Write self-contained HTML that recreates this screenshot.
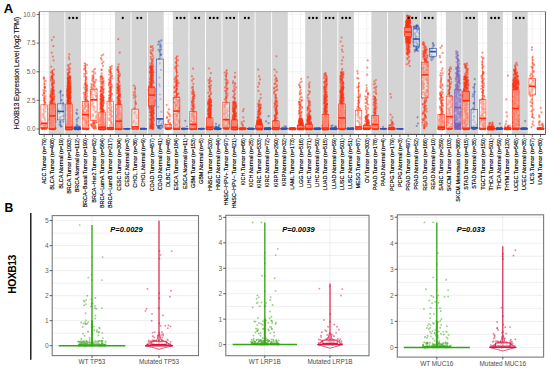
<!DOCTYPE html><html><head><meta charset="utf-8"><style>html,body{margin:0;padding:0;background:#fff}svg{display:block}</style></head><body>
<svg width="550" height="371" viewBox="0 0 550 371" font-family="Liberation Sans, sans-serif">
<rect width="550" height="371" fill="#fff"/>
<rect x="39.2" y="11.6" width="506.30" height="122.80" fill="#fff"/>
<path d="M39.2 114.69H545.5M39.2 86.06H545.5M39.2 57.44H545.5M39.2 28.81H545.5" stroke="#f4f4f4" stroke-width="0.6" fill="none"/>
<path d="M39.2 129.00H545.5M39.2 100.38H545.5M39.2 71.75H545.5M39.2 43.12H545.5M39.2 14.50H545.5M44.16 11.6V134.4M52.44 11.6V134.4M60.71 11.6V134.4M68.98 11.6V134.4M77.26 11.6V134.4M85.53 11.6V134.4M93.80 11.6V134.4M102.07 11.6V134.4M110.35 11.6V134.4M118.62 11.6V134.4M126.89 11.6V134.4M135.17 11.6V134.4M143.44 11.6V134.4M151.71 11.6V134.4M159.98 11.6V134.4M168.26 11.6V134.4M176.53 11.6V134.4M184.80 11.6V134.4M193.08 11.6V134.4M201.35 11.6V134.4M209.62 11.6V134.4M217.89 11.6V134.4M226.17 11.6V134.4M234.44 11.6V134.4M242.71 11.6V134.4M250.99 11.6V134.4M259.26 11.6V134.4M267.53 11.6V134.4M275.80 11.6V134.4M284.08 11.6V134.4M292.35 11.6V134.4M300.62 11.6V134.4M308.90 11.6V134.4M317.17 11.6V134.4M325.44 11.6V134.4M333.71 11.6V134.4M341.99 11.6V134.4M350.26 11.6V134.4M358.53 11.6V134.4M366.81 11.6V134.4M375.08 11.6V134.4M383.35 11.6V134.4M391.62 11.6V134.4M399.90 11.6V134.4M408.17 11.6V134.4M416.44 11.6V134.4M424.72 11.6V134.4M432.99 11.6V134.4M441.26 11.6V134.4M449.53 11.6V134.4M457.81 11.6V134.4M466.08 11.6V134.4M474.35 11.6V134.4M482.63 11.6V134.4M490.90 11.6V134.4M499.17 11.6V134.4M507.44 11.6V134.4M515.72 11.6V134.4M523.99 11.6V134.4M532.26 11.6V134.4M540.54 11.6V134.4" stroke="#eeeeee" stroke-width="0.7" fill="none"/>
<path d="M48.75 11.6H64.40V134.4H48.75ZM65.30 11.6H80.94V134.4H65.30ZM114.93 11.6H130.58V134.4H114.93ZM131.48 11.6H147.12V134.4H131.48ZM148.02 11.6H163.67V134.4H148.02ZM172.84 11.6H188.49V134.4H172.84ZM189.39 11.6H205.03V134.4H189.39ZM205.93 11.6H221.58V134.4H205.93ZM222.48 11.6H238.13V134.4H222.48ZM239.03 11.6H254.67V134.4H239.03ZM255.57 11.6H271.22V134.4H255.57ZM272.12 11.6H287.76V134.4H272.12ZM305.21 11.6H320.86V134.4H305.21ZM321.76 11.6H337.40V134.4H321.76ZM338.30 11.6H353.95V134.4H338.30ZM371.39 11.6H387.04V134.4H371.39ZM387.94 11.6H403.58V134.4H387.94ZM404.48 11.6H420.13V134.4H404.48ZM421.03 11.6H436.68V134.4H421.03ZM445.85 11.6H461.49V134.4H445.85ZM462.39 11.6H478.04V134.4H462.39ZM487.21 11.6H502.86V134.4H487.21ZM512.03 11.6H527.68V134.4H512.03Z" fill="#d4d4d4"/>
<path d="M44.6 128.5h0M44.6 83.9h0M43.3 125.3h0M45.4 98.6h0M41.9 121.1h0M43.6 128.5h0M43.7 123.2h0M45.7 125.0h0M45.7 80.9h0M42.4 128.6h0M46.3 128.3h0M43.7 115.1h0M43.4 109.3h0M43.7 113.4h0" stroke="#ff2c0c" stroke-opacity="0.5" stroke-width="2.2" stroke-linecap="round" fill="none"/>
<path d="M42.1 124.8h0M41.5 128.6h0M42.1 128.8h0M45.1 88.1h0M46.9 127.3h0M45.0 117.3h0M43.1 115.5h0M45.6 91.1h0M43.9 97.7h0M44.2 105.4h0M45.1 127.4h0M45.3 119.3h0M44.2 104.7h0" stroke="#ff2c0c" stroke-opacity="0.5" stroke-width="2.2" stroke-linecap="round" fill="none"/>
<path d="M43.7 127.3h0M44.4 111.5h0M45.9 124.0h0M44.5 129.1h0M44.4 101.0h0M43.4 90.3h0M42.0 127.9h0M45.6 108.8h0M44.0 128.3h0M43.4 128.1h0M42.7 128.3h0M44.0 107.4h0M45.6 127.8h0" stroke="#ff2c0c" stroke-opacity="0.5" stroke-width="2.2" stroke-linecap="round" fill="none"/>
<path d="M42.2 123.1h0M45.5 96.2h0M43.1 127.9h0M41.4 128.0h0M44.4 128.2h0M44.7 125.7h0M41.4 127.9h0M44.9 102.2h0M42.8 95.0h0M43.1 113.9h0M45.6 111.8h0M44.7 120.7h0M43.9 93.1h0" stroke="#ff2c0c" stroke-opacity="0.5" stroke-width="2.2" stroke-linecap="round" fill="none"/>
<path d="M43.8 77.4h0M46.5 124.8h0M43.2 117.2h0M46.3 126.5h0M42.3 129.0h0M43.3 126.5h0M46.7 124.1h0M43.6 110.3h0M46.6 128.7h0M45.8 122.8h0M44.7 87.3h0M44.3 127.1h0M44.2 118.6h0" stroke="#ff2c0c" stroke-opacity="0.5" stroke-width="2.2" stroke-linecap="round" fill="none"/>
<path d="M45.0 128.7h0M45.4 103.1h0M43.6 78.6h0M44.2 92.8h0M45.7 106.6h0M46.4 128.4h0M45.2 125.5h0M43.9 100.0h0M44.3 125.2h0M44.9 86.8h0M45.6 123.8h0M41.3 124.3h0M43.4 128.5h0" stroke="#ff2c0c" stroke-opacity="0.5" stroke-width="2.2" stroke-linecap="round" fill="none"/>
<path d="M44.16 104.87V77.33M44.16 127.77V128.96" stroke="#ff2c0c" stroke-width="0.6"/>
<rect x="40.86" y="104.87" width="6.6" height="22.90" fill="#fff" fill-opacity="0.38" stroke="#ff2c0c" stroke-width="0.6"/>
<path d="M40.86 123.36h6.6" stroke="#ff2c0c" stroke-width="1.6"/>
<path d="M55.0 127.1h0M50.5 128.9h0M50.6 96.5h0M51.7 129.1h0M51.0 128.5h0M51.8 106.0h0M53.9 128.4h0M52.3 85.7h0M52.5 103.5h0M49.8 128.4h0M50.5 117.4h0M53.5 129.1h0M52.9 129.1h0M51.2 100.5h0M50.8 97.3h0M49.7 128.8h0M54.8 128.5h0M51.8 52.6h0M52.3 128.8h0M51.2 128.5h0M52.3 99.3h0M50.9 80.8h0M53.8 128.4h0M52.5 112.3h0M49.7 128.3h0M50.5 111.0h0M51.0 118.8h0M52.0 76.3h0M52.7 108.5h0M49.8 118.2h0M51.9 110.5h0M50.8 128.9h0M51.9 129.1h0M53.5 110.0h0M55.2 128.5h0M53.6 119.3h0M51.1 125.2h0M50.7 114.3h0M51.5 128.7h0M51.0 122.2h0M53.4 128.7h0M53.8 82.4h0M49.6 128.7h0M52.5 111.2h0M54.8 119.2h0M53.4 125.2h0M53.2 124.0h0M50.4 110.8h0M50.3 128.9h0M50.5 128.9h0M50.2 112.2h0M54.1 128.0h0M52.9 123.4h0M54.6 108.0h0M50.4 128.5h0M52.2 90.1h0M51.4 118.2h0M53.3 46.2h0M50.4 128.5h0M50.8 113.2h0M52.2 128.7h0M53.1 129.0h0M50.2 117.7h0M53.1 99.9h0M52.6 77.5h0M49.7 123.2h0M53.3 108.9h0M51.7 84.6h0" stroke="#ff2c0c" stroke-opacity="0.5" stroke-width="2.2" stroke-linecap="round" fill="none"/>
<path d="M54.3 128.3h0M53.3 108.3h0M52.8 110.3h0M54.6 115.4h0M52.6 121.0h0M53.9 124.0h0M51.3 129.0h0M51.1 129.0h0M50.3 128.4h0M50.4 128.8h0M54.0 98.5h0M54.5 129.1h0M50.5 128.7h0M52.2 92.7h0M51.2 112.6h0M50.7 108.2h0M50.1 128.4h0M54.1 99.6h0M51.3 124.8h0M50.0 122.4h0M53.1 97.4h0M51.7 124.7h0M49.8 120.4h0M51.5 117.0h0M53.0 104.4h0M52.7 72.9h0M51.5 128.7h0M50.7 122.3h0M51.2 121.7h0M50.2 129.0h0M53.0 106.6h0M51.8 108.6h0M53.9 128.8h0M50.2 123.8h0M54.1 128.6h0M51.9 123.2h0M53.9 105.2h0M51.0 104.2h0M52.0 98.2h0M53.1 122.6h0M50.9 124.8h0M54.9 111.1h0M54.2 129.0h0M53.6 94.2h0M54.0 106.4h0M54.0 107.0h0M51.7 98.8h0M51.4 128.8h0M51.3 128.6h0M49.8 120.9h0M49.8 119.4h0M52.7 93.6h0M53.9 124.9h0M51.5 119.8h0M52.5 115.7h0M51.9 127.8h0M50.7 121.8h0M55.0 128.2h0M51.6 128.7h0M50.3 126.2h0M52.7 91.4h0M54.3 110.9h0M52.9 128.6h0M52.9 111.8h0M53.6 87.0h0M50.2 118.4h0M53.6 123.9h0M54.5 113.0h0" stroke="#ff2c0c" stroke-opacity="0.5" stroke-width="2.2" stroke-linecap="round" fill="none"/>
<path d="M52.5 97.9h0M53.9 128.7h0M50.9 118.2h0M51.7 126.8h0M50.8 95.1h0M51.7 126.6h0M52.1 109.1h0M53.0 128.8h0M50.1 128.5h0M51.5 121.0h0M53.0 121.8h0M49.9 108.4h0M50.2 102.1h0M51.1 79.4h0M49.7 119.1h0M54.9 128.7h0M52.7 128.8h0M54.2 115.9h0M50.6 124.2h0M51.1 116.3h0M52.5 113.6h0M50.1 115.2h0M52.5 104.2h0M54.3 107.4h0M50.5 128.7h0M49.8 115.5h0M53.1 87.9h0M51.1 93.7h0M55.2 128.7h0M53.6 94.0h0M55.0 128.3h0M53.3 105.4h0M51.3 95.6h0M52.8 94.6h0M51.9 114.0h0M52.4 107.4h0M51.3 106.9h0M54.0 114.8h0M53.2 91.2h0M55.0 121.4h0M53.1 105.5h0M51.8 126.4h0M50.3 129.0h0M51.2 105.8h0M52.0 71.0h0M50.8 110.0h0M51.4 120.6h0M53.7 110.3h0M50.8 101.9h0M54.6 118.8h0M50.8 119.8h0M51.7 94.3h0M55.3 121.1h0M55.2 122.4h0M51.6 123.0h0M52.8 128.7h0M52.8 129.1h0M50.4 118.0h0M54.8 112.3h0M51.1 96.0h0M49.9 128.3h0M51.0 122.9h0M49.8 117.6h0M52.7 129.1h0M51.0 77.9h0M51.4 101.9h0M53.3 89.4h0M53.9 128.9h0" stroke="#ff2c0c" stroke-opacity="0.5" stroke-width="2.2" stroke-linecap="round" fill="none"/>
<path d="M50.3 105.7h0M52.2 90.2h0M54.9 128.8h0M53.6 128.8h0M54.9 115.8h0M54.4 105.2h0M53.9 126.8h0M51.1 127.6h0M54.4 113.6h0M51.9 126.5h0M51.8 40.1h0M50.1 128.7h0M52.5 113.1h0M52.8 79.6h0M51.6 90.9h0M52.5 87.6h0M54.2 109.9h0M50.1 109.1h0M54.6 112.8h0M52.8 125.4h0M49.6 120.4h0M52.1 82.9h0M53.2 123.7h0M54.4 114.4h0M54.1 114.8h0M52.7 129.1h0M50.0 119.6h0M54.2 95.9h0M51.2 66.7h0M54.2 125.6h0M54.9 128.2h0M53.9 128.9h0M55.0 114.4h0M54.6 106.7h0M51.4 89.0h0M52.3 126.5h0M49.7 113.4h0M55.0 118.8h0M51.9 128.5h0M49.9 129.0h0M50.9 105.0h0M52.5 108.6h0M50.5 128.9h0M51.9 83.7h0M51.9 73.2h0M53.0 123.0h0M54.8 128.4h0M51.5 103.5h0M50.3 128.3h0M50.3 128.5h0M53.1 116.1h0M51.5 117.1h0M52.0 100.2h0M50.5 96.1h0M50.0 112.0h0M53.8 128.7h0M50.9 72.4h0M54.9 107.8h0M52.3 109.5h0M51.0 114.2h0M53.6 120.8h0M51.5 128.4h0M53.6 113.1h0M54.3 104.5h0M50.8 102.4h0M51.0 128.9h0M49.8 109.8h0M54.8 105.3h0" stroke="#ff2c0c" stroke-opacity="0.5" stroke-width="2.2" stroke-linecap="round" fill="none"/>
<path d="M53.8 102.6h0M53.9 69.7h0M54.1 116.7h0M51.3 107.5h0M52.3 107.4h0M50.4 122.5h0M52.1 129.0h0M52.6 93.3h0M53.2 118.4h0M53.2 115.4h0M51.5 100.0h0M50.1 109.3h0M53.7 128.5h0M51.9 128.8h0M50.0 120.0h0M54.4 96.8h0M51.0 94.3h0M55.0 109.7h0M50.2 116.7h0M51.2 128.4h0M54.1 90.4h0M50.4 105.3h0M54.6 128.8h0M53.8 83.8h0M52.2 128.9h0M52.1 128.8h0M53.5 128.1h0M53.2 90.5h0M50.3 128.6h0M50.9 125.0h0M52.8 128.7h0M52.1 111.4h0M55.3 121.5h0M54.6 117.4h0M50.7 129.0h0M52.6 128.5h0M50.2 106.3h0M51.1 91.6h0M52.6 106.3h0M52.7 120.2h0M50.0 111.5h0M51.4 77.0h0M55.3 127.9h0M50.2 128.8h0M54.2 104.6h0M51.4 124.2h0M54.0 97.6h0M52.7 116.3h0M51.6 106.9h0M52.1 119.2h0M52.9 56.6h0M52.3 94.8h0M55.3 128.3h0M52.6 109.1h0M54.4 102.4h0M50.9 109.9h0M53.8 74.5h0M52.0 92.0h0M51.1 101.5h0M55.0 127.4h0M54.9 111.4h0M54.7 105.1h0M52.5 128.9h0M54.7 128.0h0M53.7 37.1h0M51.4 112.6h0M52.2 114.5h0M51.4 99.4h0" stroke="#ff2c0c" stroke-opacity="0.5" stroke-width="2.2" stroke-linecap="round" fill="none"/>
<path d="M52.1 101.3h0M55.1 111.7h0M54.2 128.8h0M54.7 128.6h0M52.5 92.4h0M53.3 98.8h0M50.7 129.0h0M53.0 128.7h0M51.4 113.5h0M54.0 80.3h0M49.8 128.6h0M52.4 129.2h0M50.8 119.0h0M51.1 108.9h0M54.3 128.7h0M51.0 97.3h0M51.7 105.8h0M52.0 125.9h0M50.7 102.8h0M52.8 128.6h0M53.9 125.6h0M50.3 116.5h0M54.7 104.7h0M54.3 129.2h0M49.9 126.1h0M53.6 60.4h0M53.1 110.2h0M51.4 108.3h0M53.1 128.6h0M53.9 81.9h0M52.9 116.1h0M52.1 113.3h0M53.4 116.7h0M53.4 91.2h0M51.8 75.9h0M53.6 122.4h0M51.3 123.8h0M53.8 92.3h0M52.4 128.7h0M52.1 126.3h0M53.2 117.7h0M50.7 103.3h0M52.9 88.3h0M52.1 100.5h0M52.2 127.6h0M51.0 104.4h0M51.7 96.8h0M53.0 120.9h0M53.1 83.0h0M52.8 75.3h0M53.5 75.1h0M54.9 128.4h0M52.9 92.8h0M49.9 114.4h0M50.4 114.9h0M51.6 128.5h0M55.0 127.1h0M52.5 111.6h0M52.3 128.8h0M53.6 106.7h0M53.5 115.1h0M53.8 128.3h0M52.2 128.8h0M53.3 128.7h0M52.3 85.6h0M52.4 78.5h0M51.0 128.8h0M52.8 101.2h0" stroke="#ff2c0c" stroke-opacity="0.5" stroke-width="2.2" stroke-linecap="round" fill="none"/>
<path d="M52.44 104.08V69.60M52.44 128.37V129.00" stroke="#ff2c0c" stroke-width="0.6"/>
<rect x="49.14" y="104.08" width="6.6" height="24.28" fill="#fff" fill-opacity="0.38" stroke="#ff2c0c" stroke-width="0.6"/>
<path d="M49.14 115.94h6.6" stroke="#ff2c0c" stroke-width="1.6"/>
<path d="M60.8 90.8h0M62.5 106.2h0M63.3 115.8h0M58.5 109.6h0" stroke="#2c52b0" stroke-opacity="0.5" stroke-width="2.2" stroke-linecap="round" fill="none"/>
<path d="M63.4 121.7h0M59.5 113.1h0M62.5 111.6h0" stroke="#2c52b0" stroke-opacity="0.5" stroke-width="2.2" stroke-linecap="round" fill="none"/>
<path d="M60.7 126.3h0M61.7 100.2h0M59.5 124.7h0" stroke="#2c52b0" stroke-opacity="0.5" stroke-width="2.2" stroke-linecap="round" fill="none"/>
<path d="M62.1 108.4h0M62.6 104.8h0M61.7 126.5h0" stroke="#2c52b0" stroke-opacity="0.5" stroke-width="2.2" stroke-linecap="round" fill="none"/>
<path d="M59.8 122.2h0M59.8 92.4h0M63.2 103.1h0" stroke="#2c52b0" stroke-opacity="0.5" stroke-width="2.2" stroke-linecap="round" fill="none"/>
<path d="M59.8 117.9h0M61.2 116.8h0M62.8 95.3h0" stroke="#2c52b0" stroke-opacity="0.5" stroke-width="2.2" stroke-linecap="round" fill="none"/>
<path d="M60.71 103.85V90.82M60.71 119.88V126.62" stroke="#2c52b0" stroke-width="0.6"/>
<rect x="57.41" y="103.85" width="6.6" height="16.04" fill="#fff" fill-opacity="0.38" stroke="#2c52b0" stroke-width="0.6"/>
<path d="M57.41 111.38h6.6" stroke="#2c52b0" stroke-width="1.6"/>
<path d="M70.2 128.8h0M69.7 128.7h0M66.7 128.9h0M70.4 111.8h0M68.5 124.2h0M71.6 129.1h0M66.7 129.1h0M68.4 119.2h0M69.7 129.0h0M70.5 128.9h0M68.4 122.5h0M70.4 109.4h0M68.5 90.5h0M66.2 129.0h0M68.2 115.2h0M68.4 80.4h0M70.7 127.6h0M68.9 100.4h0M67.1 129.0h0M70.1 128.9h0M71.2 128.7h0M69.2 82.7h0M68.6 128.8h0M69.5 124.5h0M67.6 102.6h0M70.9 128.8h0M67.6 92.0h0M68.4 92.5h0M69.9 105.5h0M68.7 119.0h0M69.2 127.7h0M69.5 117.5h0M68.3 127.8h0M70.3 87.2h0M70.2 89.4h0M70.8 127.7h0M67.3 129.1h0M68.6 128.3h0M70.9 127.5h0M71.7 128.7h0M68.2 83.0h0M69.0 128.8h0M67.0 126.5h0M70.4 103.7h0M69.7 95.2h0M67.8 74.5h0M68.1 78.0h0M67.9 97.4h0M67.7 106.6h0M67.7 122.2h0M68.6 128.0h0M67.6 128.9h0M70.3 87.5h0M67.5 120.4h0M71.7 128.7h0M69.6 127.9h0M68.9 92.6h0M70.2 128.8h0M69.5 93.7h0M66.5 127.5h0M68.7 107.6h0M67.6 128.8h0M69.3 128.6h0M71.2 129.0h0M66.1 128.6h0M67.6 97.1h0M66.9 127.4h0M67.9 129.0h0M68.0 89.6h0M71.1 128.9h0M67.6 107.9h0M69.7 127.5h0M70.4 129.0h0M70.2 129.2h0M66.1 127.7h0M69.5 89.0h0M68.2 128.0h0M69.6 106.6h0M69.7 88.0h0M71.2 128.8h0M71.8 127.9h0M69.6 103.0h0M68.7 104.5h0M69.4 96.9h0M68.6 78.8h0M71.0 128.5h0M69.8 116.0h0M69.4 88.6h0M69.1 95.7h0M71.4 128.4h0M71.2 128.6h0M70.4 127.9h0M70.3 114.1h0M67.3 128.7h0M67.1 128.4h0M70.3 128.7h0M67.3 127.4h0M67.7 128.9h0M68.8 104.7h0M70.4 113.4h0M66.7 127.9h0M67.9 128.7h0M67.6 93.6h0M67.9 100.4h0M70.4 109.7h0M68.4 128.7h0M67.4 91.6h0M69.1 110.6h0M70.4 128.8h0M67.5 128.7h0M68.7 111.9h0M69.8 86.9h0M67.8 127.7h0M66.2 127.9h0M67.8 91.5h0M69.6 128.5h0M66.7 126.9h0M68.9 127.5h0M69.2 127.4h0M68.3 128.8h0M68.5 90.2h0M68.0 128.8h0M69.8 128.7h0M70.2 89.6h0M71.6 127.9h0M67.1 128.3h0M69.4 113.4h0M66.8 127.5h0M69.4 115.2h0M70.0 110.3h0M70.0 112.2h0M68.2 129.1h0M68.2 93.7h0M68.2 90.4h0M67.8 128.9h0M69.3 104.9h0M69.2 106.1h0M68.0 102.4h0M68.5 128.6h0M71.2 129.1h0M67.2 128.8h0M70.8 128.2h0M69.5 82.5h0M68.5 128.3h0M70.7 127.8h0M69.0 129.1h0M69.2 93.1h0M70.5 117.3h0M66.1 129.0h0M67.5 91.5h0M68.4 129.0h0M67.7 102.0h0M68.2 128.7h0M66.5 128.8h0M67.2 124.9h0M70.2 128.7h0M68.0 106.0h0M67.2 129.2h0M69.5 111.6h0M70.8 128.8h0M70.3 128.0h0M68.5 101.3h0M68.3 87.6h0M66.7 128.6h0M69.9 128.7h0M67.7 128.6h0M71.6 126.0h0M70.1 122.2h0M69.5 120.8h0M70.6 121.4h0M67.5 94.9h0M69.8 77.8h0M68.5 98.7h0M70.0 111.6h0M68.6 116.8h0M69.0 109.9h0M69.1 81.1h0M69.5 128.6h0M69.3 120.2h0M69.4 93.1h0M70.9 128.7h0M67.5 126.3h0M70.8 128.8h0" stroke="#ff2c0c" stroke-opacity="0.5" stroke-width="2.2" stroke-linecap="round" fill="none"/>
<path d="M71.4 128.9h0M70.8 127.6h0M70.7 128.5h0M69.7 128.7h0M68.9 128.9h0M68.5 101.3h0M71.7 128.8h0M68.8 96.0h0M69.1 86.1h0M71.9 128.8h0M67.7 100.4h0M69.0 127.6h0M70.3 129.0h0M68.9 65.0h0M66.6 128.5h0M67.8 128.7h0M67.9 79.1h0M67.6 119.4h0M70.7 128.1h0M66.3 128.9h0M68.9 129.1h0M69.2 92.5h0M68.3 129.1h0M70.1 127.8h0M70.8 128.9h0M67.7 120.5h0M69.3 94.6h0M70.5 116.3h0M67.1 126.1h0M69.2 127.4h0M66.6 125.0h0M66.4 129.1h0M66.8 128.8h0M70.7 122.0h0M67.6 96.5h0M71.1 128.6h0M70.0 77.2h0M68.8 128.7h0M68.0 84.1h0M68.7 102.1h0M69.8 129.1h0M67.5 128.3h0M69.9 124.4h0M71.3 129.0h0M68.1 127.0h0M68.4 73.1h0M70.1 127.7h0M67.8 128.3h0M68.3 127.9h0M70.2 118.3h0M69.6 89.0h0M68.5 113.3h0M68.3 117.0h0M70.7 128.8h0M69.5 99.6h0M68.6 122.7h0M67.2 128.5h0M67.6 92.2h0M70.3 127.8h0M67.7 107.8h0M67.4 128.7h0M68.5 96.4h0M67.4 128.7h0M69.8 128.6h0M68.2 103.1h0M67.6 109.1h0M70.1 128.8h0M70.7 127.9h0M68.8 120.1h0M69.7 129.0h0M69.1 113.4h0M67.4 129.0h0M68.9 128.9h0M66.6 128.0h0M66.3 128.6h0M70.4 85.3h0M66.9 126.3h0M71.4 129.2h0M69.3 89.6h0M67.6 115.0h0M71.5 127.5h0M68.9 92.8h0M69.5 127.6h0M68.1 104.2h0M68.5 81.3h0M70.5 128.9h0M66.5 129.2h0M69.4 118.3h0M69.2 85.2h0M66.7 124.4h0M67.4 91.0h0M67.9 94.5h0M69.0 99.7h0M68.6 118.7h0M68.3 110.2h0M68.8 128.7h0M67.4 121.5h0M67.8 124.4h0M70.2 91.3h0M70.1 128.1h0M67.5 128.8h0M66.1 128.7h0M69.2 128.2h0M71.5 127.4h0M69.5 109.1h0M68.4 127.8h0M69.2 91.4h0M69.2 128.7h0M71.6 127.5h0M67.7 128.9h0M68.5 88.2h0M70.0 128.1h0M71.2 128.6h0M71.1 128.1h0M66.6 128.1h0M68.0 123.7h0M70.7 128.2h0M68.4 114.5h0M69.5 98.7h0M68.2 78.4h0M66.6 124.7h0M67.3 129.0h0M71.4 125.4h0M67.4 128.7h0M69.0 95.5h0M67.9 82.7h0M70.2 82.9h0M68.3 86.9h0M68.4 128.4h0M70.2 127.4h0M68.0 88.4h0M66.6 128.4h0M71.4 126.1h0M69.9 128.0h0M67.8 108.9h0M69.0 89.1h0M69.8 128.5h0M68.7 122.4h0M70.2 100.8h0M68.9 102.0h0M69.2 128.9h0M69.9 129.3h0M69.5 96.8h0M66.8 128.7h0M69.1 127.6h0M69.4 129.0h0M69.9 116.9h0M68.0 108.8h0M67.3 129.0h0M70.7 128.6h0M66.6 128.0h0M71.2 128.9h0M69.1 127.9h0M69.2 128.8h0M70.6 105.4h0M68.9 128.8h0M70.2 92.3h0M70.2 111.5h0M69.1 128.8h0M67.6 129.2h0M70.4 121.5h0M68.0 96.0h0M71.7 126.7h0M69.6 129.2h0M71.3 127.6h0M69.3 127.7h0M69.7 120.8h0M66.6 129.0h0M71.3 128.7h0M66.4 127.7h0M68.0 95.6h0M70.5 127.6h0M68.1 127.4h0M67.4 108.0h0M68.0 115.8h0M71.8 127.7h0M67.6 127.4h0M67.7 86.3h0M70.6 120.9h0M70.0 99.2h0M67.6 110.1h0M68.3 121.8h0" stroke="#ff2c0c" stroke-opacity="0.5" stroke-width="2.2" stroke-linecap="round" fill="none"/>
<path d="M68.8 100.1h0M69.5 119.4h0M67.3 128.8h0M68.8 128.3h0M68.9 57.4h0M67.9 128.5h0M71.8 127.5h0M71.1 128.8h0M66.9 127.3h0M68.8 128.9h0M70.5 127.5h0M66.1 128.8h0M67.4 90.8h0M70.5 117.8h0M66.9 128.8h0M68.6 128.8h0M68.5 129.0h0M70.1 116.4h0M66.1 128.5h0M68.5 127.0h0M67.8 72.9h0M69.6 107.1h0M70.7 121.4h0M68.9 99.4h0M68.5 128.6h0M71.2 128.0h0M68.5 128.7h0M69.5 98.3h0M70.8 129.0h0M67.4 128.7h0M66.3 127.5h0M67.9 120.4h0M71.7 128.7h0M67.7 107.0h0M70.0 92.9h0M66.9 128.0h0M70.7 128.9h0M69.1 97.9h0M67.5 108.2h0M68.5 110.2h0M69.2 116.2h0M69.3 129.1h0M67.4 128.9h0M69.7 80.0h0M69.5 128.7h0M67.1 127.7h0M69.4 109.5h0M69.2 84.3h0M68.9 99.1h0M66.3 129.1h0M68.1 128.7h0M71.8 127.7h0M69.0 104.2h0M67.5 128.8h0M69.4 129.2h0M70.1 105.7h0M67.7 100.7h0M71.2 128.8h0M67.7 111.9h0M68.9 128.4h0M71.9 128.6h0M67.5 127.6h0M66.9 127.5h0M68.8 128.3h0M68.6 88.5h0M66.7 127.9h0M69.3 127.4h0M68.9 100.7h0M69.4 113.0h0M68.9 108.6h0M70.2 127.4h0M71.6 128.7h0M71.4 127.8h0M68.1 97.9h0M71.8 128.8h0M67.3 128.4h0M71.4 128.0h0M71.4 127.6h0M70.0 128.8h0M66.3 128.7h0M70.0 115.3h0M68.4 128.3h0M68.5 98.6h0M67.3 127.6h0M68.6 128.4h0M68.5 128.2h0M68.1 127.7h0M70.0 86.2h0M67.8 114.2h0M70.0 129.0h0M69.7 128.8h0M67.2 128.6h0M69.2 127.8h0M68.1 85.8h0M69.7 98.0h0M66.2 127.5h0M66.4 128.6h0M70.0 127.9h0M68.9 123.2h0M68.3 127.5h0M69.4 128.0h0M70.5 127.4h0M70.2 127.5h0M67.5 102.7h0M68.1 78.7h0M71.2 128.8h0M67.9 125.2h0M68.5 128.6h0M70.3 84.7h0M70.2 101.8h0M69.9 91.8h0M69.3 54.4h0M67.0 128.5h0M68.7 114.8h0M67.3 128.1h0M70.2 116.5h0M68.4 94.2h0M66.3 128.7h0M70.0 117.2h0M67.2 123.2h0M69.3 128.5h0M69.1 123.7h0M69.1 128.1h0M68.8 108.3h0M70.4 103.2h0M70.9 128.6h0M67.8 128.7h0M70.3 107.5h0M70.4 88.8h0M67.5 127.3h0M69.3 59.3h0M70.7 128.7h0M69.8 110.8h0M68.3 117.1h0M68.6 97.9h0M68.9 129.0h0M69.5 128.9h0M67.6 128.9h0M71.6 128.0h0M69.5 127.6h0M71.7 127.9h0M71.4 128.2h0M70.4 128.0h0M68.8 128.1h0M70.1 118.8h0M67.7 88.2h0M68.5 113.1h0M68.4 127.7h0M68.7 129.1h0M71.0 127.7h0M68.3 106.2h0M69.8 106.6h0M66.2 129.1h0M71.3 128.8h0M68.4 107.0h0M71.6 128.1h0M69.1 97.0h0M67.3 128.9h0M69.6 115.5h0M66.1 127.5h0M67.1 128.3h0M68.0 128.4h0M69.5 111.9h0M69.6 94.4h0M68.2 128.2h0M68.4 108.3h0M68.8 113.2h0M67.6 128.5h0M67.0 129.1h0M71.7 128.0h0M70.3 122.2h0M71.2 127.7h0M70.0 128.8h0M69.3 128.7h0M68.4 128.6h0M67.7 127.6h0M67.7 94.7h0M68.9 127.5h0M69.7 120.8h0M69.1 97.3h0M67.7 110.8h0M69.5 128.9h0" stroke="#ff2c0c" stroke-opacity="0.5" stroke-width="2.2" stroke-linecap="round" fill="none"/>
<path d="M68.0 81.6h0M70.4 128.2h0M68.5 90.8h0M69.6 128.6h0M70.0 95.8h0M69.1 82.2h0M68.4 100.3h0M67.1 127.6h0M68.0 106.2h0M67.9 105.5h0M67.3 129.2h0M71.3 127.7h0M70.0 115.5h0M66.3 128.0h0M66.6 127.0h0M68.0 113.4h0M70.4 104.5h0M70.2 129.0h0M70.5 129.0h0M67.5 113.8h0M68.3 76.5h0M68.6 128.7h0M69.3 121.4h0M70.6 128.4h0M68.5 127.5h0M66.7 127.5h0M70.4 126.9h0M71.8 128.7h0M71.4 128.9h0M68.9 95.1h0M70.5 115.4h0M66.1 127.7h0M68.8 109.3h0M68.0 93.5h0M68.0 129.0h0M68.9 118.1h0M67.9 103.2h0M71.3 127.8h0M68.5 114.6h0M70.3 128.9h0M68.2 114.2h0M70.1 127.9h0M67.3 126.6h0M68.8 128.6h0M69.4 86.9h0M69.6 90.3h0M70.1 107.2h0M70.3 128.6h0M68.9 106.3h0M70.1 127.9h0M70.3 123.6h0M67.6 128.6h0M70.3 128.6h0M68.8 112.7h0M70.1 129.0h0M67.8 65.6h0M67.7 89.5h0M69.2 113.6h0M69.0 111.1h0M70.2 128.5h0M70.6 108.1h0M68.1 124.3h0M68.2 128.7h0M68.7 112.7h0M67.4 93.7h0M66.4 129.0h0M70.3 103.6h0M70.6 120.1h0M71.6 128.8h0M70.5 92.5h0M69.5 128.4h0M70.3 122.1h0M69.9 114.5h0M68.3 128.7h0M68.2 128.9h0M68.7 90.9h0M68.8 128.7h0M68.2 105.1h0M70.2 103.8h0M66.7 128.8h0M69.3 119.0h0M67.9 118.7h0M67.6 95.1h0M68.0 99.8h0M69.6 127.5h0M67.1 127.5h0M70.3 106.9h0M69.3 76.9h0M67.9 115.4h0M66.2 128.5h0M71.3 128.4h0M66.9 128.7h0M68.1 101.5h0M68.5 103.5h0M67.7 115.8h0M67.1 128.9h0M66.6 128.0h0M67.1 128.4h0M67.6 114.9h0M68.1 128.2h0M68.7 106.1h0M71.4 128.6h0M67.5 128.7h0M68.1 128.9h0M67.7 128.8h0M70.0 128.9h0M70.4 129.1h0M69.5 94.1h0M68.4 127.2h0M69.7 127.8h0M69.2 102.3h0M66.6 128.3h0M67.7 127.6h0M66.4 128.8h0M68.4 80.9h0M68.2 96.4h0M67.7 128.8h0M68.9 115.8h0M70.4 82.9h0M69.3 67.7h0M67.0 128.8h0M66.1 129.0h0M70.9 127.4h0M70.0 103.8h0M68.2 99.3h0M71.3 128.6h0M68.3 112.5h0M67.6 128.6h0M67.5 69.7h0M68.1 110.7h0M68.8 67.1h0M69.0 127.7h0M67.9 90.5h0M67.8 128.8h0M67.2 128.7h0M67.0 129.0h0M68.2 128.8h0M67.9 128.1h0M68.0 123.1h0M71.3 127.3h0M68.0 86.7h0M68.4 128.9h0M69.5 102.7h0M69.2 98.7h0M71.7 128.5h0M68.1 89.6h0M69.9 128.8h0M70.9 125.6h0M71.2 127.7h0M67.9 104.7h0M67.4 128.8h0M69.1 92.9h0M67.9 128.9h0M69.5 91.4h0M67.8 127.3h0M70.5 97.4h0M69.8 101.7h0M69.0 125.3h0M68.1 128.4h0M70.2 68.7h0M68.7 101.9h0M69.3 94.1h0M71.5 128.9h0M69.7 103.2h0M71.0 126.9h0M67.9 83.6h0M71.4 127.9h0M68.0 75.2h0M67.8 97.0h0M69.0 112.6h0M68.8 90.8h0M68.3 114.5h0M71.6 129.1h0M67.8 114.3h0M69.4 129.1h0M71.6 128.5h0M70.0 98.6h0M71.0 127.9h0M68.2 122.9h0M68.2 77.5h0M68.9 128.3h0M70.9 128.7h0" stroke="#ff2c0c" stroke-opacity="0.5" stroke-width="2.2" stroke-linecap="round" fill="none"/>
<path d="M70.1 95.4h0M69.7 127.8h0M68.6 112.9h0M71.1 124.3h0M68.2 128.6h0M71.7 127.4h0M67.8 110.6h0M70.5 127.9h0M69.2 117.1h0M70.0 93.1h0M67.5 128.8h0M68.6 106.4h0M68.4 129.0h0M68.7 128.6h0M69.0 83.2h0M69.8 129.0h0M71.4 128.6h0M68.0 101.1h0M69.6 99.8h0M70.8 128.9h0M69.2 114.0h0M71.7 128.5h0M71.1 128.3h0M68.7 111.3h0M68.2 84.1h0M71.1 127.2h0M68.3 129.2h0M68.7 99.6h0M67.8 128.3h0M67.5 127.4h0M71.7 128.0h0M68.3 109.0h0M67.7 125.3h0M69.3 104.4h0M67.4 126.0h0M67.6 127.6h0M68.5 109.3h0M71.6 128.4h0M68.4 118.8h0M68.9 128.4h0M70.8 127.3h0M70.6 110.6h0M68.6 129.1h0M68.6 97.8h0M70.9 129.0h0M67.8 116.9h0M70.3 102.8h0M68.3 128.7h0M68.4 117.7h0M71.3 128.7h0M71.0 127.5h0M68.5 78.2h0M66.8 129.1h0M68.6 129.0h0M68.5 107.3h0M69.8 127.6h0M66.8 128.9h0M70.9 128.8h0M69.9 128.2h0M67.9 79.4h0M70.6 128.6h0M68.7 129.2h0M71.2 129.2h0M70.5 87.7h0M66.8 125.4h0M71.7 129.0h0M67.4 89.6h0M67.9 128.2h0M69.5 129.0h0M69.6 128.8h0M71.4 128.6h0M69.1 76.1h0M69.2 102.0h0M68.0 128.9h0M69.1 129.0h0M68.2 128.2h0M68.8 108.9h0M68.9 79.8h0M68.4 99.8h0M70.5 90.2h0M69.4 128.3h0M66.6 129.0h0M71.5 128.7h0M70.5 102.9h0M70.6 129.0h0M69.0 101.7h0M69.2 70.5h0M67.7 127.6h0M67.9 128.8h0M68.5 127.1h0M66.3 128.6h0M69.1 119.4h0M67.4 105.3h0M67.5 97.2h0M69.9 98.8h0M70.5 76.7h0M68.5 83.7h0M69.8 128.0h0M68.3 129.2h0M68.4 88.6h0M70.5 128.6h0M66.1 128.6h0M69.1 128.8h0M69.8 101.7h0M69.2 117.7h0M69.2 128.7h0M66.1 127.8h0M70.9 128.0h0M66.3 129.0h0M68.5 101.0h0M68.1 122.1h0M70.4 91.9h0M69.6 102.7h0M69.3 114.8h0M68.5 128.7h0M67.3 128.8h0M68.6 129.0h0M68.6 128.8h0M70.2 128.6h0M68.2 128.9h0M67.2 127.5h0M68.0 128.3h0M67.1 128.9h0M67.1 128.8h0M68.2 120.3h0M66.9 128.1h0M71.3 126.2h0M67.7 77.9h0M67.8 123.8h0M70.3 125.4h0M70.1 78.4h0M68.6 84.2h0M69.8 118.5h0M69.9 126.8h0M69.0 93.1h0M68.8 110.4h0M68.2 100.1h0M69.1 100.9h0M67.5 96.7h0M70.6 129.0h0M68.9 128.7h0M67.5 128.7h0M69.7 128.7h0M68.0 125.6h0M70.4 97.4h0M68.0 119.7h0M67.9 129.0h0M69.1 94.5h0M70.2 89.3h0M67.6 88.4h0M71.4 128.7h0M71.4 129.1h0M69.3 112.5h0M70.0 128.7h0M69.0 127.8h0M68.1 99.1h0M69.0 129.0h0M70.8 128.3h0M69.5 128.8h0M70.5 128.1h0M67.2 128.3h0M71.4 127.8h0M68.2 127.2h0M69.2 77.7h0M70.0 128.7h0M66.3 127.9h0M70.2 76.3h0M70.4 120.2h0M67.7 129.1h0M69.3 109.8h0M70.0 129.0h0M67.1 128.2h0M68.9 106.5h0M68.5 109.8h0M70.6 114.7h0M69.6 80.3h0M68.5 124.7h0M70.1 111.6h0M69.9 128.9h0M70.3 105.6h0M67.7 85.2h0M68.6 119.8h0" stroke="#ff2c0c" stroke-opacity="0.5" stroke-width="2.2" stroke-linecap="round" fill="none"/>
<path d="M70.4 80.9h0M71.8 129.1h0M68.6 84.7h0M71.6 127.8h0M69.7 127.7h0M68.3 128.3h0M69.0 128.6h0M68.0 118.2h0M68.3 119.6h0M71.3 129.0h0M67.9 81.9h0M69.8 77.3h0M67.8 120.0h0M71.0 128.4h0M66.5 128.7h0M70.2 127.9h0M68.3 101.0h0M66.8 129.1h0M70.9 129.1h0M70.3 128.8h0M70.0 123.3h0M68.2 104.8h0M70.8 128.2h0M69.2 116.4h0M70.1 98.9h0M69.8 127.9h0M69.6 128.7h0M68.4 80.5h0M67.9 95.7h0M68.2 123.6h0M68.3 128.3h0M69.9 119.7h0M70.5 111.1h0M69.5 116.3h0M68.3 88.0h0M68.9 122.3h0M69.4 127.9h0M69.9 128.8h0M68.7 128.2h0M68.3 128.6h0M67.4 126.4h0M68.1 81.3h0M69.7 79.4h0M70.2 86.4h0M69.3 80.8h0M68.9 128.1h0M69.1 128.0h0M69.0 92.5h0M69.6 103.8h0M68.2 98.5h0M69.2 91.1h0M67.8 111.2h0M68.1 128.7h0M67.4 128.1h0M68.3 113.9h0M68.4 124.2h0M66.7 128.8h0M68.0 122.6h0M71.0 129.0h0M68.8 128.9h0M69.5 128.9h0M67.7 89.6h0M66.6 129.1h0M67.2 124.5h0M67.7 109.7h0M66.1 129.1h0M70.6 127.3h0M68.2 123.7h0M66.8 128.5h0M69.7 104.9h0M69.0 105.0h0M70.3 128.8h0M66.7 129.0h0M69.1 95.4h0M69.6 127.2h0M70.5 128.9h0M68.8 121.3h0M68.4 81.5h0M69.3 97.9h0M69.7 106.5h0M68.5 108.6h0M70.0 81.2h0M70.6 127.9h0M71.4 127.3h0M69.8 72.2h0M66.8 127.5h0M67.5 128.8h0M69.4 118.2h0M69.5 96.4h0M67.5 95.2h0M68.0 102.4h0M67.0 129.0h0M68.8 107.2h0M71.3 129.1h0M70.3 63.8h0M71.7 129.0h0M67.3 128.7h0M67.7 109.3h0M69.2 91.6h0M71.2 128.3h0M67.7 93.6h0M69.2 128.7h0M70.1 78.8h0M68.3 127.7h0M69.4 121.7h0M70.4 127.5h0M71.8 129.1h0M68.6 128.7h0M69.2 127.5h0M69.9 116.3h0M68.0 128.1h0M70.3 128.1h0M67.1 129.1h0M68.4 104.0h0M67.9 122.2h0M66.1 128.8h0M68.0 117.7h0M69.0 129.1h0M70.2 128.8h0M68.5 90.6h0M69.7 128.6h0M70.4 122.7h0M69.8 85.8h0M66.9 129.0h0M70.4 127.9h0M67.9 128.8h0M71.3 128.2h0M68.0 128.6h0M68.3 112.5h0M68.6 117.5h0M69.3 128.4h0M70.8 128.8h0M69.7 112.3h0M69.6 120.6h0M68.7 105.6h0M69.5 114.2h0M68.5 112.1h0M67.8 97.8h0M66.2 127.5h0M70.3 128.1h0M68.6 128.5h0M70.9 127.7h0M68.3 83.6h0M69.7 84.8h0M68.2 91.1h0M68.3 94.3h0M68.7 112.5h0M70.1 94.8h0M68.3 128.6h0M70.4 128.8h0M69.6 108.4h0M67.5 91.8h0M67.0 129.0h0M70.5 128.9h0M70.5 117.9h0M68.4 88.8h0M68.2 128.1h0M71.1 127.8h0M71.0 128.8h0M69.7 128.1h0M70.1 118.9h0M67.9 100.0h0M71.4 128.7h0M68.4 108.6h0M69.7 128.9h0M69.7 127.4h0M68.3 110.5h0M68.5 99.2h0M69.3 88.2h0M67.7 86.2h0M69.3 105.0h0M68.2 94.0h0M68.0 128.1h0M68.3 96.1h0M68.0 121.5h0M69.3 95.2h0M70.6 127.6h0M69.5 128.8h0M70.0 117.8h0M67.7 119.5h0M66.3 129.0h0M70.3 107.9h0" stroke="#ff2c0c" stroke-opacity="0.5" stroke-width="2.2" stroke-linecap="round" fill="none"/>
<path d="M68.98 104.06V67.34M68.98 128.77V129.00" stroke="#ff2c0c" stroke-width="0.6"/>
<rect x="65.68" y="104.06" width="6.6" height="24.71" fill="#fff" fill-opacity="0.38" stroke="#ff2c0c" stroke-width="0.6"/>
<path d="M65.68 127.25h6.6" stroke="#ff2c0c" stroke-width="1.6"/>
<path d="M78.8 129.1h0M76.4 129.1h0M79.9 127.9h0M74.5 127.2h0M78.0 129.1h0M77.1 114.1h0M75.8 129.2h0M75.1 128.7h0M78.2 128.7h0M79.3 128.6h0M77.6 128.8h0M78.6 128.6h0M75.2 128.7h0M77.0 109.8h0M76.4 128.7h0M78.2 128.9h0M79.4 127.6h0M76.1 128.1h0M77.6 128.4h0" stroke="#2c52b0" stroke-opacity="0.5" stroke-width="2.2" stroke-linecap="round" fill="none"/>
<path d="M77.9 129.0h0M75.7 128.7h0M74.7 128.2h0M79.2 128.9h0M79.6 126.8h0M77.1 128.5h0M79.0 128.6h0M75.9 128.7h0M79.3 129.0h0M78.2 128.8h0M75.0 128.6h0M78.2 129.1h0M77.3 129.0h0M78.5 128.1h0M78.2 128.7h0M76.8 124.4h0M74.5 129.0h0M79.6 128.7h0M76.1 128.9h0" stroke="#2c52b0" stroke-opacity="0.5" stroke-width="2.2" stroke-linecap="round" fill="none"/>
<path d="M78.3 128.2h0M74.9 128.5h0M77.3 127.3h0M78.2 126.9h0M74.8 128.6h0M75.7 129.1h0M79.6 128.8h0M79.8 128.6h0M75.8 128.6h0M78.7 129.1h0M77.7 128.9h0M77.3 126.7h0M78.7 128.7h0M75.6 127.3h0M76.6 128.7h0M79.6 128.9h0M79.2 127.6h0M78.6 126.8h0M78.7 129.1h0" stroke="#2c52b0" stroke-opacity="0.5" stroke-width="2.2" stroke-linecap="round" fill="none"/>
<path d="M77.7 129.1h0M79.8 128.8h0M76.8 119.4h0M79.3 128.6h0M76.1 129.0h0M79.5 128.6h0M79.2 127.7h0M78.1 129.1h0M77.4 128.3h0M77.7 129.3h0M78.8 128.7h0M76.4 112.9h0M79.5 128.5h0M77.6 128.5h0M76.1 128.5h0M74.4 128.0h0M75.3 129.0h0M79.7 128.4h0M78.0 129.0h0" stroke="#2c52b0" stroke-opacity="0.5" stroke-width="2.2" stroke-linecap="round" fill="none"/>
<path d="M80.1 128.7h0M77.4 129.0h0M75.8 128.6h0M76.6 128.8h0M77.2 129.0h0M79.7 129.0h0M78.8 128.9h0M76.1 128.3h0M77.3 125.7h0M78.3 117.8h0M78.8 128.5h0M79.4 129.1h0M75.4 128.6h0M76.9 121.5h0M79.2 128.8h0M79.0 129.0h0M80.0 128.7h0M76.9 128.4h0" stroke="#2c52b0" stroke-opacity="0.5" stroke-width="2.2" stroke-linecap="round" fill="none"/>
<path d="M75.1 129.0h0M75.5 127.7h0M79.4 128.2h0M76.0 128.7h0M78.8 129.0h0M77.5 128.9h0M75.8 127.5h0M75.7 126.8h0M79.0 128.7h0M76.4 128.9h0M77.2 127.9h0M76.4 127.2h0M78.5 129.1h0M79.7 128.9h0M78.9 129.2h0M78.3 128.5h0M78.8 128.8h0M74.6 128.6h0" stroke="#2c52b0" stroke-opacity="0.5" stroke-width="2.2" stroke-linecap="round" fill="none"/>
<path d="M77.26 128.32V127.47M77.26 128.89V129.00" stroke="#2c52b0" stroke-width="0.6"/>
<rect x="73.96" y="128.32" width="6.6" height="0.57" fill="#fff" fill-opacity="0.38" stroke="#2c52b0" stroke-width="0.6"/>
<path d="M73.96 128.77h6.6" stroke="#2c52b0" stroke-width="1.6"/>
<path d="M84.2 125.5h0M87.8 116.2h0M86.5 115.2h0M82.8 128.7h0M87.9 104.3h0M88.3 128.5h0M86.2 90.4h0M86.4 123.5h0M82.9 118.3h0M84.4 117.4h0M85.5 101.7h0M87.6 118.8h0M85.2 104.9h0M85.3 106.8h0M88.0 128.8h0M83.5 110.0h0M86.1 118.5h0M87.9 128.9h0M86.6 128.9h0M85.9 126.2h0M86.7 112.0h0M83.2 110.6h0M85.2 94.0h0M86.4 126.9h0M83.6 113.1h0M85.8 84.1h0M83.8 128.0h0M85.5 128.7h0M84.8 128.3h0M86.1 128.5h0M84.9 102.3h0M84.5 98.8h0" stroke="#ff2c0c" stroke-opacity="0.5" stroke-width="2.2" stroke-linecap="round" fill="none"/>
<path d="M88.0 128.5h0M83.5 129.1h0M88.1 108.7h0M86.1 85.8h0M87.5 128.8h0M83.9 118.4h0M86.3 120.8h0M86.3 121.7h0M84.1 74.0h0M86.3 99.0h0M84.3 111.8h0M84.6 63.3h0M86.7 124.1h0M86.4 82.3h0M84.7 84.9h0M86.2 97.8h0M85.2 109.1h0M85.0 128.6h0M84.3 76.4h0M88.0 111.7h0M86.9 93.7h0M84.7 120.0h0M83.0 113.9h0M86.5 128.9h0M85.5 106.7h0M87.2 91.1h0M88.2 107.0h0M85.6 84.3h0M87.4 103.7h0M86.8 88.3h0M88.2 124.9h0M83.8 128.8h0" stroke="#ff2c0c" stroke-opacity="0.5" stroke-width="2.2" stroke-linecap="round" fill="none"/>
<path d="M84.8 122.8h0M88.0 115.7h0M85.9 97.8h0M84.6 107.7h0M86.2 119.4h0M86.1 106.7h0M85.8 126.8h0M86.9 129.0h0M86.3 77.0h0M85.1 119.9h0M88.0 128.6h0M85.5 67.7h0M86.9 64.9h0M85.0 89.5h0M85.9 122.1h0M84.4 102.7h0M86.5 73.2h0M85.9 125.2h0M87.0 128.6h0M87.3 96.2h0M87.6 117.9h0M85.8 116.5h0M85.7 126.4h0M86.6 89.9h0M85.3 99.8h0M87.2 85.4h0M84.3 119.5h0M86.8 129.3h0M87.5 110.3h0M83.2 115.0h0M88.1 122.1h0M85.9 129.1h0" stroke="#ff2c0c" stroke-opacity="0.5" stroke-width="2.2" stroke-linecap="round" fill="none"/>
<path d="M85.4 103.6h0M87.8 128.4h0M83.9 129.0h0M83.2 127.7h0M86.3 103.1h0M86.7 111.1h0M83.6 128.7h0M87.5 101.0h0M83.9 128.8h0M85.0 115.7h0M86.4 102.4h0M84.5 109.1h0M84.9 108.7h0M84.9 104.1h0M87.6 128.7h0M87.6 112.0h0M83.9 108.0h0M84.9 83.3h0M88.0 105.1h0M88.3 114.1h0M82.7 128.5h0M85.2 128.5h0M85.6 128.5h0M82.9 128.7h0M84.6 121.7h0M85.6 92.5h0M88.1 125.7h0M88.0 116.7h0M84.4 69.7h0M86.9 122.5h0M86.9 113.5h0M84.8 112.6h0" stroke="#ff2c0c" stroke-opacity="0.5" stroke-width="2.2" stroke-linecap="round" fill="none"/>
<path d="M85.9 128.5h0M87.2 100.1h0M86.6 128.4h0M84.5 65.9h0M85.8 128.6h0M85.7 112.7h0M88.0 120.8h0M87.0 89.2h0M88.0 116.9h0M84.2 127.0h0M86.0 70.9h0M87.9 128.9h0M85.7 120.5h0M84.2 97.0h0M87.9 128.6h0M87.7 109.6h0M85.9 128.6h0M82.9 105.8h0M87.1 105.6h0M86.0 79.6h0M84.0 87.7h0M83.7 128.7h0M85.4 91.9h0M85.5 94.8h0M85.0 104.9h0M85.0 104.2h0M86.5 128.6h0M86.6 117.2h0M86.1 87.2h0M85.7 96.1h0M85.9 123.4h0" stroke="#ff2c0c" stroke-opacity="0.5" stroke-width="2.2" stroke-linecap="round" fill="none"/>
<path d="M86.5 123.1h0M87.7 107.3h0M85.8 100.8h0M87.0 86.3h0M84.3 95.0h0M84.3 68.5h0M87.3 128.6h0M88.0 129.2h0M87.6 125.7h0M84.2 124.3h0M84.7 128.8h0M86.6 121.5h0M83.1 128.8h0M86.9 101.8h0M83.7 92.9h0M85.3 80.5h0M84.3 127.8h0M87.3 114.7h0M83.1 128.5h0M87.1 110.3h0M87.1 128.7h0M87.4 129.1h0M88.3 128.9h0M87.4 105.8h0M83.1 111.3h0M85.5 129.1h0M86.4 78.3h0M88.2 128.8h0M85.7 128.7h0M83.7 114.2h0M87.6 128.9h0" stroke="#ff2c0c" stroke-opacity="0.5" stroke-width="2.2" stroke-linecap="round" fill="none"/>
<path d="M85.53 101.33V62.98M85.53 128.37V129.00" stroke="#ff2c0c" stroke-width="0.6"/>
<rect x="82.23" y="101.33" width="6.6" height="27.04" fill="#fff" fill-opacity="0.38" stroke="#ff2c0c" stroke-width="0.6"/>
<path d="M82.23 114.64h6.6" stroke="#ff2c0c" stroke-width="1.6"/>
<path d="M93.8 123.8h0M96.3 100.6h0M93.5 109.5h0M93.7 119.8h0M92.4 125.8h0M92.5 84.6h0M92.9 97.4h0M91.4 87.3h0M94.9 68.9h0M94.5 128.0h0M94.1 110.2h0M92.6 79.1h0M95.9 93.1h0M96.0 128.3h0" stroke="#ff2c0c" stroke-opacity="0.5" stroke-width="2.2" stroke-linecap="round" fill="none"/>
<path d="M96.1 79.8h0M96.6 98.1h0M92.2 89.8h0M93.0 127.7h0M92.4 105.5h0M94.1 106.4h0M96.5 95.9h0M92.0 95.1h0M91.1 124.4h0M95.5 118.8h0M95.8 117.8h0M92.5 71.5h0M94.6 83.1h0M94.5 90.2h0" stroke="#ff2c0c" stroke-opacity="0.5" stroke-width="2.2" stroke-linecap="round" fill="none"/>
<path d="M94.6 86.6h0M91.5 91.3h0M92.7 123.0h0M92.9 81.6h0M93.0 115.5h0M94.2 128.8h0M92.1 80.5h0M96.6 122.5h0M94.1 85.4h0M91.5 97.3h0M91.8 126.6h0M93.4 107.2h0M94.9 99.5h0M91.3 83.8h0" stroke="#ff2c0c" stroke-opacity="0.5" stroke-width="2.2" stroke-linecap="round" fill="none"/>
<path d="M95.3 125.2h0M92.6 78.1h0M96.7 122.1h0M91.9 104.3h0M94.5 108.1h0M95.3 73.3h0M95.5 127.4h0M96.0 96.4h0M95.8 111.7h0M92.7 120.8h0M91.6 125.2h0M93.2 77.9h0M92.6 101.7h0M95.1 121.4h0" stroke="#ff2c0c" stroke-opacity="0.5" stroke-width="2.2" stroke-linecap="round" fill="none"/>
<path d="M91.3 93.6h0M91.6 86.1h0M92.1 88.3h0M91.5 92.2h0M96.0 116.2h0M95.1 81.7h0M94.3 122.9h0M93.3 89.7h0M90.9 92.2h0M93.0 114.3h0M95.1 112.2h0M92.7 76.6h0M92.5 124.1h0" stroke="#ff2c0c" stroke-opacity="0.5" stroke-width="2.2" stroke-linecap="round" fill="none"/>
<path d="M95.4 126.4h0M94.2 94.8h0M95.0 91.3h0M94.6 123.1h0M93.3 116.3h0M93.3 103.5h0M95.5 95.5h0M92.7 75.5h0M96.4 88.9h0M91.3 94.4h0M94.2 126.4h0M93.2 98.9h0M92.0 101.0h0" stroke="#ff2c0c" stroke-opacity="0.5" stroke-width="2.2" stroke-linecap="round" fill="none"/>
<path d="M93.80 89.15V69.13M93.80 120.52V128.73" stroke="#ff2c0c" stroke-width="0.6"/>
<rect x="90.50" y="89.15" width="6.6" height="31.37" fill="#fff" fill-opacity="0.38" stroke="#ff2c0c" stroke-width="0.6"/>
<path d="M90.50 99.81h6.6" stroke="#ff2c0c" stroke-width="1.6"/>
<path d="M102.2 114.2h0M101.8 128.4h0M104.1 129.1h0M101.0 128.8h0M99.5 127.7h0M99.9 127.5h0M102.4 127.6h0M101.7 122.3h0M102.8 128.3h0M101.1 128.6h0M100.4 121.3h0M103.4 128.3h0M104.8 129.1h0M101.8 70.0h0M102.7 122.7h0M99.7 128.6h0M102.7 122.4h0M101.8 117.2h0M99.6 128.8h0M103.8 124.1h0M100.2 128.0h0M104.9 127.3h0M99.3 128.6h0M101.7 128.7h0M103.4 97.4h0M101.0 128.8h0M102.6 105.3h0M102.9 129.1h0M103.2 128.2h0M101.6 82.0h0M101.8 77.0h0M104.5 128.8h0M101.6 128.9h0M102.3 115.7h0M103.5 127.9h0M102.8 117.0h0M102.2 127.7h0M103.9 128.9h0M103.5 129.1h0M100.2 128.8h0M103.9 128.1h0M102.2 128.9h0M103.3 128.1h0M100.5 128.9h0M101.5 78.7h0M102.6 128.9h0M101.1 128.9h0M103.0 100.6h0M102.0 129.1h0M101.6 108.4h0M103.6 129.0h0M102.2 95.3h0M103.0 114.4h0M99.3 128.1h0M101.1 107.3h0M103.4 124.6h0M101.5 126.1h0M100.9 127.7h0M99.8 128.0h0M104.5 128.0h0M102.1 111.5h0M102.3 117.0h0M99.6 128.6h0M103.7 127.6h0M101.0 104.4h0M100.8 106.3h0M101.4 116.7h0M102.0 127.2h0M99.3 129.2h0M101.5 112.6h0M103.9 129.0h0M103.6 110.5h0M103.5 129.1h0M101.9 123.2h0M102.2 113.4h0M100.0 124.5h0M100.9 118.3h0M100.1 128.8h0M101.9 129.1h0M102.1 127.8h0M102.7 117.8h0M100.9 128.7h0M102.6 110.2h0M100.1 128.4h0M101.3 128.8h0M102.1 129.0h0M101.0 128.2h0M100.4 129.1h0M100.8 108.5h0M100.6 122.6h0M103.4 89.5h0M103.2 98.2h0M100.9 87.9h0M102.1 116.3h0" stroke="#ff2c0c" stroke-opacity="0.5" stroke-width="2.2" stroke-linecap="round" fill="none"/>
<path d="M99.4 128.7h0M101.1 128.2h0M101.4 117.8h0M102.6 128.7h0M100.5 77.1h0M102.7 128.6h0M99.2 128.3h0M103.6 127.7h0M100.0 128.1h0M103.4 100.7h0M103.4 119.0h0M102.9 127.5h0M102.8 112.8h0M103.1 125.2h0M100.2 129.1h0M103.4 111.3h0M100.0 127.5h0M102.7 128.9h0M102.7 123.9h0M101.4 120.4h0M103.7 128.9h0M103.8 129.3h0M104.4 125.6h0M99.3 127.5h0M101.6 128.9h0M102.6 129.0h0M103.5 97.3h0M101.3 102.8h0M99.3 127.7h0M101.6 55.6h0M104.5 129.1h0M100.3 128.0h0M103.4 102.5h0M103.3 102.6h0M99.8 128.8h0M104.8 128.5h0M100.8 98.9h0M102.2 125.8h0M100.9 58.2h0M101.1 128.9h0M103.2 129.2h0M101.7 114.7h0M102.2 128.5h0M101.1 106.8h0M101.8 117.0h0M103.0 128.8h0M103.1 121.5h0M99.4 125.2h0M102.7 104.3h0M102.4 110.9h0M104.0 128.8h0M103.1 128.3h0M104.9 128.6h0M103.3 126.8h0M101.8 115.1h0M103.9 127.5h0M102.5 78.3h0M102.2 126.9h0M101.9 116.5h0M101.9 86.7h0M103.3 113.8h0M103.6 114.6h0M101.3 127.7h0M101.5 128.5h0M102.8 109.2h0M100.4 128.1h0M99.5 128.8h0M101.6 129.1h0M100.2 129.0h0M102.6 105.7h0M103.2 81.9h0M102.9 103.1h0M100.2 128.5h0M101.1 94.8h0M101.1 97.0h0M101.3 128.8h0M103.7 120.0h0M100.6 129.1h0M103.7 103.1h0M101.9 104.9h0M103.6 92.5h0M104.7 129.2h0M103.2 118.6h0M102.9 128.7h0M103.0 100.5h0M100.6 128.8h0M103.4 117.8h0M101.7 128.8h0M102.5 127.7h0M100.2 128.9h0M103.5 110.5h0M104.7 127.6h0M101.2 128.7h0M104.0 129.1h0" stroke="#ff2c0c" stroke-opacity="0.5" stroke-width="2.2" stroke-linecap="round" fill="none"/>
<path d="M102.4 129.1h0M103.8 127.3h0M103.2 112.5h0M103.2 128.8h0M100.7 128.9h0M102.9 128.9h0M103.4 114.0h0M100.7 128.8h0M101.7 128.2h0M99.2 128.7h0M103.2 90.0h0M102.7 82.4h0M101.0 129.1h0M103.9 128.6h0M102.3 77.1h0M101.7 73.4h0M103.2 128.6h0M104.6 127.6h0M100.9 112.2h0M100.9 93.9h0M100.6 127.5h0M103.6 115.5h0M102.5 95.6h0M101.6 128.5h0M101.5 108.7h0M102.8 83.8h0M100.6 118.9h0M103.0 128.8h0M104.0 126.7h0M104.4 128.1h0M104.7 127.7h0M101.7 112.6h0M101.5 111.8h0M101.2 128.1h0M101.8 101.7h0M104.7 127.8h0M100.2 120.3h0M102.8 128.1h0M101.5 69.6h0M103.1 128.0h0M101.3 97.1h0M103.7 118.4h0M101.8 101.0h0M99.7 127.6h0M103.4 117.6h0M102.6 119.5h0M102.0 128.7h0M100.8 128.7h0M100.4 127.4h0M102.0 125.4h0M101.4 129.0h0M102.1 118.0h0M104.8 128.6h0M101.9 123.8h0M103.4 129.0h0M103.3 129.0h0M100.8 128.7h0M103.6 127.4h0M103.6 111.1h0M103.6 129.0h0M103.2 126.4h0M102.0 107.6h0M101.1 83.9h0M103.3 78.7h0M101.1 95.7h0M102.6 122.1h0M102.7 128.7h0M100.6 117.5h0M101.3 112.2h0M100.9 124.2h0M102.7 123.0h0M103.4 121.9h0M102.3 129.1h0M102.9 128.8h0M102.8 127.7h0M103.5 124.4h0M101.6 97.6h0M101.0 108.0h0M101.1 89.6h0M103.6 83.5h0M100.6 129.0h0M99.9 125.1h0M100.4 129.2h0M103.9 128.9h0M100.2 127.9h0M103.3 114.2h0M102.2 89.0h0M104.4 123.2h0M101.4 95.4h0M100.9 76.4h0M102.0 119.0h0M100.9 127.9h0M100.6 99.5h0M101.0 114.1h0" stroke="#ff2c0c" stroke-opacity="0.5" stroke-width="2.2" stroke-linecap="round" fill="none"/>
<path d="M102.7 120.9h0M101.0 105.9h0M104.2 128.4h0M102.4 117.9h0M102.7 112.0h0M101.7 75.5h0M103.3 127.8h0M102.8 128.9h0M100.6 79.4h0M102.5 125.2h0M104.9 128.0h0M102.7 128.3h0M103.2 122.3h0M103.3 129.0h0M101.2 128.4h0M102.1 129.1h0M103.6 124.8h0M100.8 99.8h0M100.3 121.1h0M100.4 119.3h0M101.8 129.1h0M101.9 95.1h0M101.7 120.0h0M103.2 128.7h0M101.4 128.5h0M99.8 129.1h0M103.0 125.8h0M100.7 101.9h0M101.6 127.7h0M99.9 128.2h0M101.5 123.7h0M102.0 80.0h0M104.4 128.7h0M102.9 128.4h0M101.2 128.7h0M102.1 129.1h0M101.5 93.7h0M102.6 100.3h0M101.7 114.0h0M100.6 80.8h0M104.0 127.3h0M102.6 128.4h0M103.2 104.0h0M100.4 127.5h0M101.2 128.7h0M100.5 104.5h0M104.4 127.3h0M100.6 127.3h0M100.7 91.0h0M100.2 129.0h0M103.0 128.7h0M103.0 128.6h0M101.8 128.3h0M103.7 120.3h0M100.4 129.2h0M102.8 91.5h0M103.7 129.1h0M103.9 127.1h0M104.8 128.3h0M103.6 120.2h0M101.2 128.0h0M102.8 122.6h0M102.6 120.8h0M100.5 112.6h0M102.1 119.6h0M100.3 128.2h0M102.4 116.4h0M102.7 128.9h0M100.8 128.7h0M103.5 128.7h0M103.6 88.8h0M101.5 124.8h0M104.7 128.9h0M101.9 127.1h0M101.6 128.7h0M104.1 128.7h0M100.2 128.3h0M100.9 128.5h0M104.3 128.8h0M100.5 109.2h0M103.3 128.9h0M102.4 117.5h0M101.7 120.1h0M103.6 81.2h0M100.7 128.1h0M103.2 91.4h0M101.8 128.7h0M103.7 124.3h0M104.2 128.6h0M101.3 80.2h0M99.4 128.4h0M103.5 128.7h0M99.7 128.7h0M100.8 81.7h0" stroke="#ff2c0c" stroke-opacity="0.5" stroke-width="2.2" stroke-linecap="round" fill="none"/>
<path d="M100.7 128.1h0M100.7 121.0h0M104.1 128.7h0M101.4 128.1h0M103.2 127.3h0M100.2 128.7h0M101.7 99.3h0M104.4 128.8h0M104.0 129.3h0M104.9 127.1h0M102.6 109.7h0M100.5 91.8h0M101.7 113.6h0M100.4 119.8h0M102.8 127.5h0M104.7 126.0h0M103.3 100.0h0M99.2 128.7h0M103.4 61.9h0M100.8 117.1h0M101.8 121.1h0M100.8 110.0h0M102.1 88.1h0M103.5 115.0h0M101.4 116.0h0M100.0 129.1h0M104.1 128.3h0M102.0 107.3h0M99.7 128.7h0M104.7 128.1h0M103.3 102.6h0M101.7 128.8h0M101.3 129.2h0M104.8 127.8h0M103.0 112.8h0M100.6 127.3h0M101.6 123.3h0M102.0 127.6h0M99.5 127.6h0M101.9 128.6h0M102.6 108.3h0M102.6 118.6h0M104.5 128.7h0M101.1 127.6h0M103.2 128.0h0M102.7 127.5h0M103.3 54.6h0M100.5 96.1h0M100.9 121.8h0M104.4 128.7h0M104.7 126.8h0M103.8 128.7h0M101.8 101.5h0M103.7 122.3h0M100.5 115.0h0M104.7 129.0h0M99.9 126.7h0M103.3 121.8h0M100.8 110.7h0M100.9 128.9h0M103.8 128.2h0M100.8 103.9h0M101.5 124.7h0M104.7 127.7h0M103.0 129.1h0M101.2 98.5h0M101.6 114.4h0M104.8 128.2h0M101.4 129.0h0M101.0 128.8h0M102.1 115.9h0M103.3 116.0h0M100.6 128.9h0M103.8 128.7h0M101.9 99.5h0M103.8 121.2h0M103.2 97.7h0M99.5 127.3h0M102.8 127.8h0M102.0 128.8h0M104.2 127.9h0M100.5 127.6h0M102.0 63.6h0M101.4 128.5h0M100.9 115.4h0M102.4 127.4h0M103.0 65.8h0M103.1 119.8h0M103.0 106.5h0M101.4 108.1h0M102.2 126.2h0M101.5 119.3h0M99.5 127.6h0M100.5 127.7h0" stroke="#ff2c0c" stroke-opacity="0.5" stroke-width="2.2" stroke-linecap="round" fill="none"/>
<path d="M101.6 59.7h0M104.8 128.6h0M103.6 85.6h0M103.8 128.9h0M102.6 82.8h0M103.8 128.9h0M101.5 114.7h0M103.5 128.6h0M103.2 129.2h0M102.4 87.2h0M103.8 124.3h0M102.1 127.0h0M101.1 128.7h0M101.4 115.1h0M101.7 123.1h0M102.2 128.9h0M100.6 103.3h0M104.6 127.7h0M104.8 129.1h0M102.7 122.5h0M102.5 85.4h0M101.5 128.9h0M101.1 129.2h0M100.3 128.9h0M102.9 97.5h0M100.6 107.6h0M103.8 119.8h0M101.0 128.8h0M100.7 86.7h0M101.5 123.2h0M103.2 129.2h0M102.4 128.7h0M101.0 90.7h0M103.6 113.4h0M103.4 118.5h0M101.7 103.9h0M102.3 128.7h0M99.4 127.9h0M104.2 127.1h0M99.6 128.3h0M104.9 127.1h0M99.9 128.7h0M102.5 128.5h0M102.9 123.6h0M101.7 128.6h0M100.8 128.6h0M102.8 121.0h0M101.7 105.6h0M102.6 113.0h0M103.4 95.8h0M100.1 127.5h0M101.4 94.5h0M103.3 86.1h0M99.9 128.0h0M103.3 99.3h0M103.1 93.1h0M103.4 116.4h0M101.9 116.0h0M103.4 127.9h0M101.9 128.1h0M100.3 128.2h0M104.5 128.7h0M102.4 128.6h0M99.8 128.7h0M99.4 129.1h0M102.1 129.0h0M102.9 105.9h0M101.3 96.5h0M101.7 105.4h0M100.3 128.9h0M100.6 101.6h0M101.7 114.0h0M101.0 129.1h0M99.9 127.6h0M101.8 129.0h0M100.0 127.8h0M101.2 128.2h0M101.8 113.7h0M102.6 109.5h0M104.5 126.6h0M103.2 127.6h0M102.8 95.0h0M103.1 128.7h0M102.9 126.6h0M103.1 86.4h0M104.9 129.1h0M100.7 118.3h0M102.3 84.5h0M103.2 113.1h0M103.1 112.9h0M102.4 101.3h0M100.9 98.6h0M103.1 128.8h0M101.1 128.6h0" stroke="#ff2c0c" stroke-opacity="0.5" stroke-width="2.2" stroke-linecap="round" fill="none"/>
<path d="M102.07 112.09V87.23M102.07 128.76V129.00" stroke="#ff2c0c" stroke-width="0.6"/>
<rect x="98.77" y="112.09" width="6.6" height="16.68" fill="#fff" fill-opacity="0.38" stroke="#ff2c0c" stroke-width="0.6"/>
<path d="M98.77 127.26h6.6" stroke="#ff2c0c" stroke-width="1.6"/>
<path d="M111.6 111.9h0M111.9 94.2h0M110.5 94.9h0M112.9 127.8h0M110.6 101.3h0M109.8 129.1h0M111.0 114.1h0M108.4 129.0h0M110.4 128.5h0M111.7 116.3h0M110.8 128.4h0M109.3 74.5h0M113.2 128.7h0M109.2 128.6h0M109.8 87.5h0M111.7 128.5h0M110.0 128.2h0M110.2 128.5h0M110.1 67.4h0M109.3 115.1h0M110.7 117.2h0M109.9 105.8h0M109.1 127.9h0M113.1 129.0h0M112.0 123.8h0M111.0 89.8h0M108.8 128.6h0M110.7 128.3h0M108.7 128.8h0M111.5 119.2h0M110.7 100.4h0M110.3 128.3h0M112.6 128.2h0M112.1 129.3h0M110.0 102.3h0M109.5 99.0h0M111.2 129.2h0" stroke="#ff2c0c" stroke-opacity="0.5" stroke-width="2.2" stroke-linecap="round" fill="none"/>
<path d="M109.3 128.7h0M111.6 128.6h0M107.8 128.2h0M108.9 112.0h0M107.5 128.6h0M109.7 128.8h0M109.6 128.7h0M108.3 128.2h0M109.1 83.0h0M111.4 109.9h0M109.4 100.1h0M108.4 129.1h0M111.5 121.8h0M113.1 128.0h0M113.1 127.9h0M113.0 128.7h0M108.0 128.5h0M109.9 127.8h0M111.8 128.7h0M108.9 108.0h0M109.1 95.4h0M109.6 120.2h0M107.8 128.3h0M109.7 92.3h0M110.0 128.3h0M109.2 70.1h0M111.2 107.1h0M111.7 87.2h0M110.8 129.1h0M110.4 114.4h0M111.2 128.6h0M112.1 129.0h0M110.6 69.6h0M110.8 91.6h0M109.3 129.2h0M112.0 128.8h0" stroke="#ff2c0c" stroke-opacity="0.5" stroke-width="2.2" stroke-linecap="round" fill="none"/>
<path d="M111.6 93.6h0M110.5 90.4h0M110.6 86.9h0M110.2 96.4h0M110.4 72.7h0M113.0 128.9h0M109.5 110.0h0M108.9 128.8h0M110.5 128.9h0M110.2 89.4h0M110.1 128.2h0M111.1 77.1h0M111.7 76.1h0M111.1 127.8h0M108.9 129.0h0M110.0 128.9h0M112.3 125.2h0M108.3 128.0h0M111.7 128.6h0M109.1 98.1h0M109.9 78.1h0M111.5 115.5h0M110.2 128.7h0M110.2 128.5h0M112.0 128.7h0M108.1 128.4h0M110.1 94.6h0M111.4 128.8h0M109.5 128.6h0M110.4 129.0h0M108.1 128.0h0M108.3 128.9h0M111.1 126.7h0M112.8 128.8h0M108.9 85.3h0M110.8 108.6h0" stroke="#ff2c0c" stroke-opacity="0.5" stroke-width="2.2" stroke-linecap="round" fill="none"/>
<path d="M111.5 105.0h0M108.3 127.9h0M109.7 88.1h0M108.4 128.7h0M110.6 97.5h0M108.3 128.9h0M112.5 129.1h0M109.3 104.8h0M111.0 128.5h0M109.7 82.1h0M110.0 128.9h0M110.5 81.2h0M111.7 85.2h0M111.8 66.2h0M108.7 129.0h0M110.8 113.4h0M110.6 124.5h0M109.4 103.0h0M108.9 84.2h0M109.4 119.3h0M111.8 85.8h0M107.5 129.0h0M111.7 129.2h0M111.2 123.1h0M111.8 129.1h0M111.9 78.6h0M109.5 71.6h0M112.1 128.7h0M108.8 128.4h0M110.3 90.3h0M111.2 111.2h0M111.7 116.3h0M112.5 128.9h0M108.7 128.8h0M108.8 128.1h0M112.5 128.1h0" stroke="#ff2c0c" stroke-opacity="0.5" stroke-width="2.2" stroke-linecap="round" fill="none"/>
<path d="M110.9 120.6h0M110.1 127.8h0M110.4 128.6h0M111.1 83.9h0M111.0 128.9h0M112.9 128.7h0M110.6 92.9h0M112.6 128.6h0M111.0 122.6h0M110.9 129.0h0M110.5 128.4h0M108.8 79.7h0M108.0 128.6h0M109.7 127.8h0M111.3 128.2h0M110.6 104.2h0M109.0 128.8h0M110.2 102.4h0M110.3 80.2h0M109.4 101.4h0M110.3 118.3h0M110.5 128.2h0M110.6 83.2h0M110.2 128.9h0M110.8 71.9h0M111.7 129.0h0M110.5 103.5h0M108.6 128.8h0M111.6 73.7h0M108.8 128.6h0M111.4 121.8h0M111.9 75.7h0M108.7 128.8h0M109.3 128.1h0M110.0 110.4h0M108.1 128.3h0" stroke="#ff2c0c" stroke-opacity="0.5" stroke-width="2.2" stroke-linecap="round" fill="none"/>
<path d="M111.9 99.3h0M109.6 98.0h0M111.6 68.5h0M110.6 128.8h0M109.1 128.2h0M109.9 103.8h0M110.9 108.5h0M108.8 128.4h0M108.8 129.0h0M110.8 128.6h0M110.8 128.4h0M107.5 128.7h0M108.8 118.3h0M112.8 127.9h0M109.7 125.5h0M111.2 88.6h0M111.1 122.4h0M108.7 128.2h0M111.5 116.7h0M108.4 128.4h0M110.8 126.0h0M108.5 129.0h0M111.7 129.0h0M109.8 120.3h0M113.2 128.6h0M110.3 81.5h0M109.1 107.7h0M111.5 110.9h0M108.3 128.7h0M111.6 106.8h0M110.5 126.2h0M109.9 113.1h0M107.9 128.8h0M112.7 126.9h0M109.1 91.4h0M110.9 96.2h0" stroke="#ff2c0c" stroke-opacity="0.5" stroke-width="2.2" stroke-linecap="round" fill="none"/>
<path d="M110.35 101.20V66.28M110.35 128.76V129.00" stroke="#ff2c0c" stroke-width="0.6"/>
<rect x="107.05" y="101.20" width="6.6" height="27.56" fill="#fff" fill-opacity="0.38" stroke="#ff2c0c" stroke-width="0.6"/>
<path d="M107.05 127.82h6.6" stroke="#ff2c0c" stroke-width="1.6"/>
<path d="M118.6 64.4h0M118.3 105.8h0M121.1 128.2h0M115.9 124.4h0M120.2 107.7h0M117.9 106.5h0M118.1 121.7h0M120.2 121.4h0M116.9 128.8h0M117.2 117.9h0M116.8 114.0h0M119.4 102.4h0M118.3 128.9h0M116.9 128.6h0M120.9 120.0h0M119.0 100.5h0M117.3 127.8h0M118.2 39.2h0M120.7 128.7h0M120.9 128.8h0M117.7 128.7h0M121.4 128.8h0M116.0 127.0h0M119.1 121.3h0M117.7 68.9h0M119.7 105.0h0M120.5 129.0h0M120.1 128.3h0M115.7 125.1h0M120.3 104.5h0M117.8 126.0h0M117.3 114.4h0M118.4 87.4h0M117.4 119.8h0M119.8 127.6h0M119.9 113.1h0M118.0 106.8h0M118.5 89.2h0M121.4 129.2h0M117.6 112.1h0M120.1 96.4h0M120.7 127.3h0M116.2 128.9h0M120.8 128.7h0M116.4 128.9h0M120.6 125.1h0M119.7 119.0h0M116.2 123.3h0M120.0 129.1h0M116.9 124.3h0M118.3 126.1h0" stroke="#ff2c0c" stroke-opacity="0.5" stroke-width="2.2" stroke-linecap="round" fill="none"/>
<path d="M119.7 128.9h0M116.0 123.7h0M120.6 128.0h0M117.8 67.6h0M120.0 101.5h0M118.6 128.6h0M118.1 97.1h0M117.9 127.0h0M120.3 105.9h0M120.0 103.2h0M116.0 123.0h0M118.2 86.3h0M118.1 112.3h0M116.5 128.6h0M121.0 121.1h0M117.4 109.0h0M116.7 116.4h0M119.0 122.7h0M120.0 126.8h0M119.9 94.1h0M116.9 123.2h0M117.9 117.7h0M120.3 124.8h0M118.7 129.1h0M117.8 128.8h0M119.2 112.6h0M116.3 128.1h0M119.4 124.9h0M119.5 95.3h0M121.5 127.3h0M119.6 122.1h0M119.2 99.7h0M117.3 105.9h0M117.0 127.4h0M119.1 76.7h0M121.0 128.7h0M117.5 128.6h0M117.9 108.3h0M116.5 123.2h0M118.5 89.6h0M119.8 106.3h0M120.5 129.1h0M117.3 69.8h0M118.7 110.1h0M119.6 120.2h0M119.8 112.1h0M120.2 114.9h0M119.0 81.1h0M116.7 128.7h0M118.6 104.0h0M117.9 114.2h0" stroke="#ff2c0c" stroke-opacity="0.5" stroke-width="2.2" stroke-linecap="round" fill="none"/>
<path d="M117.5 109.6h0M116.2 128.8h0M119.1 95.9h0M118.6 71.9h0M117.4 93.1h0M120.1 122.3h0M117.6 90.2h0M121.1 129.0h0M120.2 127.3h0M117.8 84.7h0M118.3 79.0h0M116.4 128.7h0M117.0 122.2h0M119.4 82.5h0M117.7 128.7h0M117.2 128.6h0M118.1 97.7h0M117.7 102.8h0M116.2 128.9h0M119.0 129.0h0M117.6 128.5h0M119.4 128.3h0M118.7 93.4h0M119.4 128.6h0M117.4 124.4h0M117.7 106.9h0M118.1 115.2h0M121.0 126.3h0M120.6 128.8h0M119.7 128.9h0M120.2 129.0h0M116.4 129.1h0M119.7 128.8h0M118.4 66.8h0M118.0 124.7h0M117.7 101.2h0M118.2 113.5h0M119.3 122.0h0M117.9 113.6h0M116.6 126.6h0M120.1 91.7h0M118.2 90.3h0M118.8 115.0h0M120.1 122.9h0M117.9 107.9h0M119.2 114.1h0M121.1 121.6h0M121.2 128.8h0M119.5 129.1h0M119.3 129.0h0M115.8 129.2h0" stroke="#ff2c0c" stroke-opacity="0.5" stroke-width="2.2" stroke-linecap="round" fill="none"/>
<path d="M118.4 96.0h0M120.8 128.9h0M117.9 99.3h0M117.6 126.4h0M119.2 128.5h0M118.6 110.3h0M119.0 99.8h0M120.2 113.4h0M118.7 95.0h0M119.1 108.2h0M118.6 118.2h0M120.0 94.7h0M120.3 126.5h0M118.0 124.3h0M119.3 87.0h0M120.8 125.2h0M119.5 110.9h0M119.5 128.5h0M118.0 75.3h0M119.3 120.1h0M121.5 128.5h0M118.1 88.0h0M118.6 105.2h0M121.1 125.3h0M118.2 113.0h0M118.5 111.1h0M117.3 128.9h0M120.5 119.1h0M118.7 92.0h0M118.0 116.5h0M120.7 128.7h0M118.0 128.7h0M116.3 122.1h0M116.8 128.5h0M119.6 98.6h0M121.3 128.9h0M118.1 80.6h0M118.9 110.4h0M117.7 98.6h0M120.1 126.3h0M116.8 121.6h0M119.9 97.3h0M117.0 128.7h0M119.9 105.7h0M121.2 124.0h0M117.3 86.8h0M117.3 104.5h0M120.8 129.1h0M120.1 85.6h0M118.3 128.8h0M118.2 111.2h0" stroke="#ff2c0c" stroke-opacity="0.5" stroke-width="2.2" stroke-linecap="round" fill="none"/>
<path d="M120.7 129.1h0M119.8 88.6h0M117.5 92.6h0M116.8 124.5h0M120.7 117.1h0M119.9 128.2h0M119.7 129.0h0M119.9 110.6h0M119.6 94.4h0M119.9 127.6h0M117.4 111.8h0M117.2 115.7h0M119.5 120.6h0M117.6 93.0h0M118.4 99.0h0M119.0 121.8h0M118.4 91.0h0M118.6 127.9h0M118.3 108.1h0M120.7 123.9h0M118.5 102.5h0M116.4 125.6h0M116.4 129.1h0M120.7 125.6h0M117.9 107.5h0M117.4 90.6h0M119.7 52.7h0M119.2 124.0h0M119.9 73.8h0M118.8 85.9h0M120.1 103.2h0M118.7 129.0h0M119.5 128.7h0M117.1 109.1h0M117.3 83.9h0M120.9 128.8h0M117.3 116.3h0M116.9 109.6h0M116.4 123.8h0M117.0 111.4h0M120.5 115.0h0M120.2 122.7h0M118.5 101.6h0M117.4 128.9h0M120.3 124.9h0M117.2 87.8h0M118.0 129.0h0M117.3 126.3h0M117.8 129.0h0M120.0 89.5h0" stroke="#ff2c0c" stroke-opacity="0.5" stroke-width="2.2" stroke-linecap="round" fill="none"/>
<path d="M117.3 121.4h0M118.0 126.7h0M121.0 129.0h0M116.2 128.5h0M121.2 128.8h0M119.9 119.6h0M120.0 123.5h0M115.9 128.9h0M120.1 100.8h0M119.5 128.9h0M117.6 122.4h0M117.8 70.3h0M116.7 123.2h0M117.2 108.7h0M120.0 123.2h0M120.2 128.5h0M119.0 117.0h0M119.0 120.3h0M118.4 72.2h0M118.4 128.7h0M119.0 118.3h0M118.6 121.1h0M117.3 116.0h0M120.5 118.1h0M119.9 128.8h0M118.3 104.1h0M116.9 125.7h0M118.7 129.2h0M119.4 116.8h0M118.1 77.9h0M118.9 109.4h0M117.4 125.9h0M118.8 91.2h0M116.6 119.1h0M119.9 128.7h0M117.8 107.4h0M118.9 128.7h0M120.0 128.7h0M118.8 121.6h0M116.6 128.7h0M116.7 118.0h0M119.8 75.6h0M118.7 115.7h0M117.6 128.4h0M117.5 97.6h0M118.3 128.9h0M116.9 125.4h0M118.3 88.5h0M118.1 128.9h0M116.2 128.6h0" stroke="#ff2c0c" stroke-opacity="0.5" stroke-width="2.2" stroke-linecap="round" fill="none"/>
<path d="M118.62 104.71V69.14M118.62 128.59V129.00" stroke="#ff2c0c" stroke-width="0.6"/>
<rect x="115.32" y="104.71" width="6.6" height="23.88" fill="#fff" fill-opacity="0.38" stroke="#ff2c0c" stroke-width="0.6"/>
<path d="M115.32 121.13h6.6" stroke="#ff2c0c" stroke-width="1.6"/>
<path d="M127.8 129.1h0" stroke="#2c52b0" stroke-opacity="0.5" stroke-width="2.2" stroke-linecap="round" fill="none"/>
<path d="M126.0 129.1h0" stroke="#2c52b0" stroke-opacity="0.5" stroke-width="2.2" stroke-linecap="round" fill="none"/>
<path d="M127.4 128.9h0" stroke="#2c52b0" stroke-opacity="0.5" stroke-width="2.2" stroke-linecap="round" fill="none"/>
<path d="M126.89 128.82V128.78M126.89 128.91V128.95" stroke="#2c52b0" stroke-width="0.6"/>
<rect x="123.59" y="128.82" width="6.6" height="0.09" fill="#fff" fill-opacity="0.38" stroke="#2c52b0" stroke-width="0.6"/>
<path d="M123.59 128.86h6.6" stroke="#2c52b0" stroke-width="1.6"/>
<path d="M136.6 128.8h0M133.8 97.5h0M133.6 94.9h0M134.9 88.4h0M132.9 128.2h0M136.6 128.4h0" stroke="#ff2c0c" stroke-opacity="0.5" stroke-width="2.2" stroke-linecap="round" fill="none"/>
<path d="M132.7 128.6h0M136.5 117.8h0M137.8 129.0h0M136.3 115.3h0M135.3 112.0h0M136.1 103.9h0" stroke="#ff2c0c" stroke-opacity="0.5" stroke-width="2.2" stroke-linecap="round" fill="none"/>
<path d="M134.3 113.4h0M136.8 129.1h0M132.6 128.5h0M132.9 127.9h0M133.9 92.4h0M136.8 128.9h0" stroke="#ff2c0c" stroke-opacity="0.5" stroke-width="2.2" stroke-linecap="round" fill="none"/>
<path d="M137.9 127.8h0M135.7 102.4h0M134.7 109.3h0M133.0 128.6h0M134.2 108.3h0M137.4 128.0h0" stroke="#ff2c0c" stroke-opacity="0.5" stroke-width="2.2" stroke-linecap="round" fill="none"/>
<path d="M136.1 123.4h0M136.9 127.6h0M134.6 129.0h0M134.4 128.8h0M134.2 120.8h0M133.7 85.5h0" stroke="#ff2c0c" stroke-opacity="0.5" stroke-width="2.2" stroke-linecap="round" fill="none"/>
<path d="M135.8 126.6h0M136.2 128.2h0M133.8 129.0h0M135.8 128.6h0M133.2 122.6h0M135.7 96.3h0" stroke="#ff2c0c" stroke-opacity="0.5" stroke-width="2.2" stroke-linecap="round" fill="none"/>
<path d="M135.17 109.15V85.55M135.17 128.74V129.00" stroke="#ff2c0c" stroke-width="0.6"/>
<rect x="131.87" y="109.15" width="6.6" height="19.59" fill="#fff" fill-opacity="0.38" stroke="#ff2c0c" stroke-width="0.6"/>
<path d="M131.87 126.88h6.6" stroke="#ff2c0c" stroke-width="1.6"/>
<path d="M142.6 128.6h0M145.7 129.0h0" stroke="#2c52b0" stroke-opacity="0.5" stroke-width="2.2" stroke-linecap="round" fill="none"/>
<path d="M144.3 128.8h0M141.5 128.9h0" stroke="#2c52b0" stroke-opacity="0.5" stroke-width="2.2" stroke-linecap="round" fill="none"/>
<path d="M143.6 128.9h0M144.1 128.9h0" stroke="#2c52b0" stroke-opacity="0.5" stroke-width="2.2" stroke-linecap="round" fill="none"/>
<path d="M141.0 129.0h0" stroke="#2c52b0" stroke-opacity="0.5" stroke-width="2.2" stroke-linecap="round" fill="none"/>
<path d="M144.2 128.6h0" stroke="#2c52b0" stroke-opacity="0.5" stroke-width="2.2" stroke-linecap="round" fill="none"/>
<path d="M141.2 128.7h0" stroke="#2c52b0" stroke-opacity="0.5" stroke-width="2.2" stroke-linecap="round" fill="none"/>
<path d="M143.44 128.74V128.68M143.44 128.90V128.96" stroke="#2c52b0" stroke-width="0.6"/>
<rect x="140.14" y="128.74" width="6.6" height="0.16" fill="#fff" fill-opacity="0.38" stroke="#2c52b0" stroke-width="0.6"/>
<path d="M140.14 128.83h6.6" stroke="#2c52b0" stroke-width="1.6"/>
<path d="M154.4 89.9h0M151.3 94.5h0M151.2 85.5h0M151.6 88.4h0M150.8 50.3h0M149.2 100.7h0M154.1 92.3h0M152.2 127.5h0M152.9 78.8h0M154.1 88.8h0M152.3 104.5h0M150.5 98.3h0M153.1 113.8h0M150.5 95.3h0M149.7 104.0h0M150.7 70.2h0M151.0 89.6h0M151.1 68.3h0M148.9 93.0h0M153.0 103.9h0M152.0 94.6h0M149.9 72.2h0M149.1 86.7h0M153.2 73.5h0M152.1 122.0h0M150.5 107.7h0M151.0 102.2h0M152.3 93.6h0M150.8 96.7h0M150.5 88.2h0M153.9 104.7h0M151.8 106.4h0M153.1 124.9h0M152.4 93.9h0M151.3 114.0h0M153.7 102.2h0M152.6 77.6h0M154.5 88.7h0M152.5 90.2h0M151.8 110.5h0M149.6 88.4h0M153.1 116.7h0M152.9 82.4h0M152.7 122.4h0M150.1 128.0h0M150.8 96.6h0M151.1 102.8h0M150.8 89.5h0M152.8 118.8h0M150.6 68.9h0M151.4 66.4h0M152.4 63.3h0M152.2 126.0h0M151.4 126.8h0M149.5 104.8h0M150.0 112.2h0M149.6 93.9h0M149.0 93.0h0M148.9 90.6h0M150.6 93.6h0M150.8 82.4h0M150.9 88.2h0M150.1 98.5h0M154.2 103.7h0M152.1 116.4h0M153.3 127.2h0M151.5 70.2h0M153.0 89.8h0M152.3 97.9h0M149.8 93.5h0M150.3 126.4h0M153.8 82.7h0M153.1 108.7h0M153.5 124.6h0M151.1 92.9h0M150.0 96.5h0M152.9 81.5h0" stroke="#ff2c0c" stroke-opacity="0.5" stroke-width="2.2" stroke-linecap="round" fill="none"/>
<path d="M149.6 97.2h0M152.9 93.7h0M151.7 54.2h0M149.6 94.2h0M149.5 97.0h0M150.7 97.4h0M154.1 88.6h0M150.3 127.1h0M152.9 111.7h0M152.6 91.7h0M150.4 63.7h0M152.6 98.7h0M150.8 89.7h0M150.9 119.3h0M152.5 71.5h0M153.2 95.7h0M152.2 94.2h0M153.4 102.3h0M151.2 80.7h0M152.5 91.4h0M150.7 87.8h0M151.5 115.9h0M151.9 67.3h0M150.6 101.5h0M152.4 128.7h0M150.7 80.1h0M150.6 128.8h0M154.5 94.0h0M151.4 83.5h0M153.3 88.7h0M151.5 78.6h0M150.1 128.4h0M151.3 113.2h0M153.0 117.5h0M152.9 101.1h0M152.6 106.1h0M150.5 125.2h0M152.3 54.3h0M150.0 72.1h0M151.8 97.5h0M150.2 67.1h0M149.9 123.7h0M149.3 99.1h0M154.3 90.9h0M151.3 116.5h0M151.0 88.2h0M151.9 124.6h0M149.9 89.5h0M154.2 102.8h0M150.9 126.1h0M149.5 107.9h0M153.5 110.5h0M153.1 117.9h0M153.0 95.2h0M152.9 87.2h0M151.6 96.6h0M153.3 66.1h0M154.4 94.5h0M150.9 89.8h0M151.4 114.5h0M151.7 103.9h0M151.2 90.5h0M153.0 107.9h0M152.6 127.4h0M150.5 114.8h0M151.3 69.8h0M149.9 99.5h0M151.6 123.0h0M153.2 109.6h0M151.7 122.1h0M153.1 75.5h0M154.1 101.0h0M153.3 58.3h0M151.7 105.7h0M153.1 88.4h0M150.2 79.4h0" stroke="#ff2c0c" stroke-opacity="0.5" stroke-width="2.2" stroke-linecap="round" fill="none"/>
<path d="M151.0 68.4h0M150.4 84.0h0M153.4 110.1h0M149.1 89.8h0M153.4 105.4h0M152.9 49.5h0M148.9 100.2h0M150.6 70.8h0M150.3 65.9h0M152.9 61.0h0M152.8 67.3h0M151.4 93.1h0M153.7 113.3h0M151.6 75.0h0M153.5 125.0h0M152.4 46.2h0M152.1 109.4h0M152.4 75.4h0M151.0 46.6h0M151.1 114.7h0M151.0 93.7h0M150.2 90.2h0M153.3 91.6h0M154.1 94.4h0M151.6 97.3h0M151.0 120.0h0M152.7 104.1h0M153.5 101.2h0M151.9 86.2h0M152.5 80.7h0M150.8 98.3h0M149.0 98.8h0M152.1 93.2h0M152.9 48.2h0M152.1 87.9h0M152.6 91.7h0M153.5 96.1h0M153.2 126.1h0M152.8 56.0h0M152.0 128.2h0M154.1 104.2h0M154.5 101.2h0M149.7 102.7h0M152.9 98.8h0M154.3 94.3h0M149.0 98.7h0M151.8 105.1h0M151.8 108.2h0M151.0 87.2h0M151.9 74.1h0M153.5 101.0h0M152.3 95.4h0M153.4 91.0h0M151.7 102.7h0M154.4 95.5h0M151.1 85.0h0M152.1 105.7h0M152.2 99.9h0M150.3 115.7h0M153.2 129.0h0M151.2 98.9h0M154.3 96.6h0M148.9 90.4h0M150.4 89.0h0M149.4 106.8h0M150.6 76.6h0M153.8 95.7h0M152.2 111.4h0M152.4 108.6h0M150.5 75.8h0M153.8 92.8h0M154.5 100.1h0M152.3 59.5h0M150.4 93.7h0M151.4 73.0h0M153.8 102.6h0" stroke="#ff2c0c" stroke-opacity="0.5" stroke-width="2.2" stroke-linecap="round" fill="none"/>
<path d="M151.9 74.4h0M149.5 99.8h0M150.3 67.7h0M152.1 126.6h0M153.4 91.0h0M150.0 89.1h0M148.8 89.8h0M149.9 118.4h0M150.3 74.3h0M152.8 123.6h0M150.4 119.4h0M150.6 92.3h0M151.8 62.2h0M152.3 105.3h0M153.3 105.0h0M151.3 78.1h0M154.0 107.1h0M150.6 85.2h0M151.0 87.3h0M152.6 75.0h0M151.7 89.2h0M152.4 94.2h0M152.9 121.0h0M150.4 112.1h0M153.1 69.8h0M153.2 97.6h0M149.5 99.2h0M152.0 124.2h0M151.7 104.6h0M151.2 92.2h0M151.6 103.6h0M152.8 119.9h0M154.0 106.9h0M151.2 73.1h0M149.7 82.8h0M148.9 92.5h0M151.5 90.4h0M149.0 101.9h0M151.0 92.2h0M150.9 92.8h0M153.6 103.3h0M150.5 99.2h0M153.4 101.8h0M151.7 111.6h0M152.3 117.5h0M149.6 109.5h0M153.7 105.0h0M151.9 96.3h0M152.2 95.6h0M151.7 84.8h0M149.6 98.2h0M151.4 112.5h0M149.0 93.2h0M153.8 90.9h0M150.8 99.7h0M150.2 95.9h0M152.9 112.4h0M152.0 97.6h0M153.6 118.5h0M151.0 88.9h0M149.3 100.3h0M150.9 58.7h0M150.7 77.4h0M150.6 101.2h0M151.0 90.5h0M153.5 119.7h0M149.0 90.5h0M151.4 108.5h0M152.9 92.3h0M149.1 100.2h0M152.8 92.2h0M152.7 98.3h0M150.3 106.8h0M152.3 118.2h0M152.5 127.8h0M153.2 99.3h0" stroke="#ff2c0c" stroke-opacity="0.5" stroke-width="2.2" stroke-linecap="round" fill="none"/>
<path d="M152.4 93.5h0M153.2 111.2h0M151.8 91.4h0M153.7 105.3h0M151.2 66.4h0M153.2 128.4h0M150.4 72.8h0M154.4 100.7h0M148.8 89.8h0M153.5 90.8h0M152.7 100.0h0M152.6 83.2h0M151.2 75.5h0M153.0 88.9h0M152.8 89.0h0M152.1 69.0h0M153.9 86.8h0M151.0 93.3h0M150.8 56.8h0M150.2 120.0h0M153.7 112.9h0M154.3 91.3h0M149.2 104.5h0M151.1 95.1h0M150.7 85.7h0M153.7 89.3h0M151.2 122.5h0M153.4 92.5h0M152.9 128.4h0M149.8 107.3h0M151.8 60.3h0M153.6 110.8h0M149.2 92.0h0M154.0 96.0h0M153.4 102.2h0M153.1 90.9h0M150.4 52.3h0M153.6 88.1h0M150.7 79.0h0M154.3 91.4h0M150.4 121.2h0M152.5 95.8h0M150.1 97.4h0M149.2 93.1h0M152.5 114.9h0M153.0 90.4h0M153.1 100.1h0M152.1 123.6h0M152.4 123.5h0M152.8 72.3h0M152.3 90.3h0M153.2 91.1h0M153.1 114.6h0M152.6 101.9h0M153.1 98.7h0M152.3 76.8h0M152.2 76.1h0M152.7 93.9h0M152.5 115.9h0M149.9 78.5h0M153.8 87.9h0M149.2 105.6h0M150.8 70.2h0M150.3 121.9h0M149.2 85.9h0M152.3 95.1h0M152.6 51.0h0M150.5 121.3h0M149.3 88.3h0M153.3 89.4h0M150.8 81.0h0M153.0 76.9h0M152.1 91.9h0M150.7 125.3h0M149.4 105.3h0M150.6 91.5h0" stroke="#ff2c0c" stroke-opacity="0.5" stroke-width="2.2" stroke-linecap="round" fill="none"/>
<path d="M152.4 69.2h0M150.8 80.2h0M152.1 126.2h0M154.3 92.1h0M149.9 81.8h0M150.9 94.3h0M151.8 73.8h0M149.2 91.3h0M152.7 64.8h0M153.5 95.6h0M150.4 91.8h0M151.5 116.2h0M151.2 98.0h0M153.4 117.7h0M150.7 109.7h0M152.6 79.0h0M153.5 72.2h0M153.6 120.9h0M152.3 102.8h0M152.0 81.3h0M152.6 103.2h0M150.6 97.6h0M153.7 120.7h0M151.9 72.0h0M151.4 77.6h0M154.1 96.7h0M153.2 80.6h0M148.9 94.4h0M153.0 94.9h0M153.4 95.9h0M150.6 83.9h0M150.8 47.2h0M150.9 76.6h0M154.3 92.3h0M153.5 100.5h0M151.2 84.1h0M150.6 126.7h0M149.4 102.8h0M152.8 97.4h0M152.0 67.8h0M149.6 94.7h0M151.9 116.6h0M151.3 84.8h0M151.5 101.4h0M150.3 102.0h0M149.6 89.0h0M149.6 93.3h0M152.0 80.0h0M151.9 120.4h0M149.5 87.8h0M150.9 127.6h0M150.6 110.7h0M151.2 104.6h0M152.3 70.6h0M153.1 102.5h0M150.4 68.2h0M151.3 53.2h0M151.6 103.1h0M151.6 71.0h0M153.0 123.4h0M152.4 90.2h0M153.0 115.2h0M152.0 99.5h0M149.5 103.5h0M151.2 112.5h0M153.2 95.1h0M150.2 82.5h0M151.8 91.1h0M152.3 104.1h0M150.8 124.9h0M152.9 88.6h0M149.6 103.5h0M150.7 94.6h0M153.4 105.4h0M149.5 101.4h0M151.4 119.1h0" stroke="#ff2c0c" stroke-opacity="0.5" stroke-width="2.2" stroke-linecap="round" fill="none"/>
<path d="M151.71 87.80V62.34M151.71 105.79V128.89" stroke="#ff2c0c" stroke-width="0.6"/>
<rect x="148.41" y="87.80" width="6.6" height="17.98" fill="#fff" fill-opacity="0.38" stroke="#ff2c0c" stroke-width="0.6"/>
<path d="M148.41 95.09h6.6" stroke="#ff2c0c" stroke-width="1.6"/>
<path d="M161.7 119.0h0M159.1 59.1h0M161.9 123.7h0M161.5 40.4h0M158.1 44.5h0M161.3 128.0h0M162.8 127.0h0" stroke="#2c52b0" stroke-opacity="0.5" stroke-width="2.2" stroke-linecap="round" fill="none"/>
<path d="M160.4 99.2h0M159.3 84.3h0M160.8 46.8h0M161.1 54.3h0M159.3 120.4h0M158.7 41.7h0M161.5 125.8h0" stroke="#2c52b0" stroke-opacity="0.5" stroke-width="2.2" stroke-linecap="round" fill="none"/>
<path d="M160.7 54.9h0M159.1 121.8h0M160.7 45.0h0M161.0 69.9h0M158.4 127.9h0M159.4 125.4h0M161.0 49.6h0" stroke="#2c52b0" stroke-opacity="0.5" stroke-width="2.2" stroke-linecap="round" fill="none"/>
<path d="M158.4 106.8h0M162.1 121.5h0M157.9 126.4h0M159.6 77.6h0M161.3 111.8h0M160.0 94.5h0M159.1 127.0h0" stroke="#2c52b0" stroke-opacity="0.5" stroke-width="2.2" stroke-linecap="round" fill="none"/>
<path d="M158.1 127.4h0M160.7 124.7h0M160.1 120.1h0M158.7 128.2h0M158.8 122.7h0M160.1 129.0h0M161.2 123.8h0" stroke="#2c52b0" stroke-opacity="0.5" stroke-width="2.2" stroke-linecap="round" fill="none"/>
<path d="M160.6 119.1h0M159.6 51.5h0M159.9 63.4h0M159.4 126.1h0M158.5 49.8h0M159.7 86.3h0" stroke="#2c52b0" stroke-opacity="0.5" stroke-width="2.2" stroke-linecap="round" fill="none"/>
<path d="M159.98 59.10V40.39M159.98 125.52V128.93" stroke="#2c52b0" stroke-width="0.6"/>
<rect x="156.68" y="59.10" width="6.6" height="66.42" fill="#fff" fill-opacity="0.38" stroke="#2c52b0" stroke-width="0.6"/>
<path d="M156.68 118.88h6.6" stroke="#2c52b0" stroke-width="1.6"/>
<path d="M167.1 117.1h0M170.0 123.2h0M169.0 128.7h0M167.1 125.6h0M167.0 128.5h0M166.4 125.0h0M168.3 128.9h0M167.4 128.6h0" stroke="#ff2c0c" stroke-opacity="0.5" stroke-width="2.2" stroke-linecap="round" fill="none"/>
<path d="M167.6 127.5h0M168.2 128.8h0M167.3 129.2h0M166.6 128.8h0M170.2 125.0h0M169.4 127.0h0M169.7 128.6h0M170.5 128.8h0" stroke="#ff2c0c" stroke-opacity="0.5" stroke-width="2.2" stroke-linecap="round" fill="none"/>
<path d="M166.3 128.8h0M165.7 124.4h0M170.1 128.5h0M169.9 128.9h0M167.0 129.0h0M170.4 127.1h0M167.6 128.7h0M170.1 126.1h0" stroke="#ff2c0c" stroke-opacity="0.5" stroke-width="2.2" stroke-linecap="round" fill="none"/>
<path d="M169.6 128.7h0M165.7 127.3h0M166.7 128.9h0M167.0 128.7h0M168.0 127.9h0M170.6 128.5h0M167.7 112.4h0M168.1 128.7h0" stroke="#ff2c0c" stroke-opacity="0.5" stroke-width="2.2" stroke-linecap="round" fill="none"/>
<path d="M170.6 128.5h0M169.6 119.6h0M170.1 124.3h0M169.4 127.8h0M168.2 121.3h0M169.8 116.4h0M169.7 115.0h0M166.8 129.0h0" stroke="#ff2c0c" stroke-opacity="0.5" stroke-width="2.2" stroke-linecap="round" fill="none"/>
<path d="M166.3 128.7h0M167.0 129.0h0M167.4 128.8h0M166.7 105.0h0M165.7 126.3h0M168.9 113.8h0M166.9 118.1h0M168.9 109.4h0" stroke="#ff2c0c" stroke-opacity="0.5" stroke-width="2.2" stroke-linecap="round" fill="none"/>
<path d="M168.26 124.59V119.40M168.26 128.70V128.98" stroke="#ff2c0c" stroke-width="0.6"/>
<rect x="164.96" y="124.59" width="6.6" height="4.11" fill="#fff" fill-opacity="0.38" stroke="#ff2c0c" stroke-width="0.6"/>
<path d="M164.96 128.28h6.6" stroke="#ff2c0c" stroke-width="1.6"/>
<path d="M177.7 65.6h0M175.3 82.3h0M175.0 67.9h0M179.1 106.9h0M175.6 129.0h0M178.6 128.9h0M174.0 128.5h0M174.9 128.4h0M177.4 121.2h0M174.1 128.3h0M178.0 128.6h0M179.4 128.9h0M178.4 128.5h0M174.6 86.9h0M178.4 112.6h0M175.9 128.3h0M177.8 109.7h0M177.2 128.5h0M176.4 119.7h0M175.5 90.8h0M178.7 93.5h0M174.9 96.0h0M174.5 119.9h0M177.3 86.4h0M176.7 101.3h0M179.2 106.4h0M177.0 124.1h0M174.7 87.7h0M176.6 116.5h0M177.9 128.5h0M175.8 105.4h0" stroke="#ff2c0c" stroke-opacity="0.5" stroke-width="2.2" stroke-linecap="round" fill="none"/>
<path d="M178.7 128.9h0M177.9 60.2h0M176.2 69.5h0M177.3 83.9h0M177.8 75.9h0M176.2 128.8h0M175.6 66.4h0M176.0 113.6h0M178.6 107.3h0M174.7 79.3h0M176.8 99.5h0M179.2 126.4h0M178.8 97.0h0M178.0 128.9h0M178.5 103.2h0M178.5 83.1h0M174.7 103.7h0M174.9 103.1h0M176.6 115.9h0M174.2 128.8h0M179.2 128.7h0M175.6 58.4h0M174.5 128.4h0M177.5 94.0h0M177.1 128.8h0M178.5 118.6h0M175.1 106.1h0M177.3 80.5h0M178.4 99.9h0M173.9 115.4h0M175.1 127.7h0" stroke="#ff2c0c" stroke-opacity="0.5" stroke-width="2.2" stroke-linecap="round" fill="none"/>
<path d="M179.1 108.1h0M177.2 95.1h0M175.2 125.7h0M173.9 98.8h0M175.6 77.5h0M178.3 102.7h0M179.2 100.5h0M176.1 84.7h0M175.7 128.3h0M174.1 102.3h0M176.5 71.2h0M178.6 121.9h0M177.1 127.4h0M178.7 112.2h0M175.8 62.0h0M179.1 128.8h0M173.8 121.8h0M178.9 123.5h0M178.8 100.5h0M179.1 128.4h0M174.9 128.8h0M176.5 113.8h0M175.0 128.8h0M175.4 78.5h0M176.9 128.8h0M176.4 128.8h0M174.2 128.9h0M178.3 128.8h0M176.0 128.9h0M178.7 110.0h0M177.0 82.7h0" stroke="#ff2c0c" stroke-opacity="0.5" stroke-width="2.2" stroke-linecap="round" fill="none"/>
<path d="M175.4 128.8h0M176.1 128.6h0M174.8 129.1h0M176.8 128.7h0M177.3 128.6h0M178.1 101.3h0M176.2 99.6h0M175.2 92.0h0M176.6 97.6h0M175.7 128.9h0M177.1 89.2h0M179.2 122.5h0M176.8 104.6h0M176.1 76.8h0M174.9 108.6h0M178.8 105.0h0M175.4 101.9h0M176.1 85.7h0M174.7 128.7h0M177.0 116.0h0M175.9 106.6h0M177.9 128.5h0M176.2 98.2h0M174.5 87.4h0M175.2 124.5h0M174.6 113.9h0M178.0 107.9h0M178.7 128.9h0M174.5 123.3h0M176.7 128.6h0M176.3 92.6h0" stroke="#ff2c0c" stroke-opacity="0.5" stroke-width="2.2" stroke-linecap="round" fill="none"/>
<path d="M177.0 115.6h0M175.8 129.0h0M174.2 121.7h0M174.3 92.4h0M177.3 103.3h0M176.7 111.0h0M178.2 110.7h0M174.6 117.1h0M174.0 114.6h0M178.0 128.1h0M176.1 90.6h0M176.5 89.5h0M175.6 104.1h0M179.4 127.1h0M174.3 126.9h0M174.2 117.9h0M176.9 106.3h0M174.2 101.9h0M174.0 97.8h0M174.6 128.4h0M174.3 98.8h0M177.4 125.6h0M174.7 128.8h0M177.6 112.1h0M175.6 105.6h0M175.7 125.2h0M174.0 118.2h0M179.2 109.0h0M177.0 124.8h0M177.4 81.8h0" stroke="#ff2c0c" stroke-opacity="0.5" stroke-width="2.2" stroke-linecap="round" fill="none"/>
<path d="M178.7 128.9h0M177.2 72.5h0M173.7 128.4h0M177.6 115.2h0M176.4 96.7h0M176.1 109.7h0M177.5 56.3h0M177.1 128.9h0M174.1 110.9h0M178.2 113.1h0M177.6 101.0h0M175.1 108.4h0M175.4 81.2h0M176.6 119.5h0M174.0 128.3h0M176.6 89.2h0M175.6 128.9h0M176.5 117.0h0M179.3 120.5h0M177.0 104.8h0M175.1 109.2h0M176.7 85.2h0M176.9 94.4h0M178.5 120.5h0M176.1 63.2h0M175.2 123.1h0M175.6 98.2h0M176.8 80.2h0M176.5 118.7h0M173.9 110.7h0" stroke="#ff2c0c" stroke-opacity="0.5" stroke-width="2.2" stroke-linecap="round" fill="none"/>
<path d="M176.53 97.49V56.01M176.53 128.38V128.99" stroke="#ff2c0c" stroke-width="0.6"/>
<rect x="173.23" y="97.49" width="6.6" height="30.90" fill="#fff" fill-opacity="0.38" stroke="#ff2c0c" stroke-width="0.6"/>
<path d="M173.23 111.08h6.6" stroke="#ff2c0c" stroke-width="1.6"/>
<path d="M186.8 126.5h0M182.9 128.7h0" stroke="#2c52b0" stroke-opacity="0.5" stroke-width="2.2" stroke-linecap="round" fill="none"/>
<path d="M182.9 128.4h0M182.8 128.8h0" stroke="#2c52b0" stroke-opacity="0.5" stroke-width="2.2" stroke-linecap="round" fill="none"/>
<path d="M184.8 128.6h0M182.2 128.9h0" stroke="#2c52b0" stroke-opacity="0.5" stroke-width="2.2" stroke-linecap="round" fill="none"/>
<path d="M183.0 129.1h0M183.9 129.2h0" stroke="#2c52b0" stroke-opacity="0.5" stroke-width="2.2" stroke-linecap="round" fill="none"/>
<path d="M184.8 128.7h0M185.2 129.1h0" stroke="#2c52b0" stroke-opacity="0.5" stroke-width="2.2" stroke-linecap="round" fill="none"/>
<path d="M185.3 120.8h0" stroke="#2c52b0" stroke-opacity="0.5" stroke-width="2.2" stroke-linecap="round" fill="none"/>
<path d="M184.80 128.63V128.57M184.80 128.89V128.97" stroke="#2c52b0" stroke-width="0.6"/>
<rect x="181.50" y="128.63" width="6.6" height="0.25" fill="#fff" fill-opacity="0.38" stroke="#2c52b0" stroke-width="0.6"/>
<path d="M181.50 128.79h6.6" stroke="#2c52b0" stroke-width="1.6"/>
<path d="M192.3 129.2h0M193.1 125.7h0M191.9 114.7h0M194.9 125.6h0M191.2 129.1h0M195.9 129.0h0M194.0 127.0h0M192.0 128.8h0M192.2 129.1h0M194.7 122.0h0M193.1 105.7h0M191.7 129.1h0M194.4 128.7h0M192.3 111.6h0M194.0 112.0h0M192.3 113.3h0M194.0 92.1h0M191.4 128.0h0M193.7 117.0h0M194.6 125.4h0M194.4 107.2h0M193.7 115.9h0M194.1 118.2h0M191.8 127.4h0M192.7 128.9h0M191.1 128.7h0" stroke="#ff2c0c" stroke-opacity="0.5" stroke-width="2.2" stroke-linecap="round" fill="none"/>
<path d="M195.6 123.1h0M195.4 127.8h0M192.2 128.6h0M194.4 124.4h0M191.1 124.8h0M192.3 108.7h0M193.4 128.9h0M192.5 128.5h0M192.5 128.6h0M192.9 90.1h0M191.4 117.2h0M192.3 117.4h0M192.3 107.5h0M191.7 128.9h0M193.3 83.7h0M193.8 123.3h0M194.7 117.7h0M194.3 128.5h0M191.5 121.1h0M193.5 121.8h0M191.7 125.8h0M196.0 129.0h0M192.0 125.2h0M194.0 127.9h0M192.8 126.1h0M191.9 124.3h0" stroke="#ff2c0c" stroke-opacity="0.5" stroke-width="2.2" stroke-linecap="round" fill="none"/>
<path d="M193.1 113.5h0M191.9 113.8h0M195.6 125.0h0M192.7 125.8h0M191.9 105.2h0M191.8 128.8h0M191.0 127.8h0M193.9 128.5h0M194.2 125.3h0M191.9 87.8h0M193.0 106.2h0M192.0 101.6h0M190.9 129.0h0M193.5 128.6h0M193.6 126.6h0M193.1 68.7h0M194.3 111.8h0M195.0 126.4h0M193.1 98.0h0M195.0 128.7h0M195.9 129.0h0M194.2 115.6h0M195.4 125.9h0M193.9 122.7h0M191.0 127.1h0M195.8 126.7h0" stroke="#ff2c0c" stroke-opacity="0.5" stroke-width="2.2" stroke-linecap="round" fill="none"/>
<path d="M193.0 125.0h0M194.4 127.4h0M194.4 98.5h0M194.0 101.5h0M191.3 129.1h0M194.7 113.2h0M193.7 115.9h0M194.4 128.2h0M190.3 128.8h0M193.9 121.6h0M193.4 78.9h0M194.1 108.5h0M194.1 129.0h0M193.0 124.0h0M191.3 128.9h0M195.8 128.9h0M194.9 129.0h0M194.4 127.3h0M192.9 86.7h0M192.6 100.4h0M194.2 104.4h0M194.5 96.5h0M195.1 127.6h0M194.6 119.6h0M194.2 119.9h0" stroke="#ff2c0c" stroke-opacity="0.5" stroke-width="2.2" stroke-linecap="round" fill="none"/>
<path d="M192.6 98.6h0M194.0 124.7h0M194.4 124.8h0M192.2 103.1h0M192.3 128.9h0M192.4 116.5h0M191.9 114.6h0M191.7 128.9h0M193.4 99.8h0M191.7 128.9h0M192.2 93.8h0M192.0 80.7h0M193.4 110.3h0M195.9 128.7h0M193.7 119.1h0M190.3 128.9h0M193.0 96.8h0M194.8 120.3h0M193.1 114.6h0M192.0 76.3h0M194.1 127.8h0M195.6 124.2h0M194.6 94.8h0M192.8 103.5h0M193.8 127.3h0" stroke="#ff2c0c" stroke-opacity="0.5" stroke-width="2.2" stroke-linecap="round" fill="none"/>
<path d="M193.2 111.5h0M195.9 128.9h0M192.2 91.9h0M195.9 126.2h0M194.2 112.8h0M191.6 109.6h0M192.2 128.6h0M191.1 120.9h0M194.1 95.8h0M193.9 94.1h0M195.7 127.6h0M193.9 116.2h0M192.3 129.0h0M195.1 125.7h0M191.5 119.4h0M195.4 129.1h0M195.4 128.5h0M192.0 102.3h0M193.0 92.8h0M194.9 128.9h0M193.4 128.8h0M191.0 125.8h0M193.3 122.4h0M190.4 129.1h0M193.5 118.8h0" stroke="#ff2c0c" stroke-opacity="0.5" stroke-width="2.2" stroke-linecap="round" fill="none"/>
<path d="M193.08 111.48V86.76M193.08 128.66V128.99" stroke="#ff2c0c" stroke-width="0.6"/>
<rect x="189.78" y="111.48" width="6.6" height="17.17" fill="#fff" fill-opacity="0.38" stroke="#ff2c0c" stroke-width="0.6"/>
<path d="M189.78 124.32h6.6" stroke="#ff2c0c" stroke-width="1.6"/>
<path d="M201.8 128.9h0" stroke="#2c52b0" stroke-opacity="0.5" stroke-width="2.2" stroke-linecap="round" fill="none"/>
<path d="M203.0 128.6h0" stroke="#2c52b0" stroke-opacity="0.5" stroke-width="2.2" stroke-linecap="round" fill="none"/>
<path d="M200.9 129.2h0" stroke="#2c52b0" stroke-opacity="0.5" stroke-width="2.2" stroke-linecap="round" fill="none"/>
<path d="M201.3 128.7h0" stroke="#2c52b0" stroke-opacity="0.5" stroke-width="2.2" stroke-linecap="round" fill="none"/>
<path d="M199.6 128.8h0" stroke="#2c52b0" stroke-opacity="0.5" stroke-width="2.2" stroke-linecap="round" fill="none"/>
<path d="M201.35 128.74V128.66M201.35 128.92V128.99" stroke="#2c52b0" stroke-width="0.6"/>
<rect x="198.05" y="128.74" width="6.6" height="0.17" fill="#fff" fill-opacity="0.38" stroke="#2c52b0" stroke-width="0.6"/>
<path d="M198.05 128.80h6.6" stroke="#2c52b0" stroke-width="1.6"/>
<path d="M207.9 127.8h0M211.2 127.8h0M208.5 127.6h0M209.1 127.9h0M209.5 126.9h0M210.7 128.9h0M210.4 128.6h0M207.8 119.7h0M211.7 127.9h0M207.7 125.6h0M212.3 128.5h0M209.9 79.7h0M209.4 122.1h0M208.4 127.6h0M207.8 128.9h0M208.1 103.6h0M210.5 128.7h0M210.3 127.5h0M209.3 120.4h0M209.8 86.2h0M207.9 119.1h0M211.0 128.9h0M212.5 128.1h0M212.1 128.9h0M209.4 121.7h0M207.8 119.6h0M209.4 82.9h0M207.9 127.4h0M208.4 128.2h0M209.3 127.6h0M211.0 129.0h0M207.3 127.2h0M211.6 127.6h0M208.6 122.8h0M210.8 118.2h0M209.1 115.4h0M210.0 77.8h0M210.7 128.1h0M210.2 107.7h0M209.8 89.2h0M209.8 128.8h0M208.7 129.1h0M210.5 128.7h0M212.4 128.9h0M210.2 113.4h0M210.9 128.6h0M210.9 129.1h0M208.9 129.1h0M208.5 128.6h0M210.4 102.9h0M207.2 129.2h0M207.3 128.8h0M207.1 128.6h0M211.3 128.1h0M209.4 120.3h0M210.1 110.9h0M210.3 114.7h0M211.6 128.4h0M210.9 127.2h0M211.4 121.3h0M211.6 128.9h0M212.3 128.9h0M207.8 128.8h0M211.5 128.9h0M211.1 127.4h0M208.0 128.7h0M209.4 128.1h0M210.4 104.8h0M209.8 128.9h0M210.7 125.7h0M209.2 128.8h0M209.7 127.3h0M208.3 120.2h0M209.5 125.3h0M210.1 107.5h0M210.9 128.9h0M210.4 127.9h0M208.4 128.9h0M208.3 121.9h0M208.1 128.3h0M209.8 125.9h0M208.6 128.9h0M209.6 95.3h0M207.5 121.2h0M208.5 114.2h0M208.3 128.6h0M208.9 123.0h0" stroke="#ff2c0c" stroke-opacity="0.5" stroke-width="2.2" stroke-linecap="round" fill="none"/>
<path d="M207.9 128.8h0M211.4 128.8h0M207.2 129.1h0M211.8 128.6h0M210.0 118.9h0M211.4 128.9h0M210.1 129.0h0M208.6 128.8h0M210.9 127.3h0M211.0 128.9h0M208.1 128.7h0M208.0 129.0h0M209.0 117.2h0M211.4 128.9h0M208.7 127.9h0M209.3 128.2h0M210.8 127.8h0M208.5 108.4h0M209.3 101.8h0M210.0 104.8h0M211.2 105.1h0M210.2 127.4h0M209.8 128.9h0M210.7 123.7h0M207.1 128.5h0M207.6 128.7h0M210.6 88.0h0M211.3 128.4h0M206.8 127.6h0M207.0 127.8h0M210.7 128.6h0M210.0 107.0h0M209.1 127.4h0M207.0 128.5h0M209.4 128.7h0M211.4 128.7h0M211.1 93.3h0M210.6 128.7h0M206.8 129.0h0M210.8 114.3h0M210.1 106.1h0M212.3 126.1h0M209.5 96.6h0M210.6 108.7h0M209.0 116.4h0M207.0 126.8h0M209.3 120.5h0M209.0 127.5h0M211.9 129.0h0M209.6 81.4h0M210.5 128.9h0M207.2 128.2h0M207.6 128.6h0M210.2 129.1h0M210.3 101.2h0M209.0 121.2h0M210.8 128.3h0M211.1 128.8h0M208.6 123.3h0M210.0 127.2h0M208.2 128.7h0M211.0 128.0h0M210.0 117.1h0M208.9 126.9h0M209.6 128.7h0M209.0 114.2h0M209.4 119.8h0M208.6 128.2h0M210.7 106.1h0M210.0 128.6h0M209.7 101.8h0M209.3 87.4h0M212.0 129.1h0M209.2 129.2h0M210.6 92.0h0M209.3 127.9h0M207.7 128.8h0M208.5 80.2h0M210.0 128.7h0M211.6 128.9h0M208.1 128.5h0M209.1 124.7h0M210.3 124.8h0M211.3 125.3h0M210.0 128.2h0M209.2 127.5h0M208.7 127.7h0" stroke="#ff2c0c" stroke-opacity="0.5" stroke-width="2.2" stroke-linecap="round" fill="none"/>
<path d="M210.3 128.5h0M210.8 118.0h0M209.3 111.8h0M207.8 128.5h0M211.2 105.4h0M208.8 127.9h0M208.9 121.9h0M209.0 96.5h0M210.1 90.1h0M210.6 111.1h0M208.7 124.9h0M209.5 119.7h0M208.1 123.4h0M210.4 126.4h0M210.9 73.1h0M208.8 128.6h0M207.6 122.1h0M211.2 81.1h0M207.4 128.9h0M208.9 108.1h0M208.9 119.9h0M208.3 104.0h0M208.1 111.2h0M206.8 128.0h0M208.8 128.5h0M211.9 128.9h0M209.3 86.4h0M210.6 109.2h0M210.1 119.2h0M208.7 123.8h0M206.9 128.7h0M206.7 128.4h0M211.4 123.6h0M209.7 119.4h0M209.5 115.7h0M208.3 128.8h0M208.3 124.5h0M208.1 113.5h0M207.6 128.6h0M212.4 128.5h0M208.6 129.1h0M212.1 128.7h0M211.4 127.6h0M211.7 122.5h0M207.5 121.0h0M209.0 128.7h0M211.8 127.9h0M209.0 128.0h0M209.2 123.3h0M212.0 127.5h0M212.0 128.9h0M209.0 129.2h0M211.1 128.7h0M208.0 125.3h0M212.2 128.9h0M210.7 129.1h0M210.0 121.1h0M210.9 99.7h0M208.1 123.9h0M210.5 128.2h0M211.1 125.1h0M211.5 128.9h0M211.6 126.0h0M212.3 127.7h0M209.5 116.5h0M212.2 128.7h0M208.9 118.7h0M208.9 129.1h0M212.0 128.6h0M208.2 92.8h0M210.4 128.8h0M210.4 100.3h0M209.7 128.5h0M210.4 120.5h0M207.3 129.0h0M211.2 123.4h0M209.9 99.1h0M211.8 128.8h0M210.6 129.1h0M207.6 129.1h0M210.5 125.0h0M211.1 128.3h0M209.8 128.6h0M208.5 119.5h0M211.1 85.3h0M209.6 90.8h0M209.2 104.2h0" stroke="#ff2c0c" stroke-opacity="0.5" stroke-width="2.2" stroke-linecap="round" fill="none"/>
<path d="M208.5 128.6h0M208.1 128.2h0M211.0 125.4h0M211.3 128.4h0M210.4 127.2h0M210.3 114.9h0M211.6 126.0h0M208.3 119.2h0M208.3 122.4h0M208.6 110.0h0M210.9 128.9h0M209.2 129.0h0M210.1 102.0h0M210.1 129.1h0M209.4 126.1h0M208.2 102.7h0M210.4 128.8h0M211.9 124.2h0M209.3 127.6h0M208.0 128.1h0M208.2 120.6h0M208.7 128.5h0M210.7 128.2h0M211.6 121.3h0M209.9 128.7h0M208.4 104.2h0M209.0 128.9h0M210.5 100.2h0M209.6 128.6h0M209.5 127.3h0M206.9 128.7h0M208.9 127.9h0M209.0 119.2h0M210.4 124.4h0M207.8 127.5h0M208.8 128.6h0M210.2 129.0h0M211.0 128.2h0M207.5 128.8h0M211.8 129.0h0M211.2 128.7h0M209.0 104.1h0M210.9 128.6h0M210.8 112.7h0M209.5 128.7h0M208.1 128.9h0M208.7 128.0h0M211.4 126.3h0M209.0 124.2h0M209.1 127.7h0M210.6 128.3h0M210.6 128.1h0M212.1 128.9h0M211.3 129.0h0M208.5 122.0h0M209.9 113.8h0M211.0 105.7h0M210.9 118.7h0M210.6 128.7h0M208.1 101.3h0M208.5 104.8h0M209.3 123.8h0M208.0 120.2h0M210.5 127.9h0M208.3 129.0h0M209.7 118.0h0M209.8 128.8h0M211.7 121.9h0M207.3 128.3h0M211.9 127.3h0M210.8 109.5h0M207.8 120.9h0M208.4 105.2h0M208.5 105.6h0M208.2 103.7h0M209.4 123.4h0M211.2 128.8h0M211.0 119.0h0M209.0 108.8h0M207.9 118.4h0M207.7 125.2h0M207.9 118.3h0M208.1 109.6h0M210.1 118.4h0M209.4 103.1h0M209.7 108.8h0M208.0 123.2h0" stroke="#ff2c0c" stroke-opacity="0.5" stroke-width="2.2" stroke-linecap="round" fill="none"/>
<path d="M212.5 126.7h0M210.8 124.1h0M210.0 121.1h0M212.1 123.3h0M211.1 121.6h0M208.8 123.4h0M206.8 127.2h0M209.7 117.3h0M207.5 122.7h0M206.8 128.7h0M210.6 101.9h0M210.2 127.6h0M209.6 123.8h0M208.4 128.6h0M208.7 127.4h0M209.0 120.7h0M212.4 128.5h0M211.0 118.6h0M208.9 127.6h0M208.8 124.8h0M210.2 113.8h0M210.6 128.9h0M207.4 127.4h0M209.0 128.6h0M209.1 123.3h0M210.6 94.3h0M208.0 128.6h0M209.5 128.6h0M207.4 129.2h0M207.9 128.8h0M207.1 129.2h0M207.6 127.6h0M210.0 98.1h0M208.3 117.6h0M207.8 128.0h0M207.0 129.0h0M208.8 125.1h0M210.8 129.3h0M211.5 127.8h0M211.1 129.1h0M209.0 109.9h0M210.5 102.4h0M207.6 128.8h0M208.4 128.8h0M207.4 129.0h0M209.4 123.2h0M210.1 108.0h0M208.6 128.2h0M210.0 125.3h0M210.4 122.9h0M209.9 106.6h0M211.1 107.0h0M211.9 128.9h0M207.5 128.0h0M206.8 125.9h0M208.0 128.7h0M211.1 102.2h0M211.1 128.6h0M210.8 127.5h0M211.0 100.5h0M210.1 128.1h0M209.9 126.6h0M210.1 116.3h0M207.9 127.6h0M211.6 127.2h0M208.3 110.9h0M208.9 128.1h0M210.4 128.6h0M210.2 106.9h0M208.9 116.6h0M211.3 128.6h0M208.9 129.0h0M209.1 121.8h0M208.1 110.3h0M208.8 105.8h0M209.0 100.6h0M212.4 128.4h0M209.6 99.9h0M212.0 127.4h0M210.2 112.7h0M209.8 125.2h0M209.4 111.7h0M207.9 119.9h0M208.7 118.7h0M210.4 129.0h0M208.8 113.5h0" stroke="#ff2c0c" stroke-opacity="0.5" stroke-width="2.2" stroke-linecap="round" fill="none"/>
<path d="M209.8 126.5h0M206.8 127.5h0M210.3 129.2h0M208.3 127.6h0M208.6 107.3h0M210.0 112.2h0M210.1 111.5h0M210.9 117.7h0M210.3 121.6h0M208.5 102.8h0M210.9 118.7h0M208.9 106.8h0M211.1 118.7h0M208.6 127.8h0M207.0 129.2h0M210.6 112.1h0M209.1 68.5h0M210.0 119.7h0M209.1 128.4h0M207.3 127.9h0M208.5 114.4h0M211.4 128.0h0M211.8 128.9h0M212.3 128.3h0M207.1 128.6h0M209.8 116.8h0M207.4 124.3h0M206.8 128.9h0M211.7 126.8h0M211.1 118.7h0M210.3 128.3h0M209.2 128.5h0M206.9 127.6h0M208.4 127.2h0M209.2 127.2h0M210.6 115.5h0M208.4 122.6h0M208.0 128.8h0M210.5 129.1h0M209.1 101.3h0M211.2 127.5h0M209.5 128.6h0M211.5 122.4h0M209.5 111.4h0M211.7 128.8h0M207.4 126.6h0M208.2 115.5h0M208.3 128.8h0M209.9 128.5h0M207.0 129.2h0M210.7 124.2h0M208.8 109.6h0M208.4 128.7h0M211.8 128.7h0M211.5 128.5h0M208.5 128.9h0M210.0 110.3h0M208.5 126.6h0M209.9 99.0h0M211.0 120.4h0M209.1 116.9h0M210.5 120.4h0M210.6 122.2h0M209.8 99.9h0M211.3 127.9h0M212.0 128.6h0M212.3 127.7h0M207.7 126.4h0M209.9 128.6h0M212.1 128.5h0M211.0 118.5h0M208.8 99.4h0M209.4 83.4h0M210.0 129.2h0M207.8 119.9h0M209.4 128.3h0M208.3 113.3h0M207.6 127.1h0M211.0 102.4h0M210.0 114.9h0M209.7 125.9h0M209.5 112.0h0M209.9 119.4h0M209.1 109.1h0M212.5 128.1h0M210.5 121.5h0" stroke="#ff2c0c" stroke-opacity="0.5" stroke-width="2.2" stroke-linecap="round" fill="none"/>
<path d="M209.62 117.91V101.85M209.62 128.77V129.00" stroke="#ff2c0c" stroke-width="0.6"/>
<rect x="206.32" y="117.91" width="6.6" height="10.86" fill="#fff" fill-opacity="0.38" stroke="#ff2c0c" stroke-width="0.6"/>
<path d="M206.32 127.27h6.6" stroke="#ff2c0c" stroke-width="1.6"/>
<path d="M216.2 128.9h0M217.2 129.2h0M219.1 125.0h0M216.6 128.6h0M217.4 128.3h0M215.2 129.0h0M218.8 128.7h0M219.9 128.5h0" stroke="#2c52b0" stroke-opacity="0.5" stroke-width="2.2" stroke-linecap="round" fill="none"/>
<path d="M217.9 129.1h0M216.5 129.0h0M217.1 128.6h0M220.1 128.9h0M218.1 127.7h0M217.3 128.6h0M218.8 129.0h0M218.6 129.1h0" stroke="#2c52b0" stroke-opacity="0.5" stroke-width="2.2" stroke-linecap="round" fill="none"/>
<path d="M219.8 128.8h0M217.5 128.7h0M219.1 128.9h0M217.4 128.9h0M216.0 123.8h0M215.2 128.9h0M217.3 129.2h0" stroke="#2c52b0" stroke-opacity="0.5" stroke-width="2.2" stroke-linecap="round" fill="none"/>
<path d="M216.4 128.9h0M216.9 127.1h0M216.3 127.8h0M215.1 127.5h0M218.0 128.7h0M218.2 129.2h0M215.7 128.7h0" stroke="#2c52b0" stroke-opacity="0.5" stroke-width="2.2" stroke-linecap="round" fill="none"/>
<path d="M215.8 126.7h0M216.5 128.9h0M218.9 126.9h0M215.3 127.7h0M216.0 129.0h0M215.1 128.5h0M217.2 128.8h0" stroke="#2c52b0" stroke-opacity="0.5" stroke-width="2.2" stroke-linecap="round" fill="none"/>
<path d="M216.2 126.8h0M219.0 128.5h0M219.1 128.9h0M218.6 128.6h0M216.0 128.5h0M217.1 128.9h0M218.8 128.7h0" stroke="#2c52b0" stroke-opacity="0.5" stroke-width="2.2" stroke-linecap="round" fill="none"/>
<path d="M217.89 128.32V127.57M217.89 128.87V129.00" stroke="#2c52b0" stroke-width="0.6"/>
<rect x="214.59" y="128.32" width="6.6" height="0.55" fill="#fff" fill-opacity="0.38" stroke="#2c52b0" stroke-width="0.6"/>
<path d="M214.59 128.76h6.6" stroke="#2c52b0" stroke-width="1.6"/>
<path d="M225.8 129.0h0M227.5 83.6h0M227.9 120.7h0M224.5 104.9h0M225.5 127.8h0M226.6 97.7h0M225.9 128.0h0M227.7 88.4h0M225.1 111.8h0M225.8 128.8h0M224.6 109.7h0M225.5 79.4h0M226.2 83.1h0M224.8 127.2h0M227.9 129.0h0M225.2 109.3h0M227.3 103.3h0" stroke="#ff2c0c" stroke-opacity="0.5" stroke-width="2.2" stroke-linecap="round" fill="none"/>
<path d="M225.8 117.8h0M226.4 101.7h0M225.6 75.2h0M225.8 128.7h0M226.6 128.1h0M227.6 95.6h0M227.5 93.3h0M225.7 120.1h0M227.7 127.9h0M226.0 102.2h0M225.1 87.4h0M224.7 72.5h0M226.5 110.5h0M224.7 107.2h0M227.5 80.4h0M224.1 128.3h0" stroke="#ff2c0c" stroke-opacity="0.5" stroke-width="2.2" stroke-linecap="round" fill="none"/>
<path d="M225.8 121.3h0M223.5 128.5h0M225.7 128.6h0M225.3 116.1h0M224.9 128.3h0M228.2 123.4h0M228.0 128.3h0M228.9 122.4h0M224.1 121.9h0M226.9 128.6h0M227.1 118.8h0M226.6 124.5h0M227.1 128.2h0M227.1 127.0h0M227.0 89.2h0M226.7 90.8h0" stroke="#ff2c0c" stroke-opacity="0.5" stroke-width="2.2" stroke-linecap="round" fill="none"/>
<path d="M224.5 113.5h0M226.1 76.5h0M228.2 121.9h0M225.5 119.8h0M227.7 126.7h0M224.9 99.5h0M225.6 113.3h0M226.6 128.7h0M225.9 93.5h0M228.1 123.2h0M227.6 114.9h0M226.5 85.4h0M228.5 127.7h0M224.4 106.7h0M226.8 70.4h0M225.9 126.2h0" stroke="#ff2c0c" stroke-opacity="0.5" stroke-width="2.2" stroke-linecap="round" fill="none"/>
<path d="M227.2 128.6h0M227.9 111.1h0M225.1 118.5h0M228.7 123.7h0M226.1 96.7h0M225.1 104.6h0M228.1 121.0h0M224.1 128.1h0M225.2 91.1h0M227.7 116.5h0M225.4 128.6h0M227.1 73.4h0M227.7 82.3h0M228.6 128.8h0M223.9 124.7h0M227.0 121.3h0" stroke="#ff2c0c" stroke-opacity="0.5" stroke-width="2.2" stroke-linecap="round" fill="none"/>
<path d="M224.1 126.1h0M227.3 125.4h0M225.7 98.6h0M224.9 128.4h0M224.9 127.2h0M225.4 128.6h0M224.4 114.4h0M227.7 125.4h0M227.5 108.5h0M228.6 122.3h0M224.4 128.0h0M225.2 106.4h0M225.6 128.4h0M226.1 103.9h0M224.6 123.6h0M226.9 113.0h0" stroke="#ff2c0c" stroke-opacity="0.5" stroke-width="2.2" stroke-linecap="round" fill="none"/>
<path d="M226.17 102.26V70.26M226.17 127.83V129.00" stroke="#ff2c0c" stroke-width="0.6"/>
<rect x="222.87" y="102.26" width="6.6" height="25.57" fill="#fff" fill-opacity="0.38" stroke="#ff2c0c" stroke-width="0.6"/>
<path d="M222.87 119.65h6.6" stroke="#ff2c0c" stroke-width="1.6"/>
<path d="M235.8 118.3h0M231.6 126.5h0M234.9 128.8h0M234.0 95.7h0M235.3 127.1h0M234.1 123.6h0M236.0 106.1h0M235.1 129.1h0M234.1 128.7h0M235.0 128.9h0M232.7 127.6h0M233.0 123.0h0M236.1 129.0h0M234.6 94.8h0M233.7 127.7h0M235.6 115.7h0M235.9 120.9h0M232.1 128.8h0M232.8 127.9h0M233.0 90.9h0M234.7 103.2h0M235.2 120.7h0M232.1 124.5h0M235.4 126.4h0M236.4 127.6h0M233.8 124.3h0M235.6 120.5h0M235.9 120.7h0M232.6 122.6h0M235.3 102.8h0M233.2 110.2h0M237.1 129.1h0M235.5 127.8h0M234.2 108.7h0M235.6 129.2h0M236.7 129.1h0M233.7 120.0h0M236.4 127.5h0M233.6 128.6h0M233.1 81.4h0M233.3 109.7h0M234.8 122.3h0M233.1 125.0h0M236.2 121.0h0M233.1 128.8h0M233.6 120.9h0M232.2 128.0h0M233.3 122.6h0M233.4 125.1h0M234.3 128.0h0M232.5 129.1h0M237.2 128.5h0M234.2 128.5h0M236.5 128.6h0M235.9 129.0h0M236.1 125.8h0M236.6 128.8h0M233.8 125.6h0M235.0 123.6h0M232.0 124.3h0M235.0 83.2h0M233.9 127.4h0M236.7 126.2h0M231.9 125.9h0M234.8 98.0h0M234.9 128.7h0M233.7 128.8h0M236.3 125.6h0M235.0 128.8h0M232.2 126.1h0M232.7 128.8h0" stroke="#ff2c0c" stroke-opacity="0.5" stroke-width="2.2" stroke-linecap="round" fill="none"/>
<path d="M235.1 72.8h0M233.3 111.5h0M233.8 128.9h0M235.5 116.4h0M234.7 114.2h0M235.6 129.1h0M234.3 101.5h0M234.5 128.5h0M236.0 112.8h0M233.7 128.8h0M235.9 127.8h0M235.8 128.6h0M234.2 127.2h0M232.5 124.6h0M235.2 128.0h0M233.6 129.0h0M236.0 128.8h0M232.8 127.8h0M236.1 125.1h0M233.1 127.7h0M235.9 124.5h0M233.2 97.0h0M235.2 121.0h0M235.9 128.4h0M232.8 122.7h0M233.5 127.8h0M233.1 102.5h0M233.3 115.7h0M233.3 123.6h0M232.3 123.2h0M234.5 128.9h0M234.6 128.6h0M232.1 127.9h0M236.1 127.7h0M235.5 128.9h0M237.1 128.3h0M232.2 128.4h0M237.1 128.7h0M233.8 116.6h0M235.6 107.2h0M236.6 128.9h0M236.1 129.0h0M236.5 129.2h0M237.0 129.0h0M236.3 125.3h0M232.4 128.1h0M233.2 129.1h0M235.0 128.8h0M234.3 118.6h0M232.0 128.7h0M233.9 128.8h0M232.8 123.0h0M234.5 105.0h0M235.4 106.8h0M233.2 127.1h0M233.5 127.4h0M236.1 128.2h0M233.8 117.4h0M234.7 129.1h0M235.2 129.2h0M235.2 128.8h0M237.2 128.8h0M234.4 117.1h0M235.0 103.6h0M236.0 128.6h0M234.7 128.8h0M232.9 128.5h0M232.5 121.4h0M234.8 110.5h0M233.1 129.2h0" stroke="#ff2c0c" stroke-opacity="0.5" stroke-width="2.2" stroke-linecap="round" fill="none"/>
<path d="M233.7 115.1h0M236.1 128.7h0M234.9 128.8h0M233.6 129.2h0M236.1 119.5h0M236.1 129.0h0M231.9 128.6h0M234.3 97.9h0M233.8 128.7h0M235.9 115.6h0M233.6 121.9h0M233.0 83.2h0M233.8 127.2h0M236.9 128.3h0M233.8 129.1h0M234.1 126.1h0M235.4 128.7h0M234.7 104.5h0M232.7 122.4h0M235.1 90.0h0M235.2 129.2h0M236.7 127.7h0M232.0 127.6h0M232.3 127.2h0M233.8 123.7h0M233.3 128.3h0M234.0 124.7h0M235.6 129.1h0M234.8 128.8h0M236.3 120.8h0M231.7 128.9h0M233.3 123.0h0M232.5 128.8h0M235.1 106.6h0M232.2 121.7h0M236.1 128.0h0M233.1 120.2h0M236.0 128.9h0M235.3 122.4h0M234.9 119.7h0M233.8 128.7h0M232.8 128.7h0M233.5 116.4h0M233.5 127.0h0M234.4 107.1h0M235.6 114.7h0M233.7 119.9h0M236.8 123.8h0M233.5 128.3h0M233.4 129.1h0M232.8 128.9h0M234.6 128.7h0M234.0 128.8h0M235.0 123.7h0M232.2 128.7h0M236.6 129.0h0M232.2 128.6h0M235.6 127.6h0M232.1 128.9h0M232.5 129.0h0M234.4 128.3h0M235.0 122.9h0M235.8 128.2h0M232.4 128.6h0M234.9 122.1h0M235.6 114.0h0M236.1 119.9h0M234.9 76.5h0M236.2 128.6h0M233.6 124.0h0" stroke="#ff2c0c" stroke-opacity="0.5" stroke-width="2.2" stroke-linecap="round" fill="none"/>
<path d="M235.3 122.4h0M235.9 127.9h0M234.5 128.6h0M232.7 124.7h0M234.2 127.4h0M234.4 103.1h0M234.1 113.1h0M233.6 128.3h0M233.7 129.0h0M236.4 128.8h0M232.5 126.9h0M232.7 128.4h0M232.7 127.7h0M233.0 128.2h0M233.6 127.2h0M236.0 113.3h0M232.2 128.0h0M235.7 127.7h0M236.5 127.8h0M234.4 115.4h0M235.2 114.2h0M235.9 107.6h0M236.2 128.0h0M235.4 128.6h0M234.1 110.4h0M237.3 128.9h0M237.0 128.8h0M232.8 118.6h0M232.9 121.0h0M233.2 111.0h0M235.4 112.0h0M234.8 117.8h0M233.4 127.5h0M232.0 127.7h0M234.0 124.6h0M233.2 108.0h0M235.5 122.4h0M236.6 127.1h0M234.7 128.4h0M232.0 123.5h0M234.0 127.3h0M233.0 129.0h0M236.6 127.9h0M236.7 127.7h0M235.6 127.4h0M234.5 118.1h0M232.4 127.0h0M237.3 128.8h0M235.3 112.8h0M233.5 128.3h0M235.8 128.0h0M233.7 124.3h0M233.9 129.2h0M236.7 128.0h0M232.3 128.1h0M234.4 88.7h0M233.3 128.8h0M232.6 128.1h0M236.6 127.1h0M233.0 106.9h0M234.2 113.4h0M232.9 104.2h0M233.8 128.3h0M232.6 129.0h0M233.8 127.7h0M234.9 126.6h0M233.9 125.4h0M233.4 106.1h0M234.8 93.6h0M236.1 128.6h0" stroke="#ff2c0c" stroke-opacity="0.5" stroke-width="2.2" stroke-linecap="round" fill="none"/>
<path d="M235.9 128.7h0M234.6 113.6h0M231.9 128.7h0M231.9 128.9h0M233.7 128.4h0M236.1 128.3h0M234.1 122.4h0M233.3 120.2h0M233.6 129.3h0M233.9 86.3h0M236.6 128.5h0M235.8 128.8h0M235.0 126.1h0M237.1 128.9h0M236.6 128.9h0M233.1 119.2h0M232.1 125.1h0M234.5 129.0h0M234.5 129.2h0M235.2 103.5h0M233.6 112.2h0M232.6 129.2h0M233.6 128.3h0M236.1 129.1h0M232.5 121.7h0M236.5 126.4h0M232.6 128.7h0M236.0 121.3h0M235.9 127.2h0M236.0 129.0h0M234.2 120.2h0M233.5 128.7h0M234.7 99.2h0M234.9 128.6h0M237.0 129.0h0M235.9 127.1h0M234.5 128.0h0M237.3 125.7h0M235.0 128.1h0M234.2 109.7h0M232.9 128.8h0M236.7 129.1h0M233.8 109.8h0M233.0 121.2h0M234.5 123.9h0M234.1 128.8h0M235.9 102.7h0M234.2 91.7h0M233.1 124.3h0M232.9 129.0h0M236.6 127.7h0M235.7 105.2h0M234.2 128.5h0M235.3 128.4h0M234.3 123.1h0M236.3 125.2h0M235.8 128.7h0M237.2 127.4h0M235.8 116.0h0M235.1 129.2h0M232.7 121.4h0M237.3 127.5h0M235.2 128.7h0M233.2 105.7h0M234.3 123.8h0M233.8 108.8h0M233.0 116.9h0M234.0 124.2h0M233.6 102.7h0M234.3 104.5h0" stroke="#ff2c0c" stroke-opacity="0.5" stroke-width="2.2" stroke-linecap="round" fill="none"/>
<path d="M233.9 112.4h0M235.8 105.2h0M235.2 120.9h0M236.4 129.0h0M234.4 128.1h0M233.7 127.9h0M236.4 121.1h0M234.2 121.8h0M233.4 125.3h0M232.9 128.4h0M233.0 123.3h0M232.5 128.5h0M234.9 119.0h0M234.3 125.7h0M236.6 129.1h0M233.9 126.9h0M234.5 121.7h0M236.1 121.5h0M232.0 127.8h0M235.9 87.4h0M236.8 123.9h0M236.0 122.0h0M234.7 129.0h0M235.8 108.3h0M235.1 109.4h0M234.9 128.4h0M233.0 109.0h0M233.8 129.2h0M236.6 126.5h0M233.0 117.4h0M234.9 121.5h0M236.3 128.9h0M232.9 127.6h0M236.3 126.5h0M236.4 128.6h0M233.2 127.7h0M233.3 114.7h0M233.8 129.0h0M232.9 128.4h0M233.7 102.0h0M236.2 120.7h0M235.0 84.4h0M234.8 77.6h0M234.0 128.6h0M233.7 128.5h0M237.3 128.7h0M231.9 128.1h0M234.9 127.7h0M234.6 111.3h0M233.9 108.1h0M237.3 127.6h0M234.5 126.5h0M234.0 120.5h0M234.5 124.8h0M233.5 101.6h0M233.1 108.0h0M234.8 101.3h0M233.9 127.3h0M235.4 123.5h0M235.5 104.5h0M233.5 128.5h0M235.6 128.9h0M232.1 127.7h0M234.1 128.9h0M233.6 128.6h0M232.9 127.9h0M232.1 122.6h0M236.0 105.8h0M233.8 110.9h0M233.8 111.7h0" stroke="#ff2c0c" stroke-opacity="0.5" stroke-width="2.2" stroke-linecap="round" fill="none"/>
<path d="M234.44 120.00V106.93M234.44 128.76V129.00" stroke="#ff2c0c" stroke-width="0.6"/>
<rect x="231.14" y="120.00" width="6.6" height="8.77" fill="#fff" fill-opacity="0.38" stroke="#ff2c0c" stroke-width="0.6"/>
<path d="M231.14 127.28h6.6" stroke="#ff2c0c" stroke-width="1.6"/>
<path d="M240.2 129.0h0M242.1 128.6h0M244.1 129.0h0M242.1 129.2h0M242.7 124.6h0M240.1 129.0h0M245.1 129.0h0M241.5 129.0h0M240.1 128.7h0M245.5 128.7h0M242.2 128.9h0" stroke="#ff2c0c" stroke-opacity="0.5" stroke-width="2.2" stroke-linecap="round" fill="none"/>
<path d="M243.8 121.2h0M242.9 128.2h0M243.6 128.6h0M242.3 128.8h0M241.1 128.5h0M241.3 128.4h0M243.4 128.5h0M242.7 125.9h0M240.1 128.5h0M242.7 128.7h0M242.7 128.8h0" stroke="#ff2c0c" stroke-opacity="0.5" stroke-width="2.2" stroke-linecap="round" fill="none"/>
<path d="M244.1 128.5h0M241.8 128.4h0M243.0 111.2h0M241.2 128.7h0M242.7 128.8h0M243.8 128.9h0M243.1 129.0h0M245.5 128.4h0M240.6 128.7h0M244.4 128.7h0M244.7 128.8h0" stroke="#ff2c0c" stroke-opacity="0.5" stroke-width="2.2" stroke-linecap="round" fill="none"/>
<path d="M240.5 129.0h0M240.2 128.8h0M244.2 129.2h0M240.0 128.6h0M242.0 128.9h0M242.6 129.1h0M243.6 128.9h0M241.9 129.2h0M244.6 128.9h0M244.7 128.6h0M244.5 129.0h0" stroke="#ff2c0c" stroke-opacity="0.5" stroke-width="2.2" stroke-linecap="round" fill="none"/>
<path d="M245.0 128.5h0M243.8 128.9h0M241.7 124.0h0M242.9 128.5h0M243.3 127.6h0M243.7 128.3h0M241.9 128.4h0M240.1 129.1h0M241.7 122.2h0M242.0 129.2h0M243.4 128.3h0" stroke="#ff2c0c" stroke-opacity="0.5" stroke-width="2.2" stroke-linecap="round" fill="none"/>
<path d="M243.6 109.1h0M242.2 128.6h0M243.9 128.7h0M240.8 128.4h0M241.6 128.5h0M243.7 128.8h0M243.3 117.4h0M241.3 128.4h0M244.7 128.7h0M241.6 129.2h0M242.8 129.0h0" stroke="#ff2c0c" stroke-opacity="0.5" stroke-width="2.2" stroke-linecap="round" fill="none"/>
<path d="M242.71 128.50V128.40M242.71 128.83V129.00" stroke="#ff2c0c" stroke-width="0.6"/>
<rect x="239.41" y="128.50" width="6.6" height="0.33" fill="#fff" fill-opacity="0.38" stroke="#ff2c0c" stroke-width="0.6"/>
<path d="M239.41 128.66h6.6" stroke="#ff2c0c" stroke-width="1.6"/>
<path d="M252.8 129.1h0M249.4 128.5h0M248.8 128.7h0M251.2 128.7h0M253.4 128.8h0" stroke="#2c52b0" stroke-opacity="0.5" stroke-width="2.2" stroke-linecap="round" fill="none"/>
<path d="M253.1 129.1h0M249.2 129.0h0M249.8 128.5h0M248.4 128.8h0" stroke="#2c52b0" stroke-opacity="0.5" stroke-width="2.2" stroke-linecap="round" fill="none"/>
<path d="M253.4 128.8h0M252.8 128.4h0M253.3 128.6h0M251.7 128.8h0" stroke="#2c52b0" stroke-opacity="0.5" stroke-width="2.2" stroke-linecap="round" fill="none"/>
<path d="M249.8 128.8h0M250.7 128.8h0M251.8 128.8h0M251.3 128.5h0" stroke="#2c52b0" stroke-opacity="0.5" stroke-width="2.2" stroke-linecap="round" fill="none"/>
<path d="M248.3 128.8h0M251.5 129.1h0M250.0 128.9h0M251.9 128.8h0" stroke="#2c52b0" stroke-opacity="0.5" stroke-width="2.2" stroke-linecap="round" fill="none"/>
<path d="M249.2 129.0h0M249.9 128.7h0M249.7 129.0h0M249.4 128.6h0" stroke="#2c52b0" stroke-opacity="0.5" stroke-width="2.2" stroke-linecap="round" fill="none"/>
<path d="M250.99 128.66V128.56M250.99 128.87V128.99" stroke="#2c52b0" stroke-width="0.6"/>
<rect x="247.69" y="128.66" width="6.6" height="0.22" fill="#fff" fill-opacity="0.38" stroke="#2c52b0" stroke-width="0.6"/>
<path d="M247.69 128.78h6.6" stroke="#2c52b0" stroke-width="1.6"/>
<path d="M260.4 125.7h0M258.3 128.3h0M256.6 125.3h0M259.0 129.0h0M262.0 125.5h0M257.4 126.8h0M257.9 125.4h0M257.8 128.8h0M257.8 128.9h0M256.9 128.1h0M260.1 129.1h0M261.4 128.7h0M261.1 123.5h0M260.1 128.5h0M259.3 108.5h0M257.8 129.0h0M256.7 126.5h0M258.9 125.1h0M259.8 128.8h0M260.4 107.6h0M258.6 128.8h0M259.5 122.4h0M256.7 128.6h0M258.1 128.8h0M259.8 128.7h0M257.2 128.7h0M259.2 128.5h0M257.9 129.0h0M257.8 128.7h0M261.0 128.6h0M257.5 128.7h0M260.1 79.4h0M260.3 128.8h0M262.1 129.1h0M258.5 124.0h0M258.6 110.7h0M256.8 125.3h0M260.0 128.8h0M260.1 129.1h0M256.5 127.2h0M259.0 105.3h0M261.1 122.1h0M259.7 129.0h0M257.2 128.6h0M258.9 128.6h0M258.2 128.5h0M260.8 127.8h0M260.4 120.1h0M257.0 128.4h0M258.9 121.4h0M261.4 129.0h0M260.7 124.9h0M259.4 128.6h0M258.5 120.9h0M257.5 129.1h0M260.2 124.4h0M259.2 84.0h0M259.0 82.9h0M261.0 127.6h0M257.8 124.3h0M257.1 129.1h0M261.2 128.5h0M259.2 129.1h0M260.6 125.8h0M260.4 129.2h0M256.4 129.0h0M258.4 127.8h0M260.6 104.6h0M258.1 128.8h0M260.3 123.0h0M256.7 129.0h0M260.8 128.9h0M258.1 128.6h0M256.8 128.8h0M259.3 128.8h0M258.7 127.0h0M257.5 127.1h0M259.1 128.2h0M261.3 128.9h0M260.4 128.6h0M261.5 129.2h0M260.5 120.1h0M259.5 129.0h0M261.8 128.4h0M258.5 120.9h0M260.9 128.5h0M258.8 128.6h0M256.9 129.1h0M260.6 126.4h0" stroke="#ff2c0c" stroke-opacity="0.5" stroke-width="2.2" stroke-linecap="round" fill="none"/>
<path d="M256.4 126.5h0M257.6 128.8h0M257.7 128.9h0M259.3 128.7h0M257.9 104.0h0M260.9 128.6h0M261.3 124.7h0M257.6 125.3h0M257.0 126.3h0M259.6 128.6h0M260.7 128.7h0M260.3 129.0h0M261.8 128.5h0M260.7 129.1h0M259.0 120.0h0M260.4 120.5h0M258.1 125.6h0M258.5 129.2h0M261.8 128.9h0M261.0 128.8h0M260.2 129.1h0M259.7 105.1h0M261.5 123.1h0M258.6 121.7h0M259.3 128.4h0M261.6 128.3h0M257.8 121.1h0M258.5 90.9h0M261.4 128.1h0M257.1 128.8h0M257.4 121.7h0M260.8 127.8h0M257.3 127.2h0M260.4 121.1h0M260.4 127.2h0M260.8 105.6h0M260.9 126.7h0M259.2 126.9h0M261.4 129.0h0M259.4 100.4h0M258.5 128.8h0M261.8 128.6h0M257.1 126.9h0M260.8 128.4h0M259.9 128.7h0M257.2 128.9h0M259.5 128.8h0M258.0 128.7h0M261.5 125.7h0M261.3 127.2h0M258.2 125.7h0M261.4 128.9h0M258.3 121.9h0M259.3 120.3h0M258.1 122.4h0M258.3 122.6h0M258.7 128.7h0M261.3 129.2h0M258.4 128.8h0M259.7 128.0h0M258.6 106.1h0M262.0 125.1h0M259.8 128.2h0M258.8 125.8h0M258.1 129.0h0M257.5 129.2h0M261.1 128.6h0M256.8 128.8h0M256.8 128.6h0M256.9 123.3h0M261.9 126.8h0M258.0 117.2h0M257.4 125.6h0M262.1 128.8h0M258.3 128.3h0M259.2 128.8h0M262.1 128.9h0M260.4 128.7h0M258.3 121.4h0M262.0 128.0h0M257.9 129.2h0M258.1 128.6h0M256.5 128.3h0M258.5 125.8h0M260.2 125.8h0M261.3 128.7h0M259.6 125.9h0M257.8 120.4h0M259.0 127.0h0" stroke="#ff2c0c" stroke-opacity="0.5" stroke-width="2.2" stroke-linecap="round" fill="none"/>
<path d="M261.0 128.6h0M261.2 129.2h0M260.1 113.9h0M260.1 125.3h0M258.1 124.5h0M257.1 125.4h0M259.7 129.0h0M258.3 127.3h0M257.7 128.9h0M259.0 128.9h0M258.6 122.1h0M260.3 128.7h0M261.4 128.8h0M257.1 128.9h0M257.2 129.1h0M257.0 124.8h0M260.9 128.9h0M260.6 122.4h0M261.9 128.3h0M258.4 122.9h0M261.9 128.3h0M259.1 128.6h0M257.1 128.0h0M259.7 128.9h0M259.4 104.2h0M257.3 123.2h0M261.7 128.6h0M260.4 128.8h0M261.0 127.5h0M257.7 127.1h0M262.0 128.8h0M258.5 128.3h0M259.9 128.7h0M257.9 126.5h0M261.0 126.8h0M258.8 129.0h0M261.5 128.4h0M258.4 116.7h0M260.0 128.2h0M259.8 128.3h0M259.2 128.8h0M261.3 128.8h0M261.6 126.1h0M261.0 128.0h0M257.5 128.4h0M258.1 128.6h0M258.3 129.0h0M258.4 125.0h0M260.2 128.6h0M260.6 112.5h0M261.7 124.5h0M260.1 126.3h0M260.3 126.9h0M256.7 126.6h0M258.9 123.1h0M260.7 120.7h0M257.4 120.9h0M262.1 128.6h0M258.8 121.3h0M257.7 128.2h0M257.5 124.3h0M257.0 124.1h0M257.6 128.6h0M259.4 128.6h0M257.7 117.4h0M258.1 128.7h0M256.9 128.6h0M256.5 128.7h0M258.4 125.3h0M260.3 126.6h0M258.3 128.1h0M258.5 114.6h0M260.0 127.1h0M257.6 127.9h0M259.4 125.9h0M259.1 111.2h0M260.6 128.7h0M257.8 125.2h0M261.0 122.1h0M261.0 124.9h0M261.3 128.9h0M258.3 128.8h0M261.0 121.9h0M258.7 128.5h0M258.0 127.5h0M258.7 127.4h0M259.5 118.0h0M260.9 126.4h0M259.4 127.4h0" stroke="#ff2c0c" stroke-opacity="0.5" stroke-width="2.2" stroke-linecap="round" fill="none"/>
<path d="M259.2 110.3h0M261.6 128.7h0M258.8 128.5h0M257.2 127.9h0M259.5 113.7h0M260.8 128.8h0M260.6 129.2h0M261.2 126.3h0M258.1 128.7h0M261.7 123.9h0M259.0 115.3h0M258.7 122.0h0M260.3 128.7h0M258.2 111.8h0M256.8 128.4h0M257.6 128.5h0M258.8 128.6h0M261.1 124.2h0M260.4 119.0h0M260.7 120.3h0M261.7 128.7h0M257.9 126.3h0M260.9 128.1h0M258.4 123.5h0M261.9 128.8h0M259.3 129.1h0M259.0 128.7h0M261.3 129.0h0M261.3 129.1h0M257.7 129.1h0M257.3 129.1h0M259.3 122.8h0M261.5 125.6h0M258.7 120.2h0M257.8 128.5h0M257.6 121.8h0M262.0 126.6h0M258.7 129.1h0M259.0 101.9h0M258.4 129.0h0M256.6 128.8h0M258.8 123.1h0M259.3 128.4h0M261.9 128.9h0M259.7 115.6h0M257.6 129.2h0M258.7 128.5h0M260.5 119.6h0M257.2 127.6h0M257.5 121.7h0M256.7 128.3h0M259.2 76.4h0M257.3 122.4h0M259.9 110.8h0M257.5 128.6h0M258.5 128.8h0M260.6 123.1h0M260.8 120.4h0M259.7 127.4h0M259.2 108.0h0M261.0 123.6h0M258.3 124.7h0M259.3 128.4h0M257.4 128.7h0M260.3 107.4h0M256.9 126.1h0M259.4 129.2h0M256.7 128.4h0M260.5 121.2h0M260.7 123.5h0M261.0 125.4h0M261.7 128.4h0M259.6 114.9h0M257.2 128.0h0M258.8 119.9h0M262.1 126.3h0M261.0 128.7h0M258.1 127.8h0M259.4 128.6h0M260.7 128.3h0M256.8 126.0h0M260.7 98.1h0M260.6 129.0h0M261.9 129.3h0M259.4 129.0h0M260.7 119.4h0M259.3 128.8h0M262.0 128.5h0M261.7 124.2h0" stroke="#ff2c0c" stroke-opacity="0.5" stroke-width="2.2" stroke-linecap="round" fill="none"/>
<path d="M259.2 128.4h0M258.3 128.7h0M261.0 128.8h0M257.2 126.1h0M258.6 116.4h0M261.3 125.1h0M261.7 128.9h0M259.2 128.4h0M258.3 128.5h0M262.0 128.8h0M257.1 128.4h0M258.0 128.5h0M259.9 128.6h0M261.1 127.0h0M258.2 128.5h0M259.6 125.9h0M258.6 124.5h0M261.2 128.6h0M258.2 128.7h0M256.4 128.4h0M259.7 128.0h0M260.9 120.3h0M257.5 126.1h0M258.7 125.1h0M260.4 128.4h0M257.9 124.7h0M261.1 125.7h0M258.5 123.7h0M256.5 128.8h0M260.8 126.2h0M261.7 125.4h0M257.4 128.7h0M257.0 128.3h0M258.9 118.6h0M261.6 124.2h0M257.8 121.6h0M259.6 125.7h0M260.9 126.0h0M257.2 128.5h0M260.4 128.5h0M262.0 128.5h0M259.9 128.7h0M259.7 128.4h0M260.6 128.8h0M261.3 127.4h0M258.4 129.2h0M258.3 112.1h0M259.1 128.1h0M261.3 123.0h0M257.1 128.8h0M261.7 128.8h0M259.6 127.7h0M260.1 108.8h0M258.1 128.7h0M257.0 128.9h0M261.6 126.0h0M257.7 128.6h0M261.5 126.0h0M261.0 127.8h0M260.8 125.9h0M262.1 127.3h0M257.7 128.5h0M257.8 117.7h0M257.8 128.5h0M256.4 128.6h0M257.1 123.6h0M256.9 127.1h0M260.9 122.6h0M261.9 126.7h0M261.6 127.7h0M259.5 109.7h0M256.8 128.6h0M259.5 128.5h0M258.0 86.8h0M260.1 128.3h0M260.9 128.4h0M260.6 123.9h0M258.1 125.4h0M260.2 128.4h0M259.8 128.7h0M261.5 128.8h0M261.1 127.4h0M261.5 127.3h0M258.7 129.0h0M257.2 122.7h0M261.7 129.0h0M258.6 106.6h0M261.6 124.9h0M257.1 129.1h0" stroke="#ff2c0c" stroke-opacity="0.5" stroke-width="2.2" stroke-linecap="round" fill="none"/>
<path d="M258.5 128.6h0M261.2 128.8h0M257.5 128.9h0M259.1 112.6h0M257.3 128.7h0M259.7 128.9h0M260.6 128.5h0M258.7 128.5h0M258.1 121.8h0M260.2 125.6h0M258.6 128.6h0M257.6 128.8h0M259.6 128.7h0M257.9 128.1h0M258.0 126.0h0M258.0 114.2h0M257.8 126.0h0M260.7 128.7h0M257.9 121.9h0M256.6 129.1h0M257.0 128.7h0M257.6 129.1h0M262.0 128.1h0M258.0 128.4h0M261.7 128.8h0M259.9 128.7h0M260.2 128.5h0M259.4 128.6h0M262.1 127.1h0M260.9 121.3h0M260.7 94.3h0M259.2 127.3h0M261.2 127.5h0M258.9 128.3h0M259.9 128.8h0M257.0 128.4h0M261.6 129.1h0M261.0 128.8h0M256.5 129.0h0M259.8 128.9h0M257.8 119.1h0M260.8 127.0h0M258.2 69.5h0M257.2 125.5h0M256.7 128.4h0M257.0 128.8h0M259.4 128.6h0M258.4 128.4h0M258.8 128.5h0M257.4 129.0h0M260.3 120.0h0M260.4 113.5h0M260.2 128.3h0M257.8 128.8h0M261.4 125.6h0M259.3 129.1h0M260.9 128.3h0M260.4 108.1h0M257.5 128.8h0M259.4 127.6h0M257.6 128.6h0M261.1 128.7h0M256.7 128.7h0M258.8 128.6h0M262.1 127.1h0M258.9 129.0h0M261.4 128.9h0M259.0 128.7h0M259.8 128.5h0M258.8 127.0h0M259.1 128.6h0M259.7 128.4h0M258.8 109.7h0M259.5 128.8h0M258.9 129.0h0M257.7 128.6h0M258.6 125.8h0M261.8 128.7h0M261.9 128.4h0M257.5 128.9h0M259.2 129.1h0M261.5 128.3h0M260.2 128.5h0M260.4 124.8h0M259.4 126.7h0M257.8 128.6h0M257.6 120.4h0M261.3 127.5h0" stroke="#ff2c0c" stroke-opacity="0.5" stroke-width="2.2" stroke-linecap="round" fill="none"/>
<path d="M259.26 125.00V119.53M259.26 128.71V129.00" stroke="#ff2c0c" stroke-width="0.6"/>
<rect x="255.96" y="125.00" width="6.6" height="3.72" fill="#fff" fill-opacity="0.38" stroke="#ff2c0c" stroke-width="0.6"/>
<path d="M255.96 128.43h6.6" stroke="#ff2c0c" stroke-width="1.6"/>
<path d="M269.3 128.5h0M264.7 128.5h0M269.0 128.5h0M265.4 128.7h0M268.6 128.8h0M266.2 129.2h0M269.3 129.2h0M268.6 128.4h0M266.8 128.8h0M268.4 129.2h0M264.8 128.8h0M268.7 129.1h0" stroke="#2c52b0" stroke-opacity="0.5" stroke-width="2.2" stroke-linecap="round" fill="none"/>
<path d="M267.8 128.9h0M266.5 129.0h0M269.4 128.8h0M269.4 128.7h0M266.3 128.7h0M266.1 128.7h0M267.3 128.9h0M270.4 128.5h0M266.0 128.4h0M268.6 128.8h0M269.8 128.6h0M270.3 128.9h0" stroke="#2c52b0" stroke-opacity="0.5" stroke-width="2.2" stroke-linecap="round" fill="none"/>
<path d="M269.1 128.5h0M269.3 128.3h0M268.6 123.2h0M264.7 129.2h0M269.5 128.8h0M268.4 128.7h0M269.8 128.5h0M270.0 128.2h0M265.2 128.3h0M268.8 128.4h0M268.0 128.8h0M269.3 128.7h0" stroke="#2c52b0" stroke-opacity="0.5" stroke-width="2.2" stroke-linecap="round" fill="none"/>
<path d="M268.8 128.5h0M264.9 128.8h0M269.7 128.6h0M266.1 128.9h0M267.8 128.3h0M268.7 128.8h0M270.3 128.3h0M267.6 128.5h0M269.8 128.6h0M267.9 128.9h0M269.1 128.5h0M269.2 129.0h0" stroke="#2c52b0" stroke-opacity="0.5" stroke-width="2.2" stroke-linecap="round" fill="none"/>
<path d="M268.7 128.5h0M267.8 128.7h0M266.0 128.7h0M270.3 128.7h0M265.1 128.8h0M266.0 128.4h0M268.6 116.2h0M269.7 128.2h0M265.8 128.5h0M269.5 128.6h0M268.6 128.9h0M266.0 121.3h0" stroke="#2c52b0" stroke-opacity="0.5" stroke-width="2.2" stroke-linecap="round" fill="none"/>
<path d="M269.9 128.8h0M266.3 128.6h0M267.5 128.3h0M266.5 128.5h0M266.2 128.7h0M268.1 129.2h0M265.0 128.7h0M266.8 128.5h0M270.3 128.6h0M265.4 128.8h0M268.7 128.3h0M265.1 128.4h0" stroke="#2c52b0" stroke-opacity="0.5" stroke-width="2.2" stroke-linecap="round" fill="none"/>
<path d="M267.53 128.55V128.43M267.53 128.84V128.99" stroke="#2c52b0" stroke-width="0.6"/>
<rect x="264.23" y="128.55" width="6.6" height="0.29" fill="#fff" fill-opacity="0.38" stroke="#2c52b0" stroke-width="0.6"/>
<path d="M264.23 128.70h6.6" stroke="#2c52b0" stroke-width="1.6"/>
<path d="M274.7 69.7h0M274.9 124.4h0M277.7 128.7h0M274.8 122.5h0M273.8 128.6h0M275.3 115.0h0M277.4 125.8h0M273.9 128.9h0M275.1 105.3h0M275.7 94.8h0M273.3 128.5h0M276.8 124.4h0M273.4 127.8h0M273.5 123.3h0M277.2 128.6h0M275.4 97.6h0M277.5 129.1h0M275.6 128.3h0M273.8 123.4h0M275.3 129.0h0M275.4 102.3h0M275.5 127.9h0M276.7 124.7h0M278.4 127.8h0M275.5 114.6h0M276.6 113.2h0M275.1 118.7h0M273.3 128.6h0M277.6 128.1h0M277.4 123.4h0M273.9 126.3h0M277.0 123.8h0M276.4 90.3h0M275.8 128.6h0M275.3 79.8h0M275.1 128.6h0M276.5 128.4h0M277.2 105.6h0M277.8 125.3h0M278.2 129.1h0M275.9 129.0h0M278.2 123.6h0M274.8 129.1h0M275.5 122.8h0M275.7 128.1h0M278.5 128.5h0M276.5 129.0h0M277.9 128.8h0M274.4 121.5h0" stroke="#ff2c0c" stroke-opacity="0.5" stroke-width="2.2" stroke-linecap="round" fill="none"/>
<path d="M275.2 83.4h0M278.6 128.9h0M275.8 129.1h0M273.7 128.0h0M276.4 100.5h0M275.6 126.2h0M277.4 122.4h0M275.4 122.8h0M273.1 128.2h0M278.4 125.2h0M273.4 128.5h0M275.4 128.5h0M274.3 128.9h0M273.1 128.5h0M274.2 126.7h0M275.2 121.8h0M274.8 91.0h0M277.5 129.0h0M274.6 103.5h0M278.6 127.6h0M274.8 128.8h0M275.0 128.1h0M275.4 99.6h0M273.3 127.9h0M276.7 128.9h0M273.4 126.4h0M278.0 128.9h0M276.4 78.6h0M277.9 128.9h0M273.3 128.7h0M278.2 129.1h0M276.3 126.1h0M274.6 115.7h0M276.7 112.3h0M276.5 127.8h0M276.9 121.2h0M277.4 128.2h0M275.9 87.0h0M276.2 128.9h0M277.9 128.5h0M277.5 122.4h0M274.9 75.6h0M273.9 121.1h0M276.3 128.4h0M277.1 123.1h0M275.0 126.0h0M276.2 128.9h0M275.7 128.8h0M277.1 128.0h0" stroke="#ff2c0c" stroke-opacity="0.5" stroke-width="2.2" stroke-linecap="round" fill="none"/>
<path d="M277.1 125.6h0M277.9 127.7h0M276.2 121.6h0M276.4 128.8h0M276.8 121.9h0M274.4 128.7h0M277.6 129.1h0M276.6 72.1h0M277.3 122.9h0M277.0 122.3h0M275.0 119.4h0M276.6 111.3h0M273.9 127.7h0M275.2 128.6h0M278.6 128.5h0M275.4 122.5h0M276.9 129.1h0M273.4 129.0h0M277.1 113.9h0M278.0 126.9h0M276.0 129.0h0M274.8 128.4h0M275.4 128.5h0M273.1 128.3h0M273.7 129.2h0M274.3 128.9h0M277.8 128.8h0M277.7 128.5h0M276.2 128.0h0M276.0 109.4h0M278.0 124.1h0M275.7 129.2h0M274.8 128.5h0M274.7 122.2h0M275.2 125.7h0M277.3 89.7h0M274.8 124.9h0M277.0 123.9h0M275.5 128.4h0M275.0 127.7h0M274.1 129.0h0M276.0 97.6h0M275.7 95.0h0M275.1 128.9h0M275.7 124.0h0M274.0 120.8h0M277.3 128.2h0M274.6 128.1h0" stroke="#ff2c0c" stroke-opacity="0.5" stroke-width="2.2" stroke-linecap="round" fill="none"/>
<path d="M275.4 96.4h0M276.5 128.8h0M278.3 128.8h0M277.4 128.6h0M274.9 122.1h0M274.2 125.9h0M277.1 128.6h0M276.8 126.8h0M273.6 128.2h0M275.7 123.4h0M273.4 128.8h0M276.0 121.4h0M276.4 56.3h0M276.7 104.5h0M274.1 129.2h0M273.1 128.1h0M275.4 117.6h0M276.6 128.2h0M277.5 128.6h0M274.3 92.2h0M278.2 128.9h0M276.5 98.4h0M275.6 101.2h0M273.3 128.8h0M274.2 88.7h0M276.6 106.6h0M275.1 119.9h0M272.9 128.7h0M274.8 123.9h0M276.7 128.3h0M275.7 128.5h0M278.6 128.6h0M276.6 127.9h0M275.9 102.0h0M276.3 112.6h0M276.0 125.6h0M274.9 128.6h0M277.2 113.2h0M277.3 128.6h0M274.7 128.2h0M274.2 128.9h0M276.1 107.9h0M277.2 128.3h0M276.3 129.1h0M274.7 129.0h0M278.2 128.3h0M275.2 121.3h0M277.6 128.8h0" stroke="#ff2c0c" stroke-opacity="0.5" stroke-width="2.2" stroke-linecap="round" fill="none"/>
<path d="M274.4 128.1h0M273.1 129.1h0M277.6 128.9h0M277.7 128.5h0M273.8 121.3h0M277.5 124.8h0M275.3 117.3h0M276.9 81.2h0M278.2 128.6h0M278.1 129.2h0M276.3 128.7h0M275.6 128.0h0M276.9 128.9h0M277.0 85.2h0M273.5 128.5h0M275.2 129.1h0M276.2 108.5h0M276.6 121.3h0M276.7 125.0h0M273.5 128.7h0M276.9 86.4h0M276.6 101.2h0M276.6 128.9h0M276.7 129.1h0M273.6 128.8h0M274.7 83.9h0M277.3 129.0h0M278.4 126.6h0M278.4 129.2h0M277.3 128.8h0M276.9 122.8h0M276.3 115.4h0M275.3 127.4h0M274.6 126.0h0M276.1 77.8h0M275.4 116.9h0M276.3 81.6h0M274.2 128.3h0M272.9 128.8h0M275.2 128.4h0M274.4 107.2h0M278.6 129.0h0M276.6 123.4h0M273.5 126.0h0M275.6 111.1h0M275.6 129.0h0M275.6 128.1h0M277.1 117.9h0" stroke="#ff2c0c" stroke-opacity="0.5" stroke-width="2.2" stroke-linecap="round" fill="none"/>
<path d="M275.8 119.5h0M276.1 128.8h0M276.7 129.0h0M278.1 128.8h0M275.0 124.1h0M273.4 129.1h0M278.6 127.8h0M275.0 127.8h0M275.1 126.7h0M276.8 124.5h0M278.3 128.8h0M273.6 127.4h0M277.1 128.7h0M277.7 121.2h0M274.2 93.6h0M277.1 128.4h0M275.2 109.4h0M276.8 106.7h0M277.9 129.0h0M275.0 104.8h0M277.0 110.3h0M275.0 128.6h0M275.4 124.9h0M274.2 87.9h0M274.3 128.8h0M273.9 127.0h0M275.4 103.6h0M275.9 129.0h0M278.7 127.1h0M277.3 124.9h0M277.5 128.5h0M274.6 127.4h0M276.0 128.9h0M274.3 128.0h0M277.0 80.3h0M275.1 128.1h0M276.1 108.5h0M276.8 128.6h0M277.6 128.9h0M273.9 124.6h0M275.9 128.5h0M277.3 127.7h0M275.3 109.8h0M275.1 128.5h0M276.7 128.9h0M278.4 128.2h0M275.0 116.3h0M277.3 102.7h0" stroke="#ff2c0c" stroke-opacity="0.5" stroke-width="2.2" stroke-linecap="round" fill="none"/>
<path d="M275.80 120.97V109.60M275.80 128.77V129.00" stroke="#ff2c0c" stroke-width="0.6"/>
<rect x="272.50" y="120.97" width="6.6" height="7.80" fill="#fff" fill-opacity="0.38" stroke="#ff2c0c" stroke-width="0.6"/>
<path d="M272.50 127.85h6.6" stroke="#ff2c0c" stroke-width="1.6"/>
<path d="M285.6 129.0h0M283.2 128.4h0M285.3 128.8h0M285.7 128.8h0M284.5 126.4h0M281.8 129.0h0" stroke="#2c52b0" stroke-opacity="0.5" stroke-width="2.2" stroke-linecap="round" fill="none"/>
<path d="M284.4 128.9h0M283.8 128.5h0M286.1 128.7h0M283.2 128.7h0M281.9 129.1h0M282.3 128.8h0" stroke="#2c52b0" stroke-opacity="0.5" stroke-width="2.2" stroke-linecap="round" fill="none"/>
<path d="M283.7 128.8h0M285.1 128.6h0M283.5 129.0h0M283.6 128.8h0M282.3 128.9h0" stroke="#2c52b0" stroke-opacity="0.5" stroke-width="2.2" stroke-linecap="round" fill="none"/>
<path d="M285.7 128.0h0M286.0 126.6h0M282.8 128.6h0M286.0 128.8h0M285.4 128.5h0" stroke="#2c52b0" stroke-opacity="0.5" stroke-width="2.2" stroke-linecap="round" fill="none"/>
<path d="M287.0 128.5h0M283.1 128.6h0M281.7 128.8h0M282.1 128.6h0M281.8 128.7h0" stroke="#2c52b0" stroke-opacity="0.5" stroke-width="2.2" stroke-linecap="round" fill="none"/>
<path d="M284.5 128.9h0M281.5 128.6h0M283.4 129.2h0M282.1 128.8h0M286.1 128.7h0" stroke="#2c52b0" stroke-opacity="0.5" stroke-width="2.2" stroke-linecap="round" fill="none"/>
<path d="M284.08 128.53V128.22M284.08 128.83V128.99" stroke="#2c52b0" stroke-width="0.6"/>
<rect x="280.78" y="128.53" width="6.6" height="0.31" fill="#fff" fill-opacity="0.38" stroke="#2c52b0" stroke-width="0.6"/>
<path d="M280.78 128.68h6.6" stroke="#2c52b0" stroke-width="1.6"/>
<path d="M294.0 129.1h0M294.9 128.7h0M290.3 129.1h0M290.3 129.0h0M291.8 128.7h0M293.9 128.7h0M290.5 128.4h0M290.3 128.6h0M290.7 128.8h0M293.6 129.1h0M294.6 128.7h0M292.3 128.9h0M291.8 128.7h0M292.7 128.7h0M290.0 129.0h0M289.5 128.9h0M292.0 128.6h0M290.6 128.8h0M294.0 128.7h0M295.2 129.0h0M294.5 128.7h0M293.8 128.6h0M292.3 128.9h0M291.9 128.8h0M295.0 128.9h0M291.0 128.7h0M294.9 129.1h0M291.5 128.8h0M294.4 128.9h0" stroke="#ff2c0c" stroke-opacity="0.5" stroke-width="2.2" stroke-linecap="round" fill="none"/>
<path d="M289.9 129.2h0M293.1 129.1h0M294.5 128.9h0M292.0 128.7h0M293.7 128.9h0M292.1 129.2h0M294.6 128.9h0M291.2 128.9h0M291.6 128.9h0M291.8 128.8h0M291.5 128.8h0M291.3 128.9h0M291.9 129.0h0M294.6 128.9h0M293.2 128.9h0M291.6 128.6h0M292.5 128.7h0M290.6 128.7h0M293.0 129.0h0M291.5 129.1h0M294.0 129.1h0M290.4 128.9h0M295.1 129.2h0M291.3 128.7h0M294.7 128.6h0M294.2 128.7h0M293.0 128.5h0M293.3 128.9h0M290.1 128.8h0" stroke="#ff2c0c" stroke-opacity="0.5" stroke-width="2.2" stroke-linecap="round" fill="none"/>
<path d="M293.8 128.9h0M292.2 129.0h0M290.7 129.0h0M295.2 128.9h0M291.2 128.5h0M291.7 129.1h0M292.7 128.9h0M292.0 129.1h0M293.3 128.6h0M294.2 129.1h0M290.1 128.8h0M292.3 128.8h0M292.5 128.5h0M292.0 129.1h0M289.7 128.6h0M292.5 128.9h0M289.7 128.5h0M290.6 128.9h0M291.3 129.0h0M294.9 128.6h0M292.7 128.6h0M293.0 128.7h0M290.4 128.7h0M292.1 128.7h0M292.3 128.6h0M289.8 128.9h0M293.8 129.0h0M293.8 128.9h0M289.9 129.0h0" stroke="#ff2c0c" stroke-opacity="0.5" stroke-width="2.2" stroke-linecap="round" fill="none"/>
<path d="M294.6 128.8h0M289.9 128.8h0M291.9 128.6h0M293.9 128.6h0M293.8 128.5h0M295.1 129.0h0M294.6 128.4h0M291.8 128.8h0M292.6 128.7h0M292.3 128.8h0M292.3 129.1h0M291.5 129.0h0M289.8 129.0h0M289.8 129.0h0M290.1 128.7h0M291.8 128.6h0M294.6 128.9h0M292.4 129.0h0M292.3 128.6h0M292.5 129.0h0M293.5 129.0h0M290.0 128.7h0M292.5 128.5h0M294.4 129.1h0M292.6 128.9h0M293.2 128.8h0M294.4 128.8h0M290.0 128.9h0M295.2 129.1h0" stroke="#ff2c0c" stroke-opacity="0.5" stroke-width="2.2" stroke-linecap="round" fill="none"/>
<path d="M291.3 128.9h0M294.0 128.9h0M291.4 129.0h0M292.1 128.7h0M292.0 129.0h0M295.1 129.0h0M291.9 128.8h0M290.8 128.9h0M291.3 129.0h0M290.8 128.5h0M291.5 128.9h0M294.9 128.4h0M292.0 128.6h0M290.5 128.4h0M294.5 128.8h0M292.5 128.6h0M293.1 128.8h0M294.9 129.1h0M292.8 128.5h0M289.6 128.9h0M293.1 128.7h0M292.4 129.1h0M290.8 128.9h0M290.6 128.6h0M291.6 128.4h0M291.6 128.7h0M293.3 128.9h0M294.7 128.9h0M293.5 129.0h0" stroke="#ff2c0c" stroke-opacity="0.5" stroke-width="2.2" stroke-linecap="round" fill="none"/>
<path d="M293.4 128.9h0M294.4 128.7h0M292.6 128.7h0M292.2 129.0h0M293.3 128.9h0M292.8 129.2h0M292.2 129.0h0M290.0 128.7h0M293.9 128.7h0M292.6 129.1h0M293.4 129.1h0M294.9 129.0h0M291.6 128.9h0M290.1 128.5h0M291.2 129.1h0M294.6 129.0h0M291.0 128.5h0M293.4 129.1h0M290.2 128.7h0M289.7 128.4h0M292.1 128.7h0M294.8 128.8h0M291.1 129.2h0M293.5 128.8h0M293.4 128.6h0M291.6 128.9h0M294.5 129.0h0M293.1 128.9h0" stroke="#ff2c0c" stroke-opacity="0.5" stroke-width="2.2" stroke-linecap="round" fill="none"/>
<path d="M292.35 128.74V128.66M292.35 128.91V129.00" stroke="#ff2c0c" stroke-width="0.6"/>
<rect x="289.05" y="128.74" width="6.6" height="0.17" fill="#fff" fill-opacity="0.38" stroke="#ff2c0c" stroke-width="0.6"/>
<path d="M289.05 128.83h6.6" stroke="#ff2c0c" stroke-width="1.6"/>
<path d="M302.0 125.9h0M300.3 126.2h0M302.8 128.4h0M298.1 128.8h0M301.9 126.7h0M300.6 116.4h0M298.6 127.9h0M299.4 104.4h0M300.9 128.7h0M299.4 129.0h0M301.5 122.1h0M298.2 129.2h0M300.1 128.2h0M303.1 126.1h0M301.2 128.3h0M301.8 120.3h0M300.3 125.8h0M299.9 128.6h0M302.0 127.2h0M302.6 127.2h0M299.7 128.7h0M300.8 119.7h0M298.7 128.7h0M303.1 126.5h0M301.3 126.9h0M298.9 128.2h0M301.4 126.6h0M297.8 128.4h0M302.4 121.9h0M299.2 120.9h0M299.1 127.9h0M300.2 82.6h0M298.8 128.1h0M299.2 128.0h0M301.2 127.2h0M299.9 128.5h0M298.3 128.3h0M299.8 91.8h0M302.7 123.1h0M300.3 116.1h0M302.4 128.5h0M302.9 128.6h0M302.3 128.4h0M299.8 129.0h0M298.8 122.5h0M300.6 127.3h0M299.2 127.7h0M299.6 128.7h0M303.4 128.2h0M300.2 123.2h0M301.0 128.6h0M299.4 128.7h0M301.0 120.5h0M302.1 128.7h0M301.8 129.3h0M300.1 126.4h0M302.8 128.5h0M302.7 127.0h0M301.6 128.7h0M301.3 115.5h0M299.0 126.7h0M300.2 117.4h0M302.3 128.9h0M303.4 128.9h0M298.3 127.6h0M302.4 129.0h0M301.9 127.5h0M301.3 128.9h0M302.9 124.4h0M299.4 128.7h0M302.4 127.0h0M299.5 107.4h0M302.2 125.8h0M300.5 127.3h0M301.6 128.0h0M303.5 128.8h0M299.8 128.6h0M301.5 129.2h0M300.8 123.8h0M302.8 127.5h0M299.5 113.0h0M303.1 128.5h0M301.9 120.8h0M299.6 128.3h0M301.0 120.4h0M300.3 118.8h0" stroke="#ff2c0c" stroke-opacity="0.5" stroke-width="2.2" stroke-linecap="round" fill="none"/>
<path d="M300.8 128.4h0M300.0 94.5h0M299.2 128.7h0M298.5 128.7h0M298.3 128.2h0M301.8 81.5h0M302.4 128.8h0M300.5 126.0h0M302.8 128.6h0M300.4 128.6h0M303.2 128.7h0M301.2 124.5h0M300.2 124.5h0M299.2 125.8h0M299.3 121.7h0M301.6 128.8h0M303.1 128.8h0M302.0 128.7h0M301.6 128.7h0M299.4 128.8h0M299.2 126.0h0M298.3 128.3h0M298.9 127.9h0M301.8 128.5h0M299.7 119.2h0M300.4 128.4h0M302.2 128.8h0M301.1 129.1h0M301.8 124.9h0M301.0 128.9h0M297.9 126.6h0M302.7 129.1h0M302.6 126.9h0M300.0 123.1h0M299.6 120.6h0M300.5 128.4h0M299.6 104.9h0M297.7 128.6h0M302.0 128.9h0M301.2 125.8h0M298.9 128.7h0M298.9 120.8h0M299.4 128.7h0M301.3 113.3h0M302.4 128.7h0M298.7 128.1h0M298.1 127.0h0M299.1 125.7h0M303.1 128.7h0M301.0 119.0h0M302.0 128.4h0M298.0 125.5h0M299.1 127.4h0M301.2 128.8h0M299.7 99.4h0M299.4 128.8h0M299.0 128.3h0M302.7 128.5h0M300.2 125.9h0M299.9 122.5h0M300.5 126.9h0M299.4 125.4h0M300.2 119.6h0M300.2 128.5h0M298.0 128.9h0M302.4 126.8h0M300.6 123.1h0M301.3 128.7h0M299.6 112.7h0M298.1 126.1h0M301.6 127.9h0M297.9 127.7h0M301.0 128.2h0M303.0 127.9h0M300.6 128.5h0M300.9 128.7h0M299.8 129.1h0M298.9 129.0h0M301.8 127.5h0M299.6 126.8h0M298.8 128.4h0M299.3 128.8h0M302.5 128.8h0M300.7 128.7h0M300.2 128.8h0M299.4 127.7h0" stroke="#ff2c0c" stroke-opacity="0.5" stroke-width="2.2" stroke-linecap="round" fill="none"/>
<path d="M299.1 102.0h0M298.6 124.9h0M300.2 126.6h0M298.8 128.1h0M302.9 127.6h0M301.2 128.6h0M301.4 126.9h0M302.1 128.5h0M300.1 128.2h0M301.3 125.0h0M298.4 128.3h0M303.3 128.3h0M302.8 129.0h0M299.5 119.1h0M302.7 129.0h0M300.0 87.6h0M301.4 112.0h0M301.9 128.8h0M301.3 128.5h0M301.4 128.9h0M303.1 129.0h0M300.8 128.9h0M300.6 109.0h0M301.5 122.4h0M299.7 128.8h0M303.4 128.6h0M301.0 128.8h0M300.2 127.3h0M299.9 128.8h0M298.7 129.0h0M300.4 105.1h0M301.8 128.3h0M299.2 128.4h0M300.3 120.1h0M302.6 128.7h0M301.7 122.9h0M301.6 128.6h0M300.7 128.7h0M300.1 109.2h0M300.2 129.0h0M302.5 128.9h0M298.7 128.4h0M301.4 120.6h0M299.4 128.9h0M299.3 128.3h0M303.0 127.3h0M300.5 120.4h0M301.2 128.7h0M298.1 125.8h0M300.7 128.7h0M299.4 121.2h0M303.1 129.0h0M302.8 128.7h0M299.0 127.8h0M303.2 129.2h0M303.4 126.7h0M300.5 128.7h0M298.6 128.9h0M300.4 128.8h0M300.9 127.0h0M299.5 128.4h0M298.9 128.5h0M298.3 128.4h0M298.5 129.1h0M299.7 119.9h0M302.0 107.8h0M298.9 122.6h0M299.9 106.6h0M302.1 129.1h0M299.1 128.6h0M299.9 128.9h0M297.9 126.1h0M298.6 128.4h0M299.4 126.2h0M300.2 115.4h0M299.4 110.5h0M299.6 114.7h0M298.6 125.5h0M302.7 128.8h0M301.8 126.1h0M303.3 128.6h0M302.7 129.1h0M300.7 123.6h0M299.7 125.8h0M302.1 128.8h0M299.2 128.6h0" stroke="#ff2c0c" stroke-opacity="0.5" stroke-width="2.2" stroke-linecap="round" fill="none"/>
<path d="M303.3 128.2h0M299.6 108.3h0M301.9 128.6h0M301.6 128.7h0M302.3 123.7h0M300.8 128.8h0M300.8 129.1h0M297.8 128.5h0M302.1 119.4h0M300.9 106.3h0M300.6 128.7h0M300.3 128.5h0M302.0 128.7h0M300.2 124.5h0M301.3 128.6h0M299.7 128.5h0M299.4 128.8h0M302.4 128.5h0M300.8 121.7h0M297.7 127.9h0M301.0 128.9h0M300.9 128.9h0M302.1 120.0h0M303.5 128.6h0M298.0 128.9h0M302.5 128.6h0M300.0 124.4h0M301.4 126.1h0M298.6 128.5h0M302.4 127.7h0M301.7 120.2h0M302.8 127.1h0M300.3 128.3h0M301.4 128.4h0M302.6 124.1h0M302.4 122.3h0M299.1 127.1h0M299.3 128.4h0M298.2 126.6h0M303.3 126.6h0M302.4 128.6h0M303.3 129.2h0M300.7 128.9h0M299.9 128.8h0M301.9 100.2h0M303.4 128.8h0M301.1 128.6h0M299.6 129.0h0M300.2 119.0h0M301.5 126.8h0M301.3 128.6h0M303.0 129.0h0M302.2 126.1h0M302.8 129.1h0M298.1 129.1h0M299.9 110.1h0M300.4 103.6h0M301.7 124.4h0M302.2 126.9h0M302.1 128.5h0M299.1 103.1h0M300.6 128.5h0M302.2 123.1h0M299.7 129.2h0M300.6 127.7h0M299.4 128.4h0M299.6 122.2h0M300.4 103.9h0M300.8 125.5h0M300.1 126.0h0M299.1 128.4h0M301.2 121.5h0M301.7 118.2h0M301.1 126.0h0M299.4 127.7h0M301.3 128.9h0M303.2 128.9h0M300.6 128.4h0M299.6 127.4h0M302.8 128.4h0M300.4 126.0h0M302.7 125.8h0M298.4 128.4h0M302.1 125.3h0M302.9 124.0h0M301.9 107.1h0" stroke="#ff2c0c" stroke-opacity="0.5" stroke-width="2.2" stroke-linecap="round" fill="none"/>
<path d="M301.5 128.9h0M300.6 128.4h0M301.4 122.4h0M302.1 128.1h0M299.1 128.6h0M299.5 122.1h0M303.4 128.8h0M298.6 128.9h0M303.0 128.5h0M301.2 78.8h0M302.0 121.6h0M301.3 128.5h0M302.8 126.8h0M299.8 128.5h0M302.5 128.6h0M300.8 128.9h0M298.3 129.0h0M301.3 129.0h0M300.5 97.3h0M302.5 128.6h0M302.6 128.7h0M302.1 127.6h0M302.7 128.7h0M300.7 123.2h0M303.3 128.6h0M299.7 128.8h0M301.4 125.6h0M299.5 129.2h0M300.6 126.5h0M301.3 128.5h0M302.7 128.4h0M300.4 129.0h0M303.1 128.5h0M300.1 127.4h0M300.1 128.9h0M299.2 128.5h0M303.0 128.1h0M298.1 128.7h0M300.0 127.7h0M298.2 128.5h0M300.5 127.3h0M300.5 128.5h0M302.7 128.8h0M300.3 128.7h0M301.2 128.7h0M299.2 111.2h0M298.7 129.1h0M303.4 129.0h0M298.2 126.0h0M302.6 126.1h0M301.9 128.2h0M303.3 125.4h0M299.0 128.0h0M303.4 128.5h0M303.1 127.8h0M297.9 128.7h0M301.6 129.1h0M301.5 128.3h0M300.4 129.1h0M299.3 127.7h0M299.3 128.6h0M299.0 129.0h0M302.3 125.1h0M300.5 128.3h0M298.4 126.5h0M299.7 123.7h0M298.5 126.1h0M303.4 129.2h0M300.9 120.6h0M299.4 119.7h0M297.9 128.4h0M301.3 129.0h0M298.6 128.6h0M303.0 129.0h0M301.4 129.0h0M302.3 127.4h0M299.1 84.7h0M302.2 120.4h0M301.7 129.0h0M299.4 128.7h0M300.4 126.4h0M297.9 126.5h0M302.3 128.5h0M303.2 128.5h0M302.7 123.8h0M300.4 129.0h0" stroke="#ff2c0c" stroke-opacity="0.5" stroke-width="2.2" stroke-linecap="round" fill="none"/>
<path d="M300.2 127.8h0M298.8 127.2h0M299.9 128.3h0M298.7 128.9h0M300.1 128.6h0M300.9 128.2h0M301.4 118.8h0M299.1 127.6h0M301.5 128.7h0M301.3 128.8h0M299.0 129.0h0M302.1 129.1h0M303.4 129.2h0M303.4 127.7h0M299.7 85.7h0M299.2 101.8h0M298.7 128.7h0M300.2 119.1h0M301.8 128.6h0M302.9 128.8h0M302.0 121.0h0M300.5 123.3h0M298.1 128.7h0M300.6 90.2h0M300.1 128.1h0M298.8 128.6h0M299.5 128.8h0M297.8 129.0h0M302.1 128.6h0M300.5 129.0h0M301.5 122.9h0M300.1 120.1h0M299.7 128.2h0M298.3 125.9h0M299.9 118.1h0M299.1 128.6h0M300.2 128.9h0M299.2 129.2h0M299.0 128.9h0M301.7 128.3h0M301.0 125.6h0M303.4 127.2h0M300.2 102.3h0M301.4 100.9h0M302.0 120.9h0M301.3 112.0h0M301.5 129.0h0M299.9 129.1h0M298.1 128.6h0M301.4 125.9h0M300.6 127.5h0M300.5 129.0h0M303.0 128.7h0M298.2 127.4h0M299.4 123.9h0M298.2 125.5h0M303.3 127.3h0M302.5 128.6h0M301.1 128.5h0M302.1 129.1h0M298.1 126.1h0M298.7 128.5h0M301.0 122.5h0M301.3 93.0h0M299.3 128.4h0M301.1 128.8h0M301.2 128.5h0M300.3 87.2h0M302.1 129.0h0M299.6 93.8h0M303.4 126.6h0M302.0 97.3h0M302.0 128.8h0M299.7 117.0h0M298.9 129.0h0M303.0 127.4h0M299.3 129.2h0M299.5 113.7h0M301.8 129.0h0M299.3 126.0h0M303.0 128.6h0M297.8 128.9h0M300.2 126.6h0M302.0 125.6h0M300.6 126.6h0M302.0 128.9h0" stroke="#ff2c0c" stroke-opacity="0.5" stroke-width="2.2" stroke-linecap="round" fill="none"/>
<path d="M300.62 125.56V120.89M300.62 128.71V129.00" stroke="#ff2c0c" stroke-width="0.6"/>
<rect x="297.32" y="125.56" width="6.6" height="3.15" fill="#fff" fill-opacity="0.38" stroke="#ff2c0c" stroke-width="0.6"/>
<path d="M297.32 128.42h6.6" stroke="#ff2c0c" stroke-width="1.6"/>
<path d="M307.5 114.4h0M307.0 129.0h0M311.5 125.8h0M311.6 125.2h0M306.4 126.8h0M309.6 117.3h0M311.6 129.1h0M311.5 128.4h0M308.8 101.7h0M308.0 124.1h0M308.9 128.3h0M309.4 115.6h0M309.0 124.6h0M306.9 128.7h0M307.0 126.5h0M308.9 128.7h0M311.5 129.2h0M309.7 122.6h0M309.1 128.5h0M310.8 128.7h0M308.7 90.9h0M311.3 128.5h0M310.6 129.0h0M309.5 120.4h0M309.6 128.8h0M309.2 93.7h0M310.1 128.4h0M310.3 129.1h0M306.7 128.5h0M309.0 128.7h0M307.5 125.2h0M307.0 128.5h0M311.1 127.9h0M309.6 116.1h0M307.4 126.5h0M310.2 128.9h0M309.2 128.4h0M310.8 128.9h0M309.2 128.8h0M308.3 126.3h0M310.7 128.4h0M311.5 127.7h0M308.0 129.1h0M310.4 126.6h0M311.6 128.9h0M309.7 126.3h0M311.0 129.2h0M307.0 128.8h0M309.6 122.1h0M307.5 126.5h0M309.9 128.6h0M310.5 122.4h0M307.4 128.7h0M309.5 124.7h0M306.6 128.7h0M307.7 119.1h0M311.3 128.8h0M306.9 128.4h0M308.9 123.4h0M309.7 102.7h0M307.8 121.6h0M311.5 128.7h0" stroke="#ff2c0c" stroke-opacity="0.5" stroke-width="2.2" stroke-linecap="round" fill="none"/>
<path d="M308.9 127.0h0M307.2 128.9h0M310.5 128.7h0M308.3 117.3h0M309.4 128.9h0M310.3 128.8h0M307.2 128.2h0M306.6 127.2h0M308.9 128.7h0M311.0 128.8h0M306.7 129.2h0M310.2 111.2h0M308.1 118.3h0M310.0 128.7h0M306.9 127.5h0M307.4 128.5h0M311.4 128.8h0M309.2 119.4h0M311.6 128.9h0M308.4 126.2h0M310.3 125.2h0M311.2 128.7h0M311.6 128.0h0M306.9 128.8h0M311.1 128.7h0M309.7 124.0h0M307.9 128.0h0M309.0 125.9h0M309.7 116.6h0M308.8 84.3h0M308.5 98.4h0M308.3 126.8h0M307.3 124.8h0M311.8 127.8h0M309.5 128.6h0M307.2 128.6h0M307.5 129.0h0M307.6 97.5h0M307.7 120.1h0M307.5 128.8h0M307.4 128.9h0M310.4 128.5h0M309.0 128.7h0M310.2 126.0h0M307.7 109.5h0M309.9 129.1h0M308.8 128.8h0M309.4 128.3h0M310.0 127.0h0M309.6 108.7h0M309.7 128.8h0M308.2 128.7h0M310.9 124.7h0M307.6 128.6h0M310.2 128.7h0M309.9 128.7h0M311.5 128.7h0M306.6 128.5h0M310.9 123.4h0M309.9 128.2h0M307.7 126.9h0M308.1 128.2h0" stroke="#ff2c0c" stroke-opacity="0.5" stroke-width="2.2" stroke-linecap="round" fill="none"/>
<path d="M309.6 126.5h0M306.4 128.6h0M306.6 128.2h0M311.3 128.3h0M306.5 128.5h0M311.6 128.3h0M307.9 120.6h0M307.1 128.0h0M306.6 126.4h0M310.8 125.0h0M306.3 128.9h0M307.8 77.3h0M311.1 127.0h0M311.1 129.2h0M309.8 127.5h0M307.5 128.5h0M311.6 128.9h0M311.4 128.8h0M310.5 128.8h0M307.9 127.9h0M309.3 120.5h0M307.9 128.9h0M308.2 125.8h0M307.0 128.5h0M307.7 128.5h0M307.6 126.0h0M310.5 123.1h0M307.8 124.4h0M307.0 126.3h0M308.4 100.6h0M309.2 128.4h0M311.5 128.4h0M309.9 125.5h0M307.7 110.6h0M307.7 128.6h0M310.4 127.6h0M307.4 120.6h0M306.0 127.2h0M310.8 128.1h0M310.1 128.3h0M310.4 125.0h0M308.2 128.4h0M306.2 128.5h0M311.0 129.0h0M310.7 124.8h0M306.6 126.3h0M306.5 126.2h0M311.4 128.7h0M308.5 109.2h0M310.7 127.8h0M309.8 128.9h0M308.5 129.1h0M309.4 122.7h0M307.3 128.8h0M311.5 128.7h0M309.6 121.2h0M310.2 118.2h0M308.0 95.1h0M307.8 116.7h0M310.4 117.6h0M306.5 128.8h0M309.7 119.5h0" stroke="#ff2c0c" stroke-opacity="0.5" stroke-width="2.2" stroke-linecap="round" fill="none"/>
<path d="M307.8 128.8h0M307.7 107.9h0M307.7 128.4h0M310.9 122.0h0M310.4 128.9h0M309.3 115.3h0M310.2 110.9h0M306.7 128.8h0M309.0 104.4h0M307.5 128.9h0M309.5 128.9h0M311.4 128.4h0M311.4 124.8h0M307.4 128.5h0M308.6 129.0h0M307.6 124.7h0M308.9 129.0h0M309.1 87.5h0M310.4 118.7h0M310.1 128.7h0M310.5 117.9h0M309.5 117.0h0M307.2 127.5h0M308.3 128.8h0M309.0 113.4h0M310.6 128.7h0M309.0 105.0h0M308.1 128.6h0M309.6 116.2h0M308.0 124.0h0M309.3 101.7h0M311.4 128.8h0M310.0 125.0h0M307.9 127.7h0M307.9 122.6h0M311.0 129.0h0M309.4 128.9h0M307.1 128.7h0M310.0 121.5h0M306.2 129.2h0M308.5 127.2h0M309.5 128.9h0M310.3 105.3h0M311.4 129.2h0M306.2 128.7h0M309.4 105.2h0M307.3 126.4h0M308.4 116.6h0M310.3 125.9h0M307.6 128.2h0M308.8 119.5h0M310.2 125.5h0M308.9 129.2h0M308.8 128.4h0M311.2 128.9h0M308.0 128.9h0M310.0 126.2h0M309.3 126.8h0M311.1 128.9h0M309.8 101.7h0M307.9 128.3h0M309.3 128.4h0" stroke="#ff2c0c" stroke-opacity="0.5" stroke-width="2.2" stroke-linecap="round" fill="none"/>
<path d="M307.6 128.7h0M310.1 128.7h0M310.0 91.8h0M311.4 128.4h0M311.0 128.9h0M309.8 127.7h0M310.5 115.8h0M307.6 128.7h0M307.0 125.4h0M308.4 128.7h0M306.5 125.5h0M308.0 128.7h0M306.9 128.9h0M311.3 125.2h0M308.6 112.7h0M308.6 115.7h0M310.9 128.7h0M310.2 128.8h0M309.2 127.9h0M307.6 121.2h0M309.3 125.2h0M309.2 128.5h0M309.8 128.6h0M308.7 126.2h0M309.1 128.5h0M310.7 129.0h0M311.1 128.4h0M306.8 128.6h0M308.1 129.2h0M308.6 129.3h0M310.7 124.4h0M310.8 128.3h0M311.0 125.1h0M311.2 128.6h0M307.1 125.9h0M310.2 124.8h0M311.0 123.7h0M309.5 111.9h0M310.5 125.0h0M307.8 118.7h0M306.5 124.4h0M307.6 115.8h0M308.9 127.7h0M309.6 125.0h0M311.1 127.3h0M310.1 129.1h0M311.4 127.0h0M306.9 129.0h0M309.0 117.4h0M310.7 128.7h0M308.4 128.7h0M307.4 128.5h0M309.0 106.3h0M308.2 125.9h0M309.0 128.7h0M306.7 129.1h0M309.6 128.6h0M309.6 116.5h0M309.4 128.7h0M309.5 128.6h0M310.1 127.0h0M311.5 129.2h0" stroke="#ff2c0c" stroke-opacity="0.5" stroke-width="2.2" stroke-linecap="round" fill="none"/>
<path d="M307.5 128.8h0M308.3 128.8h0M307.9 128.9h0M309.3 128.5h0M308.8 128.9h0M307.1 128.6h0M307.1 129.0h0M309.8 128.2h0M307.0 128.4h0M311.7 128.5h0M309.1 128.2h0M310.5 127.0h0M307.7 128.7h0M307.9 119.4h0M308.2 106.8h0M306.9 129.1h0M308.1 128.9h0M309.6 128.8h0M308.4 122.8h0M309.4 86.1h0M308.1 128.5h0M309.6 125.5h0M309.1 128.8h0M307.4 128.6h0M306.5 128.8h0M306.1 129.2h0M307.6 120.4h0M309.7 82.5h0M308.9 120.0h0M307.6 128.5h0M308.4 125.4h0M308.0 107.8h0M306.9 128.1h0M307.4 128.9h0M309.8 124.6h0M310.9 128.6h0M311.7 128.9h0M309.3 113.8h0M307.5 128.3h0M310.2 128.7h0M308.9 128.2h0M306.2 128.9h0M309.3 103.6h0M311.5 129.0h0M310.8 128.7h0M309.8 119.0h0M311.0 128.1h0M308.7 125.7h0M308.2 118.0h0M311.4 129.1h0M308.2 121.3h0M306.9 128.4h0M309.8 126.7h0M309.9 128.5h0M308.2 129.0h0M311.6 127.4h0M310.3 128.4h0M307.4 123.4h0M310.1 117.6h0M307.1 128.9h0M311.1 127.3h0" stroke="#ff2c0c" stroke-opacity="0.5" stroke-width="2.2" stroke-linecap="round" fill="none"/>
<path d="M308.90 124.41V118.20M308.90 128.71V129.00" stroke="#ff2c0c" stroke-width="0.6"/>
<rect x="305.60" y="124.41" width="6.6" height="4.30" fill="#fff" fill-opacity="0.38" stroke="#ff2c0c" stroke-width="0.6"/>
<path d="M305.60 128.43h6.6" stroke="#ff2c0c" stroke-width="1.6"/>
<path d="M315.0 128.8h0M319.3 129.2h0M316.2 128.6h0M317.9 128.9h0M317.0 129.0h0M318.4 129.0h0M316.1 128.6h0M314.4 129.0h0M319.3 128.9h0" stroke="#2c52b0" stroke-opacity="0.5" stroke-width="2.2" stroke-linecap="round" fill="none"/>
<path d="M316.7 128.7h0M315.7 129.0h0M316.3 129.1h0M314.5 128.7h0M316.1 128.8h0M314.7 129.1h0M315.2 129.1h0M314.5 128.5h0M319.6 128.7h0" stroke="#2c52b0" stroke-opacity="0.5" stroke-width="2.2" stroke-linecap="round" fill="none"/>
<path d="M319.3 128.5h0M315.5 128.9h0M320.0 128.3h0M318.7 128.6h0M318.0 128.9h0M317.2 128.6h0M318.6 129.0h0M319.2 128.4h0" stroke="#2c52b0" stroke-opacity="0.5" stroke-width="2.2" stroke-linecap="round" fill="none"/>
<path d="M319.3 128.8h0M318.0 128.8h0M317.1 129.1h0M317.5 128.9h0M315.9 129.0h0M319.9 128.8h0M316.8 129.1h0M318.9 128.8h0" stroke="#2c52b0" stroke-opacity="0.5" stroke-width="2.2" stroke-linecap="round" fill="none"/>
<path d="M317.4 128.8h0M319.9 128.8h0M319.7 128.7h0M315.2 128.7h0M316.7 128.9h0M319.3 128.9h0M314.6 128.5h0M318.7 128.4h0" stroke="#2c52b0" stroke-opacity="0.5" stroke-width="2.2" stroke-linecap="round" fill="none"/>
<path d="M316.3 128.6h0M318.2 128.9h0M315.8 128.7h0M317.9 128.3h0M318.2 128.9h0M317.7 128.8h0M318.3 128.9h0M318.9 128.4h0" stroke="#2c52b0" stroke-opacity="0.5" stroke-width="2.2" stroke-linecap="round" fill="none"/>
<path d="M317.17 128.66V128.54M317.17 128.88V128.99" stroke="#2c52b0" stroke-width="0.6"/>
<rect x="313.87" y="128.66" width="6.6" height="0.23" fill="#fff" fill-opacity="0.38" stroke="#2c52b0" stroke-width="0.6"/>
<path d="M313.87 128.77h6.6" stroke="#2c52b0" stroke-width="1.6"/>
<path d="M322.9 129.0h0M325.1 128.8h0M326.5 96.3h0M325.8 81.8h0M325.0 128.4h0M325.3 106.9h0M326.8 92.3h0M326.5 123.8h0M326.4 87.9h0M324.8 74.8h0M325.4 128.9h0M323.0 128.2h0M325.6 75.4h0M327.4 129.0h0M326.4 123.2h0M325.4 114.1h0M324.3 110.8h0M323.0 129.1h0M325.0 107.1h0M322.8 128.3h0M325.8 118.2h0M325.3 114.7h0M326.8 105.0h0M324.7 87.7h0M324.0 121.8h0M326.4 79.2h0M325.6 128.7h0M326.2 128.0h0M325.3 129.1h0M327.1 128.9h0M323.3 128.6h0M326.7 129.2h0M324.5 99.6h0M326.4 116.4h0M326.5 118.6h0M326.5 113.3h0M326.3 102.0h0M326.6 128.9h0M326.0 97.7h0M326.3 89.0h0M326.0 120.6h0M326.7 119.7h0M327.8 129.2h0M326.6 129.1h0M324.1 129.0h0M327.4 129.0h0M324.1 128.7h0M324.2 126.1h0M323.3 122.5h0M326.0 128.7h0M325.4 112.4h0M325.8 91.8h0M325.3 128.7h0M327.9 129.1h0M324.7 128.9h0M324.5 128.7h0M322.8 125.7h0M325.8 129.0h0M328.2 128.8h0M326.9 94.5h0M323.1 129.1h0M326.7 114.7h0M327.2 128.8h0M325.6 128.4h0M326.7 128.7h0M326.1 129.0h0M325.1 115.4h0M324.4 127.9h0M326.8 128.9h0M326.0 122.2h0M324.4 89.2h0M326.2 129.1h0M325.7 128.7h0M323.5 128.9h0M325.4 113.3h0M322.7 127.8h0M324.7 119.0h0M327.0 104.4h0M322.8 129.2h0M323.8 118.4h0M327.6 128.4h0M325.5 106.1h0M327.2 120.3h0M324.9 101.2h0M326.6 128.8h0M324.6 98.8h0" stroke="#ff2c0c" stroke-opacity="0.5" stroke-width="2.2" stroke-linecap="round" fill="none"/>
<path d="M325.5 125.6h0M328.0 128.5h0M323.7 123.7h0M323.1 128.9h0M327.2 128.5h0M324.7 105.1h0M324.9 86.0h0M323.7 128.8h0M324.0 76.7h0M323.9 127.1h0M325.8 128.0h0M325.3 128.1h0M324.6 119.1h0M326.8 105.4h0M326.7 117.5h0M325.0 129.2h0M323.5 128.9h0M327.2 122.7h0M325.3 114.3h0M325.0 129.2h0M322.8 129.1h0M323.7 127.4h0M324.9 123.1h0M325.9 116.4h0M325.7 120.6h0M325.0 108.1h0M324.0 117.4h0M322.8 125.6h0M325.8 79.3h0M326.8 129.1h0M324.8 121.5h0M323.2 128.2h0M325.2 102.9h0M323.3 128.9h0M328.2 129.1h0M324.4 128.2h0M327.1 129.1h0M326.6 128.7h0M324.1 95.1h0M325.1 119.9h0M325.4 124.7h0M323.5 128.6h0M327.3 128.6h0M326.9 116.0h0M324.2 128.7h0M327.8 128.7h0M324.1 123.4h0M323.9 129.3h0M324.5 128.7h0M328.0 129.0h0M325.9 127.9h0M322.9 128.9h0M326.7 76.4h0M325.2 128.3h0M325.0 128.3h0M328.2 128.9h0M324.1 128.1h0M323.9 113.6h0M325.2 106.4h0M326.8 108.1h0M326.8 81.3h0M326.8 78.0h0M326.9 84.5h0M326.8 114.0h0M325.2 129.1h0M324.4 100.1h0M324.3 96.6h0M325.5 92.8h0M326.3 85.1h0M326.1 117.4h0M326.0 128.7h0M325.8 114.5h0M322.9 128.6h0M324.5 109.0h0M325.5 121.2h0M324.2 122.6h0M324.3 120.2h0M328.1 128.7h0M324.7 103.2h0M325.1 96.0h0M324.4 128.7h0M325.4 126.9h0M323.5 129.2h0M324.6 129.1h0M324.3 119.4h0M325.1 116.7h0" stroke="#ff2c0c" stroke-opacity="0.5" stroke-width="2.2" stroke-linecap="round" fill="none"/>
<path d="M327.4 129.2h0M326.1 128.8h0M327.6 123.0h0M324.2 78.4h0M326.0 129.1h0M326.4 117.9h0M324.5 128.9h0M323.4 128.8h0M325.7 127.9h0M324.5 129.1h0M326.7 126.8h0M323.6 129.2h0M327.4 128.4h0M323.5 123.3h0M328.1 128.7h0M323.0 125.9h0M325.9 128.7h0M323.1 128.6h0M325.0 97.5h0M324.6 129.2h0M326.8 117.7h0M323.4 128.9h0M324.7 124.2h0M323.3 128.4h0M326.3 122.6h0M325.0 122.1h0M324.2 124.7h0M327.2 129.0h0M325.4 128.3h0M324.7 102.3h0M326.0 75.6h0M325.3 128.1h0M324.5 102.0h0M323.8 118.2h0M325.6 126.4h0M325.0 129.2h0M325.3 115.3h0M324.6 128.7h0M324.8 89.3h0M325.6 106.2h0M324.5 106.3h0M326.3 128.7h0M325.7 98.6h0M324.6 128.7h0M327.7 128.2h0M325.1 128.4h0M327.8 129.2h0M327.5 128.0h0M324.6 109.1h0M324.7 100.6h0M326.7 107.4h0M327.1 128.2h0M325.7 128.4h0M324.1 129.0h0M325.4 113.2h0M322.6 128.3h0M323.3 128.8h0M324.1 112.1h0M325.2 125.5h0M324.2 82.1h0M326.1 127.0h0M325.3 115.1h0M326.3 129.0h0M326.6 103.5h0M325.9 127.9h0M325.8 115.3h0M326.9 111.4h0M328.0 128.8h0M325.9 122.4h0M327.4 129.1h0M327.4 129.1h0M327.5 128.8h0M326.3 111.1h0M325.6 94.0h0M324.7 121.2h0M325.7 129.0h0M324.2 128.8h0M323.9 116.7h0M325.1 73.6h0M326.5 129.0h0M322.7 128.6h0M324.7 113.0h0M324.9 129.2h0M327.4 128.8h0M326.5 128.5h0M324.3 88.3h0" stroke="#ff2c0c" stroke-opacity="0.5" stroke-width="2.2" stroke-linecap="round" fill="none"/>
<path d="M325.6 129.2h0M325.2 99.6h0M324.9 128.8h0M324.2 128.4h0M325.4 122.3h0M326.8 79.9h0M327.7 129.2h0M326.4 86.1h0M323.0 129.1h0M324.0 129.0h0M327.4 128.4h0M324.3 128.5h0M325.4 128.7h0M325.6 126.1h0M327.7 128.2h0M323.7 129.2h0M327.7 128.4h0M322.6 128.4h0M326.1 110.3h0M326.5 128.6h0M324.0 128.6h0M326.2 128.9h0M324.4 128.1h0M325.4 116.0h0M326.7 95.6h0M325.2 128.9h0M325.0 84.1h0M326.7 119.9h0M324.7 109.8h0M324.8 110.8h0M323.7 128.7h0M325.1 93.5h0M326.1 80.1h0M327.6 125.1h0M325.6 121.0h0M326.9 128.8h0M326.3 128.4h0M324.9 117.4h0M327.9 129.1h0M327.7 128.4h0M325.5 128.7h0M327.5 128.1h0M324.9 95.5h0M323.4 128.3h0M327.9 129.0h0M324.0 128.5h0M324.6 124.2h0M326.9 128.9h0M324.4 120.2h0M324.8 86.7h0M326.5 115.2h0M328.1 129.1h0M327.6 129.2h0M324.0 114.7h0M328.0 129.0h0M325.0 81.0h0M323.7 128.1h0M324.8 128.5h0M323.1 129.0h0M325.5 116.1h0M326.7 96.3h0M323.4 128.0h0M325.4 128.4h0M326.5 116.0h0M324.8 94.8h0M324.8 90.7h0M324.0 128.3h0M325.9 127.3h0M326.6 119.4h0M322.8 128.3h0M324.7 128.3h0M326.6 128.9h0M323.7 121.4h0M325.3 129.3h0M324.4 97.9h0M322.7 128.6h0M327.9 128.5h0M323.5 129.1h0M326.9 104.6h0M325.8 128.9h0M327.2 121.4h0M326.4 118.1h0M327.6 128.9h0M326.9 117.0h0M325.1 128.7h0M324.2 128.7h0" stroke="#ff2c0c" stroke-opacity="0.5" stroke-width="2.2" stroke-linecap="round" fill="none"/>
<path d="M323.4 128.3h0M327.9 124.9h0M324.8 129.0h0M324.2 86.9h0M327.0 119.5h0M326.1 98.1h0M322.6 128.8h0M324.2 103.9h0M326.7 128.5h0M326.8 83.4h0M324.3 128.6h0M325.7 95.1h0M323.9 121.4h0M326.2 91.3h0M326.9 118.8h0M324.6 129.1h0M326.8 117.6h0M326.9 110.6h0M328.2 129.1h0M325.3 118.4h0M324.8 128.8h0M326.1 129.0h0M323.0 127.2h0M328.1 128.8h0M324.2 124.2h0M325.6 128.1h0M322.6 128.7h0M324.6 128.9h0M324.1 128.8h0M325.8 128.6h0M326.2 124.8h0M323.5 125.3h0M325.9 111.8h0M324.6 98.4h0M325.8 129.0h0M323.1 129.2h0M325.3 128.4h0M327.6 124.5h0M324.6 96.8h0M324.2 128.0h0M326.6 107.2h0M328.0 128.8h0M325.3 128.8h0M325.9 81.3h0M324.5 116.6h0M324.8 90.3h0M325.5 128.8h0M324.1 125.4h0M327.0 97.2h0M325.9 129.0h0M326.5 128.2h0M327.0 100.5h0M323.9 128.7h0M325.5 128.7h0M324.1 118.0h0M324.2 129.2h0M323.9 128.4h0M326.7 128.8h0M326.9 83.5h0M326.7 128.9h0M326.7 109.8h0M325.8 128.7h0M326.5 129.1h0M323.6 129.0h0M326.1 128.9h0M327.3 128.8h0M328.0 125.7h0M326.7 125.9h0M327.2 128.5h0M327.2 129.0h0M324.5 129.1h0M328.0 128.4h0M327.5 128.3h0M326.4 129.3h0M326.4 129.2h0M324.8 116.9h0M324.0 92.1h0M325.6 129.0h0M324.7 128.5h0M324.9 128.7h0M325.4 128.9h0M324.6 99.2h0M326.4 128.7h0M326.9 126.5h0M323.5 129.1h0M326.2 117.2h0" stroke="#ff2c0c" stroke-opacity="0.5" stroke-width="2.2" stroke-linecap="round" fill="none"/>
<path d="M325.4 128.9h0M324.2 128.9h0M323.9 128.1h0M323.6 129.0h0M326.2 129.0h0M326.9 116.4h0M325.7 128.5h0M326.3 128.4h0M324.7 83.2h0M325.1 101.4h0M324.5 74.1h0M325.9 128.5h0M327.1 128.7h0M324.8 128.2h0M326.4 127.8h0M324.6 101.7h0M325.3 128.2h0M324.8 128.7h0M324.5 123.5h0M323.9 119.9h0M323.6 128.8h0M324.3 82.4h0M325.9 128.4h0M324.2 129.0h0M323.8 128.8h0M326.6 128.3h0M327.8 125.7h0M324.4 126.9h0M326.0 128.7h0M325.4 92.5h0M323.2 128.7h0M325.3 128.6h0M326.0 119.1h0M327.8 124.1h0M328.1 128.8h0M326.8 99.8h0M326.7 104.3h0M324.0 121.8h0M325.6 128.9h0M327.0 103.7h0M324.3 115.0h0M323.3 128.5h0M325.5 87.6h0M323.9 121.2h0M325.8 73.1h0M324.1 129.2h0M326.1 77.8h0M325.3 89.9h0M326.6 112.1h0M326.7 115.6h0M327.9 125.1h0M325.2 123.1h0M326.1 128.7h0M324.2 129.0h0M324.6 128.7h0M327.3 128.6h0M324.3 128.7h0M327.9 126.7h0M325.1 110.1h0M324.4 119.4h0M323.4 128.7h0M327.9 128.2h0M324.1 103.0h0M324.6 128.2h0M326.0 104.7h0M324.4 108.2h0M325.1 128.3h0M322.6 128.7h0M326.4 85.2h0M324.9 119.1h0M326.2 125.4h0M325.6 121.4h0M323.5 129.2h0M322.6 128.5h0M322.7 128.8h0M326.6 115.4h0M326.8 128.2h0M325.7 108.8h0M328.3 128.8h0M323.7 123.3h0M326.6 128.7h0M323.8 119.7h0M327.9 127.9h0M327.1 120.8h0M323.5 128.6h0" stroke="#ff2c0c" stroke-opacity="0.5" stroke-width="2.2" stroke-linecap="round" fill="none"/>
<path d="M325.44 114.37V92.71M325.44 128.88V129.00" stroke="#ff2c0c" stroke-width="0.6"/>
<rect x="322.14" y="114.37" width="6.6" height="14.51" fill="#fff" fill-opacity="0.38" stroke="#ff2c0c" stroke-width="0.6"/>
<path d="M322.14 128.08h6.6" stroke="#ff2c0c" stroke-width="1.6"/>
<path d="M334.7 127.5h0M335.2 128.7h0M333.7 128.9h0M332.9 128.6h0M332.7 129.0h0M332.6 125.5h0M331.6 128.8h0M333.1 128.7h0M336.2 128.8h0M331.2 128.9h0" stroke="#2c52b0" stroke-opacity="0.5" stroke-width="2.2" stroke-linecap="round" fill="none"/>
<path d="M335.5 128.9h0M334.1 128.6h0M336.2 128.6h0M333.5 128.9h0M335.6 129.0h0M336.6 128.8h0M332.9 128.9h0M332.8 128.8h0M331.1 129.1h0M334.1 128.6h0" stroke="#2c52b0" stroke-opacity="0.5" stroke-width="2.2" stroke-linecap="round" fill="none"/>
<path d="M334.9 128.9h0M331.4 128.3h0M336.6 128.8h0M334.9 128.6h0M331.1 128.6h0M335.3 128.7h0M330.8 128.4h0M335.7 128.9h0M335.2 128.8h0M335.5 126.3h0" stroke="#2c52b0" stroke-opacity="0.5" stroke-width="2.2" stroke-linecap="round" fill="none"/>
<path d="M335.8 128.8h0M334.8 128.9h0M334.4 128.7h0M334.0 128.7h0M331.5 128.4h0M334.4 128.6h0M336.0 127.1h0M332.3 128.6h0M336.2 128.3h0M332.0 128.3h0" stroke="#2c52b0" stroke-opacity="0.5" stroke-width="2.2" stroke-linecap="round" fill="none"/>
<path d="M335.5 128.5h0M335.9 128.8h0M333.6 129.1h0M332.0 128.6h0M336.1 129.0h0M333.6 128.7h0M331.8 128.6h0M334.2 129.0h0M335.7 129.1h0M335.2 128.6h0" stroke="#2c52b0" stroke-opacity="0.5" stroke-width="2.2" stroke-linecap="round" fill="none"/>
<path d="M335.2 128.4h0M333.1 128.8h0M331.4 128.8h0M331.5 125.9h0M332.1 128.9h0M333.4 128.8h0M333.8 128.6h0M334.9 128.2h0M336.5 129.2h0" stroke="#2c52b0" stroke-opacity="0.5" stroke-width="2.2" stroke-linecap="round" fill="none"/>
<path d="M333.71 128.53V128.43M333.71 128.84V128.99" stroke="#2c52b0" stroke-width="0.6"/>
<rect x="330.41" y="128.53" width="6.6" height="0.31" fill="#fff" fill-opacity="0.38" stroke="#2c52b0" stroke-width="0.6"/>
<path d="M330.41 128.68h6.6" stroke="#2c52b0" stroke-width="1.6"/>
<path d="M341.4 113.2h0M341.1 120.8h0M339.7 128.5h0M343.1 119.1h0M343.7 101.3h0M342.6 106.8h0M342.2 128.8h0M343.7 115.1h0M342.3 122.4h0M344.5 128.6h0M341.5 125.9h0M342.3 128.5h0M343.5 74.2h0M343.2 107.3h0M342.4 128.7h0M342.7 89.9h0M344.7 125.3h0M343.2 113.9h0M341.2 127.2h0M344.3 128.9h0M340.8 118.6h0M340.3 129.0h0M342.2 126.9h0M341.7 107.7h0M340.4 100.4h0M340.9 128.5h0M339.2 121.7h0M344.1 114.6h0M341.4 90.4h0M341.4 124.7h0M343.1 108.0h0M342.4 77.7h0M342.0 79.5h0M340.4 118.2h0M344.7 121.8h0M339.2 128.7h0M339.9 128.8h0M339.7 122.9h0M341.4 113.8h0M341.2 73.1h0M343.1 128.6h0M342.7 128.7h0M343.9 127.6h0M340.7 116.4h0M342.4 128.6h0M340.4 117.0h0M342.2 128.6h0M342.8 120.9h0M343.2 102.6h0M344.6 128.9h0M343.7 128.9h0M341.0 120.3h0M340.5 125.7h0M341.4 126.2h0M341.8 125.2h0M339.2 126.7h0M341.4 95.4h0M342.8 121.1h0M340.2 128.5h0M342.3 80.4h0M340.6 91.7h0M340.4 90.5h0M343.5 129.1h0M341.4 76.5h0M341.8 98.2h0M341.2 116.0h0M339.6 123.4h0M342.9 82.5h0M339.8 109.4h0M340.6 127.7h0M342.9 128.4h0M342.0 115.8h0M343.5 128.8h0M341.6 128.3h0M340.7 78.2h0M341.2 105.4h0M341.1 111.1h0M342.1 119.8h0M340.9 119.1h0M341.5 128.7h0M342.1 90.0h0M340.3 101.7h0M340.5 90.6h0M341.9 103.3h0" stroke="#ff2c0c" stroke-opacity="0.5" stroke-width="2.2" stroke-linecap="round" fill="none"/>
<path d="M342.6 46.0h0M340.7 110.0h0M340.8 94.0h0M340.5 79.2h0M339.6 128.3h0M340.7 128.9h0M343.0 89.6h0M340.6 115.6h0M343.2 128.6h0M342.8 124.9h0M344.2 117.0h0M341.4 120.9h0M341.1 124.2h0M343.0 128.1h0M342.4 128.8h0M339.4 128.6h0M343.2 87.3h0M339.4 122.3h0M342.3 124.9h0M340.3 112.6h0M339.8 114.3h0M344.9 127.6h0M340.5 75.9h0M343.8 125.4h0M344.5 120.1h0M344.1 128.7h0M341.6 104.8h0M343.7 115.9h0M342.5 127.8h0M344.5 128.2h0M339.3 124.7h0M343.2 128.5h0M344.0 119.4h0M339.8 121.2h0M343.0 99.9h0M340.6 122.4h0M343.3 129.2h0M340.4 90.9h0M339.2 125.8h0M342.4 125.8h0M342.6 89.1h0M340.5 82.8h0M341.7 128.5h0M340.0 116.7h0M344.1 128.7h0M341.4 84.1h0M340.1 128.2h0M343.3 94.2h0M342.2 92.5h0M344.2 110.4h0M339.1 122.3h0M340.3 99.4h0M340.6 117.0h0M343.4 119.4h0M341.7 128.8h0M339.3 126.6h0M341.8 97.6h0M339.8 128.9h0M342.9 75.9h0M343.4 77.2h0M342.0 89.2h0M341.0 128.8h0M341.0 72.2h0M342.1 72.7h0M344.4 117.0h0M341.4 109.3h0M341.0 118.1h0M344.3 128.6h0M339.9 127.0h0M341.0 114.3h0M341.5 111.7h0M343.7 129.0h0M340.6 108.8h0M342.0 106.3h0M343.5 123.3h0M344.8 128.9h0M340.8 109.1h0M342.6 122.0h0M341.1 128.5h0M341.1 106.8h0M342.4 127.3h0M342.1 60.4h0M342.4 125.6h0M339.1 125.8h0" stroke="#ff2c0c" stroke-opacity="0.5" stroke-width="2.2" stroke-linecap="round" fill="none"/>
<path d="M342.1 127.8h0M343.4 129.2h0M340.7 41.6h0M341.1 129.1h0M343.0 118.3h0M340.6 128.6h0M341.0 119.2h0M340.9 107.9h0M341.4 126.6h0M341.1 98.3h0M341.9 128.9h0M343.6 97.9h0M343.2 57.3h0M342.2 69.1h0M339.3 120.9h0M339.9 108.1h0M342.3 110.5h0M340.2 105.3h0M341.8 93.9h0M340.9 100.3h0M341.5 123.7h0M343.1 117.8h0M344.1 128.7h0M341.5 128.8h0M340.4 104.2h0M341.5 103.0h0M340.5 95.8h0M344.2 112.0h0M340.0 128.5h0M341.1 75.6h0M344.9 126.0h0M341.4 94.7h0M342.1 128.7h0M340.6 129.1h0M343.9 115.5h0M341.7 108.1h0M340.1 128.7h0M344.6 122.7h0M339.6 121.7h0M341.3 114.1h0M342.9 95.9h0M343.8 113.7h0M341.9 99.4h0M341.2 113.1h0M343.2 107.6h0M342.3 104.7h0M342.8 128.9h0M344.7 128.3h0M341.4 96.6h0M339.7 112.4h0M344.4 126.6h0M341.7 110.5h0M341.7 109.4h0M342.0 128.4h0M341.7 123.2h0M343.6 116.4h0M340.9 128.7h0M342.4 121.8h0M340.7 123.1h0M340.9 104.9h0M341.9 91.2h0M342.2 114.4h0M343.1 108.1h0M341.3 127.9h0M344.5 118.8h0M341.5 80.6h0M339.5 118.2h0M341.8 64.0h0M341.2 111.4h0M343.9 128.7h0M341.0 112.6h0M339.8 107.4h0M340.2 123.6h0M342.1 128.8h0M340.8 93.3h0M340.4 101.4h0M342.6 51.7h0M341.5 101.3h0M343.2 128.7h0M340.7 124.5h0M342.9 81.9h0M343.7 117.6h0M343.0 89.3h0M340.2 103.1h0" stroke="#ff2c0c" stroke-opacity="0.5" stroke-width="2.2" stroke-linecap="round" fill="none"/>
<path d="M341.5 84.8h0M340.6 80.0h0M342.2 112.7h0M344.5 129.0h0M341.4 87.6h0M341.3 128.7h0M341.5 128.9h0M342.5 121.5h0M341.4 123.8h0M341.8 128.6h0M342.4 105.0h0M344.3 128.7h0M343.3 128.9h0M343.3 87.0h0M340.5 85.9h0M342.5 126.8h0M342.5 104.6h0M339.8 121.7h0M343.8 110.9h0M344.5 129.1h0M341.9 49.6h0M343.6 124.7h0M341.0 101.9h0M340.0 110.3h0M339.3 128.6h0M341.3 84.3h0M341.8 123.4h0M342.7 90.9h0M342.0 101.0h0M340.7 77.1h0M340.5 115.5h0M343.7 110.0h0M342.7 127.7h0M341.8 123.9h0M343.8 112.5h0M342.5 127.1h0M343.7 129.0h0M343.1 73.7h0M344.7 120.4h0M341.3 91.5h0M341.2 95.3h0M343.0 85.9h0M341.1 128.6h0M341.9 104.6h0M341.6 129.2h0M342.2 128.6h0M344.3 122.8h0M343.8 129.1h0M342.8 121.7h0M341.2 125.4h0M341.0 93.1h0M341.4 104.8h0M341.0 127.2h0M342.1 95.1h0M341.4 128.7h0M343.4 83.3h0M343.2 118.9h0M343.8 110.7h0M340.8 119.9h0M341.0 118.5h0M340.5 111.4h0M344.6 128.4h0M343.2 122.6h0M343.2 122.4h0M340.9 105.8h0M340.9 128.6h0M340.7 108.4h0M343.2 120.7h0M340.8 97.1h0M340.8 103.8h0M340.2 128.4h0M342.4 128.8h0M340.4 81.7h0M340.8 128.7h0M343.1 85.0h0M344.7 128.4h0M342.7 128.3h0M343.7 123.2h0M340.6 125.5h0M341.3 128.4h0M339.7 128.6h0M343.7 128.6h0M343.2 128.7h0" stroke="#ff2c0c" stroke-opacity="0.5" stroke-width="2.2" stroke-linecap="round" fill="none"/>
<path d="M342.9 86.0h0M342.1 74.8h0M343.9 128.9h0M341.0 128.2h0M343.4 128.6h0M343.6 98.7h0M341.6 128.2h0M343.6 108.4h0M342.0 128.8h0M342.8 92.6h0M339.7 128.4h0M341.3 113.4h0M343.0 96.0h0M343.5 106.4h0M343.5 118.3h0M341.2 126.9h0M343.7 128.7h0M343.4 72.0h0M343.9 110.5h0M342.7 129.0h0M340.5 129.2h0M341.1 107.1h0M343.0 88.4h0M343.3 117.6h0M342.2 116.4h0M341.1 123.5h0M339.3 120.5h0M341.2 120.5h0M340.3 106.2h0M340.4 115.0h0M342.6 104.7h0M341.3 102.7h0M342.6 75.1h0M340.8 91.9h0M344.1 129.0h0M342.8 97.0h0M340.6 128.5h0M343.8 106.7h0M339.8 128.3h0M341.6 124.5h0M342.7 128.2h0M341.8 128.5h0M340.0 128.7h0M343.0 92.7h0M343.5 128.6h0M340.0 128.7h0M342.2 124.2h0M344.3 123.9h0M342.5 106.1h0M342.5 82.8h0M340.7 115.1h0M342.1 126.1h0M341.7 112.3h0M344.1 119.2h0M341.3 128.5h0M340.7 121.2h0M344.1 113.1h0M341.3 99.1h0M341.5 128.6h0M339.4 124.7h0M339.9 128.4h0M341.5 88.1h0M340.4 97.6h0M340.3 124.0h0M339.7 114.2h0M341.7 104.1h0M342.1 108.9h0M344.3 113.7h0M339.8 111.0h0M341.8 129.3h0M341.2 118.4h0M339.6 128.7h0M342.2 111.3h0M343.1 128.5h0M343.2 114.9h0M341.1 129.2h0M342.2 103.7h0M343.3 128.7h0M341.1 109.3h0M341.2 78.7h0M343.4 119.0h0M341.3 119.4h0M342.0 116.7h0" stroke="#ff2c0c" stroke-opacity="0.5" stroke-width="2.2" stroke-linecap="round" fill="none"/>
<path d="M342.9 104.2h0M342.9 97.4h0M343.1 119.8h0M340.8 128.8h0M341.6 129.1h0M340.6 128.3h0M341.3 110.5h0M341.7 114.8h0M340.3 111.9h0M342.2 112.9h0M343.1 100.5h0M340.8 109.5h0M344.5 128.6h0M341.4 128.9h0M340.5 128.6h0M342.7 104.1h0M341.1 73.7h0M344.7 128.6h0M340.5 92.5h0M341.0 119.9h0M343.5 117.4h0M342.6 128.7h0M344.2 128.4h0M343.5 119.7h0M339.7 116.1h0M340.2 106.6h0M342.8 109.6h0M342.8 128.8h0M343.1 118.7h0M340.7 123.5h0M343.8 106.4h0M342.8 121.2h0M340.4 112.1h0M343.3 128.6h0M343.6 108.7h0M342.5 98.8h0M343.9 104.2h0M343.2 94.8h0M342.0 105.9h0M341.6 129.2h0M343.0 100.9h0M341.3 128.9h0M339.8 108.4h0M343.1 119.6h0M341.7 37.6h0M340.9 115.1h0M343.5 87.8h0M344.8 128.3h0M343.0 125.7h0M342.4 107.6h0M344.2 107.3h0M341.4 92.8h0M340.0 128.5h0M340.7 128.7h0M343.3 113.4h0M340.4 111.3h0M340.9 125.7h0M339.5 128.5h0M344.1 118.9h0M340.8 101.8h0M341.1 80.3h0M341.7 87.1h0M341.0 129.1h0M340.6 118.8h0M340.7 117.4h0M342.1 93.6h0M341.3 117.5h0M339.1 127.5h0M340.4 128.9h0M344.3 128.7h0M343.3 121.4h0M343.3 83.8h0M339.8 115.6h0M341.2 96.3h0M343.9 106.2h0M341.8 128.7h0M344.5 121.8h0M344.1 112.5h0M341.3 122.8h0M340.8 105.9h0M342.3 96.6h0M340.3 109.8h0M340.9 88.7h0" stroke="#ff2c0c" stroke-opacity="0.5" stroke-width="2.2" stroke-linecap="round" fill="none"/>
<path d="M341.99 104.04V69.37M341.99 128.42V129.00" stroke="#ff2c0c" stroke-width="0.6"/>
<rect x="338.69" y="104.04" width="6.6" height="24.38" fill="#fff" fill-opacity="0.38" stroke="#ff2c0c" stroke-width="0.6"/>
<path d="M338.69 117.90h6.6" stroke="#ff2c0c" stroke-width="1.6"/>
<path d="M350.6 128.7h0M352.5 128.5h0M350.3 128.8h0M348.7 128.7h0M351.0 128.9h0M352.4 128.7h0M352.4 129.0h0M348.0 128.7h0M349.7 129.0h0" stroke="#2c52b0" stroke-opacity="0.5" stroke-width="2.2" stroke-linecap="round" fill="none"/>
<path d="M351.2 128.6h0M352.1 129.0h0M352.5 128.7h0M352.8 128.9h0M351.9 128.3h0M352.6 128.7h0M351.8 129.0h0M351.9 128.6h0M352.7 129.0h0" stroke="#2c52b0" stroke-opacity="0.5" stroke-width="2.2" stroke-linecap="round" fill="none"/>
<path d="M350.6 128.6h0M352.4 128.4h0M351.1 128.8h0M347.5 128.8h0M348.1 129.1h0M348.5 128.9h0M352.4 128.9h0M348.2 128.9h0M350.1 129.0h0" stroke="#2c52b0" stroke-opacity="0.5" stroke-width="2.2" stroke-linecap="round" fill="none"/>
<path d="M353.2 128.4h0M352.5 128.7h0M348.7 128.7h0M347.6 128.7h0M352.9 128.8h0M352.3 128.7h0M351.5 128.7h0M350.3 128.3h0" stroke="#2c52b0" stroke-opacity="0.5" stroke-width="2.2" stroke-linecap="round" fill="none"/>
<path d="M348.2 128.8h0M352.2 129.0h0M351.4 128.7h0M348.8 129.1h0M351.6 128.8h0M348.5 129.0h0M348.1 129.0h0M352.1 128.5h0" stroke="#2c52b0" stroke-opacity="0.5" stroke-width="2.2" stroke-linecap="round" fill="none"/>
<path d="M348.1 128.7h0M353.1 129.2h0M351.0 128.9h0M349.7 128.8h0M348.5 128.4h0M353.0 128.4h0M348.9 128.8h0M347.5 128.5h0" stroke="#2c52b0" stroke-opacity="0.5" stroke-width="2.2" stroke-linecap="round" fill="none"/>
<path d="M350.26 128.66V128.55M350.26 128.89V129.00" stroke="#2c52b0" stroke-width="0.6"/>
<rect x="346.96" y="128.66" width="6.6" height="0.23" fill="#fff" fill-opacity="0.38" stroke="#2c52b0" stroke-width="0.6"/>
<path d="M346.96 128.77h6.6" stroke="#2c52b0" stroke-width="1.6"/>
<path d="M359.2 127.2h0M360.0 119.4h0M360.0 96.3h0M359.0 121.7h0M357.6 73.4h0M360.0 125.4h0M357.8 111.2h0M356.3 128.3h0M358.3 129.0h0M358.0 117.7h0M357.1 78.0h0M358.1 111.6h0M361.4 128.5h0M359.3 128.6h0M359.7 127.9h0" stroke="#ff2c0c" stroke-opacity="0.5" stroke-width="2.2" stroke-linecap="round" fill="none"/>
<path d="M356.9 127.6h0M356.2 127.5h0M359.0 103.1h0M359.0 86.5h0M359.4 107.8h0M361.3 128.2h0M357.7 128.8h0M357.9 121.1h0M358.3 100.9h0M359.4 122.8h0M359.9 118.3h0M357.8 103.6h0M359.3 128.6h0M359.0 128.0h0M357.5 106.9h0" stroke="#ff2c0c" stroke-opacity="0.5" stroke-width="2.2" stroke-linecap="round" fill="none"/>
<path d="M360.1 94.7h0M359.3 97.4h0M357.5 115.5h0M357.3 120.6h0M357.6 97.3h0M359.4 127.9h0M356.1 128.2h0M356.8 129.2h0M357.4 128.6h0M356.6 127.7h0M358.2 114.2h0M359.3 101.8h0M359.6 128.9h0M359.6 125.3h0M358.4 128.6h0" stroke="#ff2c0c" stroke-opacity="0.5" stroke-width="2.2" stroke-linecap="round" fill="none"/>
<path d="M358.8 99.7h0M356.2 129.0h0M360.6 129.0h0M357.0 128.9h0M356.7 129.0h0M357.8 112.3h0M355.8 126.6h0M357.4 114.5h0M358.6 127.7h0M358.6 90.8h0M360.1 109.2h0M361.0 129.2h0M356.0 128.1h0M358.4 128.2h0" stroke="#ff2c0c" stroke-opacity="0.5" stroke-width="2.2" stroke-linecap="round" fill="none"/>
<path d="M356.7 128.9h0M359.1 128.4h0M357.9 128.6h0M360.7 128.9h0M358.3 78.7h0M359.9 123.7h0M360.0 124.0h0M356.5 128.8h0M359.8 128.8h0M358.9 129.0h0M358.9 128.4h0M360.3 127.2h0M356.3 128.1h0M356.0 129.1h0" stroke="#ff2c0c" stroke-opacity="0.5" stroke-width="2.2" stroke-linecap="round" fill="none"/>
<path d="M357.3 71.0h0M358.5 127.4h0M359.0 83.2h0M358.4 105.3h0M357.6 127.5h0M359.9 117.1h0M358.2 112.8h0M358.8 116.3h0M356.3 129.1h0M357.3 87.4h0M356.9 128.7h0M357.2 109.1h0M356.0 129.0h0M355.8 128.6h0" stroke="#ff2c0c" stroke-opacity="0.5" stroke-width="2.2" stroke-linecap="round" fill="none"/>
<path d="M358.53 110.30V83.12M358.53 128.75V129.00" stroke="#ff2c0c" stroke-width="0.6"/>
<rect x="355.23" y="110.30" width="6.6" height="18.45" fill="#fff" fill-opacity="0.38" stroke="#ff2c0c" stroke-width="0.6"/>
<path d="M355.23 127.05h6.6" stroke="#ff2c0c" stroke-width="1.6"/>
<path d="M364.3 126.7h0M367.2 125.0h0M364.7 128.8h0M367.9 127.8h0M369.3 125.7h0M369.3 128.3h0M365.7 125.7h0M369.2 126.3h0M366.5 128.6h0M365.5 126.8h0M365.6 128.3h0M367.4 123.4h0M367.8 128.5h0M365.3 124.1h0M367.9 126.6h0M366.4 128.3h0M369.5 127.5h0M367.8 126.6h0M366.4 128.9h0M366.6 128.7h0M364.3 128.6h0M364.3 128.6h0M365.5 106.0h0M368.1 114.6h0M364.4 128.8h0M367.4 126.7h0M365.7 127.1h0M365.2 129.0h0M366.4 128.6h0M366.3 128.7h0M366.4 128.6h0M367.4 125.8h0M367.8 127.1h0M369.2 128.0h0M365.1 129.1h0M366.9 115.8h0M366.4 128.3h0M368.2 128.9h0M364.0 128.7h0M366.1 126.8h0M366.9 116.7h0M368.8 128.7h0M367.8 120.4h0M364.6 127.3h0M369.2 128.4h0M368.4 128.9h0M367.0 126.9h0M368.2 128.4h0M365.0 125.6h0M365.0 128.5h0M365.5 128.7h0" stroke="#ff2c0c" stroke-opacity="0.5" stroke-width="2.2" stroke-linecap="round" fill="none"/>
<path d="M369.3 128.7h0M367.8 128.3h0M369.7 128.7h0M368.3 128.8h0M369.5 128.6h0M367.2 128.5h0M367.3 118.7h0M369.6 128.7h0M366.8 88.0h0M369.4 128.9h0M366.4 125.7h0M366.1 126.5h0M366.4 128.6h0M369.3 128.5h0M367.2 74.7h0M366.4 99.6h0M366.8 128.9h0M367.7 129.0h0M367.4 128.2h0M364.0 128.5h0M366.4 128.8h0M367.6 123.4h0M369.5 128.9h0M369.0 128.0h0M367.3 128.9h0M369.2 128.9h0M368.7 128.9h0M365.7 128.3h0M365.4 128.7h0M365.7 128.1h0M367.9 128.4h0M368.7 126.2h0M366.3 122.4h0M366.7 89.8h0M365.2 128.3h0M365.2 96.6h0M366.3 118.6h0M366.7 128.3h0M368.9 122.7h0M367.5 127.8h0M368.1 128.2h0M368.4 121.3h0M365.9 128.8h0M366.8 128.7h0M366.1 128.7h0M368.4 128.6h0M364.4 127.8h0M366.8 116.4h0M367.6 126.3h0M367.3 128.7h0M368.0 93.7h0" stroke="#ff2c0c" stroke-opacity="0.5" stroke-width="2.2" stroke-linecap="round" fill="none"/>
<path d="M364.2 128.7h0M365.5 127.0h0M367.7 128.4h0M367.0 127.5h0M368.1 128.9h0M364.1 129.2h0M368.3 115.3h0M366.7 129.0h0M366.1 127.8h0M367.0 117.3h0M367.5 117.2h0M364.7 126.2h0M367.3 129.1h0M365.0 128.9h0M364.6 125.6h0M368.9 128.4h0M367.7 123.7h0M364.5 126.8h0M366.5 116.1h0M366.4 111.5h0M365.8 98.9h0M368.1 94.6h0M364.3 128.7h0M366.3 127.3h0M368.7 128.4h0M365.2 128.6h0M369.0 126.1h0M367.9 126.0h0M366.1 126.0h0M364.6 125.7h0M364.1 128.2h0M369.1 127.3h0M365.5 102.9h0M364.4 125.6h0M365.2 121.0h0M367.8 128.8h0M366.2 116.2h0M364.6 128.8h0M365.9 119.3h0M366.3 127.2h0M366.9 120.6h0M366.8 128.8h0M366.2 124.9h0M363.9 128.7h0M368.0 128.8h0M367.6 128.1h0M364.9 128.7h0M368.2 128.3h0M366.4 129.0h0M367.3 128.9h0M367.2 100.7h0" stroke="#ff2c0c" stroke-opacity="0.5" stroke-width="2.2" stroke-linecap="round" fill="none"/>
<path d="M364.8 128.6h0M368.4 128.9h0M366.5 85.3h0M365.4 126.9h0M364.0 128.7h0M364.0 128.6h0M369.3 125.9h0M366.8 118.9h0M369.3 128.5h0M366.3 129.0h0M366.3 118.1h0M366.6 115.6h0M367.2 128.3h0M368.2 127.6h0M368.9 124.4h0M368.3 122.1h0M367.7 125.7h0M366.0 128.1h0M364.7 127.3h0M368.1 128.6h0M369.1 129.1h0M365.3 128.6h0M366.3 126.8h0M369.2 128.9h0M365.8 109.1h0M366.6 128.5h0M367.1 126.3h0M369.1 128.1h0M369.6 128.5h0M367.2 128.6h0M367.0 102.2h0M368.3 127.7h0M365.6 129.0h0M366.2 121.2h0M367.0 103.5h0M364.6 128.8h0M364.4 128.5h0M366.6 120.6h0M368.0 126.6h0M366.6 120.5h0M367.3 96.7h0M366.7 128.8h0M368.6 128.6h0M368.0 129.0h0M367.7 121.9h0M364.7 128.9h0M365.8 117.3h0M367.9 120.0h0M368.0 108.2h0M364.9 128.6h0" stroke="#ff2c0c" stroke-opacity="0.5" stroke-width="2.2" stroke-linecap="round" fill="none"/>
<path d="M365.4 125.5h0M364.7 129.0h0M367.5 128.8h0M369.0 127.0h0M367.7 127.6h0M364.5 128.6h0M366.3 128.9h0M369.4 128.6h0M365.7 128.7h0M367.9 126.1h0M367.7 60.4h0M364.7 129.1h0M369.6 127.8h0M364.4 125.5h0M367.9 128.7h0M364.9 128.6h0M369.7 128.6h0M364.1 128.3h0M367.1 128.8h0M363.9 128.8h0M367.5 126.6h0M367.4 122.2h0M366.3 128.5h0M365.5 117.5h0M364.5 128.4h0M367.3 128.9h0M367.7 128.8h0M366.0 129.0h0M366.4 127.6h0M369.4 128.6h0M364.0 128.9h0M368.8 128.8h0M364.4 128.5h0M364.4 127.4h0M366.3 125.8h0M364.8 128.8h0M367.5 128.5h0M364.8 125.6h0M366.9 110.3h0M369.2 128.7h0M364.5 128.5h0M366.8 128.8h0M367.0 128.5h0M365.2 124.8h0M368.5 126.4h0M365.1 128.9h0M365.7 129.1h0M364.8 128.5h0M368.1 128.7h0M367.3 67.7h0" stroke="#ff2c0c" stroke-opacity="0.5" stroke-width="2.2" stroke-linecap="round" fill="none"/>
<path d="M368.3 128.9h0M368.5 125.5h0M363.9 128.4h0M368.0 104.6h0M367.7 128.8h0M368.1 93.2h0M367.6 97.8h0M368.6 128.6h0M365.6 117.3h0M368.9 122.7h0M364.0 128.5h0M367.3 128.2h0M366.6 91.4h0M368.7 129.1h0M366.4 113.2h0M365.2 128.1h0M368.3 120.2h0M364.3 128.8h0M368.3 128.8h0M367.5 128.5h0M369.5 125.8h0M368.8 127.3h0M368.4 128.9h0M369.4 128.7h0M366.0 128.8h0M368.7 126.6h0M367.2 123.6h0M365.8 128.5h0M365.0 128.9h0M366.0 119.2h0M368.4 128.8h0M369.3 128.6h0M364.7 128.8h0M366.6 128.9h0M366.0 91.3h0M367.4 128.8h0M367.5 128.7h0M367.9 127.0h0M368.4 125.6h0M369.0 128.7h0M366.5 128.9h0M368.8 128.8h0M365.7 118.2h0M366.4 113.2h0M366.2 107.3h0M365.1 128.7h0M367.2 123.7h0M366.8 128.6h0M367.5 119.7h0M368.2 128.1h0" stroke="#ff2c0c" stroke-opacity="0.5" stroke-width="2.2" stroke-linecap="round" fill="none"/>
<path d="M366.81 125.47V120.70M366.81 128.71V129.00" stroke="#ff2c0c" stroke-width="0.6"/>
<rect x="363.51" y="125.47" width="6.6" height="3.24" fill="#fff" fill-opacity="0.38" stroke="#ff2c0c" stroke-width="0.6"/>
<path d="M363.51 128.42h6.6" stroke="#ff2c0c" stroke-width="1.6"/>
<path d="M374.0 128.8h0M376.9 116.6h0M373.2 117.2h0M374.2 123.9h0M375.1 105.5h0M376.8 128.9h0M375.5 129.2h0M376.0 92.5h0M373.0 128.0h0M376.5 128.7h0M377.2 129.0h0M376.7 119.5h0M374.9 129.0h0M375.4 121.9h0M376.9 126.3h0M376.6 128.6h0M376.9 128.4h0M376.7 125.6h0M374.3 123.2h0M374.2 127.1h0M376.2 116.3h0M375.3 98.1h0M375.4 125.6h0M373.5 115.5h0M376.5 128.5h0M375.2 83.6h0M377.2 128.6h0M375.2 117.1h0M375.3 108.9h0M373.8 127.1h0" stroke="#ff2c0c" stroke-opacity="0.5" stroke-width="2.2" stroke-linecap="round" fill="none"/>
<path d="M375.6 128.8h0M375.6 103.7h0M373.4 118.0h0M373.2 128.7h0M374.3 112.8h0M375.6 101.8h0M376.8 127.5h0M374.4 119.9h0M373.9 102.7h0M376.5 128.7h0M373.4 126.0h0M376.4 120.5h0M374.7 128.0h0M374.0 129.0h0M377.3 128.6h0M373.0 127.5h0M375.8 128.6h0M377.2 124.7h0M376.1 118.9h0M374.9 126.4h0M376.8 125.0h0M374.7 96.8h0M376.4 86.5h0M377.4 125.8h0M376.6 129.2h0M374.6 114.4h0M377.9 128.0h0M374.9 107.4h0M374.4 107.3h0M377.4 128.7h0" stroke="#ff2c0c" stroke-opacity="0.5" stroke-width="2.2" stroke-linecap="round" fill="none"/>
<path d="M376.3 119.0h0M374.9 99.6h0M376.6 106.5h0M375.9 89.9h0M373.1 123.2h0M376.2 94.0h0M373.2 120.4h0M373.9 116.8h0M372.8 129.0h0M374.4 129.1h0M374.9 118.1h0M377.7 127.2h0M376.2 128.1h0M374.2 120.5h0M375.4 128.8h0M376.6 121.6h0M374.2 124.1h0M376.1 128.6h0M374.9 112.4h0M377.9 128.6h0M375.7 128.8h0M373.0 127.0h0M375.5 128.8h0M376.8 126.3h0M376.4 128.4h0M376.7 116.4h0M376.9 118.3h0M374.3 81.4h0M376.6 122.2h0M376.8 124.4h0" stroke="#ff2c0c" stroke-opacity="0.5" stroke-width="2.2" stroke-linecap="round" fill="none"/>
<path d="M373.1 127.7h0M373.9 112.0h0M374.6 117.3h0M375.4 125.0h0M374.4 126.1h0M373.7 128.7h0M374.8 116.0h0M374.4 91.9h0M377.6 129.2h0M374.2 124.3h0M376.7 124.5h0M373.7 84.4h0M376.4 119.8h0M375.0 113.5h0M376.1 122.8h0M377.9 125.7h0M377.6 127.1h0M376.3 103.6h0M374.5 109.6h0M377.8 128.8h0M375.3 124.6h0M374.9 119.3h0M377.0 127.4h0M377.1 127.0h0M374.3 115.8h0M376.7 126.6h0M374.8 125.8h0M374.8 121.7h0M376.3 123.5h0M373.3 129.0h0" stroke="#ff2c0c" stroke-opacity="0.5" stroke-width="2.2" stroke-linecap="round" fill="none"/>
<path d="M375.1 124.6h0M376.9 128.8h0M374.4 101.8h0M373.9 128.6h0M375.1 129.0h0M373.2 125.5h0M374.1 109.9h0M374.3 87.9h0M378.0 128.8h0M373.5 128.5h0M374.5 100.6h0M374.6 122.6h0M373.9 125.0h0M375.6 128.9h0M375.9 128.8h0M373.9 121.0h0M374.5 128.9h0M374.9 108.6h0M374.6 128.8h0M375.6 100.7h0M375.5 128.6h0M372.6 126.4h0M376.3 108.4h0M373.5 99.0h0M374.3 127.9h0M374.4 127.8h0M376.6 117.5h0M375.6 121.3h0M375.3 122.3h0" stroke="#ff2c0c" stroke-opacity="0.5" stroke-width="2.2" stroke-linecap="round" fill="none"/>
<path d="M376.6 128.6h0M376.3 99.8h0M375.9 80.0h0M377.3 125.5h0M376.0 118.5h0M374.8 121.0h0M377.2 125.1h0M377.5 127.3h0M375.6 126.5h0M376.3 127.1h0M373.6 96.3h0M375.7 87.5h0M373.3 118.1h0M375.6 122.5h0M375.9 128.5h0M373.2 129.1h0M377.7 128.8h0M373.6 128.7h0M375.1 97.7h0M375.9 120.1h0M375.8 111.0h0M373.6 123.5h0M372.9 128.6h0M373.7 115.9h0M374.7 128.9h0M375.7 113.4h0M373.8 105.1h0M377.5 128.6h0M373.8 104.4h0" stroke="#ff2c0c" stroke-opacity="0.5" stroke-width="2.2" stroke-linecap="round" fill="none"/>
<path d="M375.08 115.63V96.53M375.08 128.63V129.00" stroke="#ff2c0c" stroke-width="0.6"/>
<rect x="371.78" y="115.63" width="6.6" height="12.99" fill="#fff" fill-opacity="0.38" stroke="#ff2c0c" stroke-width="0.6"/>
<path d="M371.78 124.52h6.6" stroke="#ff2c0c" stroke-width="1.6"/>
<path d="M385.6 128.9h0" stroke="#2c52b0" stroke-opacity="0.5" stroke-width="2.2" stroke-linecap="round" fill="none"/>
<path d="M383.0 126.8h0" stroke="#2c52b0" stroke-opacity="0.5" stroke-width="2.2" stroke-linecap="round" fill="none"/>
<path d="M383.8 129.3h0" stroke="#2c52b0" stroke-opacity="0.5" stroke-width="2.2" stroke-linecap="round" fill="none"/>
<path d="M383.4 128.7h0" stroke="#2c52b0" stroke-opacity="0.5" stroke-width="2.2" stroke-linecap="round" fill="none"/>
<path d="M383.35 128.27V128.84M383.35 128.89V128.99" stroke="#2c52b0" stroke-width="0.6"/>
<rect x="380.05" y="128.27" width="6.6" height="0.62" fill="#fff" fill-opacity="0.38" stroke="#2c52b0" stroke-width="0.6"/>
<path d="M380.05 128.85h6.6" stroke="#2c52b0" stroke-width="1.6"/>
<path d="M389.1 128.8h0M389.2 128.9h0M390.0 128.6h0M391.5 128.7h0M392.4 129.0h0M392.5 123.2h0M391.3 128.6h0M392.7 128.9h0M392.8 128.7h0M393.6 128.6h0M389.8 128.7h0M392.4 117.4h0M392.4 128.8h0M391.5 128.5h0M392.7 128.8h0M391.8 128.9h0M392.8 128.9h0M390.0 128.8h0M393.0 128.5h0M389.0 128.9h0M391.6 128.6h0M389.1 125.7h0M392.0 128.5h0M392.3 128.5h0M392.4 126.5h0M390.5 129.0h0M393.3 128.6h0M394.0 128.8h0M393.0 126.7h0M391.1 128.6h0" stroke="#ff2c0c" stroke-opacity="0.5" stroke-width="2.2" stroke-linecap="round" fill="none"/>
<path d="M389.3 128.7h0M393.2 128.8h0M391.4 128.7h0M393.9 128.3h0M390.9 128.2h0M394.4 128.8h0M389.2 128.8h0M392.7 128.9h0M393.8 128.6h0M392.4 122.0h0M393.1 128.6h0M391.1 97.4h0M390.1 129.0h0M390.6 128.8h0M393.0 128.8h0M390.3 128.8h0M389.3 128.2h0M389.8 127.6h0M393.9 128.7h0M390.2 128.7h0M390.7 128.7h0M391.6 128.6h0M393.3 128.5h0M394.4 129.1h0M391.0 128.9h0M394.2 129.2h0M390.6 114.7h0M393.0 128.6h0M393.7 128.3h0M390.2 128.7h0" stroke="#ff2c0c" stroke-opacity="0.5" stroke-width="2.2" stroke-linecap="round" fill="none"/>
<path d="M389.3 128.7h0M392.0 128.8h0M392.2 128.5h0M390.4 128.7h0M390.5 128.7h0M390.0 128.5h0M389.1 129.1h0M390.9 128.9h0M389.8 128.9h0M392.0 122.2h0M394.4 128.5h0M389.9 128.5h0M393.9 128.5h0M391.6 129.0h0M390.4 94.1h0M391.6 128.9h0M394.1 129.0h0M393.5 124.3h0M393.9 129.2h0M393.0 128.3h0M390.9 128.8h0M393.7 128.4h0M390.1 128.3h0M393.0 128.9h0M391.4 124.9h0M390.7 129.0h0M391.9 126.4h0M391.3 120.2h0M393.1 129.0h0M389.1 129.0h0" stroke="#ff2c0c" stroke-opacity="0.5" stroke-width="2.2" stroke-linecap="round" fill="none"/>
<path d="M391.7 128.7h0M391.2 129.1h0M389.2 128.7h0M394.0 128.4h0M391.3 128.3h0M392.8 128.6h0M391.9 128.9h0M392.0 128.6h0M391.5 128.8h0M392.9 128.3h0M391.6 128.5h0M391.5 128.7h0M393.3 128.5h0M392.5 128.7h0M390.7 128.9h0M392.1 128.4h0M389.0 128.7h0M392.6 129.1h0M392.0 123.8h0M392.6 128.5h0M393.7 128.7h0M392.2 129.1h0M392.6 129.0h0M394.2 128.7h0M392.0 129.1h0M390.2 128.2h0M391.7 129.1h0M392.4 128.5h0M393.3 128.7h0M390.2 128.7h0" stroke="#ff2c0c" stroke-opacity="0.5" stroke-width="2.2" stroke-linecap="round" fill="none"/>
<path d="M394.3 128.8h0M394.4 128.9h0M391.2 128.9h0M389.2 128.2h0M391.7 129.1h0M389.4 128.9h0M391.9 128.6h0M394.4 128.8h0M392.2 128.8h0M389.1 129.2h0M390.4 128.8h0M389.1 128.5h0M393.1 128.4h0M389.8 128.5h0M393.8 128.9h0M390.5 129.1h0M388.8 128.5h0M393.2 128.5h0M392.4 128.8h0M392.2 128.6h0M394.5 128.6h0M392.5 128.8h0M388.8 129.1h0M388.8 129.0h0M390.4 128.9h0M392.8 128.6h0M390.7 128.5h0M391.0 128.7h0M391.3 128.6h0M392.0 128.8h0" stroke="#ff2c0c" stroke-opacity="0.5" stroke-width="2.2" stroke-linecap="round" fill="none"/>
<path d="M390.9 128.6h0M389.0 129.0h0M389.7 128.6h0M390.0 128.9h0M391.8 128.8h0M392.3 129.2h0M390.6 128.2h0M392.7 128.7h0M392.0 128.6h0M394.4 129.0h0M390.6 128.8h0M394.3 128.5h0M390.7 128.6h0M392.1 129.1h0M393.0 128.9h0M390.7 129.0h0M389.3 128.2h0M393.0 128.4h0M389.0 128.7h0M390.0 128.8h0M391.9 129.3h0M389.1 128.9h0M393.0 128.8h0M394.3 128.8h0M389.8 128.5h0M391.3 129.0h0M392.8 128.8h0M391.6 128.8h0M390.1 125.2h0" stroke="#ff2c0c" stroke-opacity="0.5" stroke-width="2.2" stroke-linecap="round" fill="none"/>
<path d="M391.62 128.52V128.38M391.62 128.84V129.00" stroke="#ff2c0c" stroke-width="0.6"/>
<rect x="388.32" y="128.52" width="6.6" height="0.32" fill="#fff" fill-opacity="0.38" stroke="#ff2c0c" stroke-width="0.6"/>
<path d="M388.32 128.68h6.6" stroke="#ff2c0c" stroke-width="1.6"/>
<path d="M400.1 128.9h0" stroke="#2c52b0" stroke-opacity="0.5" stroke-width="2.2" stroke-linecap="round" fill="none"/>
<path d="M400.7 129.1h0" stroke="#2c52b0" stroke-opacity="0.5" stroke-width="2.2" stroke-linecap="round" fill="none"/>
<path d="M402.4 129.0h0" stroke="#2c52b0" stroke-opacity="0.5" stroke-width="2.2" stroke-linecap="round" fill="none"/>
<path d="M399.90 128.85V128.81M399.90 128.92V128.94" stroke="#2c52b0" stroke-width="0.6"/>
<rect x="396.60" y="128.85" width="6.6" height="0.06" fill="#fff" fill-opacity="0.38" stroke="#2c52b0" stroke-width="0.6"/>
<path d="M396.60 128.90h6.6" stroke="#2c52b0" stroke-width="1.6"/>
<path d="M408.7 27.9h0M405.3 35.1h0M407.0 22.8h0M407.3 37.1h0M407.8 42.0h0M410.9 35.0h0M407.1 37.5h0M407.3 28.7h0M409.4 36.5h0M408.0 18.8h0M408.1 35.9h0M406.3 35.1h0M409.2 26.4h0M407.8 54.2h0M408.8 17.6h0M408.0 35.6h0M405.5 27.5h0M409.5 26.0h0M411.0 35.7h0M407.1 16.4h0M406.2 30.4h0M405.7 28.2h0M410.0 41.8h0M407.7 19.5h0M409.3 26.6h0M410.2 40.7h0M409.1 32.5h0M409.6 38.0h0M406.8 24.0h0M406.9 52.9h0M408.2 36.3h0M407.4 30.2h0M407.4 33.6h0M408.7 36.4h0M408.2 34.8h0M406.4 35.6h0M409.2 50.0h0M406.5 24.1h0M407.7 19.6h0M408.1 49.2h0M408.1 41.8h0M409.6 16.4h0M408.6 18.7h0M409.5 19.9h0M408.2 29.0h0M407.5 28.2h0M408.9 53.2h0M407.7 24.6h0M409.8 39.7h0M407.0 24.9h0M410.3 35.4h0M408.0 32.6h0M406.9 20.3h0M407.2 35.1h0M408.5 28.2h0M410.6 28.3h0M408.2 37.0h0M407.4 29.4h0M407.8 18.1h0M410.1 36.4h0M409.8 42.6h0M409.5 21.6h0M407.2 34.4h0M406.1 31.7h0M409.4 45.8h0M409.2 31.1h0M407.0 26.3h0M410.1 30.3h0M408.1 32.0h0M408.5 35.7h0M410.2 22.9h0M410.1 38.0h0M410.5 37.8h0M406.7 21.8h0M406.0 31.6h0M410.9 26.3h0M408.8 45.6h0M406.1 31.4h0M408.5 63.5h0M407.1 31.3h0M405.9 27.7h0M407.9 30.7h0M405.7 31.4h0" stroke="#ff2c0c" stroke-opacity="0.5" stroke-width="2.2" stroke-linecap="round" fill="none"/>
<path d="M406.4 41.6h0M409.0 35.8h0M409.0 37.2h0M407.5 23.4h0M405.8 32.8h0M406.0 39.9h0M407.0 45.3h0M408.3 36.8h0M410.4 36.5h0M407.1 24.2h0M407.1 38.7h0M410.4 27.0h0M409.5 32.2h0M406.2 39.5h0M407.4 28.7h0M407.0 31.7h0M408.6 33.7h0M406.5 30.5h0M407.5 52.7h0M407.6 51.0h0M409.7 30.2h0M408.0 22.8h0M405.5 34.2h0M406.6 22.5h0M406.4 28.5h0M407.7 27.6h0M407.9 30.7h0M406.5 35.3h0M409.6 23.8h0M409.3 37.0h0M406.8 25.6h0M408.3 27.8h0M405.7 34.1h0M406.8 22.3h0M409.1 23.3h0M407.1 36.7h0M406.5 34.2h0M408.4 41.4h0M408.6 33.6h0M410.2 40.0h0M407.5 53.9h0M408.9 25.7h0M409.8 29.6h0M406.9 38.2h0M406.3 25.3h0M410.2 31.4h0M406.6 33.8h0M409.0 29.7h0M406.4 29.9h0M407.6 18.3h0M408.5 50.5h0M406.1 30.7h0M409.1 27.1h0M408.1 39.0h0M408.0 33.2h0M406.6 21.4h0M407.6 34.5h0M407.9 45.1h0M408.0 23.3h0M406.5 28.3h0M407.3 53.9h0M409.5 24.0h0M406.8 24.4h0M407.8 44.5h0M410.2 32.8h0M405.3 33.2h0M409.6 40.3h0M409.7 42.8h0M406.2 22.1h0M409.2 24.2h0M406.8 20.4h0M408.2 57.5h0M408.3 48.1h0M406.7 32.0h0M405.9 32.1h0M408.6 21.2h0M409.8 20.5h0M407.9 34.6h0M409.0 30.3h0M407.3 27.7h0M407.4 58.2h0M407.9 22.9h0M405.8 28.0h0" stroke="#ff2c0c" stroke-opacity="0.5" stroke-width="2.2" stroke-linecap="round" fill="none"/>
<path d="M408.7 40.4h0M406.8 41.1h0M409.1 29.1h0M405.5 35.0h0M409.4 29.9h0M406.3 33.0h0M409.1 43.0h0M406.3 42.2h0M408.2 34.7h0M407.2 28.0h0M408.2 22.8h0M410.9 33.6h0M409.3 22.7h0M410.5 35.4h0M408.8 34.7h0M409.5 33.7h0M408.2 33.9h0M410.7 33.1h0M409.6 28.8h0M410.2 35.6h0M408.4 28.4h0M406.5 23.3h0M410.1 30.9h0M408.8 34.1h0M408.1 36.2h0M406.2 34.4h0M407.4 29.6h0M409.7 52.0h0M409.1 34.2h0M409.0 18.0h0M409.5 36.5h0M406.9 19.9h0M407.2 27.1h0M408.2 46.5h0M407.2 30.1h0M409.2 33.2h0M407.6 34.2h0M408.5 34.7h0M405.5 35.0h0M407.3 28.5h0M406.5 31.2h0M407.9 38.5h0M407.6 21.4h0M409.9 20.3h0M408.5 24.8h0M405.6 33.7h0M407.7 32.7h0M410.5 35.0h0M407.0 41.3h0M406.8 46.8h0M407.5 31.7h0M406.9 30.4h0M407.4 49.0h0M405.3 31.3h0M410.0 32.4h0M409.0 31.8h0M410.1 34.0h0M409.7 34.0h0M408.8 22.4h0M410.6 32.9h0M409.5 32.7h0M408.4 29.1h0M405.9 35.8h0M408.1 29.0h0M407.3 39.5h0M409.8 28.5h0M406.6 40.7h0M407.4 20.6h0M408.4 32.6h0M409.7 35.9h0M408.7 39.8h0M405.7 31.0h0M408.8 17.4h0M409.7 41.9h0M406.5 25.5h0M409.1 61.8h0M407.5 33.3h0M406.9 30.8h0M408.7 22.2h0M408.3 30.1h0M411.0 31.9h0M408.0 32.9h0M409.6 16.9h0" stroke="#ff2c0c" stroke-opacity="0.5" stroke-width="2.2" stroke-linecap="round" fill="none"/>
<path d="M407.4 21.9h0M409.2 41.5h0M407.5 50.3h0M406.7 21.0h0M409.3 28.4h0M406.7 44.8h0M409.6 26.7h0M406.2 29.8h0M408.3 41.5h0M410.2 30.5h0M408.0 42.7h0M407.5 24.7h0M408.6 30.4h0M406.9 29.5h0M410.0 30.0h0M407.6 25.5h0M406.9 28.7h0M409.8 20.4h0M406.4 37.2h0M406.2 37.1h0M408.8 38.6h0M407.1 25.6h0M408.5 27.2h0M409.3 33.8h0M408.3 31.1h0M405.6 34.3h0M409.0 27.6h0M406.4 43.0h0M410.3 32.1h0M408.2 51.8h0M405.9 26.0h0M406.5 38.0h0M408.5 31.7h0M406.3 33.5h0M408.5 21.2h0M409.2 41.0h0M410.1 21.5h0M409.2 29.7h0M409.2 40.4h0M406.3 30.0h0M405.3 29.6h0M410.6 30.5h0M410.5 26.0h0M409.4 50.2h0M405.9 35.5h0M408.2 23.5h0M408.5 32.7h0M411.0 34.6h0M409.4 51.0h0M408.9 24.8h0M408.0 25.1h0M406.8 31.0h0M410.3 30.0h0M408.1 39.8h0M406.0 25.3h0M409.8 21.7h0M407.2 43.8h0M410.1 29.2h0M407.2 27.9h0M408.8 33.9h0M405.4 29.5h0M410.1 36.3h0M407.3 25.5h0M407.8 54.9h0M409.4 28.0h0M409.0 21.2h0M409.5 26.2h0M407.2 33.0h0M405.8 36.3h0M408.4 29.0h0M407.1 28.4h0M405.7 33.2h0M409.1 16.8h0M409.2 56.8h0M406.4 31.4h0M408.5 49.5h0M408.9 18.9h0M405.5 31.2h0M406.2 26.9h0M408.6 16.4h0M406.5 31.7h0M406.7 28.2h0M409.5 60.5h0" stroke="#ff2c0c" stroke-opacity="0.5" stroke-width="2.2" stroke-linecap="round" fill="none"/>
<path d="M406.4 34.3h0M409.4 43.6h0M406.9 28.5h0M408.3 24.2h0M408.2 37.6h0M409.9 33.6h0M408.2 22.7h0M410.0 33.1h0M407.6 31.9h0M407.6 22.0h0M409.4 20.6h0M407.0 41.8h0M408.4 31.6h0M408.3 17.2h0M409.3 18.2h0M407.4 59.3h0M407.0 40.1h0M411.0 34.7h0M406.5 33.4h0M406.1 21.8h0M409.4 22.5h0M407.0 26.8h0M409.3 32.4h0M409.1 40.4h0M410.4 32.7h0M407.9 51.5h0M408.6 47.1h0M408.0 30.9h0M410.1 34.6h0M410.0 35.8h0M408.2 22.1h0M408.0 33.2h0M407.6 48.1h0M409.9 38.1h0M406.6 35.5h0M410.3 30.6h0M408.9 31.8h0M406.7 49.5h0M409.3 33.7h0M408.8 34.9h0M408.5 27.9h0M407.7 39.3h0M409.5 30.3h0M409.7 66.1h0M410.8 31.0h0M407.4 42.8h0M406.2 36.5h0M408.9 20.9h0M407.8 35.9h0M407.2 15.9h0M407.8 25.8h0M408.8 33.3h0M406.7 30.3h0M405.9 39.3h0M408.3 32.6h0M410.2 32.2h0M409.2 27.1h0M408.8 52.3h0M408.2 28.1h0M409.3 35.0h0M406.0 38.6h0M406.7 64.3h0M408.8 33.7h0M409.3 20.8h0M407.8 29.7h0M407.6 19.1h0M406.8 48.3h0M407.7 39.3h0M411.0 32.4h0M409.2 35.6h0M410.4 31.8h0M406.5 24.6h0M409.7 47.3h0M408.5 29.2h0M409.0 42.3h0M409.1 21.9h0M407.0 38.7h0M408.6 28.6h0M409.2 23.4h0M406.6 35.8h0M406.1 29.3h0M406.2 34.6h0M409.6 28.0h0" stroke="#ff2c0c" stroke-opacity="0.5" stroke-width="2.2" stroke-linecap="round" fill="none"/>
<path d="M410.3 34.9h0M408.3 22.0h0M410.2 33.3h0M408.0 26.6h0M406.0 35.2h0M408.9 29.4h0M407.2 15.5h0M406.1 29.4h0M410.9 28.4h0M409.5 28.2h0M408.8 35.7h0M409.2 44.0h0M408.7 21.4h0M407.1 37.3h0M409.6 34.2h0M408.9 25.4h0M408.6 42.9h0M407.0 31.8h0M408.3 31.0h0M408.5 34.8h0M408.3 30.9h0M408.7 33.5h0M410.6 37.2h0M409.6 16.5h0M405.7 27.9h0M406.0 28.0h0M410.0 27.9h0M408.9 39.6h0M409.2 44.0h0M410.0 36.2h0M410.4 31.2h0M408.4 35.2h0M409.8 28.1h0M409.9 34.5h0M410.2 25.3h0M405.9 36.6h0M406.4 23.3h0M407.3 30.6h0M410.1 23.0h0M410.2 36.3h0M411.0 27.4h0M409.6 24.1h0M410.3 23.5h0M406.8 37.9h0M405.7 28.4h0M409.9 20.0h0M406.6 32.0h0M408.7 47.7h0M409.9 33.0h0M408.9 30.8h0M409.4 29.1h0M411.0 29.5h0M408.5 41.6h0M411.0 30.0h0M409.4 42.6h0M408.9 36.3h0M406.5 30.8h0M407.3 41.0h0M410.5 32.2h0M410.7 30.9h0M406.4 38.6h0M406.6 42.3h0M408.3 21.1h0M405.3 28.7h0M408.9 24.3h0M409.5 42.5h0M406.6 32.2h0M408.9 25.8h0M406.8 30.0h0M406.9 53.4h0M409.9 31.1h0M408.6 35.7h0M405.6 34.2h0M407.0 27.2h0M407.5 40.5h0M410.6 34.2h0M409.2 35.9h0M406.8 24.5h0M406.9 40.2h0M406.2 29.9h0M406.0 26.6h0M407.3 38.7h0" stroke="#ff2c0c" stroke-opacity="0.5" stroke-width="2.2" stroke-linecap="round" fill="none"/>
<path d="M408.17 27.55V15.72M408.17 36.49V49.70" stroke="#ff2c0c" stroke-width="0.6"/>
<rect x="404.87" y="27.55" width="6.6" height="8.94" fill="#fff" fill-opacity="0.38" stroke="#ff2c0c" stroke-width="0.6"/>
<path d="M404.87 32.03h6.6" stroke="#ff2c0c" stroke-width="1.6"/>
<path d="M417.8 50.9h0M415.0 28.0h0M413.6 27.2h0M419.0 27.8h0M417.1 48.3h0M416.2 49.4h0M418.8 27.8h0M416.8 25.4h0M414.6 42.6h0" stroke="#2c52b0" stroke-opacity="0.5" stroke-width="2.2" stroke-linecap="round" fill="none"/>
<path d="M417.9 123.5h0M417.8 30.3h0M415.2 38.4h0M416.1 39.9h0M415.9 47.2h0M418.8 46.8h0M418.4 44.7h0M413.6 41.7h0M415.3 33.1h0" stroke="#2c52b0" stroke-opacity="0.5" stroke-width="2.2" stroke-linecap="round" fill="none"/>
<path d="M416.3 42.2h0M416.7 126.0h0M414.1 26.4h0M416.6 27.3h0M418.9 44.0h0M418.2 47.7h0M417.3 44.7h0M419.0 33.7h0M418.2 29.5h0" stroke="#2c52b0" stroke-opacity="0.5" stroke-width="2.2" stroke-linecap="round" fill="none"/>
<path d="M416.8 29.4h0M416.3 25.6h0M416.3 49.0h0M417.5 25.9h0M414.0 46.0h0M415.8 36.7h0M414.8 50.2h0M414.8 34.2h0M417.1 43.2h0" stroke="#2c52b0" stroke-opacity="0.5" stroke-width="2.2" stroke-linecap="round" fill="none"/>
<path d="M415.5 35.5h0M415.8 26.7h0M417.8 26.2h0M419.1 41.5h0M413.8 39.6h0M416.9 49.9h0M417.5 25.8h0M418.4 36.5h0" stroke="#2c52b0" stroke-opacity="0.5" stroke-width="2.2" stroke-linecap="round" fill="none"/>
<path d="M414.9 51.5h0M417.6 32.2h0M414.5 28.4h0M414.4 45.4h0M416.3 37.9h0M418.9 40.6h0M417.6 117.3h0M416.5 31.1h0" stroke="#2c52b0" stroke-opacity="0.5" stroke-width="2.2" stroke-linecap="round" fill="none"/>
<path d="M416.44 28.97V25.15M416.44 46.04V51.31" stroke="#2c52b0" stroke-width="0.6"/>
<rect x="413.14" y="28.97" width="6.6" height="17.07" fill="#fff" fill-opacity="0.38" stroke="#2c52b0" stroke-width="0.6"/>
<path d="M413.14 39.03h6.6" stroke="#2c52b0" stroke-width="1.6"/>
<path d="M424.2 79.7h0M423.9 107.2h0M425.8 67.5h0M424.7 94.6h0M423.4 67.4h0M423.6 73.6h0M427.2 63.5h0M425.4 57.6h0M422.3 72.4h0M425.7 117.9h0M426.9 69.9h0M423.1 56.9h0M422.9 69.8h0M423.2 42.3h0M425.3 56.3h0M426.1 99.5h0M426.0 71.3h0M425.1 115.3h0M426.8 97.9h0M427.5 64.7h0M426.7 86.1h0M424.3 72.1h0M426.2 53.0h0M422.5 82.3h0M426.1 92.8h0M426.1 59.9h0M422.4 64.7h0M423.8 58.6h0" stroke="#ff2c0c" stroke-opacity="0.5" stroke-width="2.2" stroke-linecap="round" fill="none"/>
<path d="M424.7 126.7h0M422.6 119.1h0M426.2 50.2h0M427.4 66.3h0M426.1 65.5h0M423.0 92.1h0M423.4 65.3h0M425.1 93.6h0M424.2 83.9h0M423.7 118.7h0M423.3 86.8h0M427.1 91.1h0M422.9 104.5h0M427.3 57.5h0M423.7 77.5h0M422.0 67.8h0M421.9 76.5h0M424.2 127.1h0M425.5 116.2h0M426.2 77.3h0M424.0 68.1h0M426.5 61.2h0M422.8 84.7h0M426.1 69.1h0M424.9 105.5h0M425.4 52.2h0M422.6 122.7h0M426.3 74.2h0" stroke="#ff2c0c" stroke-opacity="0.5" stroke-width="2.2" stroke-linecap="round" fill="none"/>
<path d="M424.7 107.5h0M423.8 53.1h0M426.3 79.1h0M426.6 124.2h0M424.4 70.4h0M423.0 43.9h0M425.7 73.2h0M424.5 75.2h0M425.5 54.0h0M424.2 75.9h0M423.5 42.7h0M422.7 85.5h0M426.0 62.8h0M424.4 127.9h0M423.2 112.3h0M426.6 91.7h0M423.4 69.0h0M422.7 83.6h0M426.7 63.1h0M426.6 49.0h0M424.7 50.8h0M426.1 64.6h0M425.1 52.4h0M422.5 94.0h0M424.2 110.9h0M426.9 80.9h0M424.7 101.8h0M423.4 120.0h0" stroke="#ff2c0c" stroke-opacity="0.5" stroke-width="2.2" stroke-linecap="round" fill="none"/>
<path d="M426.0 100.6h0M426.6 96.3h0M427.1 55.5h0M426.4 49.9h0M423.3 87.2h0M427.2 83.0h0M422.5 78.2h0M423.1 53.7h0M422.9 104.1h0M423.4 73.6h0M423.0 44.4h0M425.9 47.5h0M425.4 102.0h0M425.0 114.6h0M426.5 70.2h0M425.9 60.2h0M425.2 61.2h0M424.6 108.8h0M424.1 92.2h0M424.0 74.6h0M424.8 49.6h0M426.5 58.3h0M426.4 101.3h0M424.0 55.2h0M422.6 88.9h0M423.1 51.0h0M422.7 114.1h0M425.9 78.3h0" stroke="#ff2c0c" stroke-opacity="0.5" stroke-width="2.2" stroke-linecap="round" fill="none"/>
<path d="M427.5 61.8h0M423.6 89.0h0M423.9 84.4h0M423.0 113.1h0M423.9 87.7h0M424.7 103.2h0M424.0 128.4h0M422.2 69.1h0M425.4 46.4h0M425.6 110.2h0M426.1 121.8h0M424.9 64.2h0M423.6 56.1h0M426.8 90.1h0M427.6 74.7h0M423.1 71.6h0M422.4 98.1h0M422.5 68.3h0M427.5 55.7h0M425.8 116.9h0M426.6 126.0h0M422.9 80.9h0M423.3 81.9h0M423.3 125.4h0M426.0 105.9h0M424.8 59.1h0M426.4 108.7h0" stroke="#ff2c0c" stroke-opacity="0.5" stroke-width="2.2" stroke-linecap="round" fill="none"/>
<path d="M426.8 111.6h0M424.9 60.4h0M423.8 45.4h0M423.0 120.6h0M424.3 72.4h0M426.8 73.0h0M423.3 63.5h0M425.8 95.3h0M424.7 95.5h0M424.3 63.9h0M425.8 97.2h0M426.3 90.0h0M426.7 62.3h0M426.6 123.4h0M426.8 65.7h0M424.6 124.8h0M423.9 51.8h0M426.8 79.9h0M425.4 51.1h0M425.2 59.2h0M427.0 66.8h0M423.9 66.7h0M423.6 54.6h0M426.5 70.5h0M423.9 71.8h0M427.0 96.9h0M423.8 47.8h0" stroke="#ff2c0c" stroke-opacity="0.5" stroke-width="2.2" stroke-linecap="round" fill="none"/>
<path d="M424.72 62.24V42.38M424.72 97.87V128.59" stroke="#ff2c0c" stroke-width="0.6"/>
<rect x="421.42" y="62.24" width="6.6" height="35.63" fill="#fff" fill-opacity="0.38" stroke="#ff2c0c" stroke-width="0.6"/>
<path d="M421.42 74.90h6.6" stroke="#ff2c0c" stroke-width="1.6"/>
<path d="M431.8 51.4h0M431.4 54.8h0" stroke="#2c52b0" stroke-opacity="0.5" stroke-width="2.2" stroke-linecap="round" fill="none"/>
<path d="M432.9 43.2h0M430.3 49.7h0" stroke="#2c52b0" stroke-opacity="0.5" stroke-width="2.2" stroke-linecap="round" fill="none"/>
<path d="M431.3 57.6h0M432.8 51.6h0" stroke="#2c52b0" stroke-opacity="0.5" stroke-width="2.2" stroke-linecap="round" fill="none"/>
<path d="M433.4 57.0h0M433.9 45.4h0" stroke="#2c52b0" stroke-opacity="0.5" stroke-width="2.2" stroke-linecap="round" fill="none"/>
<path d="M431.5 59.9h0" stroke="#2c52b0" stroke-opacity="0.5" stroke-width="2.2" stroke-linecap="round" fill="none"/>
<path d="M432.0 48.5h0" stroke="#2c52b0" stroke-opacity="0.5" stroke-width="2.2" stroke-linecap="round" fill="none"/>
<path d="M432.99 48.62V42.95M432.99 56.25V59.82" stroke="#2c52b0" stroke-width="0.6"/>
<rect x="429.69" y="48.62" width="6.6" height="7.63" fill="#fff" fill-opacity="0.38" stroke="#2c52b0" stroke-width="0.6"/>
<path d="M429.69 51.65h6.6" stroke="#2c52b0" stroke-width="1.6"/>
<path d="M438.6 128.3h0M441.3 115.9h0M442.3 127.7h0M442.2 104.1h0M440.8 127.6h0M442.2 129.2h0M440.9 95.4h0M442.5 113.9h0M441.9 117.8h0M440.1 127.4h0M439.8 126.9h0M444.1 128.7h0M444.2 128.1h0M439.2 128.8h0M442.6 118.9h0M442.4 127.9h0M441.1 114.3h0M441.1 128.9h0M440.0 128.8h0M442.5 126.4h0M440.6 125.7h0M443.0 120.7h0M439.8 127.2h0M440.9 127.5h0M440.1 129.1h0M438.9 128.6h0M441.8 128.5h0M441.5 117.7h0M440.1 121.8h0M441.4 126.6h0M441.9 108.4h0M441.1 87.9h0M441.5 121.8h0M439.4 128.3h0M442.3 111.2h0M441.4 127.8h0M441.4 127.9h0M441.5 128.2h0M442.8 92.3h0M442.5 128.8h0M443.1 129.0h0M439.9 128.9h0M442.8 105.7h0M442.8 128.5h0" stroke="#ff2c0c" stroke-opacity="0.5" stroke-width="2.2" stroke-linecap="round" fill="none"/>
<path d="M439.8 124.8h0M439.4 128.2h0M441.9 106.0h0M441.5 101.6h0M440.9 119.0h0M442.5 120.4h0M438.7 127.2h0M439.8 128.9h0M442.1 128.6h0M442.3 128.0h0M440.9 80.7h0M442.8 52.8h0M442.6 129.2h0M438.5 128.6h0M441.1 95.9h0M441.7 128.5h0M442.3 129.1h0M443.1 128.7h0M440.1 119.7h0M442.9 128.6h0M441.0 115.1h0M442.7 128.7h0M443.4 126.9h0M442.6 97.8h0M439.7 119.1h0M442.7 106.0h0M441.9 45.9h0M439.9 99.0h0M440.3 86.9h0M438.6 128.8h0M440.8 128.7h0M440.0 128.7h0M441.9 128.9h0M440.1 115.4h0M440.5 115.5h0M443.3 127.2h0M441.4 127.4h0M442.7 128.1h0M442.3 99.8h0M443.0 129.1h0M441.8 118.2h0M440.9 97.1h0M442.5 128.6h0" stroke="#ff2c0c" stroke-opacity="0.5" stroke-width="2.2" stroke-linecap="round" fill="none"/>
<path d="M442.3 121.7h0M442.4 128.7h0M443.9 128.8h0M440.6 118.8h0M440.8 114.7h0M442.9 127.3h0M441.6 127.5h0M441.3 79.4h0M441.9 113.5h0M441.8 121.2h0M439.5 128.9h0M441.7 121.2h0M440.1 116.1h0M441.7 129.1h0M439.8 120.0h0M440.3 129.0h0M440.6 128.1h0M441.9 129.0h0M443.9 128.3h0M442.6 89.6h0M441.4 118.6h0M440.5 93.1h0M440.2 75.3h0M439.5 119.3h0M441.7 70.3h0M441.2 127.2h0M440.8 83.0h0M442.2 128.5h0M440.4 128.2h0M442.8 116.4h0M442.4 127.9h0M442.1 123.5h0M440.9 127.9h0M442.1 128.7h0M441.0 107.6h0M440.7 95.3h0M441.8 129.1h0M442.4 104.6h0M441.2 103.0h0M444.1 127.9h0M442.3 109.0h0M442.7 129.0h0M442.4 103.6h0" stroke="#ff2c0c" stroke-opacity="0.5" stroke-width="2.2" stroke-linecap="round" fill="none"/>
<path d="M442.7 128.9h0M441.7 75.5h0M442.2 128.9h0M442.0 122.6h0M441.5 128.4h0M442.8 100.1h0M441.8 124.7h0M440.7 81.6h0M442.0 123.8h0M439.9 94.3h0M441.9 128.4h0M442.8 128.7h0M442.0 127.3h0M441.6 111.9h0M439.2 129.0h0M440.8 100.5h0M439.6 123.8h0M439.4 128.6h0M440.2 129.0h0M440.9 100.9h0M441.1 115.0h0M441.6 102.9h0M440.0 127.8h0M439.4 128.7h0M442.6 128.9h0M440.2 117.3h0M439.8 122.2h0M440.8 73.0h0M440.2 98.2h0M440.8 62.1h0M442.4 128.7h0M442.6 128.6h0M444.0 128.7h0M442.2 127.9h0M443.4 124.6h0M442.2 85.8h0M441.5 127.3h0M440.3 128.0h0M440.5 120.8h0M440.6 127.6h0M443.6 123.7h0M442.2 97.0h0M440.5 47.8h0" stroke="#ff2c0c" stroke-opacity="0.5" stroke-width="2.2" stroke-linecap="round" fill="none"/>
<path d="M439.4 128.1h0M442.8 128.5h0M439.8 116.2h0M440.6 85.1h0M440.7 127.6h0M441.0 125.1h0M440.0 124.5h0M439.5 126.3h0M441.1 129.1h0M442.5 123.1h0M442.6 122.5h0M441.5 118.5h0M440.0 57.3h0M438.9 128.8h0M438.6 128.7h0M438.4 129.0h0M443.1 128.6h0M441.3 127.0h0M441.3 128.6h0M438.6 128.6h0M443.4 125.6h0M439.3 128.4h0M439.9 128.0h0M441.5 127.4h0M439.1 127.8h0M439.9 106.7h0M443.2 128.7h0M439.2 128.9h0M439.6 128.7h0M439.7 55.8h0M441.4 128.6h0M442.8 73.3h0M442.3 93.9h0M440.9 129.2h0M441.0 77.3h0M440.7 110.1h0M439.9 114.8h0M442.8 117.4h0M439.9 108.0h0M442.4 84.3h0M439.0 127.6h0M442.4 121.2h0M441.3 78.4h0" stroke="#ff2c0c" stroke-opacity="0.5" stroke-width="2.2" stroke-linecap="round" fill="none"/>
<path d="M440.4 128.3h0M440.8 125.8h0M441.4 91.5h0M442.8 112.2h0M441.1 124.9h0M440.8 115.0h0M438.9 128.7h0M442.6 68.3h0M443.5 122.4h0M440.1 117.1h0M442.3 111.3h0M438.8 129.0h0M441.7 128.2h0M442.2 117.2h0M444.0 127.1h0M442.2 127.8h0M442.8 128.8h0M438.9 129.2h0M441.6 128.8h0M440.3 119.9h0M440.8 129.0h0M438.7 128.8h0M440.0 127.5h0M441.7 127.5h0M442.9 129.2h0M442.9 128.8h0M442.8 128.5h0M440.3 92.5h0M438.6 128.7h0M440.3 126.6h0M441.7 129.0h0M443.8 128.4h0M439.1 128.2h0M443.9 128.7h0M441.5 128.9h0M439.1 127.3h0M441.7 109.7h0M438.6 126.2h0M443.8 128.8h0M439.5 128.9h0M439.3 120.9h0M440.9 122.9h0M442.8 115.7h0" stroke="#ff2c0c" stroke-opacity="0.5" stroke-width="2.2" stroke-linecap="round" fill="none"/>
<path d="M441.26 114.30V93.26M441.26 128.76V129.00" stroke="#ff2c0c" stroke-width="0.6"/>
<rect x="437.96" y="114.30" width="6.6" height="14.46" fill="#fff" fill-opacity="0.38" stroke="#ff2c0c" stroke-width="0.6"/>
<path d="M437.96 127.17h6.6" stroke="#ff2c0c" stroke-width="1.6"/>
<path d="M451.2 106.9h0M448.1 128.4h0M451.0 127.1h0M449.3 92.9h0M449.1 70.1h0M450.6 120.7h0M449.5 128.7h0M449.8 77.1h0M450.6 67.3h0M450.3 113.3h0M449.8 128.6h0M451.1 128.6h0M449.7 86.9h0M450.3 128.3h0M450.3 128.5h0M449.1 128.7h0M451.1 115.7h0M447.8 120.7h0" stroke="#ff2c0c" stroke-opacity="0.5" stroke-width="2.2" stroke-linecap="round" fill="none"/>
<path d="M448.0 128.9h0M450.9 100.3h0M450.4 71.5h0M448.1 119.7h0M449.5 128.8h0M447.9 125.6h0M447.6 121.6h0M449.8 110.5h0M451.1 106.4h0M449.6 129.1h0M449.7 88.9h0M450.5 128.9h0M449.6 128.1h0M448.8 102.5h0M450.6 118.7h0M450.2 102.4h0M448.3 103.8h0" stroke="#ff2c0c" stroke-opacity="0.5" stroke-width="2.2" stroke-linecap="round" fill="none"/>
<path d="M451.1 124.9h0M448.7 109.8h0M449.1 128.2h0M448.7 122.8h0M451.1 128.4h0M449.1 74.4h0M450.9 129.0h0M448.2 80.2h0M452.0 117.1h0M448.5 129.0h0M450.0 113.9h0M450.7 126.7h0M449.1 89.9h0M447.7 124.4h0M448.4 116.5h0M447.8 123.5h0M450.1 107.9h0" stroke="#ff2c0c" stroke-opacity="0.5" stroke-width="2.2" stroke-linecap="round" fill="none"/>
<path d="M451.1 79.1h0M451.4 104.3h0M447.9 128.4h0M447.8 85.9h0M448.1 108.4h0M451.5 128.7h0M450.1 97.3h0M450.5 84.0h0M448.4 90.9h0M450.5 128.9h0M449.0 118.7h0M450.6 96.0h0M448.9 122.7h0M451.2 128.7h0M447.0 125.0h0M450.1 77.5h0M449.0 93.9h0" stroke="#ff2c0c" stroke-opacity="0.5" stroke-width="2.2" stroke-linecap="round" fill="none"/>
<path d="M449.2 111.7h0M448.6 100.3h0M447.5 117.0h0M448.5 81.7h0M446.8 122.1h0M450.2 128.7h0M451.0 128.7h0M447.3 118.9h0M449.9 126.5h0M449.0 73.9h0M451.5 99.0h0M451.1 123.8h0M451.3 82.4h0M451.0 68.9h0M448.4 120.2h0M450.3 87.3h0M449.4 112.9h0" stroke="#ff2c0c" stroke-opacity="0.5" stroke-width="2.2" stroke-linecap="round" fill="none"/>
<path d="M452.1 128.6h0M447.6 104.9h0M449.1 80.7h0M448.1 114.6h0M448.0 94.3h0M451.4 96.1h0M447.8 129.1h0M449.3 128.2h0M450.3 101.2h0M449.8 84.6h0M447.7 129.2h0M448.9 129.1h0M451.0 117.9h0M449.4 92.3h0M449.1 127.9h0M451.6 97.8h0M449.6 109.6h0" stroke="#ff2c0c" stroke-opacity="0.5" stroke-width="2.2" stroke-linecap="round" fill="none"/>
<path d="M449.53 96.16V67.45M449.53 128.32V128.99" stroke="#ff2c0c" stroke-width="0.6"/>
<rect x="446.23" y="96.16" width="6.6" height="32.15" fill="#fff" fill-opacity="0.38" stroke="#ff2c0c" stroke-width="0.6"/>
<path d="M446.23 116.61h6.6" stroke="#ff2c0c" stroke-width="1.6"/>
<path d="M457.0 77.1h0M458.4 60.2h0M457.1 91.0h0M458.5 66.1h0M458.2 65.9h0M455.8 73.1h0M460.0 105.9h0M460.5 115.4h0M455.4 122.8h0M460.2 123.7h0M459.9 121.5h0M459.0 95.3h0M459.3 126.0h0M456.3 57.4h0M459.2 82.9h0M459.5 90.5h0M456.6 94.1h0M455.8 119.7h0M456.3 126.0h0M458.6 113.9h0M460.5 124.5h0M458.6 87.3h0M457.4 88.2h0M457.1 71.7h0M459.1 128.0h0M456.9 129.0h0M457.4 112.4h0M459.5 128.9h0M460.6 125.1h0M456.5 108.4h0M458.5 77.5h0M455.3 120.3h0M455.6 92.7h0M459.2 75.7h0M455.4 115.6h0M458.9 91.8h0M458.7 128.0h0M456.8 83.6h0M460.5 127.5h0M456.7 84.3h0M456.3 115.6h0M455.4 123.6h0M456.2 78.9h0M456.0 105.3h0M456.5 114.1h0M457.9 124.1h0M455.6 122.6h0M457.2 87.7h0M459.9 127.7h0M457.3 72.4h0M459.7 124.8h0M455.3 117.9h0M457.7 113.8h0M455.5 89.9h0M456.6 93.2h0M459.7 77.4h0M460.4 128.9h0M455.1 118.0h0M456.9 114.8h0M460.5 122.6h0M458.5 71.3h0M456.1 118.5h0" stroke="#7a5cb8" stroke-opacity="0.5" stroke-width="2.2" stroke-linecap="round" fill="none"/>
<path d="M458.0 125.0h0M460.1 101.8h0M455.2 126.8h0M459.9 89.8h0M459.1 80.8h0M457.5 127.8h0M457.9 128.0h0M456.7 126.4h0M456.4 128.5h0M458.3 118.7h0M458.7 107.7h0M455.3 124.0h0M456.5 96.7h0M458.0 71.0h0M458.6 111.7h0M460.5 108.8h0M457.7 128.4h0M455.1 100.5h0M456.0 127.0h0M457.3 52.0h0M457.8 90.4h0M460.5 126.1h0M459.1 86.6h0M458.0 118.9h0M460.1 101.0h0M456.9 58.5h0M459.4 74.8h0M455.7 105.7h0M457.3 98.5h0M455.4 109.5h0M459.8 125.4h0M459.6 117.2h0M455.4 92.4h0M458.1 59.2h0M455.9 101.7h0M460.3 114.9h0M459.2 123.5h0M459.5 124.2h0M459.5 125.0h0M455.9 124.5h0M458.4 121.9h0M456.9 75.3h0M459.1 126.0h0M456.5 128.5h0M455.0 120.7h0M460.4 119.8h0M456.4 116.2h0M458.7 113.6h0M456.3 120.0h0M456.3 76.5h0M458.1 55.3h0M459.8 113.5h0M457.1 69.2h0M460.5 95.9h0M455.6 115.4h0M455.5 128.9h0M457.6 128.1h0M455.6 103.6h0M456.3 51.2h0M457.1 107.8h0M457.2 91.4h0M460.1 123.9h0" stroke="#7a5cb8" stroke-opacity="0.5" stroke-width="2.2" stroke-linecap="round" fill="none"/>
<path d="M458.0 108.8h0M455.2 129.1h0M459.6 125.4h0M456.1 119.8h0M455.5 127.2h0M459.2 81.5h0M455.0 122.1h0M457.6 59.5h0M456.2 67.4h0M456.8 103.0h0M457.2 82.3h0M458.6 108.6h0M456.5 89.0h0M456.5 119.0h0M455.7 97.7h0M457.7 128.5h0M456.2 93.3h0M460.4 114.3h0M460.0 89.5h0M456.7 56.5h0M459.4 108.0h0M458.8 68.7h0M460.3 94.8h0M458.5 104.5h0M456.5 119.6h0M457.2 117.2h0M455.5 109.1h0M458.3 96.6h0M455.1 124.3h0M460.6 112.2h0M455.0 110.1h0M456.4 109.5h0M458.9 95.9h0M458.4 78.2h0M457.4 69.7h0M455.8 95.4h0M456.4 128.4h0M459.6 98.2h0M457.1 69.8h0M455.4 110.7h0M460.6 112.3h0M455.3 125.7h0M457.3 126.8h0M458.9 97.4h0M457.2 68.5h0M459.2 121.3h0M455.5 93.4h0M456.5 52.8h0M455.9 118.7h0M455.9 94.1h0M456.9 94.7h0M458.3 100.0h0M457.9 74.6h0M459.5 70.9h0M458.5 78.6h0M456.9 70.1h0M457.6 105.8h0M457.8 67.0h0M458.4 81.6h0M455.9 126.3h0M458.5 93.9h0" stroke="#7a5cb8" stroke-opacity="0.5" stroke-width="2.2" stroke-linecap="round" fill="none"/>
<path d="M456.2 122.2h0M457.4 72.5h0M459.8 116.5h0M455.3 106.9h0M460.1 128.7h0M456.1 96.1h0M459.1 91.5h0M459.5 79.6h0M455.3 128.7h0M459.8 102.1h0M456.8 120.5h0M455.8 84.9h0M457.4 103.8h0M456.3 111.1h0M459.4 98.7h0M455.7 118.5h0M455.9 122.0h0M457.2 102.9h0M456.9 113.0h0M455.7 98.0h0M455.4 115.4h0M455.5 128.3h0M457.9 128.5h0M456.6 103.5h0M455.1 106.5h0M458.6 111.3h0M455.3 127.8h0M457.9 67.2h0M459.5 95.6h0M457.7 126.1h0M456.1 123.5h0M460.3 128.7h0M459.5 99.9h0M456.8 116.7h0M457.4 110.1h0M456.2 126.7h0M456.9 110.1h0M460.5 128.6h0M456.5 121.6h0M457.1 74.0h0M455.1 121.1h0M456.8 116.1h0M459.4 128.7h0M460.2 109.3h0M458.5 91.0h0M459.6 117.4h0M459.7 125.5h0M455.5 100.2h0M458.0 101.7h0M457.9 110.5h0M455.9 105.3h0M455.2 125.5h0M459.8 114.0h0M458.8 123.3h0M456.6 97.1h0M459.0 61.2h0M458.1 113.2h0M457.3 106.3h0M455.1 97.4h0M459.2 76.4h0M460.6 111.7h0" stroke="#7a5cb8" stroke-opacity="0.5" stroke-width="2.2" stroke-linecap="round" fill="none"/>
<path d="M458.6 128.5h0M460.1 105.7h0M456.6 79.7h0M460.6 124.1h0M458.2 114.2h0M459.2 125.5h0M458.0 99.3h0M456.4 93.6h0M456.1 102.8h0M455.8 88.5h0M456.1 92.3h0M459.3 128.1h0M459.2 79.3h0M456.1 109.1h0M459.5 84.7h0M456.7 124.9h0M458.9 92.8h0M457.0 85.1h0M457.6 127.5h0M457.6 64.3h0M455.6 104.1h0M457.1 109.7h0M456.5 123.9h0M456.6 62.0h0M458.7 126.9h0M459.3 63.9h0M457.3 128.1h0M454.9 127.2h0M460.0 105.0h0M458.5 127.9h0M458.2 124.8h0M459.1 107.5h0M459.9 83.2h0M455.5 116.9h0M457.9 66.7h0M457.3 97.8h0M459.8 104.1h0M455.9 86.1h0M456.8 74.1h0M456.4 95.3h0M456.8 85.4h0M460.1 126.6h0M460.0 106.3h0M457.0 126.7h0M460.1 127.3h0M456.0 90.9h0M460.2 101.5h0M457.1 128.2h0M456.6 86.9h0M459.4 99.2h0M455.9 124.9h0M460.1 111.8h0M460.3 122.6h0M455.2 127.8h0M455.8 126.4h0M457.6 128.2h0M457.7 62.5h0M459.2 80.5h0M459.4 84.1h0M457.4 129.0h0M459.5 128.8h0" stroke="#7a5cb8" stroke-opacity="0.5" stroke-width="2.2" stroke-linecap="round" fill="none"/>
<path d="M457.5 98.5h0M455.8 96.3h0M456.1 101.3h0M457.7 120.6h0M458.0 75.7h0M457.2 127.9h0M457.4 104.6h0M455.2 125.5h0M459.8 118.0h0M460.4 99.8h0M455.9 103.3h0M456.3 54.0h0M457.3 55.0h0M455.2 123.1h0M458.7 82.1h0M457.8 71.8h0M456.3 99.4h0M456.4 127.7h0M460.2 112.8h0M457.9 100.7h0M456.0 81.1h0M460.5 128.6h0M459.2 124.6h0M457.6 118.8h0M455.0 112.0h0M456.1 102.2h0M457.8 85.6h0M456.1 107.7h0M460.3 94.7h0M456.7 73.6h0M457.4 88.8h0M460.1 128.9h0M458.1 109.9h0M458.7 127.9h0M456.0 127.0h0M458.9 112.4h0M456.1 68.9h0M458.6 93.3h0M456.9 123.0h0M458.9 115.0h0M458.4 126.2h0M456.8 67.9h0M459.7 101.9h0M456.3 87.0h0M457.0 92.2h0M458.4 82.2h0M458.4 90.7h0M457.8 103.2h0M456.5 110.8h0M455.5 106.8h0M456.9 76.2h0M459.2 116.6h0M460.3 129.1h0M455.8 78.4h0M458.4 123.4h0M460.3 99.0h0M460.4 117.8h0M458.8 73.0h0M459.0 68.0h0M458.7 89.5h0M459.2 128.4h0" stroke="#7a5cb8" stroke-opacity="0.5" stroke-width="2.2" stroke-linecap="round" fill="none"/>
<path d="M457.81 89.93V51.38M457.81 123.22V129.00" stroke="#7a5cb8" stroke-width="0.6"/>
<rect x="454.51" y="89.93" width="6.6" height="33.29" fill="#fff" fill-opacity="0.2" stroke="#7a5cb8" stroke-width="0.6"/>
<path d="M454.51 107.52h6.6" stroke="#7a5cb8" stroke-width="1.6"/>
<path d="M465.6 87.7h0M466.3 91.8h0M466.2 99.1h0M465.8 84.0h0M466.1 127.9h0M463.5 129.0h0M465.1 112.9h0M467.5 69.2h0M466.8 124.5h0M463.5 128.5h0M468.0 93.2h0M465.9 80.7h0M464.4 128.9h0M466.7 128.4h0M467.0 79.6h0M467.2 128.5h0M468.2 92.3h0M466.6 129.0h0M464.1 129.1h0M466.2 93.5h0M465.9 128.6h0M464.3 76.8h0M467.5 72.0h0M467.1 70.4h0M467.1 65.3h0M465.4 107.5h0M467.7 95.9h0M466.7 124.1h0M465.5 106.9h0M465.4 100.4h0M463.6 90.1h0M467.5 114.0h0M467.8 117.9h0M465.3 73.5h0M467.6 93.5h0M467.9 114.9h0M466.7 96.2h0M466.5 104.9h0M467.6 72.6h0M465.5 119.6h0M466.6 114.6h0M466.2 81.7h0M465.2 77.9h0M463.6 128.5h0M467.3 78.1h0M463.8 97.4h0M465.4 66.1h0M466.3 82.9h0M465.8 77.5h0M467.2 81.2h0M464.2 103.4h0M467.0 109.7h0M467.3 129.1h0M464.2 128.8h0M467.5 99.5h0M464.5 79.0h0M467.5 95.4h0M465.1 102.2h0M465.5 111.9h0M463.7 92.6h0M468.6 128.7h0M465.0 128.0h0M464.0 128.5h0M464.9 111.8h0M464.9 129.1h0M464.6 94.1h0M468.5 129.0h0M467.6 98.5h0M464.8 128.7h0M467.5 110.1h0" stroke="#ff2c0c" stroke-opacity="0.5" stroke-width="2.2" stroke-linecap="round" fill="none"/>
<path d="M464.8 128.9h0M465.8 126.8h0M465.5 78.5h0M463.2 97.5h0M463.8 128.6h0M468.0 96.5h0M465.6 128.6h0M466.1 112.0h0M466.0 90.1h0M463.3 94.8h0M463.7 95.8h0M466.1 107.5h0M463.8 128.4h0M468.5 128.8h0M464.1 82.7h0M466.0 117.7h0M466.4 125.7h0M464.6 100.8h0M465.2 77.4h0M465.8 89.2h0M467.9 92.7h0M465.5 105.2h0M465.7 128.3h0M467.7 124.1h0M463.9 120.8h0M464.4 105.6h0M466.3 89.6h0M464.7 110.8h0M464.8 122.1h0M467.0 128.1h0M465.3 84.3h0M464.6 64.5h0M466.9 84.6h0M465.5 98.0h0M466.2 94.7h0M468.9 94.6h0M465.3 75.0h0M464.9 85.5h0M464.8 120.4h0M465.3 101.0h0M465.9 81.6h0M465.5 94.6h0M467.3 121.2h0M468.5 128.9h0M467.4 128.7h0M466.2 99.5h0M467.3 95.7h0M465.5 101.9h0M464.7 100.1h0M466.7 102.7h0M465.8 93.7h0M468.5 128.1h0M467.1 128.2h0M465.6 128.6h0M466.0 111.3h0M465.0 79.4h0M464.0 128.8h0M467.6 128.1h0M465.8 90.2h0M468.4 85.9h0M465.8 126.6h0M467.0 129.0h0M465.6 90.7h0M466.0 113.6h0M467.3 128.8h0M464.1 90.6h0M464.1 128.9h0M464.1 78.8h0M468.9 95.0h0" stroke="#ff2c0c" stroke-opacity="0.5" stroke-width="2.2" stroke-linecap="round" fill="none"/>
<path d="M465.8 96.3h0M463.8 101.7h0M468.3 104.2h0M468.5 97.2h0M466.0 128.0h0M466.8 80.5h0M467.4 116.8h0M464.8 108.5h0M467.1 128.4h0M464.6 101.3h0M468.9 92.7h0M466.9 95.0h0M465.0 122.3h0M464.5 128.5h0M464.0 128.7h0M464.7 128.3h0M464.9 99.4h0M464.0 128.4h0M467.2 87.9h0M467.7 81.8h0M465.7 118.5h0M464.3 90.5h0M467.5 128.8h0M466.8 85.2h0M467.5 119.1h0M465.6 123.2h0M464.9 76.3h0M467.4 109.8h0M465.7 114.9h0M468.2 91.7h0M468.5 100.3h0M464.3 85.1h0M463.9 88.6h0M467.1 103.7h0M466.8 106.0h0M464.4 128.9h0M467.6 128.7h0M468.0 97.7h0M464.9 95.1h0M465.4 120.8h0M467.3 106.9h0M468.5 128.4h0M465.0 86.5h0M465.5 79.1h0M468.2 91.7h0M467.4 98.6h0M464.1 79.8h0M468.0 80.6h0M467.3 106.1h0M463.5 100.0h0M467.2 120.2h0M463.3 97.4h0M468.2 128.6h0M464.7 91.0h0M467.0 94.6h0M468.7 98.2h0M465.1 92.8h0M464.2 129.2h0M466.8 119.0h0M463.6 95.4h0M465.2 128.9h0M464.7 64.0h0M467.8 77.1h0M466.2 128.7h0M463.9 128.7h0M465.4 67.8h0M468.3 91.8h0M464.6 124.7h0M468.6 95.9h0" stroke="#ff2c0c" stroke-opacity="0.5" stroke-width="2.2" stroke-linecap="round" fill="none"/>
<path d="M466.1 83.4h0M466.0 128.1h0M465.1 128.6h0M466.8 109.4h0M465.5 127.5h0M464.7 129.0h0M467.2 75.0h0M464.5 100.9h0M466.3 76.3h0M464.4 77.0h0M465.5 128.8h0M464.7 98.9h0M464.6 86.8h0M466.8 128.0h0M467.8 95.5h0M468.6 128.8h0M466.7 81.7h0M466.2 98.5h0M464.1 128.9h0M465.2 122.5h0M464.1 123.3h0M465.6 125.0h0M465.5 104.7h0M464.7 89.1h0M464.2 128.9h0M465.6 129.1h0M465.2 128.3h0M464.1 98.0h0M464.5 128.6h0M468.9 128.8h0M466.0 97.1h0M465.8 99.6h0M468.2 127.9h0M464.4 91.3h0M466.2 82.3h0M468.7 98.2h0M464.3 88.7h0M464.7 82.5h0M464.9 98.7h0M467.4 95.3h0M465.1 128.9h0M468.5 99.9h0M468.5 128.5h0M465.3 129.0h0M467.1 116.3h0M468.3 84.4h0M466.9 100.5h0M465.4 111.0h0M465.4 98.0h0M466.7 128.8h0M466.9 96.1h0M464.9 87.2h0M467.5 128.8h0M464.0 99.7h0M463.6 92.5h0M466.1 67.6h0M467.3 99.3h0M464.8 128.7h0M466.4 87.4h0M464.5 128.8h0M464.6 129.0h0M468.2 85.1h0M465.7 108.7h0M467.5 129.0h0M464.6 98.9h0M464.6 96.2h0M466.0 84.6h0M466.9 93.6h0M467.5 74.3h0" stroke="#ff2c0c" stroke-opacity="0.5" stroke-width="2.2" stroke-linecap="round" fill="none"/>
<path d="M464.3 84.0h0M467.3 115.6h0M465.5 86.0h0M464.1 128.9h0M467.6 81.0h0M466.4 86.7h0M466.4 87.0h0M465.9 129.1h0M465.2 109.8h0M467.9 88.1h0M465.1 128.1h0M467.4 95.2h0M465.2 117.6h0M463.5 94.8h0M464.0 128.6h0M463.3 128.7h0M466.1 128.9h0M468.3 128.6h0M467.7 128.4h0M464.9 83.7h0M467.1 113.3h0M467.5 89.6h0M466.0 78.4h0M465.4 77.9h0M465.3 67.1h0M467.6 128.1h0M465.9 98.2h0M468.4 93.3h0M464.1 120.2h0M466.5 96.6h0M466.5 128.5h0M464.2 123.0h0M465.6 119.9h0M467.3 117.0h0M464.6 127.5h0M463.5 99.9h0M463.4 128.2h0M468.8 128.7h0M466.0 93.4h0M468.1 80.2h0M467.5 92.9h0M465.5 97.7h0M465.2 128.8h0M468.8 93.1h0M466.6 104.0h0M466.8 91.8h0M468.3 97.6h0M466.1 113.5h0M466.3 128.7h0M464.5 108.8h0M466.8 116.8h0M465.3 105.3h0M463.3 92.3h0M466.0 85.3h0M466.2 118.0h0M465.3 65.8h0M467.7 96.4h0M464.9 128.2h0M467.3 82.7h0M464.0 90.4h0M468.1 91.0h0M467.5 128.3h0M467.8 107.7h0M464.9 77.0h0M467.5 89.2h0M467.7 116.3h0M467.0 105.0h0M466.8 92.2h0M464.1 129.1h0" stroke="#ff2c0c" stroke-opacity="0.5" stroke-width="2.2" stroke-linecap="round" fill="none"/>
<path d="M467.9 128.7h0M466.3 125.1h0M466.6 102.8h0M464.6 129.2h0M467.0 128.3h0M464.7 99.7h0M465.4 111.2h0M467.6 70.4h0M467.6 68.5h0M468.3 100.6h0M466.3 128.5h0M467.2 114.1h0M465.6 107.8h0M468.2 129.0h0M467.5 101.6h0M468.5 96.7h0M465.3 99.4h0M467.1 98.7h0M465.0 126.0h0M466.5 114.5h0M465.9 125.9h0M468.4 121.6h0M466.9 77.8h0M465.1 82.9h0M468.0 97.2h0M467.0 63.3h0M463.3 126.6h0M468.8 128.2h0M468.1 100.1h0M465.6 80.2h0M464.2 94.4h0M467.3 88.1h0M467.5 128.3h0M464.9 87.3h0M466.8 128.3h0M464.0 99.8h0M466.9 72.2h0M464.6 115.7h0M464.8 96.3h0M468.9 92.3h0M467.5 93.6h0M466.6 93.2h0M464.4 103.2h0M465.2 79.6h0M468.1 83.7h0M467.2 93.2h0M465.2 108.3h0M467.8 112.7h0M466.0 128.5h0M467.4 129.2h0M464.7 128.6h0M465.1 122.4h0M463.4 127.9h0M467.3 91.7h0M467.3 88.6h0M466.5 97.4h0M466.1 97.1h0M468.6 127.3h0M463.8 128.8h0M463.3 95.8h0M468.7 94.3h0M464.3 128.6h0M468.3 128.3h0M467.5 123.6h0M464.7 86.0h0M464.3 94.1h0M468.0 118.7h0M465.4 112.5h0M463.7 128.8h0" stroke="#ff2c0c" stroke-opacity="0.5" stroke-width="2.2" stroke-linecap="round" fill="none"/>
<path d="M466.08 91.54V63.10M466.08 128.02V129.00" stroke="#ff2c0c" stroke-width="0.6"/>
<rect x="462.78" y="91.54" width="6.6" height="36.48" fill="#fff" fill-opacity="0.38" stroke="#ff2c0c" stroke-width="0.6"/>
<path d="M462.78 100.81h6.6" stroke="#ff2c0c" stroke-width="1.6"/>
<path d="M474.1 129.2h0M472.8 96.3h0M476.9 127.9h0M473.4 128.4h0M476.3 124.8h0M473.1 94.3h0" stroke="#2c52b0" stroke-opacity="0.5" stroke-width="2.2" stroke-linecap="round" fill="none"/>
<path d="M473.2 128.9h0M475.9 128.5h0M474.5 128.6h0M473.3 128.8h0M474.7 79.1h0M473.4 120.0h0" stroke="#2c52b0" stroke-opacity="0.5" stroke-width="2.2" stroke-linecap="round" fill="none"/>
<path d="M473.6 128.1h0M474.2 128.8h0M473.9 110.6h0M473.8 103.1h0M476.7 128.0h0M471.5 128.3h0" stroke="#2c52b0" stroke-opacity="0.5" stroke-width="2.2" stroke-linecap="round" fill="none"/>
<path d="M473.1 108.4h0M476.2 128.4h0M476.0 128.4h0M473.8 126.0h0M476.9 128.0h0M473.2 127.9h0" stroke="#2c52b0" stroke-opacity="0.5" stroke-width="2.2" stroke-linecap="round" fill="none"/>
<path d="M474.8 84.2h0M473.1 127.8h0M474.6 122.4h0M473.4 87.4h0M473.7 103.5h0M472.9 129.0h0" stroke="#2c52b0" stroke-opacity="0.5" stroke-width="2.2" stroke-linecap="round" fill="none"/>
<path d="M473.3 112.5h0M474.2 117.3h0M474.0 116.0h0M474.6 91.9h0M475.2 128.7h0" stroke="#2c52b0" stroke-opacity="0.5" stroke-width="2.2" stroke-linecap="round" fill="none"/>
<path d="M474.35 109.55V84.04M474.35 128.41V128.97" stroke="#2c52b0" stroke-width="0.6"/>
<rect x="471.05" y="109.55" width="6.6" height="18.86" fill="#fff" fill-opacity="0.38" stroke="#2c52b0" stroke-width="0.6"/>
<path d="M471.05 127.58h6.6" stroke="#2c52b0" stroke-width="1.6"/>
<path d="M480.3 117.9h0M484.6 118.0h0M481.1 125.8h0M481.1 116.3h0M485.1 128.7h0M481.0 128.5h0M483.7 58.4h0M481.7 78.7h0M481.2 103.7h0M479.8 128.5h0M481.7 81.5h0M484.1 129.0h0M483.0 101.3h0M483.3 128.9h0M482.4 77.5h0M481.8 115.1h0M482.2 128.5h0M479.8 127.9h0M481.0 100.6h0M481.9 117.1h0M481.6 114.6h0M483.3 128.2h0M484.9 122.7h0M483.1 80.6h0M480.3 128.5h0" stroke="#ff2c0c" stroke-opacity="0.5" stroke-width="2.2" stroke-linecap="round" fill="none"/>
<path d="M481.8 57.1h0M483.6 128.9h0M480.6 128.6h0M480.9 128.7h0M481.2 88.8h0M484.3 104.1h0M483.6 118.6h0M481.7 128.1h0M485.1 129.3h0M482.9 109.4h0M485.0 120.5h0M484.3 123.0h0M484.7 128.7h0M483.8 72.4h0M482.1 128.5h0M482.3 67.8h0M481.1 121.0h0M484.6 125.4h0M483.7 108.6h0M481.6 85.8h0M482.3 128.8h0M482.6 120.1h0M483.5 90.0h0M483.6 87.4h0M482.8 124.8h0" stroke="#ff2c0c" stroke-opacity="0.5" stroke-width="2.2" stroke-linecap="round" fill="none"/>
<path d="M483.7 116.7h0M484.0 121.3h0M482.3 83.3h0M483.4 111.0h0M484.2 96.6h0M483.3 127.8h0M481.9 106.1h0M484.4 128.6h0M483.7 128.9h0M482.2 98.3h0M483.8 85.2h0M481.9 61.8h0M483.4 66.4h0M483.2 122.1h0M480.1 129.0h0M482.2 95.5h0M484.4 128.4h0M482.3 128.8h0M482.0 75.3h0M482.9 129.0h0M484.5 128.2h0M482.8 105.1h0M481.4 121.0h0M483.5 109.8h0M481.4 121.1h0" stroke="#ff2c0c" stroke-opacity="0.5" stroke-width="2.2" stroke-linecap="round" fill="none"/>
<path d="M480.3 122.1h0M480.1 124.1h0M480.9 122.1h0M483.8 127.4h0M481.5 107.0h0M483.0 93.5h0M479.8 128.4h0M480.3 123.6h0M482.8 72.1h0M484.2 128.5h0M483.4 124.2h0M481.4 100.1h0M481.3 129.3h0M482.2 108.0h0M481.2 120.3h0M481.3 115.7h0M483.0 123.5h0M484.4 111.8h0M480.8 102.5h0M483.0 90.7h0M480.6 119.4h0M485.3 128.5h0M479.9 128.4h0M483.8 126.4h0M483.0 125.9h0" stroke="#ff2c0c" stroke-opacity="0.5" stroke-width="2.2" stroke-linecap="round" fill="none"/>
<path d="M481.0 128.4h0M482.5 52.7h0M483.2 93.0h0M483.5 73.7h0M481.8 119.7h0M483.9 95.7h0M484.6 112.9h0M483.9 124.2h0M484.4 119.3h0M482.5 81.6h0M484.5 126.8h0M481.3 76.3h0M481.5 123.4h0M484.9 126.3h0M483.9 126.7h0M482.8 114.0h0M483.6 101.6h0M480.6 129.1h0M483.4 129.1h0M482.8 104.1h0M482.0 92.2h0M483.0 87.0h0M485.1 128.4h0M483.5 128.7h0M479.8 128.3h0" stroke="#ff2c0c" stroke-opacity="0.5" stroke-width="2.2" stroke-linecap="round" fill="none"/>
<path d="M482.8 128.7h0M484.7 129.0h0M482.3 108.3h0M484.2 99.6h0M483.5 103.2h0M482.0 64.7h0M483.0 128.7h0M483.0 98.7h0M482.8 113.1h0M483.4 107.1h0M483.9 106.1h0M484.0 128.9h0M483.9 83.1h0M484.0 79.0h0M483.1 74.0h0M481.2 112.3h0M483.3 119.7h0M482.3 102.3h0M482.9 125.0h0M483.6 127.0h0M482.8 91.5h0M484.8 128.7h0M481.9 110.7h0M482.7 115.1h0M484.6 109.2h0" stroke="#ff2c0c" stroke-opacity="0.5" stroke-width="2.2" stroke-linecap="round" fill="none"/>
<path d="M482.63 99.73V57.32M482.63 128.30V128.99" stroke="#ff2c0c" stroke-width="0.6"/>
<rect x="479.33" y="99.73" width="6.6" height="28.57" fill="#fff" fill-opacity="0.38" stroke="#ff2c0c" stroke-width="0.6"/>
<path d="M479.33 118.38h6.6" stroke="#ff2c0c" stroke-width="1.6"/>
<path d="M489.0 128.9h0M490.3 128.7h0M491.6 128.4h0M488.5 129.0h0M491.9 128.7h0M492.4 128.3h0M489.2 128.8h0M492.7 128.1h0M490.8 128.8h0M489.9 128.8h0M488.9 128.7h0M489.9 128.7h0M492.3 128.7h0M490.8 128.6h0M491.1 128.3h0M491.5 128.8h0M492.9 125.1h0M489.6 128.9h0M488.3 128.8h0M493.5 128.9h0M488.3 129.0h0M490.9 128.7h0M488.8 128.7h0M491.1 126.8h0M489.9 128.1h0M492.3 128.7h0M490.1 128.0h0M488.5 129.2h0M492.2 128.3h0M493.6 127.3h0M489.7 129.0h0M493.5 129.0h0M493.2 128.5h0M491.0 128.8h0M491.8 129.2h0M492.4 128.4h0M492.0 128.8h0M491.7 128.6h0M488.3 129.0h0M491.7 127.7h0M492.6 129.0h0M492.1 128.6h0M489.2 128.8h0M489.2 127.4h0M491.1 128.8h0M490.6 127.7h0M489.2 128.2h0M489.3 128.8h0M488.8 129.0h0M488.3 128.4h0M488.4 129.0h0M492.1 128.8h0M488.9 128.5h0M491.4 128.9h0M491.7 127.6h0M490.1 128.5h0M488.9 128.8h0M493.4 129.0h0M493.2 128.2h0M490.5 129.1h0M491.3 129.0h0M492.5 128.8h0M490.8 128.9h0M493.7 128.7h0M489.2 129.0h0M491.9 128.1h0M488.8 129.0h0M488.1 129.2h0M489.2 128.8h0M490.2 128.7h0M491.9 126.8h0M489.7 127.0h0M489.1 129.1h0M489.5 128.9h0M491.8 127.6h0M489.0 128.5h0M490.9 128.4h0M491.4 129.1h0M492.9 128.9h0M491.3 128.5h0M492.3 128.7h0M492.5 127.1h0M492.3 129.1h0M491.0 129.2h0" stroke="#ff2c0c" stroke-opacity="0.5" stroke-width="2.2" stroke-linecap="round" fill="none"/>
<path d="M491.4 128.7h0M490.3 128.9h0M493.5 128.6h0M493.2 128.9h0M490.9 128.7h0M492.7 129.2h0M493.4 128.8h0M492.9 129.1h0M493.4 129.0h0M493.5 129.2h0M490.5 129.1h0M488.1 128.5h0M491.8 129.0h0M491.5 128.7h0M492.1 128.8h0M493.6 128.5h0M490.6 128.6h0M491.1 128.7h0M489.9 128.7h0M488.2 127.6h0M490.7 128.5h0M488.8 129.2h0M492.1 128.6h0M492.1 128.6h0M492.0 128.8h0M493.5 128.2h0M491.9 129.0h0M489.7 128.2h0M492.3 128.6h0M488.9 129.1h0M492.1 128.8h0M490.4 128.9h0M492.6 128.9h0M488.6 128.9h0M492.2 129.1h0M489.4 128.7h0M493.2 128.3h0M488.3 128.7h0M491.9 128.1h0M492.5 128.8h0M491.7 128.6h0M490.5 128.3h0M488.2 128.4h0M490.0 128.9h0M489.0 129.1h0M489.9 127.2h0M490.4 129.0h0M490.7 129.0h0M491.0 128.8h0M488.8 129.1h0M490.4 127.9h0M489.7 127.3h0M492.2 128.7h0M492.2 127.0h0M488.7 128.2h0M489.1 128.7h0M488.5 128.9h0M491.8 128.9h0M488.2 128.7h0M490.7 128.6h0M489.4 129.0h0M491.5 128.6h0M490.4 128.9h0M489.7 129.0h0M490.8 128.5h0M492.5 129.0h0M488.3 129.1h0M491.5 129.0h0M489.3 129.1h0M490.5 128.6h0M491.1 128.1h0M488.5 128.5h0M491.4 126.9h0M490.8 128.9h0M492.2 129.0h0M492.0 128.8h0M493.4 128.8h0M489.5 123.3h0M489.8 129.0h0M489.1 129.1h0M488.6 129.1h0M493.2 129.2h0M492.8 128.8h0M490.9 128.8h0" stroke="#ff2c0c" stroke-opacity="0.5" stroke-width="2.2" stroke-linecap="round" fill="none"/>
<path d="M490.3 128.5h0M489.4 128.7h0M491.0 128.9h0M490.1 128.4h0M489.8 128.4h0M491.0 129.1h0M492.1 128.4h0M490.3 128.0h0M488.3 128.9h0M492.4 128.7h0M490.0 128.3h0M489.0 128.7h0M490.0 122.9h0M488.9 128.5h0M492.1 129.0h0M488.9 129.1h0M491.7 129.0h0M491.1 129.1h0M489.8 128.4h0M488.1 129.1h0M490.1 129.0h0M489.3 128.6h0M489.0 127.3h0M492.5 128.9h0M489.0 128.7h0M488.2 129.2h0M491.8 128.9h0M491.6 129.2h0M493.8 129.0h0M493.2 128.5h0M490.8 127.5h0M491.3 128.7h0M489.7 129.1h0M489.2 127.8h0M492.5 128.5h0M490.1 129.0h0M492.8 129.3h0M489.6 128.7h0M490.9 129.1h0M493.2 128.3h0M490.2 128.8h0M491.0 129.1h0M489.9 128.9h0M491.9 129.1h0M488.1 129.2h0M490.4 128.7h0M492.9 129.1h0M490.7 129.0h0M491.0 128.3h0M493.3 128.9h0M489.4 128.6h0M489.6 129.1h0M491.1 128.8h0M491.1 128.9h0M492.0 129.2h0M493.2 128.6h0M492.2 128.7h0M490.2 129.1h0M489.3 128.9h0M492.9 128.3h0M490.1 128.8h0M490.1 129.2h0M489.8 129.2h0M488.1 127.1h0M490.4 129.0h0M491.6 128.9h0M488.8 126.6h0M493.5 128.9h0M490.4 128.6h0M488.8 128.4h0M490.6 128.7h0M491.2 129.0h0M492.1 128.8h0M492.5 128.8h0M492.9 128.7h0M489.4 129.1h0M492.2 128.8h0M492.6 128.8h0M491.1 129.1h0M489.6 128.7h0M493.4 128.9h0M490.7 128.7h0M492.2 128.3h0M490.7 128.7h0" stroke="#ff2c0c" stroke-opacity="0.5" stroke-width="2.2" stroke-linecap="round" fill="none"/>
<path d="M493.4 128.8h0M491.3 128.6h0M492.9 128.9h0M489.7 129.0h0M489.3 129.1h0M493.3 127.2h0M492.3 128.8h0M492.0 128.5h0M491.7 128.8h0M492.2 129.0h0M491.5 129.2h0M488.4 128.9h0M489.7 128.1h0M493.5 128.8h0M491.9 128.1h0M493.0 128.7h0M488.7 126.6h0M492.8 128.5h0M493.4 129.1h0M490.5 128.3h0M490.3 128.5h0M488.6 128.9h0M489.0 127.2h0M490.1 128.1h0M492.5 128.8h0M491.0 128.7h0M493.2 129.0h0M492.2 128.6h0M488.8 128.7h0M492.2 128.5h0M493.3 129.0h0M490.3 128.9h0M490.7 128.5h0M489.1 129.0h0M488.0 128.3h0M491.3 128.7h0M491.5 128.9h0M492.5 129.0h0M491.7 128.6h0M493.5 126.9h0M489.0 128.8h0M491.0 128.9h0M493.5 128.9h0M493.5 128.5h0M491.6 128.7h0M488.4 129.1h0M489.4 129.0h0M492.2 128.8h0M489.4 127.4h0M490.9 128.4h0M491.8 127.2h0M491.8 128.9h0M488.0 128.7h0M488.2 128.2h0M491.5 128.8h0M488.1 129.0h0M493.0 128.7h0M492.2 129.2h0M488.9 129.0h0M489.4 124.4h0M492.5 128.4h0M493.6 128.4h0M489.6 126.6h0M493.5 128.5h0M491.8 128.2h0M491.1 128.9h0M490.5 128.8h0M488.7 128.9h0M489.2 126.8h0M493.8 128.7h0M493.1 128.9h0M488.7 127.8h0M492.5 129.0h0M493.1 128.7h0M491.7 128.7h0M492.0 129.0h0M490.4 128.7h0M492.5 128.6h0M492.9 129.0h0M492.1 124.4h0M490.9 128.8h0M490.3 128.7h0M491.2 128.7h0" stroke="#ff2c0c" stroke-opacity="0.5" stroke-width="2.2" stroke-linecap="round" fill="none"/>
<path d="M488.7 129.0h0M491.8 129.2h0M489.6 128.7h0M493.1 128.7h0M489.3 128.9h0M490.3 126.7h0M489.3 128.8h0M489.1 128.5h0M493.7 128.8h0M489.8 128.7h0M489.3 128.8h0M490.7 128.6h0M490.5 127.8h0M490.9 129.2h0M491.2 127.2h0M492.6 128.8h0M488.5 128.7h0M493.6 128.9h0M488.8 128.4h0M492.9 128.5h0M490.2 126.8h0M490.7 128.6h0M491.2 129.0h0M492.3 128.8h0M488.9 127.8h0M489.7 129.2h0M492.5 123.3h0M488.8 128.6h0M489.5 129.0h0M490.9 129.2h0M490.7 128.3h0M488.6 128.5h0M491.0 129.0h0M491.4 128.6h0M491.4 128.9h0M489.6 127.3h0M490.8 127.9h0M492.4 128.3h0M490.7 128.9h0M493.5 129.1h0M489.9 129.2h0M488.9 128.7h0M493.5 128.6h0M490.5 127.9h0M491.1 128.7h0M491.3 129.0h0M490.0 127.9h0M488.9 126.8h0M488.0 129.0h0M492.4 129.1h0M490.6 128.6h0M490.5 128.8h0M491.5 128.8h0M489.7 128.5h0M493.1 127.8h0M489.7 126.9h0M491.8 127.5h0M489.4 128.9h0M491.7 129.0h0M491.1 128.8h0M489.8 126.8h0M488.1 129.0h0M489.6 129.1h0M491.7 129.0h0M491.5 128.8h0M488.0 128.8h0M488.7 129.1h0M488.6 127.8h0M489.7 129.0h0M492.8 128.8h0M493.0 128.6h0M491.3 128.9h0M492.3 128.5h0M488.1 129.0h0M490.4 128.9h0M492.9 129.0h0M493.4 128.4h0M490.4 129.1h0M492.7 128.7h0M492.7 129.2h0M489.6 128.5h0M491.3 127.8h0M490.3 128.9h0" stroke="#ff2c0c" stroke-opacity="0.5" stroke-width="2.2" stroke-linecap="round" fill="none"/>
<path d="M493.8 128.7h0M493.1 128.5h0M491.0 128.9h0M490.8 128.5h0M493.2 128.5h0M490.6 127.4h0M488.2 128.7h0M493.4 126.5h0M489.1 128.5h0M490.1 128.2h0M492.4 128.7h0M489.0 128.9h0M491.0 127.9h0M492.3 128.1h0M488.4 128.7h0M492.5 122.3h0M490.4 129.1h0M492.0 128.9h0M488.2 129.1h0M491.0 128.7h0M492.4 128.6h0M493.1 128.7h0M488.7 128.3h0M488.1 128.9h0M489.1 127.7h0M488.3 128.6h0M492.6 129.1h0M489.3 128.4h0M489.1 129.1h0M491.7 128.7h0M490.1 128.5h0M489.5 128.9h0M493.3 128.7h0M492.8 128.8h0M492.0 128.9h0M488.9 127.5h0M491.1 128.1h0M490.3 128.9h0M492.8 129.1h0M492.2 128.3h0M491.2 129.1h0M492.3 129.0h0M493.4 129.2h0M492.1 128.8h0M492.9 128.9h0M493.3 129.2h0M489.8 128.9h0M490.5 128.5h0M492.6 129.1h0M489.6 128.7h0M491.8 129.1h0M491.2 128.6h0M488.5 128.6h0M491.3 128.7h0M488.9 129.0h0M492.2 128.5h0M493.7 128.5h0M488.1 129.1h0M489.5 127.4h0M492.3 128.5h0M490.7 128.6h0M493.1 128.8h0M492.6 128.9h0M489.9 128.8h0M492.9 128.0h0M490.5 128.7h0M491.6 128.7h0M491.6 128.9h0M492.7 128.8h0M491.5 125.2h0M493.0 128.4h0M491.4 128.6h0M493.2 128.4h0M492.7 129.0h0M488.8 128.8h0M493.4 128.7h0M492.9 128.5h0M489.7 128.1h0M493.1 128.2h0M493.8 129.2h0M491.7 128.9h0M491.8 128.8h0M488.7 129.0h0" stroke="#ff2c0c" stroke-opacity="0.5" stroke-width="2.2" stroke-linecap="round" fill="none"/>
<path d="M490.90 128.50V127.89M490.90 128.90V129.00" stroke="#ff2c0c" stroke-width="0.6"/>
<rect x="487.60" y="128.50" width="6.6" height="0.41" fill="#fff" fill-opacity="0.38" stroke="#ff2c0c" stroke-width="0.6"/>
<path d="M487.60 128.81h6.6" stroke="#ff2c0c" stroke-width="1.6"/>
<path d="M497.7 128.8h0M500.3 128.4h0M500.8 128.9h0M500.3 128.6h0M500.5 128.4h0M501.6 128.4h0M500.4 128.8h0M496.6 129.2h0M497.9 128.5h0M500.1 128.4h0" stroke="#2c52b0" stroke-opacity="0.5" stroke-width="2.2" stroke-linecap="round" fill="none"/>
<path d="M497.9 129.0h0M501.3 128.7h0M498.3 128.8h0M500.7 128.8h0M501.7 128.5h0M501.8 128.5h0M500.0 128.8h0M496.8 128.7h0M497.2 128.4h0M496.9 128.7h0" stroke="#2c52b0" stroke-opacity="0.5" stroke-width="2.2" stroke-linecap="round" fill="none"/>
<path d="M501.8 128.4h0M496.7 128.7h0M501.6 128.9h0M500.6 128.7h0M497.2 128.5h0M498.9 129.0h0M501.2 127.7h0M498.2 129.0h0M501.5 128.8h0M499.2 128.9h0" stroke="#2c52b0" stroke-opacity="0.5" stroke-width="2.2" stroke-linecap="round" fill="none"/>
<path d="M498.1 128.2h0M498.4 128.6h0M498.0 128.7h0M498.0 128.8h0M499.1 128.5h0M497.5 128.6h0M499.6 128.9h0M499.2 129.0h0M500.0 128.7h0M500.1 129.0h0" stroke="#2c52b0" stroke-opacity="0.5" stroke-width="2.2" stroke-linecap="round" fill="none"/>
<path d="M496.6 129.1h0M501.7 128.9h0M497.2 128.8h0M496.4 128.7h0M498.1 128.5h0M499.6 128.9h0M501.2 128.7h0M499.9 123.7h0M498.3 128.9h0M497.6 128.4h0" stroke="#2c52b0" stroke-opacity="0.5" stroke-width="2.2" stroke-linecap="round" fill="none"/>
<path d="M501.1 128.2h0M497.2 128.7h0M500.4 128.6h0M500.5 128.5h0M501.1 128.7h0M499.4 128.4h0M500.6 129.1h0M498.1 128.5h0M501.9 128.8h0" stroke="#2c52b0" stroke-opacity="0.5" stroke-width="2.2" stroke-linecap="round" fill="none"/>
<path d="M499.17 128.56V128.44M499.17 128.85V129.00" stroke="#2c52b0" stroke-width="0.6"/>
<rect x="495.87" y="128.56" width="6.6" height="0.29" fill="#fff" fill-opacity="0.38" stroke="#2c52b0" stroke-width="0.6"/>
<path d="M495.87 128.71h6.6" stroke="#2c52b0" stroke-width="1.6"/>
<path d="M506.7 128.8h0M509.6 128.6h0M508.6 125.5h0M505.8 128.1h0M509.8 125.8h0M507.7 128.3h0M510.3 128.7h0M506.1 128.9h0M508.1 126.4h0M504.6 128.4h0M509.4 127.2h0M510.1 128.5h0M506.3 128.6h0M508.8 128.9h0M507.7 128.6h0M506.6 129.2h0M507.9 128.7h0M505.9 129.0h0M507.8 128.9h0M508.0 75.7h0" stroke="#ff2c0c" stroke-opacity="0.5" stroke-width="2.2" stroke-linecap="round" fill="none"/>
<path d="M507.6 128.6h0M507.9 128.6h0M507.0 129.1h0M510.0 128.9h0M505.3 128.7h0M506.0 128.8h0M509.0 128.3h0M509.3 128.6h0M506.2 121.3h0M505.7 128.6h0M508.7 128.6h0M508.5 128.9h0M509.9 128.5h0M505.7 128.7h0M507.9 126.4h0M509.3 128.5h0M508.8 128.5h0M505.2 128.9h0M504.9 128.8h0M507.2 128.3h0" stroke="#ff2c0c" stroke-opacity="0.5" stroke-width="2.2" stroke-linecap="round" fill="none"/>
<path d="M507.4 128.6h0M507.7 128.6h0M507.7 128.4h0M505.0 128.6h0M505.0 128.5h0M509.0 129.0h0M508.7 128.7h0M507.8 128.9h0M509.0 128.9h0M509.5 128.7h0M509.2 128.7h0M506.5 128.7h0M510.1 128.8h0M509.3 128.6h0M510.0 128.5h0M506.3 128.8h0M509.7 129.1h0M507.2 129.1h0M505.2 128.6h0M509.0 128.7h0" stroke="#ff2c0c" stroke-opacity="0.5" stroke-width="2.2" stroke-linecap="round" fill="none"/>
<path d="M508.7 128.5h0M507.2 128.8h0M504.9 128.6h0M508.5 128.7h0M507.8 127.8h0M508.5 128.8h0M508.2 128.5h0M507.1 116.3h0M506.0 128.7h0M508.6 128.5h0M505.4 129.0h0M505.7 128.7h0M508.3 128.7h0M506.4 128.4h0M505.7 128.6h0M506.9 129.2h0M509.9 128.6h0M506.5 112.3h0M508.3 127.2h0M510.3 128.9h0" stroke="#ff2c0c" stroke-opacity="0.5" stroke-width="2.2" stroke-linecap="round" fill="none"/>
<path d="M508.8 128.4h0M508.6 129.0h0M507.5 128.3h0M509.6 128.5h0M505.9 129.1h0M504.7 128.7h0M506.3 99.3h0M506.0 128.4h0M509.4 129.1h0M507.7 128.4h0M506.3 128.8h0M508.0 128.9h0M510.1 128.7h0M506.3 128.8h0M506.3 128.8h0M508.0 129.0h0M509.0 129.1h0M509.1 128.7h0M506.2 128.7h0M507.3 128.9h0" stroke="#ff2c0c" stroke-opacity="0.5" stroke-width="2.2" stroke-linecap="round" fill="none"/>
<path d="M510.3 128.4h0M507.3 129.1h0M509.8 128.9h0M507.3 127.1h0M508.3 127.6h0M508.1 129.0h0M505.7 123.9h0M505.9 128.8h0M504.9 128.7h0M505.4 128.5h0M505.2 128.7h0M509.3 128.7h0M505.5 128.4h0M507.0 128.7h0M508.2 128.5h0M508.8 128.6h0M505.9 128.9h0M505.0 126.1h0M507.9 129.1h0M508.6 129.1h0" stroke="#ff2c0c" stroke-opacity="0.5" stroke-width="2.2" stroke-linecap="round" fill="none"/>
<path d="M507.44 128.49V128.14M507.44 128.83V129.00" stroke="#ff2c0c" stroke-width="0.6"/>
<rect x="504.14" y="128.49" width="6.6" height="0.33" fill="#fff" fill-opacity="0.38" stroke="#ff2c0c" stroke-width="0.6"/>
<path d="M504.14 128.66h6.6" stroke="#ff2c0c" stroke-width="1.6"/>
<path d="M513.1 111.5h0M516.8 128.7h0M518.5 83.3h0M517.8 108.2h0M514.3 89.0h0M514.0 79.9h0M517.4 120.6h0M513.1 90.1h0M513.6 109.3h0M514.3 81.3h0M513.7 103.5h0M514.9 83.7h0M517.1 84.6h0M513.0 128.8h0M516.2 128.9h0M518.4 129.2h0M514.4 112.1h0M516.1 128.7h0M514.1 82.4h0M516.3 80.7h0M516.2 128.6h0M513.3 92.4h0M516.1 87.7h0M514.6 80.7h0M517.9 128.5h0M516.7 94.6h0M516.8 119.1h0M514.2 126.1h0M514.4 69.5h0M518.1 105.9h0M514.3 80.6h0M515.9 128.2h0M515.4 120.6h0M517.5 128.4h0M513.4 119.4h0M517.1 117.3h0M514.9 99.0h0M514.0 114.0h0M512.9 128.2h0M515.4 116.5h0M516.1 91.2h0M513.5 113.8h0M517.1 118.3h0M515.5 98.3h0M514.5 110.1h0M515.0 128.8h0M517.9 96.9h0M513.8 128.8h0M515.6 91.6h0M514.3 114.9h0M517.3 105.8h0M515.5 128.3h0M516.3 116.6h0M513.8 128.8h0M514.3 109.5h0M514.9 120.4h0M516.9 127.9h0M514.0 116.1h0M513.5 83.8h0M513.9 86.7h0M515.1 86.0h0M513.9 107.5h0M515.9 77.3h0M517.4 128.2h0M514.8 128.8h0M517.9 109.0h0M514.8 98.3h0M515.2 105.9h0M516.0 89.1h0M515.1 128.2h0M518.5 84.9h0M514.8 88.5h0M516.8 91.8h0M513.0 84.5h0M516.0 123.5h0M517.9 94.9h0M515.7 93.2h0M514.1 84.3h0M515.2 110.3h0M513.3 126.3h0M516.9 83.5h0M517.2 117.2h0M516.3 90.2h0M513.8 74.8h0M515.5 128.7h0M516.6 84.7h0M517.3 128.6h0M513.0 128.7h0M513.4 97.5h0M514.5 127.0h0M514.5 102.2h0" stroke="#ff2c0c" stroke-opacity="0.5" stroke-width="2.2" stroke-linecap="round" fill="none"/>
<path d="M514.6 102.8h0M515.6 126.7h0M515.2 118.1h0M515.6 128.2h0M516.5 128.3h0M515.0 71.1h0M517.9 122.4h0M514.8 85.8h0M515.0 90.5h0M516.0 128.1h0M513.9 111.4h0M514.9 112.6h0M515.2 77.6h0M513.3 128.3h0M518.2 125.6h0M517.6 119.4h0M514.1 69.8h0M516.7 128.1h0M516.0 108.8h0M514.0 76.8h0M515.9 128.5h0M517.8 123.2h0M514.7 115.5h0M513.5 128.6h0M513.2 100.6h0M513.3 90.1h0M515.1 72.9h0M514.5 94.0h0M518.4 124.7h0M513.6 104.3h0M513.9 129.1h0M516.4 128.3h0M514.5 118.9h0M515.0 98.8h0M515.8 96.3h0M517.8 76.0h0M514.2 85.4h0M514.5 85.4h0M516.5 84.2h0M513.5 108.2h0M514.4 115.8h0M515.8 113.5h0M513.2 121.3h0M516.4 128.2h0M516.0 111.4h0M516.5 124.1h0M517.7 76.4h0M513.7 128.0h0M514.3 128.0h0M516.0 128.7h0M517.9 128.6h0M517.8 103.5h0M513.1 95.5h0M514.1 121.4h0M516.0 98.3h0M515.9 87.7h0M517.4 129.1h0M517.9 109.0h0M516.8 128.3h0M516.5 128.6h0M517.9 128.5h0M514.0 112.0h0M514.6 126.0h0M514.1 118.5h0M514.8 110.1h0M518.0 105.9h0M514.3 90.9h0M516.5 128.5h0M513.9 95.7h0M514.9 128.4h0M514.1 95.3h0M514.5 114.2h0M515.6 81.9h0M515.8 128.4h0M516.9 128.5h0M516.5 81.5h0M513.4 86.7h0M513.1 96.5h0M514.2 125.1h0M517.0 89.8h0M517.9 117.7h0M515.0 101.6h0M518.1 121.5h0M514.5 115.1h0M516.1 112.7h0M517.5 107.0h0M514.3 110.6h0M513.8 106.9h0M518.6 128.6h0M514.8 99.8h0M513.0 123.0h0" stroke="#ff2c0c" stroke-opacity="0.5" stroke-width="2.2" stroke-linecap="round" fill="none"/>
<path d="M514.0 74.5h0M518.4 128.4h0M515.7 124.0h0M515.1 110.8h0M513.1 121.9h0M515.0 70.0h0M517.6 109.7h0M514.1 70.7h0M515.2 92.6h0M513.1 128.8h0M516.8 72.7h0M517.4 128.3h0M515.2 128.5h0M516.4 128.1h0M516.3 83.5h0M516.0 83.7h0M517.9 115.5h0M518.2 106.9h0M514.7 78.0h0M515.7 109.6h0M517.8 115.9h0M513.7 128.7h0M516.0 95.6h0M514.1 82.0h0M515.7 104.1h0M515.4 69.8h0M515.8 99.3h0M514.8 115.7h0M515.1 125.7h0M516.2 99.2h0M517.3 77.1h0M514.9 126.5h0M513.6 97.4h0M513.5 80.9h0M513.2 128.0h0M518.2 128.6h0M517.4 79.8h0M515.1 67.0h0M518.2 80.9h0M517.1 89.8h0M516.7 85.8h0M517.2 72.4h0M515.7 79.9h0M514.5 71.1h0M516.4 106.3h0M517.0 87.4h0M514.2 73.9h0M515.9 74.9h0M516.9 129.2h0M514.8 92.1h0M517.9 98.5h0M517.8 129.0h0M515.4 101.5h0M516.6 86.9h0M514.0 86.4h0M516.0 79.3h0M512.9 127.8h0M515.1 127.7h0M513.1 123.3h0M514.5 119.5h0M514.8 72.9h0M513.6 128.1h0M517.8 128.3h0M514.2 129.0h0M516.8 86.0h0M516.2 93.8h0M515.2 117.9h0M513.0 84.3h0M517.8 100.1h0M515.1 127.9h0M513.9 120.2h0M514.4 126.9h0M514.3 128.9h0M515.2 129.0h0M515.4 89.5h0M516.9 95.5h0M516.9 108.5h0M516.6 128.7h0M515.9 110.2h0M515.2 122.4h0M513.0 125.9h0M514.8 118.3h0M516.6 120.3h0M514.6 128.4h0M515.9 128.9h0M515.4 98.0h0M515.5 84.5h0M515.4 95.8h0M516.4 92.6h0M518.3 88.3h0M513.6 127.4h0" stroke="#ff2c0c" stroke-opacity="0.5" stroke-width="2.2" stroke-linecap="round" fill="none"/>
<path d="M514.6 85.9h0M516.8 88.1h0M517.2 89.2h0M517.4 88.0h0M515.0 128.6h0M518.5 83.1h0M513.0 87.2h0M515.0 99.4h0M514.9 89.1h0M513.5 109.3h0M516.9 75.4h0M515.9 103.5h0M517.1 73.3h0M517.9 87.8h0M517.2 113.0h0M513.6 104.9h0M516.2 93.7h0M518.2 91.2h0M516.5 128.8h0M513.3 80.8h0M517.2 128.5h0M517.8 81.9h0M518.4 125.2h0M518.2 121.2h0M514.9 128.7h0M515.4 129.0h0M516.8 94.3h0M515.1 127.2h0M518.0 105.8h0M514.4 90.6h0M517.6 128.7h0M516.2 100.8h0M516.7 79.0h0M514.2 82.7h0M513.2 108.0h0M513.5 128.9h0M515.1 97.3h0M513.4 128.6h0M518.1 101.8h0M515.3 128.7h0M516.9 110.7h0M514.1 106.6h0M517.5 78.1h0M518.0 82.8h0M513.5 128.8h0M518.2 107.3h0M517.2 75.6h0M515.2 98.1h0M514.1 113.9h0M514.1 87.8h0M515.3 81.7h0M513.6 128.1h0M515.4 114.1h0M515.1 129.0h0M513.9 129.0h0M513.7 78.4h0M518.1 90.8h0M514.6 123.0h0M517.5 92.1h0M516.7 80.6h0M518.3 128.8h0M513.2 101.2h0M514.8 86.8h0M517.9 111.3h0M514.7 71.7h0M515.7 68.6h0M516.7 125.3h0M516.8 62.8h0M516.1 129.1h0M514.6 100.8h0M514.2 79.2h0M516.9 128.5h0M515.6 80.0h0M517.4 122.5h0M518.0 94.3h0M517.0 127.6h0M515.0 101.3h0M518.4 119.6h0M517.8 128.9h0M517.8 82.8h0M515.0 82.2h0M515.5 128.2h0M517.2 107.7h0M517.3 75.8h0M514.1 102.6h0M514.8 95.0h0M514.1 104.1h0M513.8 127.9h0M514.3 85.0h0M518.0 128.8h0M515.5 127.7h0" stroke="#ff2c0c" stroke-opacity="0.5" stroke-width="2.2" stroke-linecap="round" fill="none"/>
<path d="M515.8 128.7h0M517.1 110.0h0M514.2 115.1h0M513.2 128.3h0M515.1 89.7h0M515.4 111.9h0M518.1 91.7h0M513.6 102.7h0M516.3 95.0h0M518.5 128.3h0M513.0 85.6h0M516.3 102.3h0M518.2 81.8h0M515.4 128.0h0M513.9 91.8h0M516.2 128.7h0M514.4 107.5h0M514.9 81.9h0M518.5 128.5h0M516.4 111.9h0M513.4 123.9h0M516.7 128.8h0M516.3 88.0h0M518.2 128.3h0M517.6 114.9h0M513.3 84.8h0M515.7 70.5h0M518.3 122.1h0M517.3 128.0h0M517.4 120.7h0M514.9 93.4h0M513.9 128.4h0M516.1 128.2h0M515.4 128.3h0M516.2 112.7h0M515.5 81.6h0M514.9 71.6h0M517.8 83.3h0M515.3 74.2h0M514.0 112.5h0M513.8 100.0h0M513.1 117.1h0M514.1 127.9h0M513.7 83.6h0M516.6 128.8h0M512.9 122.7h0M514.8 65.5h0M513.9 104.8h0M514.4 97.2h0M517.2 100.4h0M513.9 97.1h0M515.0 101.8h0M515.4 106.4h0M517.7 87.5h0M515.3 128.4h0M516.0 114.8h0M517.2 65.1h0M513.4 128.4h0M514.4 100.4h0M513.4 117.7h0M516.3 103.4h0M515.7 128.8h0M513.9 99.8h0M513.8 128.6h0M514.8 119.0h0M516.8 125.1h0M513.7 129.1h0M513.7 89.6h0M513.6 118.6h0M516.3 128.2h0M514.8 121.9h0M517.4 128.4h0M513.8 129.0h0M513.4 121.7h0M515.5 116.1h0M518.0 80.2h0M517.0 128.7h0M515.7 104.5h0M517.2 128.3h0M513.2 101.4h0M516.2 128.6h0M516.4 104.0h0M514.3 128.9h0M513.4 93.3h0M512.9 128.5h0M518.1 128.3h0M517.2 128.9h0M515.8 82.6h0M512.8 128.7h0M518.0 105.0h0M517.6 101.2h0" stroke="#ff2c0c" stroke-opacity="0.5" stroke-width="2.2" stroke-linecap="round" fill="none"/>
<path d="M515.3 107.4h0M514.0 113.3h0M513.0 88.3h0M513.2 82.9h0M515.6 119.5h0M514.4 105.9h0M514.7 125.3h0M512.9 126.7h0M513.4 96.7h0M517.9 127.9h0M515.7 103.0h0M517.3 124.7h0M516.9 92.9h0M518.4 128.7h0M516.4 95.9h0M514.8 103.7h0M514.2 105.1h0M514.4 128.7h0M514.2 128.7h0M517.4 88.9h0M517.6 76.1h0M518.4 93.3h0M517.4 129.1h0M518.0 94.5h0M517.4 127.9h0M515.0 77.8h0M517.4 128.6h0M516.2 86.7h0M514.7 88.5h0M518.3 124.1h0M515.6 128.3h0M514.1 90.7h0M513.4 128.6h0M517.0 92.9h0M514.6 94.3h0M517.0 128.7h0M516.8 120.1h0M515.2 128.3h0M518.0 121.4h0M518.4 115.5h0M516.5 124.0h0M518.1 128.1h0M518.3 129.2h0M517.6 97.6h0M514.1 129.1h0M515.4 128.5h0M518.5 128.8h0M513.9 129.2h0M514.1 85.9h0M518.3 99.5h0M514.1 113.0h0M517.3 104.5h0M514.0 96.3h0M516.5 73.6h0M515.9 89.3h0M516.3 114.1h0M513.2 83.2h0M514.6 127.9h0M517.3 98.0h0M513.4 79.6h0M518.0 82.3h0M513.9 128.7h0M513.8 104.4h0M518.2 92.3h0M515.5 102.9h0M515.2 90.9h0M513.9 86.3h0M517.7 100.2h0M513.7 128.7h0M513.3 117.1h0M516.5 111.6h0M514.6 96.8h0M517.1 113.5h0M517.3 108.0h0M517.2 117.4h0M518.4 84.7h0M518.0 129.0h0M513.7 116.5h0M517.9 97.9h0M516.6 118.8h0M514.9 123.7h0M518.1 86.7h0M518.1 128.6h0M517.1 124.6h0M514.1 109.8h0M517.5 87.3h0M513.5 106.8h0M513.8 128.2h0M518.0 105.0h0M518.0 128.7h0" stroke="#ff2c0c" stroke-opacity="0.5" stroke-width="2.2" stroke-linecap="round" fill="none"/>
<path d="M515.72 89.81V62.71M515.72 128.04V129.00" stroke="#ff2c0c" stroke-width="0.6"/>
<rect x="512.42" y="89.81" width="6.6" height="38.23" fill="#fff" fill-opacity="0.38" stroke="#ff2c0c" stroke-width="0.6"/>
<path d="M512.42 108.50h6.6" stroke="#ff2c0c" stroke-width="1.6"/>
<path d="M523.7 128.7h0M524.2 128.8h0M523.8 128.8h0M523.8 128.9h0M524.4 128.3h0M523.5 128.4h0" stroke="#2c52b0" stroke-opacity="0.5" stroke-width="2.2" stroke-linecap="round" fill="none"/>
<path d="M525.1 128.4h0M524.1 128.8h0M522.9 128.6h0M525.2 121.2h0M524.6 128.9h0M526.6 128.6h0" stroke="#2c52b0" stroke-opacity="0.5" stroke-width="2.2" stroke-linecap="round" fill="none"/>
<path d="M524.9 128.6h0M521.4 128.5h0M524.0 128.3h0M522.1 128.9h0M526.0 128.8h0M525.1 128.9h0" stroke="#2c52b0" stroke-opacity="0.5" stroke-width="2.2" stroke-linecap="round" fill="none"/>
<path d="M523.0 128.7h0M523.4 129.0h0M526.8 128.9h0M526.5 128.9h0M521.3 128.6h0M524.2 128.5h0" stroke="#2c52b0" stroke-opacity="0.5" stroke-width="2.2" stroke-linecap="round" fill="none"/>
<path d="M521.6 128.7h0M526.3 128.3h0M522.0 129.2h0M522.2 128.4h0M525.5 128.7h0M522.3 128.5h0" stroke="#2c52b0" stroke-opacity="0.5" stroke-width="2.2" stroke-linecap="round" fill="none"/>
<path d="M526.1 128.8h0M523.2 128.4h0M526.5 128.7h0M521.4 128.9h0M523.3 129.0h0" stroke="#2c52b0" stroke-opacity="0.5" stroke-width="2.2" stroke-linecap="round" fill="none"/>
<path d="M523.99 128.55V128.43M523.99 128.84V129.00" stroke="#2c52b0" stroke-width="0.6"/>
<rect x="520.69" y="128.55" width="6.6" height="0.29" fill="#fff" fill-opacity="0.38" stroke="#2c52b0" stroke-width="0.6"/>
<path d="M520.69 128.70h6.6" stroke="#2c52b0" stroke-width="1.6"/>
<path d="M533.3 76.3h0M531.6 91.1h0M532.6 90.5h0M532.8 80.4h0M530.2 93.3h0M531.4 127.1h0M531.8 99.5h0M531.8 49.8h0M532.2 116.9h0M532.8 94.7h0" stroke="#ff2c0c" stroke-opacity="0.5" stroke-width="2.2" stroke-linecap="round" fill="none"/>
<path d="M532.4 124.1h0M534.9 80.6h0M534.6 79.6h0M530.8 89.5h0M531.1 84.1h0M532.7 56.9h0M533.1 60.1h0M530.8 78.1h0M532.8 81.5h0M531.4 111.2h0" stroke="#ff2c0c" stroke-opacity="0.5" stroke-width="2.2" stroke-linecap="round" fill="none"/>
<path d="M533.8 64.0h0M534.0 87.6h0M532.8 63.0h0M534.5 87.6h0M532.5 103.1h0M533.9 117.8h0M530.3 75.7h0M530.0 85.2h0M533.5 72.2h0M532.3 89.6h0" stroke="#ff2c0c" stroke-opacity="0.5" stroke-width="2.2" stroke-linecap="round" fill="none"/>
<path d="M532.6 85.3h0M533.9 65.4h0M530.6 101.9h0M533.7 125.5h0M532.2 88.3h0M534.8 84.4h0M531.6 67.1h0M531.0 105.9h0M533.2 121.7h0" stroke="#ff2c0c" stroke-opacity="0.5" stroke-width="2.2" stroke-linecap="round" fill="none"/>
<path d="M535.1 82.7h0M533.2 81.1h0M532.6 67.8h0M530.6 96.2h0M531.1 86.4h0M534.1 83.3h0M531.4 79.2h0M532.0 47.3h0M530.1 91.6h0" stroke="#ff2c0c" stroke-opacity="0.5" stroke-width="2.2" stroke-linecap="round" fill="none"/>
<path d="M532.6 114.5h0M532.2 92.7h0M531.1 73.8h0M534.9 87.1h0M530.2 93.5h0M531.9 82.8h0M534.8 94.0h0M533.7 109.7h0M533.6 70.9h0" stroke="#ff2c0c" stroke-opacity="0.5" stroke-width="2.2" stroke-linecap="round" fill="none"/>
<path d="M532.26 78.29V57.00M532.26 95.01V117.97" stroke="#ff2c0c" stroke-width="0.6"/>
<rect x="528.96" y="78.29" width="6.6" height="16.72" fill="#fff" fill-opacity="0.38" stroke="#ff2c0c" stroke-width="0.6"/>
<path d="M528.96 86.29h6.6" stroke="#ff2c0c" stroke-width="1.6"/>
<path d="M540.8 128.5h0M539.0 125.0h0M541.1 128.7h0M542.8 129.1h0M542.4 129.0h0M541.6 112.4h0M541.0 129.0h0M540.5 128.4h0M537.9 128.4h0M539.0 122.9h0M537.9 128.6h0M539.3 122.7h0M538.0 128.8h0M542.8 128.7h0" stroke="#ff2c0c" stroke-opacity="0.5" stroke-width="2.2" stroke-linecap="round" fill="none"/>
<path d="M539.0 115.7h0M541.5 128.9h0M537.7 129.0h0M541.3 125.1h0M541.8 128.3h0M537.7 128.9h0M543.2 129.2h0M539.1 128.3h0M539.2 128.3h0M541.4 128.5h0M540.4 129.0h0M541.8 129.0h0M537.8 128.1h0M540.4 128.6h0" stroke="#ff2c0c" stroke-opacity="0.5" stroke-width="2.2" stroke-linecap="round" fill="none"/>
<path d="M541.7 128.4h0M539.7 128.8h0M540.9 128.9h0M540.1 128.7h0M540.1 128.7h0M542.6 128.5h0M541.0 128.9h0M539.1 129.1h0M538.4 129.2h0M543.3 128.5h0M539.9 127.7h0M538.1 128.6h0M540.3 129.0h0" stroke="#ff2c0c" stroke-opacity="0.5" stroke-width="2.2" stroke-linecap="round" fill="none"/>
<path d="M537.7 128.5h0M541.7 128.8h0M537.7 128.9h0M543.2 126.0h0M538.7 128.5h0M541.9 128.7h0M539.8 128.7h0M541.9 128.9h0M541.7 128.8h0M542.6 128.6h0M539.5 117.2h0M543.1 128.8h0M537.9 128.8h0" stroke="#ff2c0c" stroke-opacity="0.5" stroke-width="2.2" stroke-linecap="round" fill="none"/>
<path d="M539.0 129.1h0M539.7 129.0h0M538.4 128.5h0M542.5 128.9h0M543.1 128.6h0M542.5 128.8h0M542.8 124.7h0M541.1 128.6h0M539.3 121.8h0M539.6 121.2h0M539.7 128.4h0M540.8 128.4h0M542.7 128.8h0" stroke="#ff2c0c" stroke-opacity="0.5" stroke-width="2.2" stroke-linecap="round" fill="none"/>
<path d="M541.7 128.7h0M540.7 128.8h0M542.4 128.5h0M541.7 128.6h0M542.7 126.6h0M541.2 128.8h0M538.6 128.8h0M539.8 128.9h0M542.8 128.9h0M540.5 128.8h0M540.7 107.9h0M538.1 128.6h0M542.3 123.7h0" stroke="#ff2c0c" stroke-opacity="0.5" stroke-width="2.2" stroke-linecap="round" fill="none"/>
<path d="M540.54 128.46V128.33M540.54 128.82V129.00" stroke="#ff2c0c" stroke-width="0.6"/>
<rect x="537.24" y="128.46" width="6.6" height="0.36" fill="#fff" fill-opacity="0.38" stroke="#ff2c0c" stroke-width="0.6"/>
<path d="M537.24 128.64h6.6" stroke="#ff2c0c" stroke-width="1.6"/>
<path d="M69.42 18.0h0M73.12 18.0h0M76.82 18.0h0M122.76 18.0h0M137.45 18.0h0M141.15 18.0h0M176.97 18.0h0M180.67 18.0h0M184.37 18.0h0M195.36 18.0h0M199.06 18.0h0M210.06 18.0h0M213.76 18.0h0M217.46 18.0h0M226.60 18.0h0M230.30 18.0h0M234.00 18.0h0M245.00 18.0h0M248.70 18.0h0M309.33 18.0h0M313.03 18.0h0M316.73 18.0h0M325.88 18.0h0M329.58 18.0h0M333.28 18.0h0M342.42 18.0h0M346.12 18.0h0M349.82 18.0h0M408.61 18.0h0M412.31 18.0h0M416.01 18.0h0M425.15 18.0h0M428.85 18.0h0M432.55 18.0h0M466.52 18.0h0M470.22 18.0h0M473.92 18.0h0M491.34 18.0h0M495.04 18.0h0M498.74 18.0h0M516.15 18.0h0M519.85 18.0h0M523.55 18.0h0" stroke="#000" stroke-width="2.3" stroke-linecap="round"/>
<path d="M39.2 11.6H545.5" stroke="#a0a0a0" stroke-width="0.9" fill="none"/>
<path d="M545.5 11.6V134.4" stroke="#555" stroke-width="0.9" fill="none"/>
<path d="M39.2 11.6V134.4H545.5" stroke="#333" stroke-width="1" fill="none"/>
<path d="M36.60 129.00H39.2M36.60 100.38H39.2M36.60 71.75H39.2M36.60 43.12H39.2M36.60 14.50H39.2M44.16 134.4V137.00M52.44 134.4V137.00M60.71 134.4V137.00M68.98 134.4V137.00M77.26 134.4V137.00M85.53 134.4V137.00M93.80 134.4V137.00M102.07 134.4V137.00M110.35 134.4V137.00M118.62 134.4V137.00M126.89 134.4V137.00M135.17 134.4V137.00M143.44 134.4V137.00M151.71 134.4V137.00M159.98 134.4V137.00M168.26 134.4V137.00M176.53 134.4V137.00M184.80 134.4V137.00M193.08 134.4V137.00M201.35 134.4V137.00M209.62 134.4V137.00M217.89 134.4V137.00M226.17 134.4V137.00M234.44 134.4V137.00M242.71 134.4V137.00M250.99 134.4V137.00M259.26 134.4V137.00M267.53 134.4V137.00M275.80 134.4V137.00M284.08 134.4V137.00M292.35 134.4V137.00M300.62 134.4V137.00M308.90 134.4V137.00M317.17 134.4V137.00M325.44 134.4V137.00M333.71 134.4V137.00M341.99 134.4V137.00M350.26 134.4V137.00M358.53 134.4V137.00M366.81 134.4V137.00M375.08 134.4V137.00M383.35 134.4V137.00M391.62 134.4V137.00M399.90 134.4V137.00M408.17 134.4V137.00M416.44 134.4V137.00M424.72 134.4V137.00M432.99 134.4V137.00M441.26 134.4V137.00M449.53 134.4V137.00M457.81 134.4V137.00M466.08 134.4V137.00M474.35 134.4V137.00M482.63 134.4V137.00M490.90 134.4V137.00M499.17 134.4V137.00M507.44 134.4V137.00M515.72 134.4V137.00M523.99 134.4V137.00M532.26 134.4V137.00M540.54 134.4V137.00" stroke="#333" stroke-width="0.7"/>
<text x="35.60" y="131.20" font-size="6.3" fill="#606060" text-anchor="end">0.0</text>
<text x="35.60" y="102.58" font-size="6.3" fill="#606060" text-anchor="end">2.5</text>
<text x="35.60" y="73.95" font-size="6.3" fill="#606060" text-anchor="end">5.0</text>
<text x="35.60" y="45.33" font-size="6.3" fill="#606060" text-anchor="end">7.5</text>
<text x="35.60" y="16.70" font-size="6.3" fill="#606060" text-anchor="end">10.0</text>
<text transform="translate(46.06,138.2) rotate(-90)" font-size="5.45" fill="#000" stroke="#000" stroke-width="0.15" text-anchor="end">ACC.Tumor (n=79)</text>
<text transform="translate(54.34,138.2) rotate(-90)" font-size="5.45" fill="#000" stroke="#000" stroke-width="0.15" text-anchor="end">BLCA.Tumor (n=408)</text>
<text transform="translate(62.61,138.2) rotate(-90)" font-size="5.45" fill="#000" stroke="#000" stroke-width="0.15" text-anchor="end">BLCA.Normal (n=19)</text>
<text transform="translate(70.88,138.2) rotate(-90)" font-size="5.45" fill="#000" stroke="#000" stroke-width="0.15" text-anchor="end">BRCA.Tumor (n=1093)</text>
<text transform="translate(79.16,138.2) rotate(-90)" font-size="5.45" fill="#000" stroke="#000" stroke-width="0.15" text-anchor="end">BRCA.Normal (n=112)</text>
<text transform="translate(87.43,138.2) rotate(-90)" font-size="5.45" fill="#000" stroke="#000" stroke-width="0.15" text-anchor="end">BRCA−Basal.Tumor (n=190)</text>
<text transform="translate(95.70,138.2) rotate(-90)" font-size="5.45" fill="#000" stroke="#000" stroke-width="0.15" text-anchor="end">BRCA−Her2.Tumor (n=82)</text>
<text transform="translate(103.97,138.2) rotate(-90)" font-size="5.45" fill="#000" stroke="#000" stroke-width="0.15" text-anchor="end">BRCA−LumA.Tumor (n=564)</text>
<text transform="translate(112.25,138.2) rotate(-90)" font-size="5.45" fill="#000" stroke="#000" stroke-width="0.15" text-anchor="end">BRCA−LumB.Tumor (n=217)</text>
<text transform="translate(120.52,138.2) rotate(-90)" font-size="5.45" fill="#000" stroke="#000" stroke-width="0.15" text-anchor="end">CESC.Tumor (n=304)</text>
<text transform="translate(128.79,138.2) rotate(-90)" font-size="5.45" fill="#000" stroke="#000" stroke-width="0.15" text-anchor="end">CESC.Normal (n=3)</text>
<text transform="translate(137.07,138.2) rotate(-90)" font-size="5.45" fill="#000" stroke="#000" stroke-width="0.15" text-anchor="end">CHOL.Tumor (n=36)</text>
<text transform="translate(145.34,138.2) rotate(-90)" font-size="5.45" fill="#000" stroke="#000" stroke-width="0.15" text-anchor="end">CHOL.Normal (n=9)</text>
<text transform="translate(153.61,138.2) rotate(-90)" font-size="5.45" fill="#000" stroke="#000" stroke-width="0.15" text-anchor="end">COAD.Tumor (n=457)</text>
<text transform="translate(161.88,138.2) rotate(-90)" font-size="5.45" fill="#000" stroke="#000" stroke-width="0.15" text-anchor="end">COAD.Normal (n=41)</text>
<text transform="translate(170.16,138.2) rotate(-90)" font-size="5.45" fill="#000" stroke="#000" stroke-width="0.15" text-anchor="end">DLBC.Tumor (n=48)</text>
<text transform="translate(178.43,138.2) rotate(-90)" font-size="5.45" fill="#000" stroke="#000" stroke-width="0.15" text-anchor="end">ESCA.Tumor (n=184)</text>
<text transform="translate(186.70,138.2) rotate(-90)" font-size="5.45" fill="#000" stroke="#000" stroke-width="0.15" text-anchor="end">ESCA.Normal (n=11)</text>
<text transform="translate(194.98,138.2) rotate(-90)" font-size="5.45" fill="#000" stroke="#000" stroke-width="0.15" text-anchor="end">GBM.Tumor (n=153)</text>
<text transform="translate(203.25,138.2) rotate(-90)" font-size="5.45" fill="#000" stroke="#000" stroke-width="0.15" text-anchor="end">GBM.Normal (n=5)</text>
<text transform="translate(211.52,138.2) rotate(-90)" font-size="5.45" fill="#000" stroke="#000" stroke-width="0.15" text-anchor="end">HNSC.Tumor (n=520)</text>
<text transform="translate(219.79,138.2) rotate(-90)" font-size="5.45" fill="#000" stroke="#000" stroke-width="0.15" text-anchor="end">HNSC.Normal (n=44)</text>
<text transform="translate(228.07,138.2) rotate(-90)" font-size="5.45" fill="#000" stroke="#000" stroke-width="0.15" text-anchor="end">HNSC−HPV+.Tumor (n=97)</text>
<text transform="translate(236.34,138.2) rotate(-90)" font-size="5.45" fill="#000" stroke="#000" stroke-width="0.15" text-anchor="end">HNSC−HPV−.Tumor (n=421)</text>
<text transform="translate(244.61,138.2) rotate(-90)" font-size="5.45" fill="#000" stroke="#000" stroke-width="0.15" text-anchor="end">KICH.Tumor (n=66)</text>
<text transform="translate(252.89,138.2) rotate(-90)" font-size="5.45" fill="#000" stroke="#000" stroke-width="0.15" text-anchor="end">KICH.Normal (n=25)</text>
<text transform="translate(261.16,138.2) rotate(-90)" font-size="5.45" fill="#000" stroke="#000" stroke-width="0.15" text-anchor="end">KIRC.Tumor (n=533)</text>
<text transform="translate(269.43,138.2) rotate(-90)" font-size="5.45" fill="#000" stroke="#000" stroke-width="0.15" text-anchor="end">KIRC.Normal (n=72)</text>
<text transform="translate(277.70,138.2) rotate(-90)" font-size="5.45" fill="#000" stroke="#000" stroke-width="0.15" text-anchor="end">KIRP.Tumor (n=290)</text>
<text transform="translate(285.98,138.2) rotate(-90)" font-size="5.45" fill="#000" stroke="#000" stroke-width="0.15" text-anchor="end">KIRP.Normal (n=32)</text>
<text transform="translate(294.25,138.2) rotate(-90)" font-size="5.45" fill="#000" stroke="#000" stroke-width="0.15" text-anchor="end">LAML.Tumor (n=173)</text>
<text transform="translate(302.52,138.2) rotate(-90)" font-size="5.45" fill="#000" stroke="#000" stroke-width="0.15" text-anchor="end">LGG.Tumor (n=516)</text>
<text transform="translate(310.80,138.2) rotate(-90)" font-size="5.45" fill="#000" stroke="#000" stroke-width="0.15" text-anchor="end">LIHC.Tumor (n=371)</text>
<text transform="translate(319.07,138.2) rotate(-90)" font-size="5.45" fill="#000" stroke="#000" stroke-width="0.15" text-anchor="end">LIHC.Normal (n=50)</text>
<text transform="translate(327.34,138.2) rotate(-90)" font-size="5.45" fill="#000" stroke="#000" stroke-width="0.15" text-anchor="end">LUAD.Tumor (n=515)</text>
<text transform="translate(335.61,138.2) rotate(-90)" font-size="5.45" fill="#000" stroke="#000" stroke-width="0.15" text-anchor="end">LUAD.Normal (n=59)</text>
<text transform="translate(343.89,138.2) rotate(-90)" font-size="5.45" fill="#000" stroke="#000" stroke-width="0.15" text-anchor="end">LUSC.Tumor (n=501)</text>
<text transform="translate(352.16,138.2) rotate(-90)" font-size="5.45" fill="#000" stroke="#000" stroke-width="0.15" text-anchor="end">LUSC.Normal (n=51)</text>
<text transform="translate(360.43,138.2) rotate(-90)" font-size="5.45" fill="#000" stroke="#000" stroke-width="0.15" text-anchor="end">MESO.Tumor (n=87)</text>
<text transform="translate(368.71,138.2) rotate(-90)" font-size="5.45" fill="#000" stroke="#000" stroke-width="0.15" text-anchor="end">OV.Tumor (n=303)</text>
<text transform="translate(376.98,138.2) rotate(-90)" font-size="5.45" fill="#000" stroke="#000" stroke-width="0.15" text-anchor="end">PAAD.Tumor (n=178)</text>
<text transform="translate(385.25,138.2) rotate(-90)" font-size="5.45" fill="#000" stroke="#000" stroke-width="0.15" text-anchor="end">PAAD.Normal (n=4)</text>
<text transform="translate(393.52,138.2) rotate(-90)" font-size="5.45" fill="#000" stroke="#000" stroke-width="0.15" text-anchor="end">PCPG.Tumor (n=179)</text>
<text transform="translate(401.80,138.2) rotate(-90)" font-size="5.45" fill="#000" stroke="#000" stroke-width="0.15" text-anchor="end">PCPG.Normal (n=3)</text>
<text transform="translate(410.07,138.2) rotate(-90)" font-size="5.45" fill="#000" stroke="#000" stroke-width="0.15" text-anchor="end">PRAD.Tumor (n=497)</text>
<text transform="translate(418.34,138.2) rotate(-90)" font-size="5.45" fill="#000" stroke="#000" stroke-width="0.15" text-anchor="end">PRAD.Normal (n=52)</text>
<text transform="translate(426.62,138.2) rotate(-90)" font-size="5.45" fill="#000" stroke="#000" stroke-width="0.15" text-anchor="end">READ.Tumor (n=166)</text>
<text transform="translate(434.89,138.2) rotate(-90)" font-size="5.45" fill="#000" stroke="#000" stroke-width="0.15" text-anchor="end">READ.Normal (n=10)</text>
<text transform="translate(443.16,138.2) rotate(-90)" font-size="5.45" fill="#000" stroke="#000" stroke-width="0.15" text-anchor="end">SARC.Tumor (n=259)</text>
<text transform="translate(451.43,138.2) rotate(-90)" font-size="5.45" fill="#000" stroke="#000" stroke-width="0.15" text-anchor="end">SKCM.Tumor (n=103)</text>
<text transform="translate(459.71,138.2) rotate(-90)" font-size="5.45" fill="#000" stroke="#000" stroke-width="0.15" text-anchor="end">SKCM.Metastasis (n=368)</text>
<text transform="translate(467.98,138.2) rotate(-90)" font-size="5.45" fill="#000" stroke="#000" stroke-width="0.15" text-anchor="end">STAD.Tumor (n=415)</text>
<text transform="translate(476.25,138.2) rotate(-90)" font-size="5.45" fill="#000" stroke="#000" stroke-width="0.15" text-anchor="end">STAD.Normal (n=35)</text>
<text transform="translate(484.53,138.2) rotate(-90)" font-size="5.45" fill="#000" stroke="#000" stroke-width="0.15" text-anchor="end">TGCT.Tumor (n=150)</text>
<text transform="translate(492.80,138.2) rotate(-90)" font-size="5.45" fill="#000" stroke="#000" stroke-width="0.15" text-anchor="end">THCA.Tumor (n=501)</text>
<text transform="translate(501.07,138.2) rotate(-90)" font-size="5.45" fill="#000" stroke="#000" stroke-width="0.15" text-anchor="end">THCA.Normal (n=59)</text>
<text transform="translate(509.34,138.2) rotate(-90)" font-size="5.45" fill="#000" stroke="#000" stroke-width="0.15" text-anchor="end">THYM.Tumor (n=120)</text>
<text transform="translate(517.62,138.2) rotate(-90)" font-size="5.45" fill="#000" stroke="#000" stroke-width="0.15" text-anchor="end">UCEC.Tumor (n=545)</text>
<text transform="translate(525.89,138.2) rotate(-90)" font-size="5.45" fill="#000" stroke="#000" stroke-width="0.15" text-anchor="end">UCEC.Normal (n=35)</text>
<text transform="translate(534.16,138.2) rotate(-90)" font-size="5.45" fill="#000" stroke="#000" stroke-width="0.15" text-anchor="end">UCS.Tumor (n=57)</text>
<text transform="translate(542.44,138.2) rotate(-90)" font-size="5.45" fill="#000" stroke="#000" stroke-width="0.15" text-anchor="end">UVM.Tumor (n=80)</text>
<text transform="translate(18.6,73.2) rotate(-90)" font-size="7.1" letter-spacing="-0.26" fill="#111" stroke="#111" stroke-width="0.14" text-anchor="middle">HOXB13 Expression Level (log2 TPM)</text>
<text x="3.7" y="12.7" font-size="13.2" font-weight="bold" fill="#000">A</text>
<text x="4.6" y="212.2" font-size="12.2" font-weight="bold" fill="#000">B</text>
<path d="M30.8 212.9V359.7" stroke="#000" stroke-width="1.3"/>
<text transform="translate(16.4,274.4) rotate(-90)" font-size="10.4" letter-spacing="-0.5" font-weight="bold" fill="#000" text-anchor="middle">HOXB13</text>
<rect x="52.2" y="215.6" width="146.30" height="140.00" fill="#fff"/>
<path d="M52.2 345.70H198.5M52.2 333.19H198.5M52.2 320.68H198.5M52.2 308.17H198.5M52.2 295.66H198.5M52.2 283.15H198.5M52.2 270.64H198.5M52.2 258.13H198.5M52.2 245.62H198.5M52.2 233.11H198.5M52.2 220.60H198.5M92.0 215.6V355.6M159.0 215.6V355.6" stroke="#ebebeb" stroke-width="0.8" fill="none"/>
<path d="M87.3 295.8h0M102.4 340.9h0M86.3 340.9h0M85.7 345.7h0M91.7 345.7h0M79.3 345.6h0M91.6 274.4h0M83.5 323.5h0M81.3 341.5h0M85.1 343.3h0M93.9 326.6h0M84.9 345.2h0M86.9 345.2h0M85.6 313.2h0M91.1 342.3h0M99.1 344.8h0M99.8 345.6h0M87.6 343.5h0M91.5 345.5h0M92.7 341.2h0M93.9 345.5h0M86.4 340.6h0M82.7 344.0h0M86.6 344.1h0M79.4 345.0h0M85.9 320.1h0M92.7 344.0h0M87.6 342.1h0M98.1 345.2h0M101.8 308.1h0M84.6 341.9h0M95.2 318.5h0M84.3 341.7h0M81.4 339.2h0M83.8 300.7h0M92.0 303.2h0M99.1 332.1h0M79.5 342.0h0M91.9 345.5h0M101.9 343.7h0M92.7 342.1h0M92.0 324.4h0M81.6 343.4h0M80.9 344.8h0M85.2 345.7h0M96.8 331.7h0M92.2 345.6h0M80.1 343.3h0M90.9 345.1h0M105.7 344.4h0M81.2 338.8h0M83.4 342.0h0M92.3 257.1h0M91.9 330.2h0M98.8 332.6h0M83.1 342.9h0M99.6 328.5h0M82.6 343.8h0M91.3 299.4h0M92.7 303.6h0M104.0 345.7h0M95.1 308.2h0M102.6 340.9h0M85.3 322.1h0M89.7 338.0h0M85.1 345.6h0M104.3 345.5h0M98.8 344.3h0" stroke="#33a514" stroke-opacity="0.5" stroke-width="1.9" stroke-linecap="round" fill="none"/>
<path d="M96.8 345.0h0M86.7 343.6h0M95.6 344.6h0M79.2 344.3h0M85.7 343.4h0M95.0 305.9h0M99.1 345.0h0M92.7 344.0h0M95.5 315.5h0M104.9 345.7h0M102.9 343.8h0M102.8 343.6h0M88.3 277.6h0M89.9 345.5h0M102.1 341.5h0M96.3 341.6h0M86.6 341.6h0M91.6 327.3h0M92.8 345.4h0M87.2 323.7h0M78.0 341.6h0M89.6 340.0h0M99.0 341.3h0M89.7 344.3h0M104.5 344.4h0M95.9 344.8h0M96.4 308.7h0M89.7 342.1h0M101.4 345.6h0M81.2 322.5h0M94.9 345.0h0M96.7 343.8h0M101.9 342.6h0M92.3 341.5h0M84.2 305.3h0M87.6 345.7h0M82.3 344.9h0M87.8 345.3h0M85.4 323.8h0M92.8 345.5h0M88.0 342.6h0M81.4 342.6h0M79.7 225.1h0M88.2 331.8h0M82.4 341.8h0M104.4 345.0h0M84.8 345.7h0M98.9 345.6h0M99.9 344.5h0M84.6 301.6h0M92.0 265.6h0M88.9 344.7h0M87.9 331.7h0M80.5 345.1h0M102.5 345.4h0M101.3 341.0h0M80.5 341.8h0M98.0 343.3h0M98.9 345.7h0M86.3 345.6h0M89.2 341.6h0M81.6 345.5h0M91.8 305.7h0M95.4 344.3h0M92.0 280.1h0M82.4 344.7h0M100.4 345.4h0M101.9 345.1h0" stroke="#33a514" stroke-opacity="0.5" stroke-width="1.9" stroke-linecap="round" fill="none"/>
<path d="M91.7 343.0h0M102.3 333.1h0M84.5 345.4h0M93.9 343.0h0M85.4 345.6h0M99.9 345.4h0M105.7 341.8h0M92.5 334.1h0M85.8 324.1h0M83.5 344.0h0M97.6 341.3h0M92.0 345.3h0M94.9 342.7h0M79.6 345.7h0M83.8 340.8h0M102.8 338.1h0M84.0 342.8h0M88.2 322.1h0M81.1 344.2h0M84.5 335.9h0M88.3 345.4h0M98.7 332.1h0M79.5 345.7h0M84.0 345.7h0M105.3 341.9h0M89.5 345.7h0M78.9 341.5h0M103.8 345.5h0M86.2 300.0h0M90.1 343.1h0M101.8 344.7h0M86.0 304.1h0M98.4 335.4h0M85.6 344.2h0M95.4 298.0h0M82.9 333.7h0M101.5 345.7h0M80.8 344.1h0M94.4 330.2h0M84.9 343.4h0M99.2 327.6h0M102.0 343.8h0M84.7 345.7h0M91.1 345.1h0M82.7 327.0h0M99.4 340.9h0M101.2 345.4h0M94.3 345.4h0M102.6 257.1h0M89.1 345.4h0M79.1 345.2h0M91.7 320.7h0M92.2 325.7h0M96.9 330.2h0M84.7 343.9h0M102.0 280.1h0M91.7 303.5h0M83.6 345.4h0M101.5 340.7h0M80.1 345.7h0M95.1 340.9h0M100.8 345.2h0M86.4 341.6h0M98.2 341.7h0M82.5 345.2h0M91.0 306.6h0M83.4 342.9h0" stroke="#33a514" stroke-opacity="0.5" stroke-width="1.9" stroke-linecap="round" fill="none"/>
<path d="M148.7 340.5h0M147.5 288.9h0M163.2 335.6h0M155.7 345.5h0M154.6 332.2h0M155.6 345.4h0M166.3 345.5h0M168.2 344.7h0M150.0 341.8h0M167.8 328.2h0M154.3 340.5h0M161.2 344.9h0M148.2 344.8h0M150.3 345.7h0M159.3 298.2h0M146.5 308.7h0M159.2 345.6h0M161.8 339.7h0M156.6 344.2h0M163.0 333.9h0M167.4 339.5h0M150.5 344.1h0M156.4 341.3h0M158.0 335.8h0M148.5 342.0h0M153.3 344.9h0M159.0 293.2h0M152.0 313.9h0M170.5 326.4h0M168.3 344.4h0M171.0 290.7h0M163.0 315.4h0M167.9 340.3h0M152.9 345.7h0M165.6 345.0h0M156.7 341.6h0M171.0 345.7h0M154.1 345.6h0M152.6 332.6h0M162.6 341.9h0M160.5 254.9h0M150.0 345.3h0M154.5 345.0h0M164.8 344.3h0M159.5 250.9h0M152.8 336.3h0M153.2 344.1h0" stroke="#d6133f" stroke-opacity="0.5" stroke-width="1.9" stroke-linecap="round" fill="none"/>
<path d="M145.5 310.9h0M158.8 308.2h0M162.7 345.0h0M157.8 345.2h0M158.5 340.6h0M162.0 332.0h0M168.5 325.4h0M166.9 342.6h0M162.2 337.5h0M161.1 345.6h0M171.8 251.1h0M147.3 345.3h0M154.9 344.8h0M159.0 323.2h0M154.2 337.4h0M150.1 344.7h0M164.7 345.5h0M169.8 344.2h0M165.9 345.3h0M169.9 344.5h0M151.6 320.7h0M153.1 344.0h0M158.8 345.1h0M153.6 340.8h0M147.7 345.7h0M170.7 341.8h0M165.4 325.7h0M170.0 296.7h0M152.6 340.2h0M160.5 325.7h0M170.2 344.3h0M156.3 345.6h0M160.8 342.0h0M154.2 343.9h0M168.3 344.1h0M162.0 344.2h0M159.5 258.6h0M147.3 344.3h0M151.4 344.7h0M165.2 341.8h0M152.9 342.1h0M150.6 341.1h0M159.2 332.5h0M160.6 342.4h0M161.7 334.8h0M163.0 345.7h0" stroke="#d6133f" stroke-opacity="0.5" stroke-width="1.9" stroke-linecap="round" fill="none"/>
<path d="M58.7 345.70H125.3" stroke="#33a514" stroke-width="1.5"/>
<path d="M78.0 344.80H106.0" stroke="#33a514" stroke-width="1.2" stroke-opacity="0.7"/>
<path d="M92.0 345.70V225.10" stroke="#33a514" stroke-width="1.3"/>
<path d="M92.0 345.70V320.68" stroke="#33a514" stroke-width="2.0" stroke-opacity="0.8"/>
<path d="M145.0 345.70L154.0 347.90L159.0 349.30L164.0 347.90L173.0 345.70C168.0 343.70 167.0 341.70 161.0 340.20L159.6 333.70M158.4 333.70L157.0 340.20C151.0 341.70 150.0 343.70 145.0 345.70" stroke="#d6133f" stroke-width="0.7" fill="none"/>
<path d="M145.0 345.70H173.0" stroke="#d6133f" stroke-width="1.3"/>
<path d="M159.0 345.70V220.85" stroke="#d6133f" stroke-width="1.1"/>
<rect x="151.8" y="341.20" width="14.4" height="4.50" fill="#fff" fill-opacity="0.55" stroke="#d6133f" stroke-width="0.8"/>
<path d="M151.8 344.50h14.4" stroke="#d6133f" stroke-width="1.1"/>
<rect x="52.2" y="215.6" width="146.30" height="140.00" fill="none" stroke="#7a7a7a" stroke-width="1.1"/>
<path d="M49.60 345.70H52.2M49.60 320.68H52.2M49.60 295.66H52.2M49.60 270.64H52.2M49.60 245.62H52.2M49.60 220.60H52.2M92.0 355.6V358.00M159.0 355.6V358.00" stroke="#333" stroke-width="0.8"/>
<text x="48.60" y="348.05" font-size="6.6" fill="#666" text-anchor="end">0</text>
<text x="48.60" y="323.03" font-size="6.6" fill="#666" text-anchor="end">1</text>
<text x="48.60" y="298.01" font-size="6.6" fill="#666" text-anchor="end">2</text>
<text x="48.60" y="272.99" font-size="6.6" fill="#666" text-anchor="end">3</text>
<text x="48.60" y="247.97" font-size="6.6" fill="#666" text-anchor="end">4</text>
<text x="48.60" y="222.95" font-size="6.6" fill="#666" text-anchor="end">5</text>
<text x="92.0" y="364.00" font-size="6.4" fill="#4d4d4d" text-anchor="middle">WT TP53</text>
<text x="159.0" y="364.00" font-size="6.4" fill="#4d4d4d" text-anchor="middle">Mutated TP53</text>
<text x="126.5" y="231.8" font-size="7.5" font-weight="bold" font-style="italic" fill="#000" text-anchor="middle">P=0.0029</text>
<rect x="225.8" y="215.3" width="143.20" height="140.40" fill="#fff"/>
<path d="M225.8 344.60H369.0M225.8 331.88H369.0M225.8 319.16H369.0M225.8 306.44H369.0M225.8 293.72H369.0M225.8 281.00H369.0M225.8 268.28H369.0M225.8 255.56H369.0M225.8 242.84H369.0M225.8 230.12H369.0M225.8 217.40H369.0M264.8 215.3V355.7M330.0 215.3V355.7" stroke="#ebebeb" stroke-width="0.8" fill="none"/>
<path d="M260.7 340.0h0M272.0 329.3h0M264.9 332.6h0M253.3 339.7h0M261.2 341.7h0M256.6 298.8h0M252.0 342.6h0M272.6 305.0h0M265.9 343.0h0M268.8 341.3h0M255.1 341.7h0M274.6 344.0h0M257.2 325.1h0M266.3 343.6h0M253.1 344.1h0M268.2 344.2h0M261.0 323.6h0M263.7 341.5h0M261.5 302.4h0M264.0 328.7h0M276.4 344.3h0M258.9 297.4h0M255.4 332.5h0M274.2 335.9h0M269.2 340.9h0M267.9 340.1h0M259.4 340.6h0M261.9 275.7h0M263.5 340.6h0M262.6 343.6h0M254.4 321.4h0M271.4 320.6h0M264.8 275.9h0M266.1 342.8h0M266.0 320.6h0M270.9 342.9h0M253.8 338.5h0M268.9 341.3h0M261.7 342.1h0M277.7 248.9h0M267.4 344.3h0M270.4 300.0h0M264.8 326.1h0M277.9 344.3h0M262.5 343.9h0M275.6 340.8h0M260.8 340.2h0M268.4 329.4h0M261.4 222.5h0M265.2 320.5h0M252.7 307.5h0M262.4 324.8h0M276.4 340.2h0M262.8 321.1h0M259.0 344.4h0M266.8 344.6h0M278.3 344.5h0M257.4 328.6h0M265.3 305.6h0M273.6 344.2h0M264.6 324.2h0M257.4 331.2h0M254.7 342.7h0M261.7 344.5h0M275.9 322.7h0M267.4 344.4h0M276.9 342.0h0M260.7 333.0h0M266.4 343.5h0M264.2 344.5h0" stroke="#33a514" stroke-opacity="0.5" stroke-width="1.9" stroke-linecap="round" fill="none"/>
<path d="M263.9 341.2h0M271.6 328.5h0M268.3 322.7h0M269.0 340.8h0M277.9 344.5h0M264.1 343.5h0M266.2 302.9h0M265.0 341.7h0M258.8 339.5h0M275.6 344.5h0M276.7 342.4h0M267.1 344.5h0M253.8 341.1h0M258.9 323.0h0M251.0 341.8h0M273.2 344.5h0M259.0 341.8h0M251.7 344.1h0M252.7 222.5h0M252.2 342.2h0M257.0 343.7h0M266.0 338.4h0M260.5 335.8h0M273.0 339.7h0M265.0 319.2h0M262.3 341.0h0M264.2 344.6h0M256.9 343.8h0M271.4 316.7h0M256.6 340.0h0M270.4 333.1h0M274.0 332.4h0M274.1 342.9h0M255.8 344.3h0M260.9 343.8h0M257.6 302.4h0M257.4 343.2h0M277.7 342.9h0M254.4 342.2h0M275.6 324.0h0M261.7 341.9h0M278.7 340.4h0M264.8 253.0h0M255.6 321.6h0M265.2 320.0h0M278.8 343.6h0M271.3 343.9h0M273.5 339.6h0M262.3 342.8h0M276.1 342.8h0M265.0 340.1h0M266.5 343.8h0M261.1 344.5h0M257.0 330.6h0M254.5 344.1h0M270.1 326.9h0M253.8 341.0h0M263.7 342.1h0M273.7 343.5h0M256.8 303.3h0M256.1 344.6h0M271.5 343.2h0M272.9 344.1h0M271.5 342.3h0M267.5 341.5h0M267.2 340.6h0M271.2 327.1h0M253.0 341.8h0M256.8 344.6h0" stroke="#33a514" stroke-opacity="0.5" stroke-width="1.9" stroke-linecap="round" fill="none"/>
<path d="M252.5 343.8h0M268.8 330.6h0M260.6 341.5h0M271.1 341.7h0M265.0 306.4h0M272.2 323.1h0M255.1 341.7h0M270.0 311.5h0M271.4 344.2h0M264.6 258.1h0M262.8 328.9h0M275.6 290.9h0M267.3 339.5h0M257.3 295.4h0M277.7 343.4h0M258.2 329.9h0M272.7 342.1h0M262.4 344.6h0M253.5 335.6h0M259.7 306.3h0M261.9 344.5h0M255.9 328.6h0M264.8 291.2h0M267.9 341.9h0M261.2 344.3h0M273.6 341.2h0M255.7 342.7h0M275.6 255.1h0M258.8 333.5h0M258.0 317.9h0M278.6 344.4h0M271.7 320.8h0M272.3 322.0h0M271.4 339.5h0M258.1 343.0h0M264.7 322.1h0M261.0 340.1h0M276.6 341.3h0M267.5 342.9h0M261.5 344.0h0M261.4 341.8h0M265.0 263.2h0M259.7 344.5h0M251.7 339.8h0M271.4 344.5h0M255.8 344.3h0M262.8 338.2h0M260.1 344.2h0M277.0 344.0h0M267.6 344.3h0M253.5 344.3h0M277.9 343.8h0M263.7 344.3h0M274.6 278.2h0M256.9 339.7h0M264.6 341.0h0M274.8 344.1h0M262.1 344.6h0M262.9 342.8h0M258.4 343.2h0M270.6 344.0h0M265.2 344.2h0M278.0 344.0h0M266.6 340.1h0M259.4 340.6h0M269.7 318.3h0M259.2 341.4h0M270.7 297.1h0M252.3 342.8h0" stroke="#33a514" stroke-opacity="0.5" stroke-width="1.9" stroke-linecap="round" fill="none"/>
<path d="M328.0 344.6h0M329.7 343.0h0M334.2 343.5h0M320.7 344.0h0M319.4 288.6h0M326.3 339.1h0M331.2 342.1h0M318.7 342.9h0M332.1 344.5h0M322.9 344.1h0M326.6 339.2h0M333.4 342.2h0M325.5 330.2h0M341.0 295.5h0M327.8 338.0h0M332.2 334.7h0M321.9 341.3h0M329.5 341.1h0M341.3 341.9h0M331.4 339.3h0M331.4 342.3h0M326.4 331.1h0M333.7 341.1h0M341.5 341.1h0M333.3 344.5h0M338.0 344.5h0M332.9 344.1h0M327.1 338.1h0M339.4 340.6h0M336.1 332.9h0M334.2 344.0h0M318.7 339.4h0M330.3 342.0h0M320.8 342.3h0M337.7 344.0h0M328.4 344.4h0M333.4 344.5h0M341.8 343.4h0M334.5 343.1h0M322.7 344.2h0M334.3 324.5h0M325.9 344.1h0" stroke="#d6133f" stroke-opacity="0.5" stroke-width="1.9" stroke-linecap="round" fill="none"/>
<path d="M332.4 344.5h0M332.2 342.1h0M332.8 344.5h0M328.1 344.1h0M321.2 337.0h0M329.8 286.1h0M328.2 341.8h0M324.8 344.5h0M337.0 326.8h0M327.8 344.0h0M325.7 343.6h0M326.8 342.4h0M340.2 339.1h0M331.4 343.2h0M321.8 332.2h0M339.9 343.5h0M339.3 341.0h0M330.0 321.7h0M327.2 334.9h0M337.9 339.0h0M328.7 340.2h0M323.9 319.9h0M333.8 336.1h0M331.9 340.8h0M321.2 344.6h0M320.3 339.9h0M329.5 342.8h0M332.0 343.3h0M338.9 329.8h0M330.2 314.1h0M342.3 289.1h0M333.1 343.1h0M326.5 344.2h0M334.1 336.3h0M330.2 342.4h0M321.0 335.8h0M328.1 326.8h0M319.2 344.6h0M332.3 343.9h0M333.9 341.4h0M322.0 340.7h0" stroke="#d6133f" stroke-opacity="0.5" stroke-width="1.9" stroke-linecap="round" fill="none"/>
<path d="M232.6 344.60H297.0" stroke="#33a514" stroke-width="1.5"/>
<path d="M250.8 343.70H278.8" stroke="#33a514" stroke-width="1.2" stroke-opacity="0.7"/>
<path d="M264.8 344.60V222.49" stroke="#33a514" stroke-width="1.3"/>
<path d="M264.8 344.60V319.16" stroke="#33a514" stroke-width="2.0" stroke-opacity="0.8"/>
<path d="M317.5 344.60L325.0 346.80L330.0 348.20L335.0 346.80L342.5 344.60C339.0 342.60 338.0 340.60 332.0 339.10L330.6 332.60M329.4 332.60L328.0 339.10C322.0 340.60 321.0 342.60 317.5 344.60" stroke="#d6133f" stroke-width="0.7" fill="none"/>
<path d="M317.5 344.60H342.5" stroke="#d6133f" stroke-width="1.3"/>
<path d="M330.0 344.60V283.54" stroke="#d6133f" stroke-width="1.1"/>
<rect x="322.8" y="340.10" width="14.4" height="4.50" fill="#fff" fill-opacity="0.55" stroke="#d6133f" stroke-width="0.8"/>
<path d="M322.8 343.40h14.4" stroke="#d6133f" stroke-width="1.1"/>
<rect x="225.8" y="215.3" width="143.20" height="140.40" fill="none" stroke="#7a7a7a" stroke-width="1.1"/>
<path d="M223.20 344.60H225.8M223.20 319.16H225.8M223.20 293.72H225.8M223.20 268.28H225.8M223.20 242.84H225.8M223.20 217.40H225.8M264.8 355.7V358.10M330.0 355.7V358.10" stroke="#333" stroke-width="0.8"/>
<text x="222.20" y="346.95" font-size="6.6" fill="#666" text-anchor="end">0</text>
<text x="222.20" y="321.51" font-size="6.6" fill="#666" text-anchor="end">1</text>
<text x="222.20" y="296.07" font-size="6.6" fill="#666" text-anchor="end">2</text>
<text x="222.20" y="270.63" font-size="6.6" fill="#666" text-anchor="end">3</text>
<text x="222.20" y="245.19" font-size="6.6" fill="#666" text-anchor="end">4</text>
<text x="222.20" y="219.75" font-size="6.6" fill="#666" text-anchor="end">5</text>
<text x="264.8" y="364.10" font-size="6.4" fill="#4d4d4d" text-anchor="middle">WT LRP1B</text>
<text x="330.0" y="364.10" font-size="6.4" fill="#4d4d4d" text-anchor="middle">Mutated LRP1B</text>
<text x="298.4" y="231.8" font-size="7.5" font-weight="bold" font-style="italic" fill="#000" text-anchor="middle">P=0.0039</text>
<rect x="397.3" y="214.8" width="146.30" height="142.30" fill="#fff"/>
<path d="M397.3 347.40H543.6M397.3 334.38H543.6M397.3 321.36H543.6M397.3 308.34H543.6M397.3 295.32H543.6M397.3 282.30H543.6M397.3 269.28H543.6M397.3 256.26H543.6M397.3 243.24H543.6M397.3 230.22H543.6M397.3 217.20H543.6M436.8 214.8V357.1M502.8 214.8V357.1" stroke="#ebebeb" stroke-width="0.8" fill="none"/>
<path d="M429.3 300.5h0M447.6 343.4h0M440.0 308.3h0M434.9 346.3h0M438.0 337.4h0M427.9 343.5h0M427.8 346.7h0M446.8 331.9h0M427.0 337.7h0M441.9 346.3h0M428.5 346.7h0M425.6 342.9h0M423.3 345.0h0M445.3 343.1h0M441.2 344.2h0M447.7 338.6h0M427.1 343.1h0M446.2 279.7h0M439.3 345.8h0M436.4 320.9h0M429.8 342.9h0M443.2 347.3h0M430.0 342.8h0M426.9 342.8h0M427.0 347.2h0M432.4 331.1h0M435.2 330.1h0M446.1 331.5h0M432.1 303.3h0M429.5 346.4h0M438.9 342.6h0M434.6 346.4h0M428.9 324.0h0M430.1 318.3h0M437.1 333.2h0M442.8 347.0h0M436.8 321.4h0M446.6 347.3h0M447.4 345.2h0M437.3 344.8h0M440.7 311.0h0M437.9 253.1h0M439.0 343.6h0M440.4 346.7h0M434.0 314.1h0M445.0 346.1h0M437.2 342.6h0M442.7 346.4h0M443.5 346.5h0M441.6 346.6h0M442.6 345.3h0M444.1 347.2h0M425.2 347.4h0M442.0 347.1h0M448.1 296.6h0M429.7 345.2h0M434.0 344.6h0M426.9 328.0h0M427.7 335.7h0M442.9 347.0h0M447.5 346.7h0M443.4 347.2h0M423.8 347.2h0M434.6 332.6h0M435.0 344.9h0M437.0 297.9h0M432.7 347.1h0M441.4 345.6h0M439.2 346.0h0" stroke="#33a514" stroke-opacity="0.5" stroke-width="1.9" stroke-linecap="round" fill="none"/>
<path d="M439.2 346.5h0M433.5 297.0h0M423.9 309.1h0M433.0 346.6h0M436.0 347.1h0M437.5 344.0h0M440.5 346.5h0M432.5 347.2h0M447.0 346.8h0M446.3 347.1h0M436.8 264.1h0M445.5 346.6h0M426.4 344.9h0M423.0 344.7h0M444.3 346.0h0M440.2 327.8h0M424.1 342.4h0M427.2 343.3h0M438.5 302.7h0M444.5 347.1h0M430.6 307.7h0M425.4 347.4h0M427.2 347.1h0M442.2 345.0h0M426.0 289.3h0M440.1 346.6h0M434.1 344.5h0M433.3 347.3h0M435.9 335.5h0M438.2 347.4h0M435.0 345.3h0M447.1 346.0h0M435.3 347.2h0M422.9 346.5h0M439.7 344.5h0M437.0 326.6h0M427.5 345.8h0M430.3 327.7h0M443.5 343.1h0M425.2 336.9h0M424.6 347.4h0M450.2 346.7h0M441.4 319.0h0M437.7 335.5h0M434.7 346.4h0M439.1 341.2h0M441.1 344.2h0M446.6 337.4h0M426.2 346.9h0M438.3 346.8h0M431.9 346.3h0M438.7 331.5h0M426.6 344.4h0M431.4 295.7h0M444.6 296.9h0M439.7 346.0h0M424.4 222.4h0M430.8 336.4h0M446.3 347.1h0M438.3 295.5h0M424.9 337.0h0M436.1 346.9h0M449.5 346.1h0M433.9 323.7h0M433.4 347.0h0M430.6 325.1h0M433.3 344.9h0M434.6 333.4h0M446.4 347.4h0" stroke="#33a514" stroke-opacity="0.5" stroke-width="1.9" stroke-linecap="round" fill="none"/>
<path d="M433.3 277.4h0M436.6 308.3h0M445.9 344.4h0M424.3 347.2h0M446.1 343.7h0M447.9 347.4h0M439.7 343.4h0M436.8 290.1h0M445.7 344.0h0M437.0 341.7h0M432.7 345.1h0M441.0 333.7h0M442.8 343.1h0M433.6 344.9h0M432.1 345.6h0M443.0 343.6h0M428.1 347.4h0M438.4 322.1h0M448.1 290.1h0M430.1 313.8h0M426.9 347.4h0M450.8 345.5h0M436.6 279.7h0M446.8 326.3h0M442.9 347.1h0M433.0 322.9h0M436.7 343.5h0M440.3 320.9h0M438.5 343.4h0M449.2 347.2h0M433.3 222.4h0M434.6 340.5h0M433.0 338.5h0M432.7 343.4h0M449.7 346.4h0M445.9 347.4h0M425.4 346.6h0M436.7 347.4h0M425.6 347.2h0M432.3 347.0h0M445.7 342.3h0M431.4 333.4h0M441.2 324.9h0M433.2 347.2h0M445.4 346.6h0M427.6 325.6h0M427.4 342.8h0M435.2 301.7h0M447.0 343.2h0M429.0 329.0h0M434.2 347.3h0M440.2 346.8h0M426.9 343.2h0M444.8 346.4h0M448.6 334.9h0M443.2 331.6h0M442.4 345.4h0M447.4 342.7h0M438.0 345.0h0M427.2 347.3h0M430.0 331.7h0M443.8 334.5h0M423.2 346.1h0M443.4 345.2h0M428.1 347.0h0M448.5 347.4h0M446.5 347.0h0M450.7 347.0h0M442.5 346.0h0" stroke="#33a514" stroke-opacity="0.5" stroke-width="1.9" stroke-linecap="round" fill="none"/>
<path d="M495.0 347.3h0M499.2 342.2h0M508.3 347.3h0M497.2 328.0h0M506.6 344.5h0M510.7 344.4h0M501.5 342.8h0M511.4 347.3h0M498.3 341.6h0M494.6 345.5h0M507.5 346.4h0M509.6 347.3h0M510.5 342.9h0M511.9 342.0h0M500.7 341.6h0M510.9 339.7h0M496.4 344.1h0M513.5 255.5h0M503.6 346.1h0M492.7 341.9h0M499.1 347.3h0M494.8 336.2h0M511.9 341.6h0M510.4 347.4h0M502.0 346.9h0M503.0 331.8h0M500.3 345.4h0M498.1 329.9h0M493.7 341.1h0M506.8 347.4h0M497.1 321.9h0M496.3 346.7h0M515.4 339.3h0M501.5 347.4h0M493.8 346.2h0M501.9 347.0h0M500.3 345.9h0M509.3 347.2h0M492.9 346.7h0M500.6 345.5h0M498.0 343.3h0M502.8 253.7h0M494.6 346.0h0M510.4 345.5h0" stroke="#d6133f" stroke-opacity="0.5" stroke-width="1.9" stroke-linecap="round" fill="none"/>
<path d="M506.0 346.9h0M494.4 338.1h0M503.9 342.1h0M495.0 345.4h0M500.9 341.9h0M494.2 346.2h0M501.7 332.6h0M491.0 347.1h0M503.6 343.5h0M490.9 345.3h0M493.6 333.8h0M493.9 338.3h0M499.4 347.1h0M512.7 343.8h0M512.0 344.4h0M506.9 342.1h0M514.5 346.0h0M505.2 327.3h0M511.6 344.5h0M498.2 345.6h0M494.4 335.2h0M501.4 343.7h0M510.0 343.0h0M502.6 256.3h0M492.5 346.9h0M509.7 346.1h0M497.6 341.3h0M502.8 316.2h0M498.6 347.2h0M501.4 307.6h0M510.0 327.1h0M496.0 341.3h0M501.4 347.3h0M510.3 340.9h0M512.6 345.9h0M503.3 324.5h0M503.9 343.1h0M506.1 333.5h0M497.1 328.3h0M515.4 250.3h0M511.5 343.7h0M503.0 258.9h0M504.9 338.5h0" stroke="#d6133f" stroke-opacity="0.5" stroke-width="1.9" stroke-linecap="round" fill="none"/>
<path d="M403.8 347.40H469.8" stroke="#33a514" stroke-width="1.5"/>
<path d="M422.8 346.50H450.8" stroke="#33a514" stroke-width="1.2" stroke-opacity="0.7"/>
<path d="M436.8 347.40V222.41" stroke="#33a514" stroke-width="1.3"/>
<path d="M436.8 347.40V321.36" stroke="#33a514" stroke-width="2.0" stroke-opacity="0.8"/>
<path d="M489.4 347.40L497.8 349.60L502.8 351.00L507.8 349.60L516.2 347.40C511.8 345.40 510.8 343.40 504.8 341.90L503.4 335.40M502.2 335.40L500.8 341.90C494.8 343.40 493.8 345.40 489.4 347.40" stroke="#d6133f" stroke-width="0.7" fill="none"/>
<path d="M489.4 347.40H516.2" stroke="#d6133f" stroke-width="1.3"/>
<path d="M502.8 347.40V246.36" stroke="#d6133f" stroke-width="1.1"/>
<rect x="495.6" y="342.90" width="14.4" height="4.50" fill="#fff" fill-opacity="0.55" stroke="#d6133f" stroke-width="0.8"/>
<path d="M495.6 346.20h14.4" stroke="#d6133f" stroke-width="1.1"/>
<rect x="397.3" y="214.8" width="146.30" height="142.30" fill="none" stroke="#7a7a7a" stroke-width="1.1"/>
<path d="M394.70 347.40H397.3M394.70 321.36H397.3M394.70 295.32H397.3M394.70 269.28H397.3M394.70 243.24H397.3M394.70 217.20H397.3M436.8 357.1V359.50M502.8 357.1V359.50" stroke="#333" stroke-width="0.8"/>
<text x="393.70" y="349.75" font-size="6.6" fill="#666" text-anchor="end">0</text>
<text x="393.70" y="323.71" font-size="6.6" fill="#666" text-anchor="end">1</text>
<text x="393.70" y="297.67" font-size="6.6" fill="#666" text-anchor="end">2</text>
<text x="393.70" y="271.63" font-size="6.6" fill="#666" text-anchor="end">3</text>
<text x="393.70" y="245.59" font-size="6.6" fill="#666" text-anchor="end">4</text>
<text x="393.70" y="219.55" font-size="6.6" fill="#666" text-anchor="end">5</text>
<text x="436.8" y="365.50" font-size="6.4" fill="#4d4d4d" text-anchor="middle">WT MUC16</text>
<text x="502.8" y="365.50" font-size="6.4" fill="#4d4d4d" text-anchor="middle">Mutated MUC16</text>
<text x="470.8" y="231.8" font-size="7.5" font-weight="bold" font-style="italic" fill="#000" text-anchor="middle">P=0.033</text>
</svg></body></html>
